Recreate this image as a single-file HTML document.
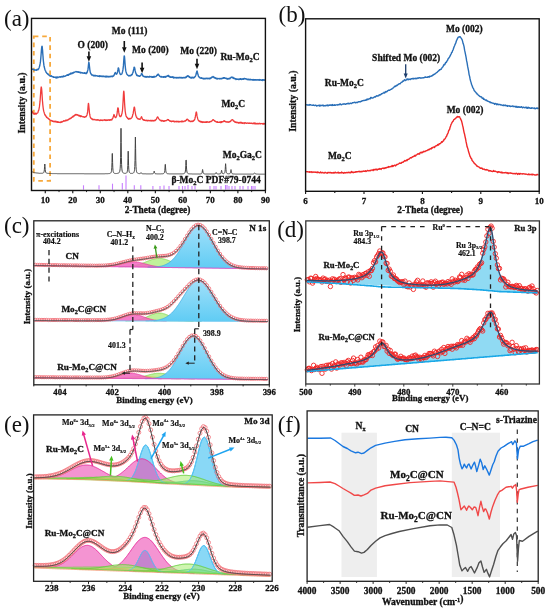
<!DOCTYPE html>
<html><head><meta charset="utf-8"><title>Figure</title>
<style>html,body{margin:0;padding:0;background:#fff;width:550px;height:613px;overflow:hidden}svg{display:block}text{font-family:"Liberation Serif",serif;font-weight:bold;stroke:#111;stroke-width:0.3px}</style>
</head><body>
<svg width="550" height="613" viewBox="0 0 550 613">
<defs><linearGradient id="gb" x1="0" y1="0" x2="0" y2="1"><stop offset="0" stop-color="#a2e0fa"/><stop offset="1" stop-color="#60ccf4"/></linearGradient>
<linearGradient id="gb2" x1="0" y1="0" x2="0" y2="1"><stop offset="0" stop-color="#a8e4fa"/><stop offset="1" stop-color="#62caf2"/></linearGradient></defs>
<rect width="550" height="613" fill="#fff"/>
<rect x="33.8" y="36.4" width="16.3" height="144.5" fill="none" stroke="#f7a93c" stroke-width="1.8" stroke-dasharray="4.6,3.8"/>
<path d="M32.0,171.7 32.2,171.8 32.4,171.9 32.6,172.0 32.8,172.1 33.0,172.1 33.2,172.2 33.4,172.3 33.6,172.4 33.8,172.5 34.0,172.6 34.2,172.6 34.4,172.6 34.6,172.7 34.8,172.7 35.0,172.7 35.2,172.7 35.4,172.8 35.6,172.8 35.8,172.8 36.0,172.8 36.2,172.9 36.4,172.9 36.6,172.9 36.8,173.0 37.0,173.0 37.2,173.0 37.4,173.0 37.6,173.1 37.8,173.1 38.0,173.1 38.2,173.1 38.4,173.2 38.6,173.2 38.8,173.2 39.0,173.2 39.2,173.3 39.4,173.3 39.6,173.3 39.8,173.3 40.0,173.3 40.2,173.3 40.4,173.3 40.6,173.3 40.8,173.3 41.0,173.3 41.2,173.3 41.4,173.3 41.6,173.3 41.8,173.3 42.0,173.3 42.2,173.3 42.4,173.2 42.6,173.2 42.8,173.2 43.0,173.1 43.2,173.0 43.4,172.9 43.6,172.7 43.8,172.4 44.0,171.9 44.2,171.0 44.4,169.3 44.6,166.3 44.8,164.0 45.0,166.3 45.2,169.4 45.4,171.1 45.6,172.0 45.8,172.4 46.0,172.7 46.2,172.9 46.4,173.1 46.6,173.2 46.8,173.2 47.0,173.3 47.2,173.3 47.4,173.3 47.6,173.4 47.8,173.4 48.0,173.4 48.2,173.4 48.4,173.4 48.6,173.4 48.8,173.5 49.0,173.5 49.2,173.5 49.4,173.5 49.6,173.5 49.8,173.5 50.0,173.5 50.2,173.5 50.4,173.5 50.6,173.5 50.8,173.5 51.0,173.5 51.2,173.5 51.4,173.5 51.6,173.5 51.8,173.6 52.0,173.6 52.2,173.6 52.4,173.6 52.6,173.6 52.8,173.6 53.0,173.6 53.2,173.6 53.4,173.6 53.6,173.6 53.8,173.6 54.0,173.6 54.2,173.6 54.4,173.6 54.6,173.6 54.8,173.6 55.0,173.6 55.2,173.6 55.4,173.6 55.6,173.6 55.8,173.6 56.0,173.6 56.2,173.6 56.4,173.6 56.6,173.6 56.8,173.6 57.0,173.6 57.2,173.6 57.4,173.7 57.6,173.7 57.8,173.7 58.0,173.7 58.2,173.7 58.4,173.7 58.6,173.7 58.8,173.7 59.0,173.7 59.2,173.7 59.4,173.7 59.6,173.7 59.8,173.7 60.0,173.7 60.2,173.7 60.4,173.7 60.6,173.7 60.8,173.7 61.0,173.7 61.2,173.7 61.4,173.7 61.6,173.7 61.8,173.7 62.0,173.7 62.2,173.7 62.4,173.7 62.6,173.7 62.8,173.7 63.0,173.7 63.2,173.7 63.4,173.7 63.6,173.7 63.8,173.7 64.0,173.7 64.2,173.7 64.4,173.7 64.6,173.7 64.8,173.7 65.0,173.7 65.2,173.7 65.4,173.7 65.6,173.7 65.8,173.7 66.0,173.7 66.2,173.7 66.4,173.7 66.6,173.7 66.8,173.7 67.0,173.7 67.2,173.7 67.4,173.7 67.6,173.7 67.8,173.7 68.0,173.7 68.2,173.7 68.4,173.7 68.6,173.7 68.8,173.7 69.0,173.7 69.2,173.7 69.4,173.7 69.6,173.7 69.8,173.7 70.0,173.7 70.2,173.7 70.4,173.7 70.6,173.7 70.8,173.7 71.0,173.7 71.2,173.7 71.4,173.7 71.6,173.7 71.8,173.7 72.0,173.7 72.2,173.7 72.4,173.7 72.6,173.7 72.8,173.7 73.0,173.7 73.2,173.7 73.4,173.7 73.6,173.7 73.8,173.7 74.0,173.7 74.2,173.7 74.4,173.7 74.6,173.7 74.8,173.7 75.0,173.7 75.2,173.7 75.4,173.7 75.6,173.7 75.8,173.7 76.0,173.7 76.2,173.7 76.4,173.7 76.6,173.7 76.8,173.7 77.0,173.7 77.2,173.7 77.4,173.7 77.6,173.7 77.8,173.7 78.0,173.7 78.2,173.7 78.4,173.7 78.6,173.7 78.8,173.7 79.0,173.7 79.2,173.7 79.4,173.7 79.6,173.7 79.8,173.7 80.0,173.7 80.2,173.7 80.4,173.7 80.6,173.7 80.8,173.7 81.0,173.7 81.2,173.7 81.4,173.7 81.6,173.7 81.8,173.7 82.0,173.7 82.2,173.7 82.4,173.7 82.6,173.7 82.8,173.7 83.0,173.7 83.2,173.7 83.4,173.7 83.6,173.7 83.8,173.7 84.0,173.7 84.2,173.7 84.4,173.8 84.6,173.8 84.8,173.8 85.0,173.8 85.2,173.8 85.4,173.8 85.6,173.8 85.8,173.8 86.0,173.8 86.2,173.8 86.4,173.8 86.6,173.8 86.8,173.8 87.0,173.8 87.2,173.8 87.4,173.8 87.6,173.8 87.8,173.8 88.0,173.8 88.2,173.8 88.4,173.8 88.6,173.8 88.8,173.8 89.0,173.8 89.2,173.8 89.4,173.8 89.6,173.8 89.8,173.8 90.0,173.8 90.2,173.8 90.4,173.8 90.6,173.8 90.8,173.8 91.0,173.8 91.2,173.8 91.4,173.8 91.6,173.8 91.8,173.8 92.0,173.8 92.2,173.8 92.4,173.8 92.6,173.8 92.8,173.8 93.0,173.8 93.2,173.8 93.4,173.8 93.6,173.8 93.8,173.8 94.0,173.8 94.2,173.8 94.4,173.8 94.6,173.8 94.8,173.8 95.0,173.8 95.2,173.8 95.4,173.8 95.6,173.8 95.8,173.8 96.0,173.8 96.2,173.8 96.4,173.8 96.6,173.8 96.8,173.8 97.0,173.8 97.2,173.8 97.4,173.8 97.6,173.8 97.8,173.8 98.0,173.8 98.2,173.8 98.4,173.8 98.6,173.8 98.8,173.8 99.0,173.8 99.2,173.8 99.4,173.8 99.6,173.8 99.8,173.8 100.0,173.8 100.2,173.8 100.4,173.8 100.6,173.8 100.8,173.8 101.0,173.8 101.2,173.8 101.4,173.8 101.6,173.8 101.8,173.8 102.0,173.8 102.2,173.8 102.4,173.8 102.6,173.8 102.8,173.8 103.0,173.8 103.2,173.8 103.4,173.8 103.6,173.8 103.8,173.8 104.0,173.8 104.2,173.8 104.4,173.8 104.6,173.8 104.8,173.7 105.0,173.7 105.2,173.7 105.4,173.7 105.6,173.7 105.8,173.7 106.0,173.7 106.2,173.7 106.4,173.7 106.6,173.7 106.8,173.7 107.0,173.7 107.2,173.7 107.4,173.7 107.6,173.7 107.8,173.7 108.0,173.7 108.2,173.7 108.4,173.6 108.6,173.6 108.8,173.6 109.0,173.6 109.2,173.6 109.4,173.5 109.6,173.5 109.8,173.5 110.0,173.4 110.2,173.3 110.4,173.2 110.6,173.1 110.8,172.9 111.0,172.6 111.2,172.2 111.4,171.5 111.6,170.3 111.8,167.8 112.0,162.5 112.2,153.5 112.4,153.5 112.6,162.5 112.8,167.8 113.0,170.3 113.2,171.5 113.4,172.2 113.6,172.6 113.8,172.9 114.0,173.0 114.2,173.2 114.4,173.3 114.6,173.3 114.8,173.4 115.0,173.4 115.2,173.5 115.4,173.5 115.6,173.5 115.8,173.5 116.0,173.5 116.2,173.5 116.4,173.5 116.6,173.5 116.8,173.5 117.0,173.5 117.2,173.4 117.4,173.4 117.6,173.4 117.8,173.3 118.0,173.3 118.2,173.2 118.4,173.2 118.6,173.1 118.8,172.9 119.0,172.8 119.2,172.5 119.4,172.2 119.6,171.8 119.8,171.1 120.0,170.0 120.2,168.2 120.4,164.7 120.6,157.4 120.8,142.3 121.0,128.3 121.2,142.3 121.4,157.4 121.6,164.7 121.8,168.1 122.0,170.0 122.2,171.1 122.4,171.8 122.6,172.2 122.8,172.5 123.0,172.7 123.2,172.9 123.4,173.0 123.6,173.1 123.8,173.2 124.0,173.2 124.2,173.3 124.4,173.3 124.6,173.3 124.8,173.4 125.0,173.4 125.2,173.4 125.4,173.3 125.6,173.3 125.8,173.3 126.0,173.2 126.2,173.2 126.4,173.1 126.6,172.9 126.8,172.7 127.0,172.4 127.2,171.8 127.4,170.9 127.6,169.2 127.8,165.6 128.0,158.1 128.2,151.2 128.4,158.1 128.6,165.6 128.8,169.2 129.0,170.9 129.2,171.9 129.4,172.4 129.6,172.7 129.8,172.9 130.0,173.1 130.2,173.2 130.4,173.3 130.6,173.3 130.8,173.4 131.0,173.4 131.2,173.4 131.4,173.4 131.6,173.4 131.8,173.4 132.0,173.4 132.2,173.4 132.4,173.4 132.6,173.3 132.8,173.3 133.0,173.2 133.2,173.1 133.4,173.0 133.6,172.8 133.8,172.5 134.0,172.2 134.2,171.6 134.4,170.8 134.6,169.3 134.8,166.4 135.0,160.6 135.2,148.3 135.4,137.0 135.6,148.3 135.8,160.6 136.0,166.5 136.2,169.3 136.4,170.8 136.6,171.7 136.8,172.2 137.0,172.6 137.2,172.8 137.4,173.0 137.6,173.2 137.8,173.3 138.0,173.3 138.2,173.4 138.4,173.5 138.6,173.5 138.8,173.5 139.0,173.6 139.2,173.6 139.4,173.6 139.6,173.6 139.8,173.6 140.0,173.5 140.2,173.5 140.4,173.4 140.6,173.1 140.8,172.8 141.0,172.6 141.2,172.8 141.4,173.2 141.6,173.4 141.8,173.5 142.0,173.6 142.2,173.7 142.4,173.7 142.6,173.7 142.8,173.8 143.0,173.8 143.2,173.8 143.4,173.8 143.6,173.8 143.8,173.8 144.0,173.8 144.2,173.8 144.4,173.8 144.6,173.8 144.8,173.8 145.0,173.8 145.2,173.8 145.4,173.8 145.6,173.8 145.8,173.8 146.0,173.8 146.2,173.8 146.4,173.9 146.6,173.9 146.8,173.9 147.0,173.9 147.2,173.9 147.4,173.9 147.6,173.9 147.8,173.9 148.0,173.9 148.2,173.9 148.4,173.9 148.6,173.9 148.8,173.9 149.0,173.9 149.2,173.9 149.4,173.9 149.6,173.9 149.8,173.9 150.0,173.9 150.2,173.9 150.4,173.9 150.6,173.9 150.8,173.9 151.0,173.9 151.2,173.9 151.4,173.8 151.6,173.8 151.8,173.8 152.0,173.8 152.2,173.8 152.4,173.8 152.6,173.8 152.8,173.7 153.0,173.7 153.2,173.6 153.4,173.4 153.6,173.2 153.8,172.7 154.0,171.8 154.2,171.1 154.4,171.8 154.6,172.7 154.8,173.2 155.0,173.5 155.2,173.6 155.4,173.7 155.6,173.7 155.8,173.8 156.0,173.8 156.2,173.8 156.4,173.8 156.6,173.8 156.8,173.9 157.0,173.9 157.2,173.9 157.4,173.9 157.6,173.9 157.8,173.9 158.0,173.9 158.2,173.9 158.4,173.9 158.6,173.9 158.8,173.9 159.0,173.9 159.2,173.9 159.4,173.9 159.6,173.9 159.8,173.9 160.0,173.9 160.2,173.9 160.4,173.9 160.6,173.9 160.8,173.9 161.0,173.9 161.2,173.9 161.4,173.8 161.6,173.8 161.8,173.8 162.0,173.8 162.2,173.8 162.4,173.8 162.6,173.8 162.8,173.7 163.0,173.7 163.2,173.7 163.4,173.6 163.6,173.5 163.8,173.4 164.0,173.2 164.2,173.0 164.4,172.6 164.6,171.9 164.8,170.6 165.0,168.0 165.2,164.4 165.4,164.4 165.6,168.0 165.8,170.6 166.0,171.9 166.2,172.6 166.4,173.0 166.6,173.2 166.8,173.4 167.0,173.5 167.2,173.6 167.4,173.7 167.6,173.7 167.8,173.7 168.0,173.8 168.2,173.8 168.4,173.8 168.6,173.8 168.8,173.8 169.0,173.9 169.2,173.9 169.4,173.9 169.6,173.9 169.8,173.9 170.0,173.9 170.2,173.9 170.4,173.9 170.6,173.9 170.8,173.9 171.0,173.9 171.2,173.9 171.4,173.9 171.6,173.9 171.8,173.9 172.0,173.9 172.2,173.9 172.4,173.9 172.6,173.9 172.8,173.9 173.0,173.9 173.2,173.9 173.4,173.9 173.6,173.9 173.8,173.9 174.0,173.9 174.2,173.9 174.4,173.9 174.6,173.9 174.8,173.9 175.0,173.9 175.2,173.9 175.4,173.9 175.6,173.9 175.8,173.9 176.0,173.9 176.2,173.9 176.4,173.9 176.6,173.9 176.8,173.9 177.0,173.9 177.2,173.9 177.4,173.9 177.6,173.9 177.8,173.9 178.0,173.9 178.2,173.9 178.4,173.9 178.6,173.9 178.8,173.9 179.0,173.9 179.2,173.9 179.4,173.9 179.6,173.9 179.8,173.9 180.0,173.9 180.2,173.9 180.4,173.9 180.6,173.9 180.8,173.9 181.0,173.9 181.2,173.9 181.4,173.9 181.6,173.9 181.8,173.9 182.0,173.9 182.2,173.9 182.4,173.9 182.6,173.8 182.8,173.8 183.0,173.8 183.2,173.8 183.4,173.7 183.6,173.7 183.8,173.7 184.0,173.6 184.2,173.5 184.4,173.4 184.6,173.2 184.8,173.0 185.0,172.6 185.2,172.0 185.4,171.0 185.6,169.1 185.8,165.3 186.0,160.1 186.2,160.1 186.4,165.4 186.6,169.1 186.8,171.0 187.0,172.0 187.2,172.6 187.4,173.0 187.6,173.2 187.8,173.4 188.0,173.5 188.2,173.6 188.4,173.7 188.6,173.7 188.8,173.8 189.0,173.8 189.2,173.8 189.4,173.8 189.6,173.9 189.8,173.9 190.0,173.9 190.2,173.9 190.4,173.9 190.6,173.9 190.8,173.9 191.0,173.9 191.2,173.9 191.4,173.9 191.6,173.9 191.8,174.0 192.0,174.0 192.2,174.0 192.4,174.0 192.6,174.0 192.8,174.0 193.0,174.0 193.2,174.0 193.4,174.0 193.6,174.0 193.8,174.0 194.0,174.0 194.2,174.0 194.4,174.0 194.6,174.0 194.8,174.0 195.0,174.0 195.2,174.0 195.4,174.0 195.6,174.0 195.8,174.0 196.0,174.0 196.2,174.0 196.4,174.0 196.6,174.0 196.8,174.0 197.0,174.0 197.2,174.0 197.4,174.0 197.6,174.0 197.8,174.0 198.0,174.0 198.2,174.0 198.4,174.0 198.6,174.0 198.8,174.0 199.0,174.0 199.2,174.0 199.4,174.0 199.6,174.0 199.8,174.0 200.0,173.9 200.2,173.9 200.4,173.9 200.6,173.9 200.8,173.9 201.0,173.8 201.2,173.8 201.4,173.7 201.6,173.5 201.8,173.3 202.0,172.9 202.2,172.1 202.4,170.6 202.6,169.5 202.8,170.6 203.0,172.1 203.2,172.9 203.4,173.3 203.6,173.5 203.8,173.7 204.0,173.8 204.2,173.8 204.4,173.9 204.6,173.9 204.8,173.9 205.0,173.9 205.2,174.0 205.4,174.0 205.6,174.0 205.8,174.0 206.0,174.0 206.2,174.0 206.4,174.0 206.6,174.0 206.8,174.0 207.0,174.0 207.2,174.0 207.4,174.0 207.6,174.0 207.8,174.0 208.0,174.0 208.2,174.0 208.4,174.0 208.6,174.0 208.8,174.0 209.0,174.0 209.2,174.0 209.4,174.0 209.6,174.0 209.8,174.0 210.0,174.0 210.2,174.0 210.4,174.0 210.6,174.0 210.8,174.0 211.0,174.0 211.2,174.0 211.4,174.0 211.6,174.0 211.8,174.0 212.0,174.0 212.2,174.0 212.4,174.0 212.6,174.0 212.8,174.0 213.0,174.0 213.2,174.0 213.4,174.0 213.6,174.0 213.8,174.0 214.0,174.0 214.2,174.0 214.4,174.0 214.6,173.9 214.8,173.9 215.0,173.9 215.2,173.8 215.4,173.7 215.6,173.5 215.8,173.1 216.0,172.6 216.2,172.6 216.4,173.1 216.6,173.5 216.8,173.7 217.0,173.8 217.2,173.9 217.4,173.9 217.6,173.9 217.8,173.9 218.0,174.0 218.2,174.0 218.4,174.0 218.6,174.0 218.8,174.0 219.0,174.0 219.2,173.9 219.4,173.9 219.6,173.9 219.8,173.9 220.0,173.9 220.2,173.8 220.4,173.7 220.6,173.6 220.8,173.4 221.0,173.1 221.2,172.4 221.4,171.2 221.6,170.3 221.8,171.2 222.0,172.4 222.2,173.0 222.4,173.4 222.6,173.5 222.8,173.6 223.0,173.7 223.2,173.7 223.4,173.7 223.6,173.7 223.8,173.6 224.0,173.5 224.2,173.4 224.4,173.2 224.6,172.9 224.8,172.4 225.0,171.4 225.2,169.6 225.4,166.3 225.6,163.7 225.8,166.3 226.0,169.6 226.2,171.4 226.4,172.4 226.6,172.9 226.8,173.2 227.0,173.4 227.2,173.6 227.4,173.7 227.6,173.7 227.8,173.8 228.0,173.8 228.2,173.8 228.4,173.8 228.6,173.8 228.8,173.8 229.0,173.8 229.2,173.8 229.4,173.7 229.6,173.7 229.8,173.6 230.0,173.4 230.2,173.1 230.4,172.7 230.6,171.8 230.8,170.5 231.0,169.6 231.2,170.5 231.4,171.8 231.6,172.7 231.8,173.2 232.0,173.5 232.2,173.6 232.4,173.7 232.6,173.8 232.8,173.9 233.0,173.9 233.2,173.9 233.4,174.0 233.6,174.0 233.8,174.0 234.0,174.0 234.2,174.0 234.4,174.0 234.6,174.0 234.8,174.1 235.0,174.1 235.2,174.1 235.4,174.1 235.6,174.1 235.8,174.1 236.0,174.1 236.2,174.1 236.4,174.1 236.6,174.1 236.8,174.1 237.0,174.1 237.2,174.1 237.4,174.1 237.6,174.1 237.8,174.1 238.0,174.1 238.2,174.1 238.4,174.1 238.6,174.1 238.8,174.1 239.0,174.1 239.2,174.1 239.4,174.1 239.6,174.1 239.8,174.1 240.0,174.1 240.2,174.1 240.4,174.1 240.6,174.1 240.8,174.1 241.0,174.1 241.2,174.1 241.4,174.1 241.6,174.1 241.8,174.1 242.0,174.1 242.2,174.1 242.4,174.1 242.6,174.1 242.8,174.1 243.0,174.1 243.2,174.1 243.4,174.1 243.6,174.1 243.8,174.1 244.0,174.1 244.2,174.1 244.4,174.1 244.6,174.1 244.8,174.1 245.0,174.1 245.2,174.1 245.4,174.1 245.6,174.1 245.8,174.1 246.0,174.1 246.2,174.1 246.4,174.1 246.6,174.1 246.8,174.1 247.0,174.1 247.2,174.1 247.4,174.1 247.6,174.1 247.8,174.1 248.0,174.1 248.2,174.1 248.4,174.1 248.6,174.1 248.8,174.1 249.0,174.1 249.2,174.1 249.4,174.1 249.6,174.1 249.8,174.1 250.0,174.1 250.2,174.1 250.4,174.1 250.6,174.1 250.8,174.1 251.0,174.1 251.2,174.1 251.4,174.1 251.6,174.1 251.8,174.1 252.0,174.1 252.2,174.1 252.4,174.1 252.6,174.1 252.8,174.1 253.0,174.0 253.2,174.0 253.4,174.0 253.6,173.9 253.8,173.8 254.0,173.7 254.2,173.5 254.4,173.2 254.6,173.0 254.8,173.0 255.0,173.2 255.2,173.5 255.4,173.7 255.6,173.8 255.8,173.9 256.0,174.0 256.2,174.0 256.4,174.0 256.6,174.1 256.8,174.1 257.0,174.1 257.2,174.1 257.4,174.1 257.6,174.1 257.8,174.1 258.0,174.1 258.2,174.1 258.4,174.1 258.6,174.2 258.8,174.2 259.0,174.2 259.2,174.2 259.4,174.2 259.6,174.2 259.8,174.2 260.0,174.2 260.2,174.2 260.4,174.2 260.6,174.2 260.8,174.2 261.0,174.2 261.2,174.2 261.4,174.2 261.6,174.2 261.8,174.2 262.0,174.2 262.2,174.2 262.4,174.2 262.6,174.2 262.8,174.2 263.0,174.2 263.2,174.2 263.4,174.2 263.6,174.2 263.8,174.2 264.0,174.2 264.2,174.2 264.4,174.2 264.6,174.2 264.8,174.2" fill="none" stroke="#444" stroke-width="1.0" stroke-linejoin="round" opacity="1"/>
<path d="M32.0,111.2 32.2,111.2 32.4,112.0 32.6,112.4 32.8,112.7 33.0,112.9 33.2,113.6 33.4,113.1 33.6,113.4 33.8,113.7 34.0,113.8 34.2,113.4 34.4,113.7 34.6,113.6 34.8,114.0 35.0,114.3 35.2,113.4 35.4,114.0 35.6,113.2 35.8,113.8 36.0,113.6 36.2,114.1 36.4,113.7 36.6,113.4 36.8,113.3 37.0,113.1 37.2,113.1 37.4,112.8 37.6,112.8 37.8,112.7 38.0,112.2 38.2,111.4 38.4,110.8 38.6,110.4 38.8,110.1 39.0,109.0 39.2,107.9 39.4,106.9 39.6,105.1 39.8,103.4 40.0,101.7 40.2,99.1 40.4,96.3 40.6,93.6 40.8,90.6 41.0,88.3 41.2,87.0 41.4,87.3 41.6,88.6 41.8,90.7 42.0,93.8 42.2,97.1 42.4,100.2 42.6,102.1 42.8,104.6 43.0,106.3 43.2,108.1 43.4,109.3 43.6,110.6 43.8,111.4 44.0,112.0 44.2,112.6 44.4,113.4 44.6,113.9 44.8,114.8 45.0,115.0 45.2,114.8 45.4,115.5 45.6,115.5 45.8,115.7 46.0,116.5 46.2,116.7 46.4,116.6 46.6,117.4 46.8,117.1 47.0,117.3 47.2,117.8 47.4,117.9 47.6,118.0 47.8,118.2 48.0,118.4 48.2,118.5 48.4,118.7 48.6,118.5 48.8,118.7 49.0,119.3 49.2,119.1 49.4,119.5 49.6,119.8 49.8,119.6 50.0,119.9 50.2,120.4 50.4,120.2 50.6,120.6 50.8,120.6 51.0,120.6 51.2,120.5 51.4,120.5 51.6,120.6 51.8,121.0 52.0,121.1 52.2,121.0 52.4,121.3 52.6,121.0 52.8,121.4 53.0,121.2 53.2,121.3 53.4,121.3 53.6,121.3 53.8,121.9 54.0,121.1 54.2,121.5 54.4,121.7 54.6,121.7 54.8,121.5 55.0,121.9 55.2,121.4 55.4,121.4 55.6,121.8 55.8,121.4 56.0,121.3 56.2,122.0 56.4,122.0 56.6,122.0 56.8,121.8 57.0,121.9 57.2,121.7 57.4,122.3 57.6,122.1 57.8,122.2 58.0,121.7 58.2,122.2 58.4,122.4 58.6,122.4 58.8,122.3 59.0,122.2 59.2,122.1 59.4,122.4 59.6,122.3 59.8,122.3 60.0,122.3 60.2,122.6 60.4,122.0 60.6,122.1 60.8,122.0 61.0,122.2 61.2,122.3 61.4,122.2 61.6,122.0 61.8,121.5 62.0,122.1 62.2,121.8 62.4,121.6 62.6,121.5 62.8,121.4 63.0,121.5 63.2,121.4 63.4,121.2 63.6,120.7 63.8,121.2 64.0,121.2 64.2,121.2 64.4,121.0 64.6,121.0 64.8,121.1 65.0,120.7 65.2,121.0 65.4,120.3 65.6,120.4 65.8,120.4 66.0,120.0 66.2,120.2 66.4,120.6 66.6,120.6 66.8,120.3 67.0,120.5 67.2,120.2 67.4,120.0 67.6,120.1 67.8,119.9 68.0,120.0 68.2,119.5 68.4,119.8 68.6,119.4 68.8,119.5 69.0,118.9 69.2,119.0 69.4,119.0 69.6,119.0 69.8,118.5 70.0,118.9 70.2,118.5 70.4,118.2 70.6,118.4 70.8,118.1 71.0,118.1 71.2,118.2 71.4,117.8 71.6,117.4 71.8,117.3 72.0,117.4 72.2,117.2 72.4,116.8 72.6,116.7 72.8,116.8 73.0,117.0 73.2,115.9 73.4,116.4 73.6,116.1 73.8,116.2 74.0,116.1 74.2,115.8 74.4,115.4 74.6,115.2 74.8,115.0 75.0,115.5 75.2,115.1 75.4,114.9 75.6,114.8 75.8,114.4 76.0,114.6 76.2,114.9 76.4,114.9 76.6,114.5 76.8,115.1 77.0,114.8 77.2,114.6 77.4,114.8 77.6,114.9 77.8,115.2 78.0,115.0 78.2,115.0 78.4,115.3 78.6,115.8 78.8,115.4 79.0,115.7 79.2,115.7 79.4,116.2 79.6,115.4 79.8,116.1 80.0,115.6 80.2,115.8 80.4,116.0 80.6,116.7 80.8,116.0 81.0,115.8 81.2,116.5 81.4,116.2 81.6,116.3 81.8,116.4 82.0,116.5 82.2,116.5 82.4,116.7 82.6,116.7 82.8,116.9 83.0,116.7 83.2,116.7 83.4,116.6 83.6,117.0 83.8,116.9 84.0,117.1 84.2,117.1 84.4,117.3 84.6,117.0 84.8,117.1 85.0,116.7 85.2,116.7 85.4,116.8 85.6,116.6 85.8,116.9 86.0,116.3 86.2,116.5 86.4,115.7 86.6,115.7 86.8,115.4 87.0,114.9 87.2,113.8 87.4,113.1 87.6,111.9 87.8,110.0 88.0,107.4 88.2,105.0 88.4,103.3 88.6,103.7 88.8,105.6 89.0,107.7 89.2,109.9 89.4,112.3 89.6,114.0 89.8,114.4 90.0,115.9 90.2,117.0 90.4,117.3 90.6,117.6 90.8,118.0 91.0,118.4 91.2,118.2 91.4,118.5 91.6,118.9 91.8,118.9 92.0,119.2 92.2,118.8 92.4,119.5 92.6,119.5 92.8,119.4 93.0,119.5 93.2,119.8 93.4,119.3 93.6,119.4 93.8,119.4 94.0,119.6 94.2,119.5 94.4,119.7 94.6,119.6 94.8,119.5 95.0,119.5 95.2,120.0 95.4,119.8 95.6,119.8 95.8,119.9 96.0,119.9 96.2,120.0 96.4,120.0 96.6,119.8 96.8,119.8 97.0,119.7 97.2,119.7 97.4,120.2 97.6,119.8 97.8,119.6 98.0,119.8 98.2,119.9 98.4,120.1 98.6,119.9 98.8,120.1 99.0,120.1 99.2,120.3 99.4,120.5 99.6,120.6 99.8,120.4 100.0,119.9 100.2,120.0 100.4,120.2 100.6,120.5 100.8,120.2 101.0,120.4 101.2,120.1 101.4,120.2 101.6,120.3 101.8,120.0 102.0,120.3 102.2,120.3 102.4,120.1 102.6,120.3 102.8,120.5 103.0,120.2 103.2,120.1 103.4,120.1 103.6,120.0 103.8,120.2 104.0,120.1 104.2,120.1 104.4,120.0 104.6,119.8 104.8,120.0 105.0,120.2 105.2,119.9 105.4,120.0 105.6,120.5 105.8,120.4 106.0,120.0 106.2,120.3 106.4,120.0 106.6,120.5 106.8,120.0 107.0,120.1 107.2,120.4 107.4,120.0 107.6,120.4 107.8,119.9 108.0,120.1 108.2,120.0 108.4,120.1 108.6,120.1 108.8,120.0 109.0,119.8 109.2,120.2 109.4,120.2 109.6,120.3 109.8,120.2 110.0,119.7 110.2,120.2 110.4,120.1 110.6,119.7 110.8,120.0 111.0,120.0 111.2,119.6 111.4,119.3 111.6,119.4 111.8,120.0 112.0,119.3 112.2,118.9 112.4,118.9 112.6,118.5 112.8,118.2 113.0,117.9 113.2,116.8 113.4,116.6 113.6,116.0 113.8,114.9 114.0,114.5 114.2,115.0 114.4,115.2 114.6,115.9 114.8,116.4 115.0,117.1 115.2,117.5 115.4,117.5 115.6,117.7 115.8,117.6 116.0,117.4 116.2,116.8 116.4,116.5 116.6,116.2 116.8,115.0 117.0,114.1 117.2,112.7 117.4,111.2 117.6,109.3 117.8,107.8 118.0,108.0 118.2,108.2 118.4,109.2 118.6,111.0 118.8,112.7 119.0,113.7 119.2,114.9 119.4,115.3 119.6,115.9 119.8,116.3 120.0,116.5 120.2,116.2 120.4,116.7 120.6,116.7 120.8,116.6 121.0,116.1 121.2,116.1 121.4,115.6 121.6,114.7 121.8,113.9 122.0,113.5 122.2,112.0 122.4,110.9 122.6,109.1 122.8,106.0 123.0,102.8 123.2,99.2 123.4,95.4 123.6,92.0 123.8,91.2 124.0,92.4 124.2,95.5 124.4,99.2 124.6,103.2 124.8,106.4 125.0,108.6 125.2,111.3 125.4,112.4 125.6,113.8 125.8,114.6 126.0,115.5 126.2,116.3 126.4,116.4 126.6,116.7 126.8,117.3 127.0,117.4 127.2,117.7 127.4,118.0 127.6,118.2 127.8,118.6 128.0,118.3 128.2,118.6 128.4,118.5 128.6,119.0 128.8,119.3 129.0,118.9 129.2,119.1 129.4,118.7 129.6,118.5 129.8,118.5 130.0,118.5 130.2,118.5 130.4,118.6 130.6,118.8 130.8,118.6 131.0,118.5 131.2,118.1 131.4,117.9 131.6,117.8 131.8,117.6 132.0,117.3 132.2,116.9 132.4,116.3 132.6,115.3 132.8,114.8 133.0,113.9 133.2,113.4 133.4,111.7 133.6,110.5 133.8,109.3 134.0,108.0 134.2,107.1 134.4,107.2 134.6,107.7 134.8,109.1 135.0,110.7 135.2,112.0 135.4,113.3 135.6,114.3 135.8,115.5 136.0,115.7 136.2,116.5 136.4,117.1 136.6,117.6 136.8,117.2 137.0,117.9 137.2,118.2 137.4,118.2 137.6,118.8 137.8,118.8 138.0,118.8 138.2,118.6 138.4,118.8 138.6,118.9 138.8,119.2 139.0,118.9 139.2,118.8 139.4,118.9 139.6,119.0 139.8,119.4 140.0,119.5 140.2,118.8 140.4,118.9 140.6,118.7 140.8,118.3 141.0,117.7 141.2,117.1 141.4,117.0 141.6,116.7 141.8,117.5 142.0,118.0 142.2,117.9 142.4,118.7 142.6,119.1 142.8,119.5 143.0,119.7 143.2,119.8 143.4,119.6 143.6,119.8 143.8,120.2 144.0,119.9 144.2,120.1 144.4,120.4 144.6,120.2 144.8,119.9 145.0,120.2 145.2,120.4 145.4,120.3 145.6,120.6 145.8,120.6 146.0,120.3 146.2,120.3 146.4,120.4 146.6,120.2 146.8,120.6 147.0,120.5 147.2,120.7 147.4,120.4 147.6,120.4 147.8,120.9 148.0,120.4 148.2,120.5 148.4,120.5 148.6,120.6 148.8,120.4 149.0,120.6 149.2,120.5 149.4,120.6 149.6,120.7 149.8,120.8 150.0,120.8 150.2,120.5 150.4,120.8 150.6,120.7 150.8,120.7 151.0,120.3 151.2,120.8 151.4,120.7 151.6,121.0 151.8,120.8 152.0,120.4 152.2,120.4 152.4,120.9 152.6,120.5 152.8,120.8 153.0,120.5 153.2,121.0 153.4,120.6 153.6,120.8 153.8,120.8 154.0,120.4 154.2,120.4 154.4,120.7 154.6,120.3 154.8,120.1 155.0,120.4 155.2,120.6 155.4,119.9 155.6,120.1 155.8,119.6 156.0,119.7 156.2,119.1 156.4,119.2 156.6,118.7 156.8,118.2 157.0,117.9 157.2,117.4 157.4,117.0 157.6,116.9 157.8,117.1 158.0,117.1 158.2,117.6 158.4,118.0 158.6,118.4 158.8,118.5 159.0,119.0 159.2,119.3 159.4,119.8 159.6,119.6 159.8,119.8 160.0,120.0 160.2,120.2 160.4,120.1 160.6,120.3 160.8,120.7 161.0,120.4 161.2,120.8 161.4,121.1 161.6,121.0 161.8,120.4 162.0,120.9 162.2,120.9 162.4,120.9 162.6,120.5 162.8,121.0 163.0,120.7 163.2,121.2 163.4,121.1 163.6,121.4 163.8,120.8 164.0,120.6 164.2,121.1 164.4,121.1 164.6,120.8 164.8,121.2 165.0,121.0 165.2,120.6 165.4,120.7 165.6,120.7 165.8,120.7 166.0,120.7 166.2,120.5 166.4,120.5 166.6,120.5 166.8,120.3 167.0,120.1 167.2,120.0 167.4,119.9 167.6,119.5 167.8,119.9 168.0,119.6 168.2,119.9 168.4,119.7 168.6,120.3 168.8,120.3 169.0,120.1 169.2,120.6 169.4,120.5 169.6,121.1 169.8,120.9 170.0,120.7 170.2,121.0 170.4,121.0 170.6,121.3 170.8,121.2 171.0,121.3 171.2,121.0 171.4,121.4 171.6,121.7 171.8,121.4 172.0,121.3 172.2,121.4 172.4,121.1 172.6,121.4 172.8,121.2 173.0,121.4 173.2,121.3 173.4,121.2 173.6,121.5 173.8,121.1 174.0,121.4 174.2,121.2 174.4,121.8 174.6,121.9 174.8,121.7 175.0,121.9 175.2,121.6 175.4,121.6 175.6,121.4 175.8,121.3 176.0,121.6 176.2,121.4 176.4,121.5 176.6,121.7 176.8,121.5 177.0,121.2 177.2,121.5 177.4,121.4 177.6,121.5 177.8,121.4 178.0,121.8 178.2,122.0 178.4,121.4 178.6,121.7 178.8,121.7 179.0,121.4 179.2,121.6 179.4,121.9 179.6,121.8 179.8,121.9 180.0,121.4 180.2,121.4 180.4,121.7 180.6,121.7 180.8,121.6 181.0,121.5 181.2,121.5 181.4,121.5 181.6,121.7 181.8,121.0 182.0,121.9 182.2,121.4 182.4,121.2 182.6,121.6 182.8,121.2 183.0,121.6 183.2,121.4 183.4,121.6 183.6,121.6 183.8,121.6 184.0,121.2 184.2,121.2 184.4,121.2 184.6,120.9 184.8,121.2 185.0,121.1 185.2,120.7 185.4,121.1 185.6,121.0 185.8,120.3 186.0,120.5 186.2,120.4 186.4,120.1 186.6,119.5 186.8,119.3 187.0,119.4 187.2,119.2 187.4,119.3 187.6,119.4 187.8,119.7 188.0,119.6 188.2,119.9 188.4,120.8 188.6,120.3 188.8,120.7 189.0,120.7 189.2,120.9 189.4,120.7 189.6,121.1 189.8,121.1 190.0,121.3 190.2,121.6 190.4,121.3 190.6,121.4 190.8,121.1 191.0,121.3 191.2,121.6 191.4,121.3 191.6,121.2 191.8,121.3 192.0,121.2 192.2,121.2 192.4,121.1 192.6,121.6 192.8,120.9 193.0,121.0 193.2,120.8 193.4,121.1 193.6,120.7 193.8,120.8 194.0,120.4 194.2,120.1 194.4,119.5 194.6,119.7 194.8,119.0 195.0,118.4 195.2,117.5 195.4,116.4 195.6,115.1 195.8,114.2 196.0,112.9 196.2,112.1 196.4,112.0 196.6,112.9 196.8,114.1 197.0,115.7 197.2,116.7 197.4,117.4 197.6,118.2 197.8,119.0 198.0,119.4 198.2,120.0 198.4,120.3 198.6,120.7 198.8,120.8 199.0,120.9 199.2,121.2 199.4,121.0 199.6,121.3 199.8,121.6 200.0,121.5 200.2,121.3 200.4,121.4 200.6,121.3 200.8,122.1 201.0,121.4 201.2,121.8 201.4,122.2 201.6,122.1 201.8,122.1 202.0,121.8 202.2,122.1 202.4,122.5 202.6,121.9 202.8,122.1 203.0,121.9 203.2,122.0 203.4,122.1 203.6,122.3 203.8,121.9 204.0,121.8 204.2,122.1 204.4,122.1 204.6,122.4 204.8,122.2 205.0,122.0 205.2,122.2 205.4,122.3 205.6,122.2 205.8,122.0 206.0,122.2 206.2,122.0 206.4,121.7 206.6,122.4 206.8,121.8 207.0,122.0 207.2,122.0 207.4,122.0 207.6,122.0 207.8,121.8 208.0,122.2 208.2,122.1 208.4,122.1 208.6,122.2 208.8,122.2 209.0,122.3 209.2,122.3 209.4,122.0 209.6,121.6 209.8,121.9 210.0,121.8 210.2,121.8 210.4,121.6 210.6,121.5 210.8,121.7 211.0,121.7 211.2,121.1 211.4,121.3 211.6,121.1 211.8,120.9 212.0,120.9 212.2,120.6 212.4,120.3 212.6,120.3 212.8,119.7 213.0,119.9 213.2,119.9 213.4,119.7 213.6,120.1 213.8,120.2 214.0,120.2 214.2,120.4 214.4,120.8 214.6,121.0 214.8,120.8 215.0,121.2 215.2,121.5 215.4,121.4 215.6,121.4 215.8,121.5 216.0,121.6 216.2,121.6 216.4,122.2 216.6,121.8 216.8,122.0 217.0,122.0 217.2,122.2 217.4,122.0 217.6,121.8 217.8,122.4 218.0,122.1 218.2,122.2 218.4,122.2 218.6,122.4 218.8,122.4 219.0,122.4 219.2,122.4 219.4,122.2 219.6,122.3 219.8,122.1 220.0,121.8 220.2,122.2 220.4,122.0 220.6,122.7 220.8,122.5 221.0,122.4 221.2,122.0 221.4,122.5 221.6,121.7 221.8,121.8 222.0,121.8 222.2,121.7 222.4,121.8 222.6,121.7 222.8,122.0 223.0,121.7 223.2,121.6 223.4,121.3 223.6,121.1 223.8,120.9 224.0,120.7 224.2,120.9 224.4,121.0 224.6,121.4 224.8,121.0 225.0,121.2 225.2,121.6 225.4,121.5 225.6,121.8 225.8,121.8 226.0,121.8 226.2,121.7 226.4,122.0 226.6,121.9 226.8,122.0 227.0,122.0 227.2,122.1 227.4,122.1 227.6,121.8 227.8,122.1 228.0,122.2 228.2,122.3 228.4,122.2 228.6,122.1 228.8,121.7 229.0,121.8 229.2,122.0 229.4,121.6 229.6,121.9 229.8,121.9 230.0,121.3 230.2,121.4 230.4,121.2 230.6,121.5 230.8,121.0 231.0,120.6 231.2,120.5 231.4,120.1 231.6,120.0 231.8,119.9 232.0,119.8 232.2,119.8 232.4,119.6 232.6,119.6 232.8,120.0 233.0,120.1 233.2,120.4 233.4,121.2 233.6,121.2 233.8,121.1 234.0,121.0 234.2,121.2 234.4,121.7 234.6,122.0 234.8,121.8 235.0,122.0 235.2,122.1 235.4,122.4 235.6,121.8 235.8,122.3 236.0,122.4 236.2,122.6 236.4,122.5 236.6,122.2 236.8,122.4 237.0,122.2 237.2,122.6 237.4,122.6 237.6,122.7 237.8,122.4 238.0,122.4 238.2,123.0 238.4,122.7 238.6,123.1 238.8,122.8 239.0,122.5 239.2,122.9 239.4,123.0 239.6,122.7 239.8,122.4 240.0,122.9 240.2,122.8 240.4,122.9 240.6,122.3 240.8,123.0 241.0,122.3 241.2,122.7 241.4,123.1 241.6,122.5 241.8,122.5 242.0,122.8 242.2,123.3 242.4,123.3 242.6,122.8 242.8,123.2 243.0,123.1 243.2,123.0 243.4,123.1 243.6,122.9 243.8,123.2 244.0,123.2 244.2,123.6 244.4,123.2 244.6,122.6 244.8,122.8 245.0,123.1 245.2,123.1 245.4,122.7 245.6,123.1 245.8,123.0 246.0,123.1 246.2,123.1 246.4,123.3 246.6,123.4 246.8,123.3 247.0,122.9 247.2,123.0 247.4,123.0 247.6,123.2 247.8,123.1 248.0,123.1 248.2,123.0 248.4,123.4 248.6,123.4 248.8,123.4 249.0,123.2 249.2,123.3 249.4,123.1 249.6,123.0 249.8,123.2 250.0,123.4 250.2,123.2 250.4,123.1 250.6,123.3 250.8,123.4 251.0,123.3 251.2,123.2 251.4,123.3 251.6,123.2 251.8,123.3 252.0,123.3 252.2,123.5 252.4,123.7 252.6,123.7 252.8,123.5 253.0,123.3 253.2,123.3 253.4,123.3 253.6,123.6 253.8,122.8 254.0,123.5 254.2,123.0 254.4,123.4 254.6,123.7 254.8,123.3 255.0,123.0 255.2,123.7 255.4,123.8 255.6,123.6 255.8,123.7 256.0,123.3 256.2,123.7 256.4,123.8 256.6,123.6 256.8,123.6 257.0,123.8 257.2,123.7 257.4,123.4 257.6,123.8 257.8,123.7 258.0,123.6 258.2,123.8 258.4,123.7 258.6,123.7 258.8,123.5 259.0,123.7 259.2,123.4 259.4,123.6 259.6,123.3 259.8,123.3 260.0,123.7 260.2,123.6 260.4,123.6 260.6,123.8 260.8,123.7 261.0,123.5 261.2,123.7 261.4,123.6 261.6,123.6 261.8,123.6 262.0,123.6 262.2,123.6 262.4,123.6 262.6,123.7 262.8,124.1 263.0,123.5 263.2,123.8 263.4,123.4 263.6,124.0 263.8,123.7 264.0,123.8 264.2,124.0 264.4,124.0 264.6,123.5 264.8,123.9" fill="none" stroke="#f03c3c" stroke-width="1.3" stroke-linejoin="round" opacity="1"/>
<path d="M32.0,68.9 32.2,69.1 32.4,69.1 32.6,68.9 32.8,69.4 33.0,69.4 33.2,69.3 33.4,69.6 33.6,69.6 33.8,69.7 34.0,69.7 34.2,69.9 34.4,69.7 34.6,69.9 34.8,69.9 35.0,70.2 35.2,70.1 35.4,70.0 35.6,69.9 35.8,70.0 36.0,70.1 36.2,70.0 36.4,70.3 36.6,70.2 36.8,69.4 37.0,69.5 37.2,69.8 37.4,69.6 37.6,69.6 37.8,69.5 38.0,69.7 38.2,68.9 38.4,68.8 38.6,69.0 38.8,68.4 39.0,68.1 39.2,67.4 39.4,66.6 39.6,66.3 39.8,65.5 40.0,64.2 40.2,63.2 40.4,61.9 40.6,60.0 40.8,58.1 41.0,55.8 41.2,53.3 41.4,50.5 41.6,48.4 41.8,46.8 42.0,46.2 42.2,46.6 42.4,48.7 42.6,50.9 42.8,53.9 43.0,56.2 43.2,59.1 43.4,61.0 43.6,62.6 43.8,64.3 44.0,65.7 44.2,66.8 44.4,67.5 44.6,68.2 44.8,69.2 45.0,69.6 45.2,70.3 45.4,70.9 45.6,70.8 45.8,71.6 46.0,72.2 46.2,72.2 46.4,72.4 46.6,72.9 46.8,73.1 47.0,73.5 47.2,73.4 47.4,73.4 47.6,73.9 47.8,74.0 48.0,74.4 48.2,74.5 48.4,74.3 48.6,74.5 48.8,75.1 49.0,75.2 49.2,75.1 49.4,75.4 49.6,75.6 49.8,75.7 50.0,76.0 50.2,75.9 50.4,75.9 50.6,76.0 50.8,76.3 51.0,75.7 51.2,76.2 51.4,76.3 51.6,76.1 51.8,76.5 52.0,76.3 52.2,76.7 52.4,76.6 52.6,76.8 52.8,76.9 53.0,76.8 53.2,76.6 53.4,76.6 53.6,77.3 53.8,77.0 54.0,76.9 54.2,77.1 54.4,77.1 54.6,77.4 54.8,77.3 55.0,77.3 55.2,77.2 55.4,77.5 55.6,77.2 55.8,77.6 56.0,77.9 56.2,77.2 56.4,77.0 56.6,77.6 56.8,78.0 57.0,77.2 57.2,77.1 57.4,77.5 57.6,77.2 57.8,77.2 58.0,77.2 58.2,77.4 58.4,77.1 58.6,77.2 58.8,77.1 59.0,77.0 59.2,77.0 59.4,76.9 59.6,77.0 59.8,76.8 60.0,76.8 60.2,77.2 60.4,76.9 60.6,76.9 60.8,77.0 61.0,76.8 61.2,76.8 61.4,76.9 61.6,76.8 61.8,76.5 62.0,76.9 62.2,76.5 62.4,76.4 62.6,76.4 62.8,76.5 63.0,76.9 63.2,76.3 63.4,76.5 63.6,76.0 63.8,76.4 64.0,76.6 64.2,76.3 64.4,76.1 64.6,76.2 64.8,76.2 65.0,76.1 65.2,76.3 65.4,75.9 65.6,75.6 65.8,75.7 66.0,75.6 66.2,75.6 66.4,75.4 66.6,75.4 66.8,75.0 67.0,75.4 67.2,75.0 67.4,74.8 67.6,75.1 67.8,75.2 68.0,74.9 68.2,74.8 68.4,74.5 68.6,75.2 68.8,74.7 69.0,74.2 69.2,74.2 69.4,74.3 69.6,73.9 69.8,74.2 70.0,74.0 70.2,74.2 70.4,74.1 70.6,73.3 70.8,73.7 71.0,73.3 71.2,73.8 71.4,73.5 71.6,73.5 71.8,73.1 72.0,73.6 72.2,73.6 72.4,72.9 72.6,73.1 72.8,72.8 73.0,72.9 73.2,72.5 73.4,73.1 73.6,72.4 73.8,72.5 74.0,72.6 74.2,72.3 74.4,72.3 74.6,72.1 74.8,72.1 75.0,71.9 75.2,71.9 75.4,71.9 75.6,71.8 75.8,71.8 76.0,71.6 76.2,71.9 76.4,71.7 76.6,71.8 76.8,71.7 77.0,71.8 77.2,71.7 77.4,72.1 77.6,71.8 77.8,71.9 78.0,72.2 78.2,72.2 78.4,72.1 78.6,71.8 78.8,72.3 79.0,72.4 79.2,72.1 79.4,72.5 79.6,72.3 79.8,72.2 80.0,72.5 80.2,72.5 80.4,72.6 80.6,72.3 80.8,73.0 81.0,72.6 81.2,72.4 81.4,72.9 81.6,72.7 81.8,72.9 82.0,72.8 82.2,72.9 82.4,73.0 82.6,72.8 82.8,73.1 83.0,72.9 83.2,72.9 83.4,73.1 83.6,73.2 83.8,73.1 84.0,72.9 84.2,73.3 84.4,72.8 84.6,73.0 84.8,73.2 85.0,73.0 85.2,73.2 85.4,73.2 85.6,73.4 85.8,73.0 86.0,73.0 86.2,73.1 86.4,72.5 86.6,73.5 86.8,72.5 87.0,72.3 87.2,72.3 87.4,71.6 87.6,70.7 87.8,70.3 88.0,69.2 88.2,67.5 88.4,65.7 88.6,63.9 88.8,62.3 89.0,62.7 89.2,64.0 89.4,65.9 89.6,67.7 89.8,69.5 90.0,70.7 90.2,72.0 90.4,72.5 90.6,73.2 90.8,73.5 91.0,73.9 91.2,74.0 91.4,74.5 91.6,75.0 91.8,74.7 92.0,74.8 92.2,75.0 92.4,75.0 92.6,75.1 92.8,75.3 93.0,75.3 93.2,75.7 93.4,75.5 93.6,75.6 93.8,75.7 94.0,75.5 94.2,75.9 94.4,75.5 94.6,75.5 94.8,75.6 95.0,75.7 95.2,75.5 95.4,75.8 95.6,75.5 95.8,76.1 96.0,75.9 96.2,75.8 96.4,75.7 96.6,75.9 96.8,75.9 97.0,75.8 97.2,75.8 97.4,76.0 97.6,75.9 97.8,76.2 98.0,76.3 98.2,76.1 98.4,76.2 98.6,75.9 98.8,76.3 99.0,76.2 99.2,76.3 99.4,76.5 99.6,75.8 99.8,76.3 100.0,76.0 100.2,76.4 100.4,76.0 100.6,76.2 100.8,76.3 101.0,76.4 101.2,76.3 101.4,76.2 101.6,76.2 101.8,76.5 102.0,76.3 102.2,76.0 102.4,76.5 102.6,76.5 102.8,76.6 103.0,76.3 103.2,76.6 103.4,76.2 103.6,76.5 103.8,76.3 104.0,76.6 104.2,76.6 104.4,76.3 104.6,76.4 104.8,76.5 105.0,76.7 105.2,76.6 105.4,76.2 105.6,76.6 105.8,76.7 106.0,76.9 106.2,76.2 106.4,76.4 106.6,76.8 106.8,76.3 107.0,76.3 107.2,76.6 107.4,76.8 107.6,76.4 107.8,76.7 108.0,76.6 108.2,76.9 108.4,76.6 108.6,76.8 108.8,76.4 109.0,76.5 109.2,76.6 109.4,76.8 109.6,76.7 109.8,76.4 110.0,76.7 110.2,76.7 110.4,76.5 110.6,76.5 110.8,76.5 111.0,76.2 111.2,76.6 111.4,76.6 111.6,76.3 111.8,76.6 112.0,76.2 112.2,76.3 112.4,76.3 112.6,76.7 112.8,75.9 113.0,76.3 113.2,76.2 113.4,76.0 113.6,76.0 113.8,75.4 114.0,74.9 114.2,75.2 114.4,74.3 114.6,74.0 114.8,73.2 115.0,73.1 115.2,72.8 115.4,72.6 115.6,73.3 115.8,73.5 116.0,73.8 116.2,74.1 116.4,74.1 116.6,74.2 116.8,73.9 117.0,73.4 117.2,73.2 117.4,72.2 117.6,71.5 117.8,70.4 118.0,69.4 118.2,68.0 118.4,68.0 118.6,68.1 118.8,69.0 119.0,70.1 119.2,71.4 119.4,72.2 119.6,72.7 119.8,73.2 120.0,73.7 120.2,73.9 120.4,74.4 120.6,74.6 120.8,74.5 121.0,74.4 121.2,74.1 121.4,74.1 121.6,74.1 121.8,74.1 122.0,73.5 122.2,72.8 122.4,72.2 122.6,71.4 122.8,70.3 123.0,69.2 123.2,67.6 123.4,65.9 123.6,63.0 123.8,60.4 124.0,57.9 124.2,55.9 124.4,56.2 124.6,57.7 124.8,60.1 125.0,63.1 125.2,65.6 125.4,67.6 125.6,69.3 125.8,70.7 126.0,71.7 126.2,72.3 126.4,73.1 126.6,73.3 126.8,74.0 127.0,74.4 127.2,74.6 127.4,74.8 127.6,75.1 127.8,75.0 128.0,75.2 128.2,75.4 128.4,75.6 128.6,75.6 128.8,76.1 129.0,75.6 129.2,75.8 129.4,75.9 129.6,75.6 129.8,75.5 130.0,75.4 130.2,75.7 130.4,75.8 130.6,75.6 130.8,75.5 131.0,75.3 131.2,75.4 131.4,74.7 131.6,75.0 131.8,74.8 132.0,74.3 132.2,74.7 132.4,73.7 132.6,73.3 132.8,72.7 133.0,72.5 133.2,71.4 133.4,70.8 133.6,69.7 133.8,68.7 134.0,67.5 134.2,67.2 134.4,67.7 134.6,67.6 134.8,68.5 135.0,69.7 135.2,70.9 135.4,71.7 135.6,72.6 135.8,72.9 136.0,73.8 136.2,74.2 136.4,74.1 136.6,75.1 136.8,75.5 137.0,75.1 137.2,75.4 137.4,75.8 137.6,75.4 137.8,75.4 138.0,75.6 138.2,75.8 138.4,75.9 138.6,76.1 138.8,76.1 139.0,75.8 139.2,76.2 139.4,76.4 139.6,76.3 139.8,76.2 140.0,75.9 140.2,76.0 140.4,75.5 140.6,75.6 140.8,75.2 141.0,75.0 141.2,74.5 141.4,73.8 141.6,73.8 141.8,74.0 142.0,73.8 142.2,74.4 142.4,74.8 142.6,75.0 142.8,75.8 143.0,76.1 143.2,76.2 143.4,76.2 143.6,76.3 143.8,76.5 144.0,76.3 144.2,76.7 144.4,76.8 144.6,76.8 144.8,76.6 145.0,76.7 145.2,76.7 145.4,77.1 145.6,76.8 145.8,76.4 146.0,76.9 146.2,77.2 146.4,77.0 146.6,77.0 146.8,76.9 147.0,76.5 147.2,76.5 147.4,76.7 147.6,76.9 147.8,77.0 148.0,77.1 148.2,76.9 148.4,77.1 148.6,76.9 148.8,76.8 149.0,77.1 149.2,76.8 149.4,76.4 149.6,76.7 149.8,77.0 150.0,76.3 150.2,76.9 150.4,76.9 150.6,76.7 150.8,76.7 151.0,76.9 151.2,76.9 151.4,77.2 151.6,77.0 151.8,76.6 152.0,76.8 152.2,77.1 152.4,77.3 152.6,77.0 152.8,77.0 153.0,77.3 153.2,76.9 153.4,76.8 153.6,76.6 153.8,76.8 154.0,77.3 154.2,76.5 154.4,76.8 154.6,76.5 154.8,76.7 155.0,76.8 155.2,76.6 155.4,76.7 155.6,76.6 155.8,76.4 156.0,76.6 156.2,76.3 156.4,75.9 156.6,75.6 156.8,75.3 157.0,75.4 157.2,74.9 157.4,75.3 157.6,74.9 157.8,74.3 158.0,74.2 158.2,74.7 158.4,74.1 158.6,74.7 158.8,75.2 159.0,75.1 159.2,75.5 159.4,75.7 159.6,76.1 159.8,76.2 160.0,76.4 160.2,76.6 160.4,76.6 160.6,76.9 160.8,76.6 161.0,76.5 161.2,76.5 161.4,76.6 161.6,76.8 161.8,77.2 162.0,77.0 162.2,76.9 162.4,76.8 162.6,76.9 162.8,77.0 163.0,77.0 163.2,76.8 163.4,77.0 163.6,77.3 163.8,76.7 164.0,77.0 164.2,76.7 164.4,77.1 164.6,76.9 164.8,76.6 165.0,77.0 165.2,77.3 165.4,77.0 165.6,77.1 165.8,76.8 166.0,76.3 166.2,76.8 166.4,76.5 166.6,76.2 166.8,76.5 167.0,76.3 167.2,76.0 167.4,76.1 167.6,75.6 167.8,75.9 168.0,75.5 168.2,75.8 168.4,75.6 168.6,76.3 168.8,76.2 169.0,76.6 169.2,76.3 169.4,76.5 169.6,76.9 169.8,76.3 170.0,76.7 170.2,77.2 170.4,77.2 170.6,77.3 170.8,77.1 171.0,77.3 171.2,77.1 171.4,77.0 171.6,77.0 171.8,77.3 172.0,77.3 172.2,77.3 172.4,76.7 172.6,77.1 172.8,77.4 173.0,77.6 173.2,77.4 173.4,77.3 173.6,77.1 173.8,78.0 174.0,77.3 174.2,77.9 174.4,77.9 174.6,77.6 174.8,77.5 175.0,77.6 175.2,77.4 175.4,77.7 175.6,77.6 175.8,77.7 176.0,77.8 176.2,78.0 176.4,77.6 176.6,77.9 176.8,77.5 177.0,77.5 177.2,77.6 177.4,77.5 177.6,77.9 177.8,77.9 178.0,78.0 178.2,77.7 178.4,77.8 178.6,77.6 178.8,77.5 179.0,77.8 179.2,77.8 179.4,77.5 179.6,77.8 179.8,77.4 180.0,77.7 180.2,77.6 180.4,77.6 180.6,77.5 180.8,77.9 181.0,77.9 181.2,78.0 181.4,77.8 181.6,77.5 181.8,77.7 182.0,77.5 182.2,77.8 182.4,78.0 182.6,77.8 182.8,77.6 183.0,77.7 183.2,77.8 183.4,77.4 183.6,77.7 183.8,77.7 184.0,77.6 184.2,77.6 184.4,77.7 184.6,77.5 184.8,77.4 185.0,77.7 185.2,77.6 185.4,77.8 185.6,77.2 185.8,77.0 186.0,77.5 186.2,77.4 186.4,76.9 186.6,76.6 186.8,76.8 187.0,76.3 187.2,76.4 187.4,75.9 187.6,76.1 187.8,75.6 188.0,76.0 188.2,76.4 188.4,76.1 188.6,76.5 188.8,76.3 189.0,76.5 189.2,76.5 189.4,77.2 189.6,77.1 189.8,77.5 190.0,77.1 190.2,77.4 190.4,77.5 190.6,77.8 190.8,77.9 191.0,77.5 191.2,77.4 191.4,77.3 191.6,78.0 191.8,77.7 192.0,77.6 192.2,77.7 192.4,77.2 192.6,77.4 192.8,77.9 193.0,77.8 193.2,77.7 193.4,77.4 193.6,77.7 193.8,77.9 194.0,77.2 194.2,77.4 194.4,77.2 194.6,77.2 194.8,77.0 195.0,76.8 195.2,76.4 195.4,76.2 195.6,75.7 195.8,75.3 196.0,74.6 196.2,74.0 196.4,72.8 196.6,72.0 196.8,71.5 197.0,71.0 197.2,71.3 197.4,72.2 197.6,73.1 197.8,73.9 198.0,74.8 198.2,75.2 198.4,76.0 198.6,76.6 198.8,76.8 199.0,76.7 199.2,77.2 199.4,77.2 199.6,77.5 199.8,77.7 200.0,77.5 200.2,78.1 200.4,77.9 200.6,78.1 200.8,78.1 201.0,78.3 201.2,78.3 201.4,77.8 201.6,78.2 201.8,77.8 202.0,78.1 202.2,78.4 202.4,78.5 202.6,78.6 202.8,78.3 203.0,78.4 203.2,78.4 203.4,78.6 203.6,78.7 203.8,78.3 204.0,79.2 204.2,78.4 204.4,78.4 204.6,78.6 204.8,78.6 205.0,78.6 205.2,78.3 205.4,78.8 205.6,78.5 205.8,78.8 206.0,78.8 206.2,78.2 206.4,78.3 206.6,78.3 206.8,78.6 207.0,78.5 207.2,78.6 207.4,78.3 207.6,78.6 207.8,78.8 208.0,78.2 208.2,78.4 208.4,78.5 208.6,78.4 208.8,78.4 209.0,78.8 209.2,78.7 209.4,78.5 209.6,78.2 209.8,78.8 210.0,78.3 210.2,78.1 210.4,78.1 210.6,78.0 210.8,78.4 211.0,78.0 211.2,77.8 211.4,77.3 211.6,77.7 211.8,77.2 212.0,77.1 212.2,77.3 212.4,76.9 212.6,77.1 212.8,77.1 213.0,76.5 213.2,76.9 213.4,76.7 213.6,77.1 213.8,77.4 214.0,77.1 214.2,77.9 214.4,77.6 214.6,77.5 214.8,77.9 215.0,78.2 215.2,77.8 215.4,78.2 215.6,78.0 215.8,78.6 216.0,78.4 216.2,78.3 216.4,78.7 216.6,78.3 216.8,78.5 217.0,79.0 217.2,78.6 217.4,78.9 217.6,78.7 217.8,78.5 218.0,78.6 218.2,78.7 218.4,78.6 218.6,78.6 218.8,78.6 219.0,78.4 219.2,78.8 219.4,78.8 219.6,78.9 219.8,78.4 220.0,78.9 220.2,78.7 220.4,78.5 220.6,78.7 220.8,78.9 221.0,78.8 221.2,78.8 221.4,78.8 221.6,78.8 221.8,78.6 222.0,78.1 222.2,78.3 222.4,78.5 222.6,78.2 222.8,78.4 223.0,78.3 223.2,78.1 223.4,78.3 223.6,77.7 223.8,78.0 224.0,77.7 224.2,77.7 224.4,78.0 224.6,77.8 224.8,78.2 225.0,77.9 225.2,78.3 225.4,78.2 225.6,78.4 225.8,78.4 226.0,78.3 226.2,78.7 226.4,78.4 226.6,78.5 226.8,78.9 227.0,78.9 227.2,78.9 227.4,78.8 227.6,79.2 227.8,78.5 228.0,78.6 228.2,78.5 228.4,78.9 228.6,78.7 228.8,78.9 229.0,78.8 229.2,78.5 229.4,78.3 229.6,78.2 229.8,78.8 230.0,78.5 230.2,78.3 230.4,78.0 230.6,77.9 230.8,77.8 231.0,77.6 231.2,77.1 231.4,77.4 231.6,77.3 231.8,77.3 232.0,77.3 232.2,77.5 232.4,77.4 232.6,77.6 232.8,77.1 233.0,77.5 233.2,78.2 233.4,77.8 233.6,78.1 233.8,78.4 234.0,78.2 234.2,78.7 234.4,78.3 234.6,78.3 234.8,78.5 235.0,78.5 235.2,78.8 235.4,78.8 235.6,79.0 235.8,78.8 236.0,79.5 236.2,79.0 236.4,79.1 236.6,79.2 236.8,79.1 237.0,79.0 237.2,79.2 237.4,79.4 237.6,79.3 237.8,79.4 238.0,79.1 238.2,79.1 238.4,79.6 238.6,79.2 238.8,79.3 239.0,79.4 239.2,79.6 239.4,79.0 239.6,79.2 239.8,79.2 240.0,79.2 240.2,78.8 240.4,79.3 240.6,78.7 240.8,79.4 241.0,79.4 241.2,79.4 241.4,79.0 241.6,79.5 241.8,79.1 242.0,79.0 242.2,79.0 242.4,79.1 242.6,79.2 242.8,79.3 243.0,78.7 243.2,79.0 243.4,79.2 243.6,79.0 243.8,79.0 244.0,78.5 244.2,78.9 244.4,78.4 244.6,78.7 244.8,78.8 245.0,78.9 245.2,78.7 245.4,78.8 245.6,78.6 245.8,78.7 246.0,79.1 246.2,79.0 246.4,79.0 246.6,78.9 246.8,79.2 247.0,79.4 247.2,79.1 247.4,79.2 247.6,79.7 247.8,79.5 248.0,79.4 248.2,79.2 248.4,79.4 248.6,79.5 248.8,79.8 249.0,79.4 249.2,79.9 249.4,79.4 249.6,79.5 249.8,79.8 250.0,79.6 250.2,79.5 250.4,79.6 250.6,79.7 250.8,79.3 251.0,79.6 251.2,79.7 251.4,79.6 251.6,79.8 251.8,79.6 252.0,79.6 252.2,79.7 252.4,79.9 252.6,79.7 252.8,80.0 253.0,79.6 253.2,80.0 253.4,79.6 253.6,79.7 253.8,79.8 254.0,80.2 254.2,80.0 254.4,79.7 254.6,80.1 254.8,79.8 255.0,79.7 255.2,79.9 255.4,79.8 255.6,80.0 255.8,79.7 256.0,79.9 256.2,80.0 256.4,79.9 256.6,79.9 256.8,79.7 257.0,80.0 257.2,79.9 257.4,80.0 257.6,79.8 257.8,79.9 258.0,79.7 258.2,79.9 258.4,80.1 258.6,79.9 258.8,80.1 259.0,80.0 259.2,80.2 259.4,79.9 259.6,79.6 259.8,80.0 260.0,79.9 260.2,79.8 260.4,80.1 260.6,80.0 260.8,80.1 261.0,79.9 261.2,80.0 261.4,80.0 261.6,80.3 261.8,79.9 262.0,80.0 262.2,80.1 262.4,79.7 262.6,79.7 262.8,80.5 263.0,79.7 263.2,80.1 263.4,79.9 263.6,79.9 263.8,79.7 264.0,79.9 264.2,80.2 264.4,79.8 264.6,80.2 264.8,80.1" fill="none" stroke="#2a6fb8" stroke-width="1.4" stroke-linejoin="round" opacity="1"/>
<line x1="83.50" y1="185.30" x2="83.50" y2="189.60" stroke="#c77dff" stroke-width="1.1" stroke-linecap="butt"/>
<line x1="99.00" y1="185.30" x2="99.00" y2="189.60" stroke="#c77dff" stroke-width="1.1" stroke-linecap="butt"/>
<line x1="112.50" y1="183.70" x2="112.50" y2="189.60" stroke="#c77dff" stroke-width="1.1" stroke-linecap="butt"/>
<line x1="122.30" y1="183.00" x2="122.30" y2="189.60" stroke="#c77dff" stroke-width="1.1" stroke-linecap="butt"/>
<line x1="126.00" y1="175.50" x2="126.00" y2="189.60" stroke="#c77dff" stroke-width="1.1" stroke-linecap="butt"/>
<line x1="134.30" y1="185.30" x2="134.30" y2="189.60" stroke="#c77dff" stroke-width="1.1" stroke-linecap="butt"/>
<line x1="140.80" y1="185.30" x2="140.80" y2="189.60" stroke="#c77dff" stroke-width="1.1" stroke-linecap="butt"/>
<line x1="152.90" y1="186.00" x2="152.90" y2="189.60" stroke="#c77dff" stroke-width="1.1" stroke-linecap="butt"/>
<line x1="160.00" y1="186.00" x2="160.00" y2="189.60" stroke="#c77dff" stroke-width="1.1" stroke-linecap="butt"/>
<line x1="164.00" y1="185.50" x2="164.00" y2="189.60" stroke="#c77dff" stroke-width="1.1" stroke-linecap="butt"/>
<line x1="169.00" y1="186.00" x2="169.00" y2="189.60" stroke="#c77dff" stroke-width="1.1" stroke-linecap="butt"/>
<line x1="179.00" y1="186.00" x2="179.00" y2="189.60" stroke="#c77dff" stroke-width="1.1" stroke-linecap="butt"/>
<line x1="182.50" y1="186.00" x2="182.50" y2="189.60" stroke="#c77dff" stroke-width="1.1" stroke-linecap="butt"/>
<line x1="185.00" y1="186.00" x2="185.00" y2="189.60" stroke="#c77dff" stroke-width="1.1" stroke-linecap="butt"/>
<line x1="188.00" y1="185.00" x2="188.00" y2="189.60" stroke="#c77dff" stroke-width="1.1" stroke-linecap="butt"/>
<line x1="192.00" y1="186.00" x2="192.00" y2="189.60" stroke="#c77dff" stroke-width="1.1" stroke-linecap="butt"/>
<line x1="195.00" y1="186.00" x2="195.00" y2="189.60" stroke="#c77dff" stroke-width="1.1" stroke-linecap="butt"/>
<line x1="210.00" y1="186.00" x2="210.00" y2="189.60" stroke="#c77dff" stroke-width="1.1" stroke-linecap="butt"/>
<line x1="214.00" y1="186.00" x2="214.00" y2="189.60" stroke="#c77dff" stroke-width="1.1" stroke-linecap="butt"/>
<line x1="216.00" y1="186.00" x2="216.00" y2="189.60" stroke="#c77dff" stroke-width="1.1" stroke-linecap="butt"/>
<line x1="221.00" y1="186.00" x2="221.00" y2="189.60" stroke="#c77dff" stroke-width="1.1" stroke-linecap="butt"/>
<line x1="225.50" y1="185.00" x2="225.50" y2="189.60" stroke="#c77dff" stroke-width="1.1" stroke-linecap="butt"/>
<line x1="227.00" y1="185.00" x2="227.00" y2="189.60" stroke="#c77dff" stroke-width="1.1" stroke-linecap="butt"/>
<line x1="229.00" y1="186.00" x2="229.00" y2="189.60" stroke="#c77dff" stroke-width="1.1" stroke-linecap="butt"/>
<line x1="232.00" y1="186.00" x2="232.00" y2="189.60" stroke="#c77dff" stroke-width="1.1" stroke-linecap="butt"/>
<line x1="235.00" y1="186.00" x2="235.00" y2="189.60" stroke="#c77dff" stroke-width="1.1" stroke-linecap="butt"/>
<line x1="240.00" y1="186.00" x2="240.00" y2="189.60" stroke="#c77dff" stroke-width="1.1" stroke-linecap="butt"/>
<line x1="243.00" y1="186.00" x2="243.00" y2="189.60" stroke="#c77dff" stroke-width="1.1" stroke-linecap="butt"/>
<line x1="248.00" y1="186.00" x2="248.00" y2="189.60" stroke="#c77dff" stroke-width="1.1" stroke-linecap="butt"/>
<line x1="251.50" y1="186.00" x2="251.50" y2="189.60" stroke="#c77dff" stroke-width="1.1" stroke-linecap="butt"/>
<line x1="253.00" y1="186.00" x2="253.00" y2="189.60" stroke="#c77dff" stroke-width="1.1" stroke-linecap="butt"/>
<line x1="255.00" y1="186.00" x2="255.00" y2="189.60" stroke="#c77dff" stroke-width="1.1" stroke-linecap="butt"/>
<rect x="31.5" y="18.4" width="233.90" height="172.10" fill="none" stroke="#111" stroke-width="1.4"/>
<line x1="45.26" y1="190.50" x2="45.26" y2="193.30" stroke="#111" stroke-width="1.1" stroke-linecap="butt"/>
<text x="45.26" y="203.30" font-size="9" text-anchor="middle" fill="#111" style="stroke-width:0.3px">10</text>
<line x1="72.78" y1="190.50" x2="72.78" y2="193.30" stroke="#111" stroke-width="1.1" stroke-linecap="butt"/>
<text x="72.78" y="203.30" font-size="9" text-anchor="middle" fill="#111" style="stroke-width:0.3px">20</text>
<line x1="100.29" y1="190.50" x2="100.29" y2="193.30" stroke="#111" stroke-width="1.1" stroke-linecap="butt"/>
<text x="100.29" y="203.30" font-size="9" text-anchor="middle" fill="#111" style="stroke-width:0.3px">30</text>
<line x1="127.81" y1="190.50" x2="127.81" y2="193.30" stroke="#111" stroke-width="1.1" stroke-linecap="butt"/>
<text x="127.81" y="203.30" font-size="9" text-anchor="middle" fill="#111" style="stroke-width:0.3px">40</text>
<line x1="155.33" y1="190.50" x2="155.33" y2="193.30" stroke="#111" stroke-width="1.1" stroke-linecap="butt"/>
<text x="155.33" y="203.30" font-size="9" text-anchor="middle" fill="#111" style="stroke-width:0.3px">50</text>
<line x1="182.85" y1="190.50" x2="182.85" y2="193.30" stroke="#111" stroke-width="1.1" stroke-linecap="butt"/>
<text x="182.85" y="203.30" font-size="9" text-anchor="middle" fill="#111" style="stroke-width:0.3px">60</text>
<line x1="210.36" y1="190.50" x2="210.36" y2="193.30" stroke="#111" stroke-width="1.1" stroke-linecap="butt"/>
<text x="210.36" y="203.30" font-size="9" text-anchor="middle" fill="#111" style="stroke-width:0.3px">70</text>
<line x1="237.88" y1="190.50" x2="237.88" y2="193.30" stroke="#111" stroke-width="1.1" stroke-linecap="butt"/>
<text x="237.88" y="203.30" font-size="9" text-anchor="middle" fill="#111" style="stroke-width:0.3px">80</text>
<line x1="265.40" y1="190.50" x2="265.40" y2="193.30" stroke="#111" stroke-width="1.1" stroke-linecap="butt"/>
<text x="265.40" y="203.30" font-size="9" text-anchor="middle" fill="#111" style="stroke-width:0.3px">90</text>
<line x1="59.02" y1="190.50" x2="59.02" y2="192.10" stroke="#111" stroke-width="0.9" stroke-linecap="butt"/>
<line x1="86.54" y1="190.50" x2="86.54" y2="192.10" stroke="#111" stroke-width="0.9" stroke-linecap="butt"/>
<line x1="114.05" y1="190.50" x2="114.05" y2="192.10" stroke="#111" stroke-width="0.9" stroke-linecap="butt"/>
<line x1="141.57" y1="190.50" x2="141.57" y2="192.10" stroke="#111" stroke-width="0.9" stroke-linecap="butt"/>
<line x1="169.09" y1="190.50" x2="169.09" y2="192.10" stroke="#111" stroke-width="0.9" stroke-linecap="butt"/>
<line x1="196.61" y1="190.50" x2="196.61" y2="192.10" stroke="#111" stroke-width="0.9" stroke-linecap="butt"/>
<line x1="224.12" y1="190.50" x2="224.12" y2="192.10" stroke="#111" stroke-width="0.9" stroke-linecap="butt"/>
<line x1="251.64" y1="190.50" x2="251.64" y2="192.10" stroke="#111" stroke-width="0.9" stroke-linecap="butt"/>
<text x="157.50" y="213.10" font-size="9.3" text-anchor="middle" fill="#111" style="stroke-width:0.3px">2-Theta (degree)</text>
<text x="25.20" y="103.00" font-size="9.8" text-anchor="middle" fill="#111" style="stroke-width:0.3px" transform="rotate(-90 25.20 103.00)">Intensity (a.u.)</text>
<text x="4.00" y="25.50" font-size="23" text-anchor="start" fill="#111" style="font-weight:normal;stroke:none">(a)</text>
<text x="77.60" y="47.90" font-size="9.5" text-anchor="start" fill="#111" style="stroke-width:0.3px">O (200)</text>
<line x1="88.90" y1="51.50" x2="88.90" y2="56.80" stroke="#111" stroke-width="1.6" stroke-linecap="butt"/>
<path d="M86.60,56.30 L91.20,56.30 L88.90,61.80 Z" fill="#111"/>
<text x="111.80" y="34.20" font-size="9.5" text-anchor="start" fill="#111" style="stroke-width:0.3px">Mo (111)</text>
<line x1="124.30" y1="41.00" x2="124.30" y2="47.80" stroke="#111" stroke-width="1.6" stroke-linecap="butt"/>
<path d="M122.00,47.30 L126.60,47.30 L124.30,52.80 Z" fill="#111"/>
<text x="132.10" y="53.10" font-size="9.5" text-anchor="start" fill="#111" style="stroke-width:0.3px">Mo (200)</text>
<line x1="142.10" y1="62.50" x2="142.10" y2="68.30" stroke="#111" stroke-width="1.6" stroke-linecap="butt"/>
<path d="M139.80,67.80 L144.40,67.80 L142.10,73.30 Z" fill="#111"/>
<text x="180.20" y="53.60" font-size="9.5" text-anchor="start" fill="#111" style="stroke-width:0.3px">Mo (220)</text>
<line x1="197.00" y1="58.80" x2="197.00" y2="64.20" stroke="#111" stroke-width="1.6" stroke-linecap="butt"/>
<path d="M194.70,63.70 L199.30,63.70 L197.00,69.20 Z" fill="#111"/>
<text x="220.40" y="60.20" font-size="9.5" text-anchor="start" fill="#111" style="stroke-width:0.3px">Ru-Mo<tspan dy="2.0" font-size="68%">2</tspan><tspan dy="-2.0">C</tspan></text>
<text x="221.40" y="106.60" font-size="9.5" text-anchor="start" fill="#111" style="stroke-width:0.3px">Mo<tspan dy="2.0" font-size="68%">2</tspan><tspan dy="-2.0">C</tspan></text>
<text x="222.70" y="158.40" font-size="9.5" text-anchor="start" fill="#111" style="stroke-width:0.3px">Mo<tspan dy="2.0" font-size="68%">2</tspan><tspan dy="-2.0">Ga<tspan dy="2.0" font-size="68%">2</tspan><tspan dy="-2.0">C</tspan></tspan></text>
<text x="171.40" y="183.40" font-size="9.5" text-anchor="start" fill="#111" style="stroke-width:0.3px">β-Mo<tspan dy="2.0" font-size="68%">2</tspan><tspan dy="-2.0">C</tspan> PDF#79-0744</text>
<path d="M306.1,104.5 306.6,104.9 307.1,104.8 307.6,105.0 308.1,104.9 308.6,104.9 309.1,105.3 309.6,104.5 310.1,104.9 310.6,104.8 311.1,105.1 311.6,105.1 312.1,105.2 312.6,105.1 313.1,105.2 313.6,104.9 314.1,105.4 314.6,105.5 315.1,105.3 315.6,105.3 316.1,105.3 316.6,106.0 317.1,105.6 317.6,105.7 318.1,105.5 318.6,105.4 319.1,105.3 319.6,106.1 320.1,105.1 320.6,105.7 321.1,105.6 321.6,105.5 322.1,105.1 322.6,105.2 323.1,105.9 323.6,105.3 324.1,105.8 324.6,105.7 325.1,105.7 325.6,105.7 326.1,105.1 326.6,105.3 327.1,105.6 327.6,105.0 328.1,105.9 328.6,105.2 329.1,105.3 329.6,105.0 330.1,105.4 330.6,105.0 331.1,105.2 331.6,104.9 332.1,105.5 332.6,104.6 333.1,105.2 333.6,105.1 334.1,105.2 334.6,104.7 335.1,105.3 335.6,105.2 336.1,104.9 336.6,104.9 337.1,104.8 337.6,105.0 338.1,104.5 338.6,104.9 339.1,104.8 339.6,104.2 340.1,103.8 340.6,104.5 341.1,104.5 341.6,104.8 342.1,104.4 342.6,104.2 343.1,103.9 343.6,104.2 344.1,104.0 344.6,103.8 345.1,104.1 345.6,104.4 346.1,104.0 346.6,103.6 347.1,103.9 347.6,103.5 348.1,103.2 348.6,103.8 349.1,103.4 349.6,103.8 350.1,103.5 350.6,103.1 351.1,103.3 351.6,103.6 352.1,103.0 352.6,102.7 353.1,102.7 353.6,102.6 354.1,102.4 354.6,102.3 355.1,102.7 355.6,102.8 356.1,102.3 356.6,102.5 357.1,102.5 357.6,102.6 358.1,101.9 358.6,101.8 359.1,101.9 359.6,101.7 360.1,101.7 360.6,101.9 361.1,101.2 361.6,101.3 362.1,100.8 362.6,100.9 363.1,100.7 363.6,100.5 364.1,100.5 364.6,100.3 365.1,100.4 365.6,100.4 366.1,99.5 366.6,100.1 367.1,99.0 367.6,99.6 368.1,99.5 368.6,99.0 369.1,98.9 369.6,98.6 370.1,98.9 370.6,97.5 371.1,98.0 371.6,97.5 372.1,98.0 372.6,98.1 373.1,97.9 373.6,97.5 374.1,97.2 374.6,96.7 375.1,97.1 375.6,96.8 376.1,96.1 376.6,95.8 377.1,95.8 377.6,96.1 378.1,95.9 378.6,95.8 379.1,94.9 379.6,94.8 380.1,95.1 380.6,94.5 381.1,94.5 381.6,93.6 382.1,93.7 382.6,93.5 383.1,93.2 383.6,92.9 384.1,92.3 384.6,93.0 385.1,92.3 385.6,91.6 386.1,92.1 386.6,91.5 387.1,91.5 387.6,90.9 388.1,90.5 388.6,90.2 389.1,90.3 389.6,90.2 390.1,89.8 390.6,89.6 391.1,89.4 391.6,88.9 392.1,88.8 392.6,88.5 393.1,87.9 393.6,87.5 394.1,87.0 394.6,86.5 395.1,86.0 395.6,86.5 396.1,85.8 396.6,85.3 397.1,85.6 397.6,85.1 398.1,84.5 398.6,84.4 399.1,83.7 399.6,83.6 400.1,83.7 400.6,83.1 401.1,82.4 401.6,82.3 402.1,82.1 402.6,81.3 403.1,80.9 403.6,81.2 404.1,80.3 404.6,79.7 405.1,80.0 405.6,80.5 406.1,79.9 406.6,79.9 407.1,78.8 407.6,79.2 408.1,79.7 408.6,79.1 409.1,79.5 409.6,79.2 410.1,79.1 410.6,79.5 411.1,78.7 411.6,78.7 412.1,78.8 412.6,78.8 413.1,78.2 413.6,79.0 414.1,78.6 414.6,78.5 415.1,78.7 415.6,78.3 416.1,78.7 416.6,78.3 417.1,78.5 417.6,77.9 418.1,78.0 418.6,78.2 419.1,77.7 419.6,77.7 420.1,77.9 420.6,78.2 421.1,78.0 421.6,78.0 422.1,77.8 422.6,77.9 423.1,78.0 423.6,77.6 424.1,77.6 424.6,77.6 425.1,76.8 425.6,77.3 426.1,77.4 426.6,77.4 427.1,77.0 427.6,77.3 428.1,76.7 428.6,76.8 429.1,77.2 429.6,76.2 430.1,76.5 430.6,76.3 431.1,76.2 431.6,75.8 432.1,76.0 432.6,75.2 433.1,74.8 433.6,75.0 434.1,74.2 434.6,74.3 435.1,73.9 435.6,73.3 436.1,73.0 436.6,72.7 437.1,72.4 437.6,71.7 438.1,71.4 438.6,70.7 439.1,70.6 439.6,69.6 440.1,69.7 440.6,69.1 441.1,69.3 441.6,68.5 442.1,67.5 442.6,67.2 443.1,66.4 443.6,65.4 444.1,64.4 444.6,64.8 445.1,63.9 445.6,62.5 446.1,62.6 446.6,61.9 447.1,60.7 447.6,60.3 448.1,58.8 448.6,58.4 449.1,57.6 449.6,56.9 450.1,55.9 450.6,54.9 451.1,54.0 451.6,52.6 452.1,52.2 452.6,50.6 453.1,49.8 453.6,48.3 454.1,46.8 454.6,45.7 455.1,44.3 455.6,43.4 456.1,42.1 456.6,40.3 457.1,39.4 457.6,38.3 458.1,37.4 458.6,37.0 459.1,37.2 459.6,36.8 460.1,36.7 460.6,37.4 461.1,38.0 461.6,38.8 462.1,39.6 462.6,41.4 463.1,43.6 463.6,44.8 464.1,46.9 464.6,50.2 465.1,52.3 465.6,54.9 466.1,57.3 466.6,60.7 467.1,62.9 467.6,66.2 468.1,68.7 468.6,71.2 469.1,74.6 469.6,76.4 470.1,79.0 470.6,81.1 471.1,82.6 471.6,84.5 472.1,85.6 472.6,87.2 473.1,88.1 473.6,88.9 474.1,90.4 474.6,90.9 475.1,91.7 475.6,92.0 476.1,93.0 476.6,93.0 477.1,94.1 477.6,94.2 478.1,95.0 478.6,95.3 479.1,95.8 479.6,96.3 480.1,96.5 480.6,96.9 481.1,96.8 481.6,97.0 482.1,98.2 482.6,98.4 483.1,98.0 483.6,99.4 484.1,98.9 484.6,99.6 485.1,99.8 485.6,100.0 486.1,100.5 486.6,100.1 487.1,100.8 487.6,101.0 488.1,101.4 488.6,101.5 489.1,101.6 489.6,101.8 490.1,102.5 490.6,102.1 491.1,102.7 491.6,102.8 492.1,102.9 492.6,103.2 493.1,103.4 493.6,103.2 494.1,103.6 494.6,104.2 495.1,103.4 495.6,103.8 496.1,103.8 496.6,104.7 497.1,103.8 497.6,104.3 498.1,104.7 498.6,104.3 499.1,104.6 499.6,104.5 500.1,104.4 500.6,104.9 501.1,105.1 501.6,104.9 502.1,105.2 502.6,105.4 503.1,105.6 503.6,105.0 504.1,105.6 504.6,105.3 505.1,105.0 505.6,105.4 506.1,105.9 506.6,105.8 507.1,105.4 507.6,106.3 508.1,106.0 508.6,105.9 509.1,105.8 509.6,106.2 510.1,106.0 510.6,106.5 511.1,106.3 511.6,106.4 512.1,106.2 512.6,105.9 513.1,106.6 513.6,106.2 514.1,106.5 514.6,106.6 515.1,106.4 515.6,106.9 516.1,106.3 516.6,107.2 517.1,106.6 517.6,107.2 518.1,107.3 518.6,106.7 519.1,106.8 519.6,107.3 520.1,107.2 520.6,107.2 521.1,106.7 521.6,106.8 522.1,107.5 522.6,107.8 523.1,107.2 523.6,107.2 524.1,107.5 524.6,107.7 525.1,107.7 525.6,107.5 526.1,107.1 526.6,108.1 527.1,107.6 527.6,108.2 528.1,107.2 528.6,108.0 529.1,107.8 529.6,107.6 530.1,108.3 530.6,108.4 531.1,107.9 531.6,108.3 532.1,107.8 532.6,108.0 533.1,108.1 533.6,108.1 534.1,108.5 534.6,108.0 535.1,108.6 535.6,108.7 536.1,108.4 536.6,108.1 537.1,107.8 537.6,108.5 538.1,108.3 538.6,108.6" fill="none" stroke="#2a6fb8" stroke-width="1.4" stroke-linejoin="round" opacity="1"/>
<path d="M306.1,171.3 306.6,171.7 307.1,171.7 307.6,171.8 308.1,171.9 308.6,171.9 309.1,172.2 309.6,171.7 310.1,172.2 310.6,172.0 311.1,171.9 311.6,171.8 312.1,172.5 312.6,172.2 313.1,172.0 313.6,172.2 314.1,172.2 314.6,172.1 315.1,171.9 315.6,172.4 316.1,172.3 316.6,172.3 317.1,172.7 317.6,172.0 318.1,172.2 318.6,172.5 319.1,172.7 319.6,172.7 320.1,172.7 320.6,171.9 321.1,172.7 321.6,172.7 322.1,172.8 322.6,172.4 323.1,172.8 323.6,172.9 324.1,173.1 324.6,172.7 325.1,172.3 325.6,172.7 326.1,172.9 326.6,172.9 327.1,173.3 327.6,172.7 328.1,172.4 328.6,172.5 329.1,172.9 329.6,172.5 330.1,172.4 330.6,172.5 331.1,173.1 331.6,172.8 332.1,172.7 332.6,173.0 333.1,173.0 333.6,172.5 334.1,173.0 334.6,172.9 335.1,172.2 335.6,172.4 336.1,172.9 336.6,172.9 337.1,172.7 337.6,172.5 338.1,172.9 338.6,172.3 339.1,173.0 339.6,172.8 340.1,172.8 340.6,172.6 341.1,173.0 341.6,172.1 342.1,172.5 342.6,172.9 343.1,172.6 343.6,173.2 344.1,172.9 344.6,172.5 345.1,173.0 345.6,172.7 346.1,172.8 346.6,172.5 347.1,172.4 347.6,172.8 348.1,172.6 348.6,172.3 349.1,172.2 349.6,172.7 350.1,173.0 350.6,172.2 351.1,172.6 351.6,171.5 352.1,171.9 352.6,172.4 353.1,172.7 353.6,172.2 354.1,172.3 354.6,172.2 355.1,172.3 355.6,171.7 356.1,172.1 356.6,171.8 357.1,171.7 357.6,171.8 358.1,171.7 358.6,171.5 359.1,171.6 359.6,171.3 360.1,172.0 360.6,171.7 361.1,171.3 361.6,171.8 362.1,171.7 362.6,171.4 363.1,171.0 363.6,171.2 364.1,171.3 364.6,171.4 365.1,170.9 365.6,170.8 366.1,171.5 366.6,171.2 367.1,170.8 367.6,170.4 368.1,170.8 368.6,170.9 369.1,170.7 369.6,170.7 370.1,170.4 370.6,170.7 371.1,170.1 371.6,170.1 372.1,170.0 372.6,169.9 373.1,170.6 373.6,169.5 374.1,170.0 374.6,169.5 375.1,169.4 375.6,169.7 376.1,169.1 376.6,169.5 377.1,170.1 377.6,169.3 378.1,169.4 378.6,168.9 379.1,169.3 379.6,168.6 380.1,169.0 380.6,168.8 381.1,169.4 381.6,168.6 382.1,168.4 382.6,168.3 383.1,168.0 383.6,168.5 384.1,168.6 384.6,167.9 385.1,168.2 385.6,167.7 386.1,167.8 386.6,167.7 387.1,167.1 387.6,167.2 388.1,167.5 388.6,166.6 389.1,167.0 389.6,166.8 390.1,166.5 390.6,166.7 391.1,166.6 391.6,166.5 392.1,165.4 392.6,166.6 393.1,165.7 393.6,166.0 394.1,165.5 394.6,165.2 395.1,165.1 395.6,165.9 396.1,165.3 396.6,164.5 397.1,164.5 397.6,164.5 398.1,164.2 398.6,163.8 399.1,163.5 399.6,163.0 400.1,163.4 400.6,163.3 401.1,163.4 401.6,162.4 402.1,162.5 402.6,162.1 403.1,162.2 403.6,161.6 404.1,161.2 404.6,160.6 405.1,161.1 405.6,160.7 406.1,160.7 406.6,159.9 407.1,160.6 407.6,159.4 408.1,159.5 408.6,159.2 409.1,159.1 409.6,158.5 410.1,158.0 410.6,157.7 411.1,158.0 411.6,157.5 412.1,157.3 412.6,156.7 413.1,156.7 413.6,156.5 414.1,156.3 414.6,155.4 415.1,155.4 415.6,155.9 416.1,155.0 416.6,154.8 417.1,154.5 417.6,153.9 418.1,153.8 418.6,154.0 419.1,153.5 419.6,154.1 420.1,152.8 420.6,152.4 421.1,152.7 421.6,152.2 422.1,152.8 422.6,152.0 423.1,152.1 423.6,151.3 424.1,151.7 424.6,151.5 425.1,151.5 425.6,151.0 426.1,150.9 426.6,150.6 427.1,150.6 427.6,150.0 428.1,150.0 428.6,149.5 429.1,149.7 429.6,149.1 430.1,148.8 430.6,148.6 431.1,149.0 431.6,147.8 432.1,147.6 432.6,148.0 433.1,147.2 433.6,147.1 434.1,146.9 434.6,147.4 435.1,146.3 435.6,146.0 436.1,145.8 436.6,145.7 437.1,145.5 437.6,144.6 438.1,144.9 438.6,145.1 439.1,143.6 439.6,144.0 440.1,143.7 440.6,143.2 441.1,142.7 441.6,141.7 442.1,142.3 442.6,141.4 443.1,140.9 443.6,140.9 444.1,139.2 444.6,139.2 445.1,138.6 445.6,137.8 446.1,136.8 446.6,136.2 447.1,134.7 447.6,133.9 448.1,132.7 448.6,130.9 449.1,129.9 449.6,129.4 450.1,127.2 450.6,125.9 451.1,124.3 451.6,123.5 452.1,122.3 452.6,121.6 453.1,121.2 453.6,120.0 454.1,119.4 454.6,119.4 455.1,118.6 455.6,118.2 456.1,118.0 456.6,117.2 457.1,117.0 457.6,116.4 458.1,117.1 458.6,116.8 459.1,116.8 459.6,116.8 460.1,118.0 460.6,118.9 461.1,120.0 461.6,121.1 462.1,123.1 462.6,125.4 463.1,127.4 463.6,130.1 464.1,132.6 464.6,134.3 465.1,136.8 465.6,139.0 466.1,141.9 466.6,144.1 467.1,146.8 467.6,148.0 468.1,149.6 468.6,151.8 469.1,153.3 469.6,154.9 470.1,156.5 470.6,157.2 471.1,158.5 471.6,158.6 472.1,160.5 472.6,161.0 473.1,161.6 473.6,162.2 474.1,163.3 474.6,163.3 475.1,164.3 475.6,164.3 476.1,165.0 476.6,165.5 477.1,166.4 477.6,166.3 478.1,166.6 478.6,166.9 479.1,167.1 479.6,167.3 480.1,168.3 480.6,168.4 481.1,168.0 481.6,168.4 482.1,168.2 482.6,169.1 483.1,169.2 483.6,169.1 484.1,169.0 484.6,169.6 485.1,169.7 485.6,169.6 486.1,170.0 486.6,169.5 487.1,169.9 487.6,169.9 488.1,170.3 488.6,170.9 489.1,170.5 489.6,171.0 490.1,170.7 490.6,170.7 491.1,171.2 491.6,171.2 492.1,171.5 492.6,171.5 493.1,171.1 493.6,170.6 494.1,171.5 494.6,171.2 495.1,171.2 495.6,171.3 496.1,171.6 496.6,171.8 497.1,171.9 497.6,172.6 498.1,171.7 498.6,172.1 499.1,171.8 499.6,172.0 500.1,172.3 500.6,172.5 501.1,172.0 501.6,172.8 502.1,172.2 502.6,172.9 503.1,172.6 503.6,172.9 504.1,172.9 504.6,172.7 505.1,172.9 505.6,172.4 506.1,172.5 506.6,172.8 507.1,173.4 507.6,172.8 508.1,172.8 508.6,173.6 509.1,173.1 509.6,173.1 510.1,172.8 510.6,173.2 511.1,173.4 511.6,173.2 512.1,173.5 512.6,173.4 513.1,173.7 513.6,173.6 514.1,173.4 514.6,173.7 515.1,174.0 515.6,173.6 516.1,173.2 516.6,173.6 517.1,173.5 517.6,174.4 518.1,173.9 518.6,173.4 519.1,173.7 519.6,174.2 520.1,173.5 520.6,173.7 521.1,173.9 521.6,173.9 522.1,173.8 522.6,174.0 523.1,173.6 523.6,173.9 524.1,173.9 524.6,174.0 525.1,174.0 525.6,174.2 526.1,174.1 526.6,174.1 527.1,174.4 527.6,174.6 528.1,174.6 528.6,174.0 529.1,174.5 529.6,174.7 530.1,174.4 530.6,174.6 531.1,174.5 531.6,174.7 532.1,174.1 532.6,174.8 533.1,174.5 533.6,174.5 534.1,174.6 534.6,175.0 535.1,175.0 535.6,174.9 536.1,175.1 536.6,174.7 537.1,174.5 537.6,174.4 538.1,174.9 538.6,174.9" fill="none" stroke="#f02828" stroke-width="1.4" stroke-linejoin="round" opacity="1"/>
<rect x="305.6" y="18.8" width="233.60" height="172.50" fill="none" stroke="#111" stroke-width="1.4"/>
<line x1="305.60" y1="191.30" x2="305.60" y2="194.10" stroke="#111" stroke-width="1.1" stroke-linecap="butt"/>
<text x="305.60" y="204.00" font-size="9" text-anchor="middle" fill="#111" style="stroke-width:0.3px">6</text>
<line x1="334.80" y1="191.30" x2="334.80" y2="192.90" stroke="#111" stroke-width="1.1" stroke-linecap="butt"/>
<line x1="364.00" y1="191.30" x2="364.00" y2="194.10" stroke="#111" stroke-width="1.1" stroke-linecap="butt"/>
<text x="364.00" y="204.00" font-size="9" text-anchor="middle" fill="#111" style="stroke-width:0.3px">7</text>
<line x1="393.20" y1="191.30" x2="393.20" y2="192.90" stroke="#111" stroke-width="1.1" stroke-linecap="butt"/>
<line x1="422.40" y1="191.30" x2="422.40" y2="194.10" stroke="#111" stroke-width="1.1" stroke-linecap="butt"/>
<text x="422.40" y="204.00" font-size="9" text-anchor="middle" fill="#111" style="stroke-width:0.3px">8</text>
<line x1="451.60" y1="191.30" x2="451.60" y2="192.90" stroke="#111" stroke-width="1.1" stroke-linecap="butt"/>
<line x1="480.80" y1="191.30" x2="480.80" y2="194.10" stroke="#111" stroke-width="1.1" stroke-linecap="butt"/>
<text x="480.80" y="204.00" font-size="9" text-anchor="middle" fill="#111" style="stroke-width:0.3px">9</text>
<line x1="510.00" y1="191.30" x2="510.00" y2="192.90" stroke="#111" stroke-width="1.1" stroke-linecap="butt"/>
<line x1="539.20" y1="191.30" x2="539.20" y2="194.10" stroke="#111" stroke-width="1.1" stroke-linecap="butt"/>
<text x="539.20" y="204.00" font-size="9" text-anchor="middle" fill="#111" style="stroke-width:0.3px">10</text>
<text x="430.20" y="212.60" font-size="9.3" text-anchor="middle" fill="#111" style="stroke-width:0.3px">2-Theta (degree)</text>
<text x="296.20" y="101.20" font-size="9.8" text-anchor="middle" fill="#111" style="stroke-width:0.3px" transform="rotate(-90 296.20 101.20)">Intensity (a.u.)</text>
<text x="278.60" y="21.70" font-size="23" text-anchor="start" fill="#111" style="font-weight:normal;stroke:none">(b)</text>
<text x="372.10" y="61.40" font-size="9.5" text-anchor="start" fill="#111" style="stroke-width:0.3px">Shifted Mo (002)</text>
<line x1="405.70" y1="64.20" x2="405.70" y2="74.10" stroke="#1c3c6c" stroke-width="1.3" stroke-linecap="butt"/>
<path d="M403.70,73.60 L407.70,73.60 L405.70,78.60 Z" fill="#1c3c6c"/>
<text x="464.30" y="31.80" font-size="9.5" text-anchor="middle" fill="#111" style="stroke-width:0.3px">Mo (002)</text>
<text x="465.00" y="113.40" font-size="9.5" text-anchor="middle" fill="#111" style="stroke-width:0.3px">Mo (002)</text>
<text x="324.80" y="86.20" font-size="9.5" text-anchor="start" fill="#111" style="stroke-width:0.3px">Ru-Mo<tspan dy="2.0" font-size="68%">2</tspan><tspan dy="-2.0">C</tspan></text>
<text x="327.90" y="159.10" font-size="9.5" text-anchor="start" fill="#111" style="stroke-width:0.3px">Mo<tspan dy="2.0" font-size="68%">2</tspan><tspan dy="-2.0">C</tspan></text>
<path d="M118.6,266.7 119.6,266.7 120.6,266.7 121.6,266.7 122.6,266.7 123.6,266.6 124.6,266.6 125.6,266.6 126.6,266.5 127.6,266.4 128.6,266.4 129.6,266.3 130.6,266.2 131.6,266.0 132.6,265.9 133.6,265.7 134.6,265.5 135.6,265.3 136.6,265.1 137.6,264.8 138.6,264.6 139.6,264.3 140.6,263.9 141.6,263.6 142.6,263.2 143.6,262.8 144.6,262.4 145.6,262.0 146.6,261.6 147.6,261.2 148.6,260.8 149.6,260.4 150.6,260.1 151.6,259.7 152.6,259.4 153.6,259.1 154.6,258.9 155.6,258.7 156.6,258.5 157.6,258.4 158.6,258.4 159.6,258.4 160.6,258.4 161.6,258.5 162.6,258.7 163.6,258.9 164.6,259.1 165.6,259.4 166.6,259.8 167.6,260.1 168.6,260.5 169.6,260.9 170.6,261.3 171.6,261.8 172.6,262.2 173.6,262.6 174.6,263.0 175.6,263.5 176.6,263.9 177.6,264.3 178.6,264.6 179.6,265.0 180.6,265.3 181.6,265.6 182.6,265.9 183.6,266.1 184.6,266.4 185.6,266.6 186.6,266.8 187.6,266.9 188.6,267.1 189.6,267.2 190.6,267.3 191.6,267.4 192.6,267.5 193.6,267.6 194.6,267.7 195.6,267.7 196.6,267.8 197.6,267.8 198.6,267.9 199.6,267.9 L199.6,268.0 L118.6,266.8 Z" fill="#b5ee8a" fill-opacity="0.85" stroke="none"/>
<path d="M118.6,266.7 119.6,266.7 120.6,266.7 121.6,266.7 122.6,266.7 123.6,266.6 124.6,266.6 125.6,266.6 126.6,266.5 127.6,266.4 128.6,266.4 129.6,266.3 130.6,266.2 131.6,266.0 132.6,265.9 133.6,265.7 134.6,265.5 135.6,265.3 136.6,265.1 137.6,264.8 138.6,264.6 139.6,264.3 140.6,263.9 141.6,263.6 142.6,263.2 143.6,262.8 144.6,262.4 145.6,262.0 146.6,261.6 147.6,261.2 148.6,260.8 149.6,260.4 150.6,260.1 151.6,259.7 152.6,259.4 153.6,259.1 154.6,258.9 155.6,258.7 156.6,258.5 157.6,258.4 158.6,258.4 159.6,258.4 160.6,258.4 161.6,258.5 162.6,258.7 163.6,258.9 164.6,259.1 165.6,259.4 166.6,259.8 167.6,260.1 168.6,260.5 169.6,260.9 170.6,261.3 171.6,261.8 172.6,262.2 173.6,262.6 174.6,263.0 175.6,263.5 176.6,263.9 177.6,264.3 178.6,264.6 179.6,265.0 180.6,265.3 181.6,265.6 182.6,265.9 183.6,266.1 184.6,266.4 185.6,266.6 186.6,266.8 187.6,266.9 188.6,267.1 189.6,267.2 190.6,267.3 191.6,267.4 192.6,267.5 193.6,267.6 194.6,267.7 195.6,267.7 196.6,267.8 197.6,267.8 198.6,267.9 199.6,267.9" fill="none" stroke="#7ad04a" stroke-width="0.7"/>
<path d="M96.6,266.4 97.6,266.4 98.6,266.4 99.6,266.3 100.6,266.3 101.6,266.3 102.6,266.3 103.6,266.2 104.6,266.2 105.6,266.1 106.6,266.0 107.6,266.0 108.6,265.9 109.6,265.8 110.6,265.6 111.6,265.5 112.6,265.3 113.6,265.2 114.6,265.0 115.6,264.8 116.6,264.6 117.6,264.4 118.6,264.1 119.6,263.9 120.6,263.7 121.6,263.4 122.6,263.2 123.6,263.0 124.6,262.8 125.6,262.5 126.6,262.4 127.6,262.2 128.6,262.1 129.6,261.9 130.6,261.9 131.6,261.8 132.6,261.8 133.6,261.8 134.6,261.8 135.6,261.9 136.6,262.0 137.6,262.2 138.6,262.3 139.6,262.5 140.6,262.7 141.6,262.9 142.6,263.2 143.6,263.4 144.6,263.7 145.6,264.0 146.6,264.2 147.6,264.5 148.6,264.8 149.6,265.0 150.6,265.3 151.6,265.5 152.6,265.7 153.6,265.9 154.6,266.1 155.6,266.3 156.6,266.4 157.6,266.6 158.6,266.7 159.6,266.8 160.6,266.9 161.6,267.0 162.6,267.1 163.6,267.2 164.6,267.2 165.6,267.3 166.6,267.3 167.6,267.4 168.6,267.4 169.6,267.4 L169.6,267.5 L96.6,266.4 Z" fill="#f266c0" fill-opacity="0.85" stroke="none"/>
<path d="M96.6,266.4 97.6,266.4 98.6,266.4 99.6,266.3 100.6,266.3 101.6,266.3 102.6,266.3 103.6,266.2 104.6,266.2 105.6,266.1 106.6,266.0 107.6,266.0 108.6,265.9 109.6,265.8 110.6,265.6 111.6,265.5 112.6,265.3 113.6,265.2 114.6,265.0 115.6,264.8 116.6,264.6 117.6,264.4 118.6,264.1 119.6,263.9 120.6,263.7 121.6,263.4 122.6,263.2 123.6,263.0 124.6,262.8 125.6,262.5 126.6,262.4 127.6,262.2 128.6,262.1 129.6,261.9 130.6,261.9 131.6,261.8 132.6,261.8 133.6,261.8 134.6,261.8 135.6,261.9 136.6,262.0 137.6,262.2 138.6,262.3 139.6,262.5 140.6,262.7 141.6,262.9 142.6,263.2 143.6,263.4 144.6,263.7 145.6,264.0 146.6,264.2 147.6,264.5 148.6,264.8 149.6,265.0 150.6,265.3 151.6,265.5 152.6,265.7 153.6,265.9 154.6,266.1 155.6,266.3 156.6,266.4 157.6,266.6 158.6,266.7 159.6,266.8 160.6,266.9 161.6,267.0 162.6,267.1 163.6,267.2 164.6,267.2 165.6,267.3 166.6,267.3 167.6,267.4 168.6,267.4 169.6,267.4" fill="none" stroke="#e8309a" stroke-width="0.7"/>
<path d="M147.6,267.1 148.6,267.1 149.6,267.1 150.6,267.1 151.6,267.1 152.6,267.0 153.6,267.0 154.6,266.9 155.6,266.9 156.6,266.8 157.6,266.7 158.6,266.6 159.6,266.4 160.6,266.2 161.6,266.0 162.6,265.7 163.6,265.4 164.6,265.0 165.6,264.6 166.6,264.1 167.6,263.6 168.6,263.0 169.6,262.3 170.6,261.5 171.6,260.6 172.6,259.7 173.6,258.6 174.6,257.5 175.6,256.2 176.6,254.9 177.6,253.5 178.6,252.0 179.6,250.4 180.6,248.7 181.6,247.0 182.6,245.3 183.6,243.5 184.6,241.7 185.6,239.9 186.6,238.1 187.6,236.4 188.6,234.7 189.6,233.1 190.6,231.6 191.6,230.3 192.6,229.0 193.6,228.0 194.6,227.1 195.6,226.4 196.6,225.9 197.6,225.6 198.6,225.4 199.6,225.6 200.6,225.9 201.6,226.4 202.6,227.1 203.6,228.0 204.6,229.1 205.6,230.4 206.6,231.7 207.6,233.2 208.6,234.8 209.6,236.5 210.6,238.3 211.6,240.1 212.6,241.9 213.6,243.8 214.6,245.6 215.6,247.4 216.6,249.1 217.6,250.8 218.6,252.4 219.6,253.9 220.6,255.4 221.6,256.8 222.6,258.1 223.6,259.2 224.6,260.3 225.6,261.3 226.6,262.2 227.6,263.1 228.6,263.8 229.6,264.5 230.6,265.0 231.6,265.6 232.6,266.0 233.6,266.4 234.6,266.8 235.6,267.1 236.6,267.3 237.6,267.5 238.6,267.7 239.6,267.9 240.6,268.0 241.6,268.1 242.6,268.2 243.6,268.3 244.6,268.4 245.6,268.5 246.6,268.5 247.6,268.6 248.6,268.6 249.6,268.6 L249.6,268.7 L147.6,267.2 Z" fill="url(#gb)" fill-opacity="1.0" stroke="none"/>
<path d="M147.6,267.1 148.6,267.1 149.6,267.1 150.6,267.1 151.6,267.1 152.6,267.0 153.6,267.0 154.6,266.9 155.6,266.9 156.6,266.8 157.6,266.7 158.6,266.6 159.6,266.4 160.6,266.2 161.6,266.0 162.6,265.7 163.6,265.4 164.6,265.0 165.6,264.6 166.6,264.1 167.6,263.6 168.6,263.0 169.6,262.3 170.6,261.5 171.6,260.6 172.6,259.7 173.6,258.6 174.6,257.5 175.6,256.2 176.6,254.9 177.6,253.5 178.6,252.0 179.6,250.4 180.6,248.7 181.6,247.0 182.6,245.3 183.6,243.5 184.6,241.7 185.6,239.9 186.6,238.1 187.6,236.4 188.6,234.7 189.6,233.1 190.6,231.6 191.6,230.3 192.6,229.0 193.6,228.0 194.6,227.1 195.6,226.4 196.6,225.9 197.6,225.6 198.6,225.4 199.6,225.6 200.6,225.9 201.6,226.4 202.6,227.1 203.6,228.0 204.6,229.1 205.6,230.4 206.6,231.7 207.6,233.2 208.6,234.8 209.6,236.5 210.6,238.3 211.6,240.1 212.6,241.9 213.6,243.8 214.6,245.6 215.6,247.4 216.6,249.1 217.6,250.8 218.6,252.4 219.6,253.9 220.6,255.4 221.6,256.8 222.6,258.1 223.6,259.2 224.6,260.3 225.6,261.3 226.6,262.2 227.6,263.1 228.6,263.8 229.6,264.5 230.6,265.0 231.6,265.6 232.6,266.0 233.6,266.4 234.6,266.8 235.6,267.1 236.6,267.3 237.6,267.5 238.6,267.7 239.6,267.9 240.6,268.0 241.6,268.1 242.6,268.2 243.6,268.3 244.6,268.4 245.6,268.5 246.6,268.5 247.6,268.6 248.6,268.6 249.6,268.6" fill="none" stroke="#38a8e0" stroke-width="0.7"/>
<path d="M34.6,265.5 35.6,265.5 36.6,265.5 37.6,265.6 38.6,265.6 39.6,265.6 40.6,265.6 41.6,265.6 42.6,265.6 43.6,265.6 44.6,265.7 45.6,265.7 46.6,265.7 47.6,265.7 48.6,265.7 49.6,265.7 50.6,265.7 51.6,265.8 52.6,265.8 53.6,265.8 54.6,265.8 55.6,265.8 56.6,265.8 57.6,265.9 58.6,265.9 59.6,265.9 60.6,265.9 61.6,265.9 62.6,265.9 63.6,265.9 64.6,266.0 65.6,266.0 66.6,266.0 67.6,266.0 68.6,266.0 69.6,266.0 70.6,266.0 71.6,266.1 72.6,266.1 73.6,266.1 74.6,266.1 75.6,266.1 76.6,266.1 77.6,266.2 78.6,266.2 79.6,266.2 80.6,266.2 81.6,266.2 82.6,266.2 83.6,266.2 84.6,266.3 85.6,266.3 86.6,266.3 87.6,266.3 88.6,266.3 89.6,266.3 90.6,266.3 91.6,266.4 92.6,266.4 93.6,266.4 94.6,266.4 95.6,266.4 96.6,266.4 97.6,266.4 98.6,266.5 99.6,266.5 100.6,266.5 101.6,266.5 102.6,266.5 103.6,266.5 104.6,266.6 105.6,266.6 106.6,266.6 107.6,266.6 108.6,266.6 109.6,266.6 110.6,266.6 111.6,266.7 112.6,266.7 113.6,266.7 114.6,266.7 115.6,266.7 116.6,266.7 117.6,266.7 118.6,266.8 119.6,266.8 120.6,266.8 121.6,266.8 122.6,266.8 123.6,266.8 124.6,266.8 125.6,266.9 126.6,266.9 127.6,266.9 128.6,266.9 129.6,266.9 130.6,266.9 131.6,267.0 132.6,267.0 133.6,267.0 134.6,267.0 135.6,267.0 136.6,267.0 137.6,267.0 138.6,267.1 139.6,267.1 140.6,267.1 141.6,267.1 142.6,267.1 143.6,267.1 144.6,267.1 145.6,267.2 146.6,267.2 147.6,267.2 148.6,267.2 149.6,267.2 150.6,267.2 151.6,267.3 152.6,267.3 153.6,267.3 154.6,267.3 155.6,267.3 156.6,267.3 157.6,267.3 158.6,267.4 159.6,267.4 160.6,267.4 161.6,267.4 162.6,267.4 163.6,267.4 164.6,267.4 165.6,267.5 166.6,267.5 167.6,267.5 168.6,267.5 169.6,267.5 170.6,267.5 171.6,267.5 172.6,267.6 173.6,267.6 174.6,267.6 175.6,267.6 176.6,267.6 177.6,267.6 178.6,267.7 179.6,267.7 180.6,267.7 181.6,267.7 182.6,267.7 183.6,267.7 184.6,267.7 185.6,267.8 186.6,267.8 187.6,267.8 188.6,267.8 189.6,267.8 190.6,267.8 191.6,267.8 192.6,267.9 193.6,267.9 194.6,267.9 195.6,267.9 196.6,267.9 197.6,267.9 198.6,267.9 199.6,268.0 200.6,268.0 201.6,268.0 202.6,268.0 203.6,268.0 204.6,268.0 205.6,268.1 206.6,268.1 207.6,268.1 208.6,268.1 209.6,268.1 210.6,268.1 211.6,268.1 212.6,268.2 213.6,268.2 214.6,268.2 215.6,268.2 216.6,268.2 217.6,268.2 218.6,268.2 219.6,268.3 220.6,268.3 221.6,268.3 222.6,268.3 223.6,268.3 224.6,268.3 225.6,268.4 226.6,268.4 227.6,268.4 228.6,268.4 229.6,268.4 230.6,268.4 231.6,268.4 232.6,268.5 233.6,268.5 234.6,268.5 235.6,268.5 236.6,268.5 237.6,268.5 238.6,268.5 239.6,268.6 240.6,268.6 241.6,268.6 242.6,268.6 243.6,268.6 244.6,268.6 245.6,268.6 246.6,268.7 247.6,268.7 248.6,268.7 249.6,268.7 250.6,268.7 251.6,268.7 252.6,268.8 253.6,268.8 254.6,268.8 255.6,268.8 256.6,268.8 257.6,268.8 258.6,268.8 259.6,268.9 260.6,268.9 261.6,268.9 262.6,268.9 263.6,268.9 264.6,268.9 265.6,268.9 266.6,269.0 267.6,269.0" fill="none" stroke="#e040c0" stroke-width="1.0" stroke-linejoin="round" opacity="1"/>
<path d="M33.7,264.8a1.6,1.6 0 1,0 3.20,0a1.6,1.6 0 1,0 -3.20,0M35.9,264.9a1.6,1.6 0 1,0 3.20,0a1.6,1.6 0 1,0 -3.20,0M38.1,264.9a1.6,1.6 0 1,0 3.20,0a1.6,1.6 0 1,0 -3.20,0M40.3,264.9a1.6,1.6 0 1,0 3.20,0a1.6,1.6 0 1,0 -3.20,0M42.5,265.0a1.6,1.6 0 1,0 3.20,0a1.6,1.6 0 1,0 -3.20,0M44.7,265.0a1.6,1.6 0 1,0 3.20,0a1.6,1.6 0 1,0 -3.20,0M46.9,265.0a1.6,1.6 0 1,0 3.20,0a1.6,1.6 0 1,0 -3.20,0M49.1,265.1a1.6,1.6 0 1,0 3.20,0a1.6,1.6 0 1,0 -3.20,0M51.3,265.1a1.6,1.6 0 1,0 3.20,0a1.6,1.6 0 1,0 -3.20,0M53.5,265.1a1.6,1.6 0 1,0 3.20,0a1.6,1.6 0 1,0 -3.20,0M55.7,265.1a1.6,1.6 0 1,0 3.20,0a1.6,1.6 0 1,0 -3.20,0M57.9,265.2a1.6,1.6 0 1,0 3.20,0a1.6,1.6 0 1,0 -3.20,0M60.1,265.2a1.6,1.6 0 1,0 3.20,0a1.6,1.6 0 1,0 -3.20,0M62.3,265.2a1.6,1.6 0 1,0 3.20,0a1.6,1.6 0 1,0 -3.20,0M64.5,265.3a1.6,1.6 0 1,0 3.20,0a1.6,1.6 0 1,0 -3.20,0M66.7,265.3a1.6,1.6 0 1,0 3.20,0a1.6,1.6 0 1,0 -3.20,0M68.9,265.3a1.6,1.6 0 1,0 3.20,0a1.6,1.6 0 1,0 -3.20,0M71.1,265.4a1.6,1.6 0 1,0 3.20,0a1.6,1.6 0 1,0 -3.20,0M73.3,265.4a1.6,1.6 0 1,0 3.20,0a1.6,1.6 0 1,0 -3.20,0M75.5,265.4a1.6,1.6 0 1,0 3.20,0a1.6,1.6 0 1,0 -3.20,0M77.7,265.5a1.6,1.6 0 1,0 3.20,0a1.6,1.6 0 1,0 -3.20,0M79.9,265.5a1.6,1.6 0 1,0 3.20,0a1.6,1.6 0 1,0 -3.20,0M82.1,265.5a1.6,1.6 0 1,0 3.20,0a1.6,1.6 0 1,0 -3.20,0M84.3,265.6a1.6,1.6 0 1,0 3.20,0a1.6,1.6 0 1,0 -3.20,0M86.5,265.6a1.6,1.6 0 1,0 3.20,0a1.6,1.6 0 1,0 -3.20,0M88.7,265.6a1.6,1.6 0 1,0 3.20,0a1.6,1.6 0 1,0 -3.20,0M90.9,265.6a1.6,1.6 0 1,0 3.20,0a1.6,1.6 0 1,0 -3.20,0M93.1,265.7a1.6,1.6 0 1,0 3.20,0a1.6,1.6 0 1,0 -3.20,0M95.3,265.7a1.6,1.6 0 1,0 3.20,0a1.6,1.6 0 1,0 -3.20,0M97.5,265.6a1.6,1.6 0 1,0 3.20,0a1.6,1.6 0 1,0 -3.20,0M99.7,265.6a1.6,1.6 0 1,0 3.20,0a1.6,1.6 0 1,0 -3.20,0M101.9,265.5a1.6,1.6 0 1,0 3.20,0a1.6,1.6 0 1,0 -3.20,0M104.1,265.4a1.6,1.6 0 1,0 3.20,0a1.6,1.6 0 1,0 -3.20,0M106.3,265.2a1.6,1.6 0 1,0 3.20,0a1.6,1.6 0 1,0 -3.20,0M108.5,265.0a1.6,1.6 0 1,0 3.20,0a1.6,1.6 0 1,0 -3.20,0M110.7,264.7a1.6,1.6 0 1,0 3.20,0a1.6,1.6 0 1,0 -3.20,0M112.9,264.3a1.6,1.6 0 1,0 3.20,0a1.6,1.6 0 1,0 -3.20,0M115.1,263.8a1.6,1.6 0 1,0 3.20,0a1.6,1.6 0 1,0 -3.20,0M117.3,263.3a1.6,1.6 0 1,0 3.20,0a1.6,1.6 0 1,0 -3.20,0M119.5,262.7a1.6,1.6 0 1,0 3.20,0a1.6,1.6 0 1,0 -3.20,0M121.7,262.1a1.6,1.6 0 1,0 3.20,0a1.6,1.6 0 1,0 -3.20,0M123.9,261.6a1.6,1.6 0 1,0 3.20,0a1.6,1.6 0 1,0 -3.20,0M126.1,261.0a1.6,1.6 0 1,0 3.20,0a1.6,1.6 0 1,0 -3.20,0M128.3,260.5a1.6,1.6 0 1,0 3.20,0a1.6,1.6 0 1,0 -3.20,0M130.5,260.1a1.6,1.6 0 1,0 3.20,0a1.6,1.6 0 1,0 -3.20,0M132.7,259.7a1.6,1.6 0 1,0 3.20,0a1.6,1.6 0 1,0 -3.20,0M134.9,259.4a1.6,1.6 0 1,0 3.20,0a1.6,1.6 0 1,0 -3.20,0M137.1,259.1a1.6,1.6 0 1,0 3.20,0a1.6,1.6 0 1,0 -3.20,0M139.3,258.8a1.6,1.6 0 1,0 3.20,0a1.6,1.6 0 1,0 -3.20,0M141.5,258.5a1.6,1.6 0 1,0 3.20,0a1.6,1.6 0 1,0 -3.20,0M143.7,258.2a1.6,1.6 0 1,0 3.20,0a1.6,1.6 0 1,0 -3.20,0M145.9,257.8a1.6,1.6 0 1,0 3.20,0a1.6,1.6 0 1,0 -3.20,0M148.1,257.4a1.6,1.6 0 1,0 3.20,0a1.6,1.6 0 1,0 -3.20,0M150.3,257.0a1.6,1.6 0 1,0 3.20,0a1.6,1.6 0 1,0 -3.20,0M152.5,256.7a1.6,1.6 0 1,0 3.20,0a1.6,1.6 0 1,0 -3.20,0M154.7,256.4a1.6,1.6 0 1,0 3.20,0a1.6,1.6 0 1,0 -3.20,0M156.9,256.2a1.6,1.6 0 1,0 3.20,0a1.6,1.6 0 1,0 -3.20,0M159.1,256.1a1.6,1.6 0 1,0 3.20,0a1.6,1.6 0 1,0 -3.20,0M161.3,255.9a1.6,1.6 0 1,0 3.20,0a1.6,1.6 0 1,0 -3.20,0M163.5,255.8a1.6,1.6 0 1,0 3.20,0a1.6,1.6 0 1,0 -3.20,0M165.7,255.5a1.6,1.6 0 1,0 3.20,0a1.6,1.6 0 1,0 -3.20,0M167.9,254.9a1.6,1.6 0 1,0 3.20,0a1.6,1.6 0 1,0 -3.20,0M170.1,254.0a1.6,1.6 0 1,0 3.20,0a1.6,1.6 0 1,0 -3.20,0M172.3,252.7a1.6,1.6 0 1,0 3.20,0a1.6,1.6 0 1,0 -3.20,0M174.5,250.9a1.6,1.6 0 1,0 3.20,0a1.6,1.6 0 1,0 -3.20,0M176.7,248.6a1.6,1.6 0 1,0 3.20,0a1.6,1.6 0 1,0 -3.20,0M178.9,245.8a1.6,1.6 0 1,0 3.20,0a1.6,1.6 0 1,0 -3.20,0M181.1,242.6a1.6,1.6 0 1,0 3.20,0a1.6,1.6 0 1,0 -3.20,0M183.3,239.1a1.6,1.6 0 1,0 3.20,0a1.6,1.6 0 1,0 -3.20,0M185.5,235.6a1.6,1.6 0 1,0 3.20,0a1.6,1.6 0 1,0 -3.20,0M187.7,232.3a1.6,1.6 0 1,0 3.20,0a1.6,1.6 0 1,0 -3.20,0M189.9,229.3a1.6,1.6 0 1,0 3.20,0a1.6,1.6 0 1,0 -3.20,0M192.1,226.9a1.6,1.6 0 1,0 3.20,0a1.6,1.6 0 1,0 -3.20,0M194.3,225.3a1.6,1.6 0 1,0 3.20,0a1.6,1.6 0 1,0 -3.20,0M196.5,224.7a1.6,1.6 0 1,0 3.20,0a1.6,1.6 0 1,0 -3.20,0M198.7,225.0a1.6,1.6 0 1,0 3.20,0a1.6,1.6 0 1,0 -3.20,0M200.9,226.3a1.6,1.6 0 1,0 3.20,0a1.6,1.6 0 1,0 -3.20,0M203.1,228.5a1.6,1.6 0 1,0 3.20,0a1.6,1.6 0 1,0 -3.20,0M205.3,231.5a1.6,1.6 0 1,0 3.20,0a1.6,1.6 0 1,0 -3.20,0M207.5,235.0a1.6,1.6 0 1,0 3.20,0a1.6,1.6 0 1,0 -3.20,0M209.7,238.9a1.6,1.6 0 1,0 3.20,0a1.6,1.6 0 1,0 -3.20,0M211.9,242.9a1.6,1.6 0 1,0 3.20,0a1.6,1.6 0 1,0 -3.20,0M214.1,246.8a1.6,1.6 0 1,0 3.20,0a1.6,1.6 0 1,0 -3.20,0M216.3,250.6a1.6,1.6 0 1,0 3.20,0a1.6,1.6 0 1,0 -3.20,0M218.5,254.0a1.6,1.6 0 1,0 3.20,0a1.6,1.6 0 1,0 -3.20,0M220.7,257.0a1.6,1.6 0 1,0 3.20,0a1.6,1.6 0 1,0 -3.20,0M222.9,259.5a1.6,1.6 0 1,0 3.20,0a1.6,1.6 0 1,0 -3.20,0M225.1,261.6a1.6,1.6 0 1,0 3.20,0a1.6,1.6 0 1,0 -3.20,0M227.3,263.3a1.6,1.6 0 1,0 3.20,0a1.6,1.6 0 1,0 -3.20,0M229.5,264.6a1.6,1.6 0 1,0 3.20,0a1.6,1.6 0 1,0 -3.20,0M231.7,265.6a1.6,1.6 0 1,0 3.20,0a1.6,1.6 0 1,0 -3.20,0M233.9,266.3a1.6,1.6 0 1,0 3.20,0a1.6,1.6 0 1,0 -3.20,0M236.1,266.9a1.6,1.6 0 1,0 3.20,0a1.6,1.6 0 1,0 -3.20,0M238.3,267.2a1.6,1.6 0 1,0 3.20,0a1.6,1.6 0 1,0 -3.20,0M240.5,267.5a1.6,1.6 0 1,0 3.20,0a1.6,1.6 0 1,0 -3.20,0M242.7,267.7a1.6,1.6 0 1,0 3.20,0a1.6,1.6 0 1,0 -3.20,0M244.9,267.8a1.6,1.6 0 1,0 3.20,0a1.6,1.6 0 1,0 -3.20,0M247.1,267.9a1.6,1.6 0 1,0 3.20,0a1.6,1.6 0 1,0 -3.20,0M249.3,268.0a1.6,1.6 0 1,0 3.20,0a1.6,1.6 0 1,0 -3.20,0M251.5,268.0a1.6,1.6 0 1,0 3.20,0a1.6,1.6 0 1,0 -3.20,0M253.7,268.1a1.6,1.6 0 1,0 3.20,0a1.6,1.6 0 1,0 -3.20,0M255.9,268.1a1.6,1.6 0 1,0 3.20,0a1.6,1.6 0 1,0 -3.20,0M258.1,268.2a1.6,1.6 0 1,0 3.20,0a1.6,1.6 0 1,0 -3.20,0M260.3,268.2a1.6,1.6 0 1,0 3.20,0a1.6,1.6 0 1,0 -3.20,0M262.5,268.2a1.6,1.6 0 1,0 3.20,0a1.6,1.6 0 1,0 -3.20,0M264.7,268.3a1.6,1.6 0 1,0 3.20,0a1.6,1.6 0 1,0 -3.20,0" fill="none" stroke="#f06a74" stroke-width="0.85"/>
<path d="M34.6,265.5 35.6,265.5 36.6,265.5 37.6,265.6 38.6,265.6 39.6,265.6 40.6,265.6 41.6,265.6 42.6,265.6 43.6,265.6 44.6,265.7 45.6,265.7 46.6,265.7 47.6,265.7 48.6,265.7 49.6,265.7 50.6,265.7 51.6,265.8 52.6,265.8 53.6,265.8 54.6,265.8 55.6,265.8 56.6,265.8 57.6,265.9 58.6,265.9 59.6,265.9 60.6,265.9 61.6,265.9 62.6,265.9 63.6,265.9 64.6,266.0 65.6,266.0 66.6,266.0 67.6,266.0 68.6,266.0 69.6,266.0 70.6,266.0 71.6,266.1 72.6,266.1 73.6,266.1 74.6,266.1 75.6,266.1 76.6,266.1 77.6,266.2 78.6,266.2 79.6,266.2 80.6,266.2 81.6,266.2 82.6,266.2 83.6,266.2 84.6,266.3 85.6,266.3 86.6,266.3 87.6,266.3 88.6,266.3 89.6,266.3 90.6,266.3 91.6,266.3 92.6,266.3 93.6,266.4 94.6,266.4 95.6,266.4 96.6,266.4 97.6,266.4 98.6,266.4 99.6,266.3 100.6,266.3 101.6,266.3 102.6,266.3 103.6,266.2 104.6,266.2 105.6,266.1 106.6,266.0 107.6,266.0 108.6,265.9 109.6,265.8 110.6,265.6 111.6,265.5 112.6,265.3 113.6,265.2 114.6,265.0 115.6,264.8 116.6,264.5 117.6,264.3 118.6,264.1 119.6,263.8 120.6,263.6 121.6,263.3 122.6,263.0 123.6,262.8 124.6,262.5 125.6,262.2 126.6,262.0 127.6,261.7 128.6,261.5 129.6,261.3 130.6,261.1 131.6,260.9 132.6,260.7 133.6,260.5 134.6,260.4 135.6,260.2 136.6,260.1 137.6,259.9 138.6,259.8 139.6,259.7 140.6,259.5 141.6,259.4 142.6,259.3 143.6,259.1 144.6,259.0 145.6,258.8 146.6,258.6 147.6,258.5 148.6,258.3 149.6,258.1 150.6,258.0 151.6,257.8 152.6,257.6 153.6,257.5 154.6,257.3 155.6,257.2 156.6,257.1 157.6,257.0 158.6,256.9 159.6,256.8 160.6,256.8 161.6,256.7 162.6,256.7 163.6,256.6 164.6,256.5 165.6,256.4 166.6,256.3 167.6,256.1 168.6,255.9 169.6,255.6 170.6,255.2 171.6,254.8 172.6,254.3 173.6,253.6 174.6,252.9 175.6,252.1 176.6,251.1 177.6,250.1 178.6,248.9 179.6,247.7 180.6,246.4 181.6,244.9 182.6,243.4 183.6,241.9 184.6,240.3 185.6,238.7 186.6,237.1 187.6,235.5 188.6,234.0 189.6,232.5 190.6,231.1 191.6,229.9 192.6,228.7 193.6,227.7 194.6,226.9 195.6,226.2 196.6,225.7 197.6,225.4 198.6,225.4 199.6,225.5 200.6,225.8 201.6,226.4 202.6,227.1 203.6,228.0 204.6,229.1 205.6,230.3 206.6,231.7 207.6,233.2 208.6,234.8 209.6,236.5 210.6,238.3 211.6,240.1 212.6,241.9 213.6,243.8 214.6,245.6 215.6,247.4 216.6,249.1 217.6,250.8 218.6,252.4 219.6,253.9 220.6,255.4 221.6,256.8 222.6,258.1 223.6,259.2 224.6,260.3 225.6,261.3 226.6,262.2 227.6,263.1 228.6,263.8 229.6,264.5 230.6,265.0 231.6,265.6 232.6,266.0 233.6,266.4 234.6,266.8 235.6,267.1 236.6,267.3 237.6,267.5 238.6,267.7 239.6,267.9 240.6,268.0 241.6,268.1 242.6,268.2 243.6,268.3 244.6,268.4 245.6,268.5 246.6,268.5 247.6,268.6 248.6,268.6 249.6,268.6 250.6,268.7 251.6,268.7 252.6,268.7 253.6,268.7 254.6,268.8 255.6,268.8 256.6,268.8 257.6,268.8 258.6,268.8 259.6,268.9 260.6,268.9 261.6,268.9 262.6,268.9 263.6,268.9 264.6,268.9 265.6,268.9 266.6,269.0 267.6,269.0" fill="none" stroke="#444" stroke-width="0.9" stroke-linejoin="round" opacity="1"/>
<path d="M125.6,320.9 126.6,320.9 127.6,320.8 128.6,320.8 129.6,320.8 130.6,320.7 131.6,320.6 132.6,320.6 133.6,320.5 134.6,320.4 135.6,320.2 136.6,320.1 137.6,319.9 138.6,319.7 139.6,319.4 140.6,319.2 141.6,318.9 142.6,318.5 143.6,318.2 144.6,317.8 145.6,317.4 146.6,317.0 147.6,316.5 148.6,316.1 149.6,315.7 150.6,315.2 151.6,314.8 152.6,314.4 153.6,314.1 154.6,313.8 155.6,313.5 156.6,313.3 157.6,313.2 158.6,313.1 159.6,313.1 160.6,313.1 161.6,313.2 162.6,313.4 163.6,313.7 164.6,313.9 165.6,314.3 166.6,314.7 167.6,315.1 168.6,315.5 169.6,315.9 170.6,316.4 171.6,316.8 172.6,317.2 173.6,317.7 174.6,318.1 175.6,318.4 176.6,318.8 177.6,319.1 178.6,319.4 179.6,319.7 180.6,319.9 181.6,320.1 182.6,320.3 183.6,320.5 184.6,320.6 185.6,320.7 186.6,320.8 187.6,320.9 188.6,321.0 189.6,321.0 190.6,321.1 191.6,321.1 192.6,321.1 193.6,321.1 L193.6,321.2 L125.6,321.0 Z" fill="#b5ee8a" fill-opacity="0.85" stroke="none"/>
<path d="M125.6,320.9 126.6,320.9 127.6,320.8 128.6,320.8 129.6,320.8 130.6,320.7 131.6,320.6 132.6,320.6 133.6,320.5 134.6,320.4 135.6,320.2 136.6,320.1 137.6,319.9 138.6,319.7 139.6,319.4 140.6,319.2 141.6,318.9 142.6,318.5 143.6,318.2 144.6,317.8 145.6,317.4 146.6,317.0 147.6,316.5 148.6,316.1 149.6,315.7 150.6,315.2 151.6,314.8 152.6,314.4 153.6,314.1 154.6,313.8 155.6,313.5 156.6,313.3 157.6,313.2 158.6,313.1 159.6,313.1 160.6,313.1 161.6,313.2 162.6,313.4 163.6,313.7 164.6,313.9 165.6,314.3 166.6,314.7 167.6,315.1 168.6,315.5 169.6,315.9 170.6,316.4 171.6,316.8 172.6,317.2 173.6,317.7 174.6,318.1 175.6,318.4 176.6,318.8 177.6,319.1 178.6,319.4 179.6,319.7 180.6,319.9 181.6,320.1 182.6,320.3 183.6,320.5 184.6,320.6 185.6,320.7 186.6,320.8 187.6,320.9 188.6,321.0 189.6,321.0 190.6,321.1 191.6,321.1 192.6,321.1 193.6,321.1" fill="none" stroke="#7ad04a" stroke-width="0.7"/>
<path d="M153.6,321.0 154.6,321.0 155.6,320.9 156.6,320.9 157.6,320.8 158.6,320.7 159.6,320.6 160.6,320.5 161.6,320.3 162.6,320.1 163.6,319.8 164.6,319.5 165.6,319.2 166.6,318.8 167.6,318.4 168.6,318.0 169.6,317.5 170.6,317.1 171.6,316.6 172.6,316.2 173.6,315.9 174.6,315.6 175.6,315.3 176.6,315.2 177.6,315.2 178.6,315.2 179.6,315.3 180.6,315.5 181.6,315.8 182.6,316.2 183.6,316.6 184.6,317.0 185.6,317.5 186.6,317.9 187.6,318.4 188.6,318.8 189.6,319.2 190.6,319.6 191.6,319.9 192.6,320.1 193.6,320.4 194.6,320.6 195.6,320.7 196.6,320.9 197.6,321.0 198.6,321.0 199.6,321.1 200.6,321.1 201.6,321.2 L201.6,321.2 L153.6,321.1 Z" fill="#3cc6a8" fill-opacity="0.85" stroke="none"/>
<path d="M153.6,321.0 154.6,321.0 155.6,320.9 156.6,320.9 157.6,320.8 158.6,320.7 159.6,320.6 160.6,320.5 161.6,320.3 162.6,320.1 163.6,319.8 164.6,319.5 165.6,319.2 166.6,318.8 167.6,318.4 168.6,318.0 169.6,317.5 170.6,317.1 171.6,316.6 172.6,316.2 173.6,315.9 174.6,315.6 175.6,315.3 176.6,315.2 177.6,315.2 178.6,315.2 179.6,315.3 180.6,315.5 181.6,315.8 182.6,316.2 183.6,316.6 184.6,317.0 185.6,317.5 186.6,317.9 187.6,318.4 188.6,318.8 189.6,319.2 190.6,319.6 191.6,319.9 192.6,320.1 193.6,320.4 194.6,320.6 195.6,320.7 196.6,320.9 197.6,321.0 198.6,321.0 199.6,321.1 200.6,321.1 201.6,321.2" fill="none" stroke="#20a890" stroke-width="0.7"/>
<path d="M100.6,320.8 101.6,320.8 102.6,320.7 103.6,320.7 104.6,320.7 105.6,320.6 106.6,320.5 107.6,320.5 108.6,320.4 109.6,320.2 110.6,320.1 111.6,320.0 112.6,319.8 113.6,319.6 114.6,319.4 115.6,319.1 116.6,318.8 117.6,318.6 118.6,318.2 119.6,317.9 120.6,317.6 121.6,317.2 122.6,316.9 123.6,316.5 124.6,316.2 125.6,315.8 126.6,315.5 127.6,315.3 128.6,315.0 129.6,314.8 130.6,314.7 131.6,314.5 132.6,314.5 133.6,314.5 134.6,314.5 135.6,314.6 136.6,314.8 137.6,315.0 138.6,315.2 139.6,315.5 140.6,315.8 141.6,316.1 142.6,316.5 143.6,316.9 144.6,317.2 145.6,317.6 146.6,317.9 147.6,318.3 148.6,318.6 149.6,318.9 150.6,319.2 151.6,319.4 152.6,319.7 153.6,319.9 154.6,320.1 155.6,320.2 156.6,320.4 157.6,320.5 158.6,320.6 159.6,320.7 160.6,320.8 161.6,320.9 162.6,320.9 163.6,321.0 164.6,321.0 165.6,321.0 166.6,321.0 L166.6,321.1 L100.6,320.9 Z" fill="#f266c0" fill-opacity="0.85" stroke="none"/>
<path d="M100.6,320.8 101.6,320.8 102.6,320.7 103.6,320.7 104.6,320.7 105.6,320.6 106.6,320.5 107.6,320.5 108.6,320.4 109.6,320.2 110.6,320.1 111.6,320.0 112.6,319.8 113.6,319.6 114.6,319.4 115.6,319.1 116.6,318.8 117.6,318.6 118.6,318.2 119.6,317.9 120.6,317.6 121.6,317.2 122.6,316.9 123.6,316.5 124.6,316.2 125.6,315.8 126.6,315.5 127.6,315.3 128.6,315.0 129.6,314.8 130.6,314.7 131.6,314.5 132.6,314.5 133.6,314.5 134.6,314.5 135.6,314.6 136.6,314.8 137.6,315.0 138.6,315.2 139.6,315.5 140.6,315.8 141.6,316.1 142.6,316.5 143.6,316.9 144.6,317.2 145.6,317.6 146.6,317.9 147.6,318.3 148.6,318.6 149.6,318.9 150.6,319.2 151.6,319.4 152.6,319.7 153.6,319.9 154.6,320.1 155.6,320.2 156.6,320.4 157.6,320.5 158.6,320.6 159.6,320.7 160.6,320.8 161.6,320.9 162.6,320.9 163.6,321.0 164.6,321.0 165.6,321.0 166.6,321.0" fill="none" stroke="#e8309a" stroke-width="0.7"/>
<path d="M145.6,320.9 146.6,320.9 147.6,320.9 148.6,320.9 149.6,320.8 150.6,320.8 151.6,320.8 152.6,320.7 153.6,320.6 154.6,320.5 155.6,320.4 156.6,320.3 157.6,320.1 158.6,319.9 159.6,319.7 160.6,319.4 161.6,319.1 162.6,318.8 163.6,318.4 164.6,318.0 165.6,317.5 166.6,316.9 167.6,316.3 168.6,315.6 169.6,314.8 170.6,314.0 171.6,313.1 172.6,312.1 173.6,311.0 174.6,309.8 175.6,308.6 176.6,307.2 177.6,305.8 178.6,304.4 179.6,302.9 180.6,301.3 181.6,299.7 182.6,298.0 183.6,296.4 184.6,294.7 185.6,293.1 186.6,291.5 187.6,289.9 188.6,288.4 189.6,287.0 190.6,285.7 191.6,284.5 192.6,283.4 193.6,282.5 194.6,281.7 195.6,281.1 196.6,280.6 197.6,280.3 198.6,280.2 199.6,280.3 200.6,280.6 201.6,281.0 202.6,281.6 203.6,282.4 204.6,283.4 205.6,284.4 206.6,285.6 207.6,286.9 208.6,288.4 209.6,289.9 210.6,291.4 211.6,293.0 212.6,294.7 213.6,296.3 214.6,298.0 215.6,299.6 216.6,301.3 217.6,302.8 218.6,304.4 219.6,305.9 220.6,307.3 221.6,308.6 222.6,309.9 223.6,311.0 224.6,312.1 225.6,313.2 226.6,314.1 227.6,315.0 228.6,315.8 229.6,316.5 230.6,317.1 231.6,317.7 232.6,318.2 233.6,318.6 234.6,319.0 235.6,319.4 236.6,319.7 237.6,320.0 238.6,320.2 239.6,320.4 240.6,320.6 241.6,320.7 242.6,320.8 243.6,320.9 244.6,321.0 245.6,321.1 246.6,321.2 247.6,321.2 248.6,321.3 249.6,321.3 250.6,321.3 251.6,321.4 252.6,321.4 L252.6,321.4 L145.6,321.0 Z" fill="url(#gb)" fill-opacity="1.0" stroke="none"/>
<path d="M145.6,320.9 146.6,320.9 147.6,320.9 148.6,320.9 149.6,320.8 150.6,320.8 151.6,320.8 152.6,320.7 153.6,320.6 154.6,320.5 155.6,320.4 156.6,320.3 157.6,320.1 158.6,319.9 159.6,319.7 160.6,319.4 161.6,319.1 162.6,318.8 163.6,318.4 164.6,318.0 165.6,317.5 166.6,316.9 167.6,316.3 168.6,315.6 169.6,314.8 170.6,314.0 171.6,313.1 172.6,312.1 173.6,311.0 174.6,309.8 175.6,308.6 176.6,307.2 177.6,305.8 178.6,304.4 179.6,302.9 180.6,301.3 181.6,299.7 182.6,298.0 183.6,296.4 184.6,294.7 185.6,293.1 186.6,291.5 187.6,289.9 188.6,288.4 189.6,287.0 190.6,285.7 191.6,284.5 192.6,283.4 193.6,282.5 194.6,281.7 195.6,281.1 196.6,280.6 197.6,280.3 198.6,280.2 199.6,280.3 200.6,280.6 201.6,281.0 202.6,281.6 203.6,282.4 204.6,283.4 205.6,284.4 206.6,285.6 207.6,286.9 208.6,288.4 209.6,289.9 210.6,291.4 211.6,293.0 212.6,294.7 213.6,296.3 214.6,298.0 215.6,299.6 216.6,301.3 217.6,302.8 218.6,304.4 219.6,305.9 220.6,307.3 221.6,308.6 222.6,309.9 223.6,311.0 224.6,312.1 225.6,313.2 226.6,314.1 227.6,315.0 228.6,315.8 229.6,316.5 230.6,317.1 231.6,317.7 232.6,318.2 233.6,318.6 234.6,319.0 235.6,319.4 236.6,319.7 237.6,320.0 238.6,320.2 239.6,320.4 240.6,320.6 241.6,320.7 242.6,320.8 243.6,320.9 244.6,321.0 245.6,321.1 246.6,321.2 247.6,321.2 248.6,321.3 249.6,321.3 250.6,321.3 251.6,321.4 252.6,321.4" fill="none" stroke="#38a8e0" stroke-width="0.7"/>
<path d="M34.6,320.6 35.6,320.6 36.6,320.6 37.6,320.6 38.6,320.6 39.6,320.6 40.6,320.6 41.6,320.6 42.6,320.6 43.6,320.6 44.6,320.6 45.6,320.6 46.6,320.6 47.6,320.7 48.6,320.7 49.6,320.7 50.6,320.7 51.6,320.7 52.6,320.7 53.6,320.7 54.6,320.7 55.6,320.7 56.6,320.7 57.6,320.7 58.6,320.7 59.6,320.7 60.6,320.7 61.6,320.7 62.6,320.7 63.6,320.7 64.6,320.7 65.6,320.7 66.6,320.7 67.6,320.7 68.6,320.7 69.6,320.7 70.6,320.7 71.6,320.7 72.6,320.7 73.6,320.8 74.6,320.8 75.6,320.8 76.6,320.8 77.6,320.8 78.6,320.8 79.6,320.8 80.6,320.8 81.6,320.8 82.6,320.8 83.6,320.8 84.6,320.8 85.6,320.8 86.6,320.8 87.6,320.8 88.6,320.8 89.6,320.8 90.6,320.8 91.6,320.8 92.6,320.8 93.6,320.8 94.6,320.8 95.6,320.8 96.6,320.8 97.6,320.8 98.6,320.8 99.6,320.9 100.6,320.9 101.6,320.9 102.6,320.9 103.6,320.9 104.6,320.9 105.6,320.9 106.6,320.9 107.6,320.9 108.6,320.9 109.6,320.9 110.6,320.9 111.6,320.9 112.6,320.9 113.6,320.9 114.6,320.9 115.6,320.9 116.6,320.9 117.6,320.9 118.6,320.9 119.6,320.9 120.6,320.9 121.6,320.9 122.6,320.9 123.6,320.9 124.6,320.9 125.6,321.0 126.6,321.0 127.6,321.0 128.6,321.0 129.6,321.0 130.6,321.0 131.6,321.0 132.6,321.0 133.6,321.0 134.6,321.0 135.6,321.0 136.6,321.0 137.6,321.0 138.6,321.0 139.6,321.0 140.6,321.0 141.6,321.0 142.6,321.0 143.6,321.0 144.6,321.0 145.6,321.0 146.6,321.0 147.6,321.0 148.6,321.0 149.6,321.0 150.6,321.0 151.6,321.1 152.6,321.1 153.6,321.1 154.6,321.1 155.6,321.1 156.6,321.1 157.6,321.1 158.6,321.1 159.6,321.1 160.6,321.1 161.6,321.1 162.6,321.1 163.6,321.1 164.6,321.1 165.6,321.1 166.6,321.1 167.6,321.1 168.6,321.1 169.6,321.1 170.6,321.1 171.6,321.1 172.6,321.1 173.6,321.1 174.6,321.1 175.6,321.1 176.6,321.1 177.6,321.1 178.6,321.2 179.6,321.2 180.6,321.2 181.6,321.2 182.6,321.2 183.6,321.2 184.6,321.2 185.6,321.2 186.6,321.2 187.6,321.2 188.6,321.2 189.6,321.2 190.6,321.2 191.6,321.2 192.6,321.2 193.6,321.2 194.6,321.2 195.6,321.2 196.6,321.2 197.6,321.2 198.6,321.2 199.6,321.2 200.6,321.2 201.6,321.2 202.6,321.2 203.6,321.2 204.6,321.3 205.6,321.3 206.6,321.3 207.6,321.3 208.6,321.3 209.6,321.3 210.6,321.3 211.6,321.3 212.6,321.3 213.6,321.3 214.6,321.3 215.6,321.3 216.6,321.3 217.6,321.3 218.6,321.3 219.6,321.3 220.6,321.3 221.6,321.3 222.6,321.3 223.6,321.3 224.6,321.3 225.6,321.3 226.6,321.3 227.6,321.3 228.6,321.3 229.6,321.3 230.6,321.4 231.6,321.4 232.6,321.4 233.6,321.4 234.6,321.4 235.6,321.4 236.6,321.4 237.6,321.4 238.6,321.4 239.6,321.4 240.6,321.4 241.6,321.4 242.6,321.4 243.6,321.4 244.6,321.4 245.6,321.4 246.6,321.4 247.6,321.4 248.6,321.4 249.6,321.4 250.6,321.4 251.6,321.4 252.6,321.4 253.6,321.4 254.6,321.4 255.6,321.4 256.6,321.5 257.6,321.5 258.6,321.5 259.6,321.5 260.6,321.5 261.6,321.5 262.6,321.5 263.6,321.5 264.6,321.5 265.6,321.5 266.6,321.5 267.6,321.5" fill="none" stroke="#70c8f0" stroke-width="1.0" stroke-linejoin="round" opacity="1"/>
<path d="M33.7,319.9a1.6,1.6 0 1,0 3.20,0a1.6,1.6 0 1,0 -3.20,0M35.9,319.9a1.6,1.6 0 1,0 3.20,0a1.6,1.6 0 1,0 -3.20,0M38.1,319.9a1.6,1.6 0 1,0 3.20,0a1.6,1.6 0 1,0 -3.20,0M40.3,319.9a1.6,1.6 0 1,0 3.20,0a1.6,1.6 0 1,0 -3.20,0M42.5,319.9a1.6,1.6 0 1,0 3.20,0a1.6,1.6 0 1,0 -3.20,0M44.7,319.9a1.6,1.6 0 1,0 3.20,0a1.6,1.6 0 1,0 -3.20,0M46.9,320.0a1.6,1.6 0 1,0 3.20,0a1.6,1.6 0 1,0 -3.20,0M49.1,320.0a1.6,1.6 0 1,0 3.20,0a1.6,1.6 0 1,0 -3.20,0M51.3,320.0a1.6,1.6 0 1,0 3.20,0a1.6,1.6 0 1,0 -3.20,0M53.5,320.0a1.6,1.6 0 1,0 3.20,0a1.6,1.6 0 1,0 -3.20,0M55.7,320.0a1.6,1.6 0 1,0 3.20,0a1.6,1.6 0 1,0 -3.20,0M57.9,320.0a1.6,1.6 0 1,0 3.20,0a1.6,1.6 0 1,0 -3.20,0M60.1,320.0a1.6,1.6 0 1,0 3.20,0a1.6,1.6 0 1,0 -3.20,0M62.3,320.0a1.6,1.6 0 1,0 3.20,0a1.6,1.6 0 1,0 -3.20,0M64.5,320.0a1.6,1.6 0 1,0 3.20,0a1.6,1.6 0 1,0 -3.20,0M66.7,320.0a1.6,1.6 0 1,0 3.20,0a1.6,1.6 0 1,0 -3.20,0M68.9,320.0a1.6,1.6 0 1,0 3.20,0a1.6,1.6 0 1,0 -3.20,0M71.1,320.0a1.6,1.6 0 1,0 3.20,0a1.6,1.6 0 1,0 -3.20,0M73.3,320.1a1.6,1.6 0 1,0 3.20,0a1.6,1.6 0 1,0 -3.20,0M75.5,320.1a1.6,1.6 0 1,0 3.20,0a1.6,1.6 0 1,0 -3.20,0M77.7,320.1a1.6,1.6 0 1,0 3.20,0a1.6,1.6 0 1,0 -3.20,0M79.9,320.1a1.6,1.6 0 1,0 3.20,0a1.6,1.6 0 1,0 -3.20,0M82.1,320.1a1.6,1.6 0 1,0 3.20,0a1.6,1.6 0 1,0 -3.20,0M84.3,320.1a1.6,1.6 0 1,0 3.20,0a1.6,1.6 0 1,0 -3.20,0M86.5,320.1a1.6,1.6 0 1,0 3.20,0a1.6,1.6 0 1,0 -3.20,0M88.7,320.1a1.6,1.6 0 1,0 3.20,0a1.6,1.6 0 1,0 -3.20,0M90.9,320.1a1.6,1.6 0 1,0 3.20,0a1.6,1.6 0 1,0 -3.20,0M93.1,320.1a1.6,1.6 0 1,0 3.20,0a1.6,1.6 0 1,0 -3.20,0M95.3,320.1a1.6,1.6 0 1,0 3.20,0a1.6,1.6 0 1,0 -3.20,0M97.5,320.1a1.6,1.6 0 1,0 3.20,0a1.6,1.6 0 1,0 -3.20,0M99.7,320.1a1.6,1.6 0 1,0 3.20,0a1.6,1.6 0 1,0 -3.20,0M101.9,320.0a1.6,1.6 0 1,0 3.20,0a1.6,1.6 0 1,0 -3.20,0M104.1,319.9a1.6,1.6 0 1,0 3.20,0a1.6,1.6 0 1,0 -3.20,0M106.3,319.7a1.6,1.6 0 1,0 3.20,0a1.6,1.6 0 1,0 -3.20,0M108.5,319.5a1.6,1.6 0 1,0 3.20,0a1.6,1.6 0 1,0 -3.20,0M110.7,319.1a1.6,1.6 0 1,0 3.20,0a1.6,1.6 0 1,0 -3.20,0M112.9,318.7a1.6,1.6 0 1,0 3.20,0a1.6,1.6 0 1,0 -3.20,0M115.1,318.1a1.6,1.6 0 1,0 3.20,0a1.6,1.6 0 1,0 -3.20,0M117.3,317.4a1.6,1.6 0 1,0 3.20,0a1.6,1.6 0 1,0 -3.20,0M119.5,316.7a1.6,1.6 0 1,0 3.20,0a1.6,1.6 0 1,0 -3.20,0M121.7,315.9a1.6,1.6 0 1,0 3.20,0a1.6,1.6 0 1,0 -3.20,0M123.9,315.1a1.6,1.6 0 1,0 3.20,0a1.6,1.6 0 1,0 -3.20,0M126.1,314.4a1.6,1.6 0 1,0 3.20,0a1.6,1.6 0 1,0 -3.20,0M128.3,313.8a1.6,1.6 0 1,0 3.20,0a1.6,1.6 0 1,0 -3.20,0M130.5,313.4a1.6,1.6 0 1,0 3.20,0a1.6,1.6 0 1,0 -3.20,0M132.7,313.2a1.6,1.6 0 1,0 3.20,0a1.6,1.6 0 1,0 -3.20,0M134.9,313.2a1.6,1.6 0 1,0 3.20,0a1.6,1.6 0 1,0 -3.20,0M137.1,313.2a1.6,1.6 0 1,0 3.20,0a1.6,1.6 0 1,0 -3.20,0M139.3,313.2a1.6,1.6 0 1,0 3.20,0a1.6,1.6 0 1,0 -3.20,0M141.5,313.3a1.6,1.6 0 1,0 3.20,0a1.6,1.6 0 1,0 -3.20,0M143.7,313.2a1.6,1.6 0 1,0 3.20,0a1.6,1.6 0 1,0 -3.20,0M145.9,312.9a1.6,1.6 0 1,0 3.20,0a1.6,1.6 0 1,0 -3.20,0M148.1,312.6a1.6,1.6 0 1,0 3.20,0a1.6,1.6 0 1,0 -3.20,0M150.3,312.1a1.6,1.6 0 1,0 3.20,0a1.6,1.6 0 1,0 -3.20,0M152.5,311.6a1.6,1.6 0 1,0 3.20,0a1.6,1.6 0 1,0 -3.20,0M154.7,311.0a1.6,1.6 0 1,0 3.20,0a1.6,1.6 0 1,0 -3.20,0M156.9,310.5a1.6,1.6 0 1,0 3.20,0a1.6,1.6 0 1,0 -3.20,0M159.1,309.9a1.6,1.6 0 1,0 3.20,0a1.6,1.6 0 1,0 -3.20,0M161.3,309.1a1.6,1.6 0 1,0 3.20,0a1.6,1.6 0 1,0 -3.20,0M163.5,308.2a1.6,1.6 0 1,0 3.20,0a1.6,1.6 0 1,0 -3.20,0M165.7,307.0a1.6,1.6 0 1,0 3.20,0a1.6,1.6 0 1,0 -3.20,0M167.9,305.4a1.6,1.6 0 1,0 3.20,0a1.6,1.6 0 1,0 -3.20,0M170.1,303.4a1.6,1.6 0 1,0 3.20,0a1.6,1.6 0 1,0 -3.20,0M172.3,301.2a1.6,1.6 0 1,0 3.20,0a1.6,1.6 0 1,0 -3.20,0M174.5,298.8a1.6,1.6 0 1,0 3.20,0a1.6,1.6 0 1,0 -3.20,0M176.7,296.3a1.6,1.6 0 1,0 3.20,0a1.6,1.6 0 1,0 -3.20,0M178.9,293.8a1.6,1.6 0 1,0 3.20,0a1.6,1.6 0 1,0 -3.20,0M181.1,291.4a1.6,1.6 0 1,0 3.20,0a1.6,1.6 0 1,0 -3.20,0M183.3,289.0a1.6,1.6 0 1,0 3.20,0a1.6,1.6 0 1,0 -3.20,0M185.5,286.7a1.6,1.6 0 1,0 3.20,0a1.6,1.6 0 1,0 -3.20,0M187.7,284.4a1.6,1.6 0 1,0 3.20,0a1.6,1.6 0 1,0 -3.20,0M189.9,282.4a1.6,1.6 0 1,0 3.20,0a1.6,1.6 0 1,0 -3.20,0M192.1,280.8a1.6,1.6 0 1,0 3.20,0a1.6,1.6 0 1,0 -3.20,0M194.3,279.7a1.6,1.6 0 1,0 3.20,0a1.6,1.6 0 1,0 -3.20,0M196.5,279.3a1.6,1.6 0 1,0 3.20,0a1.6,1.6 0 1,0 -3.20,0M198.7,279.7a1.6,1.6 0 1,0 3.20,0a1.6,1.6 0 1,0 -3.20,0M200.9,280.8a1.6,1.6 0 1,0 3.20,0a1.6,1.6 0 1,0 -3.20,0M203.1,282.7a1.6,1.6 0 1,0 3.20,0a1.6,1.6 0 1,0 -3.20,0M205.3,285.3a1.6,1.6 0 1,0 3.20,0a1.6,1.6 0 1,0 -3.20,0M207.5,288.4a1.6,1.6 0 1,0 3.20,0a1.6,1.6 0 1,0 -3.20,0M209.7,291.9a1.6,1.6 0 1,0 3.20,0a1.6,1.6 0 1,0 -3.20,0M211.9,295.5a1.6,1.6 0 1,0 3.20,0a1.6,1.6 0 1,0 -3.20,0M214.1,299.1a1.6,1.6 0 1,0 3.20,0a1.6,1.6 0 1,0 -3.20,0M216.3,302.6a1.6,1.6 0 1,0 3.20,0a1.6,1.6 0 1,0 -3.20,0M218.5,305.9a1.6,1.6 0 1,0 3.20,0a1.6,1.6 0 1,0 -3.20,0M220.7,308.8a1.6,1.6 0 1,0 3.20,0a1.6,1.6 0 1,0 -3.20,0M222.9,311.3a1.6,1.6 0 1,0 3.20,0a1.6,1.6 0 1,0 -3.20,0M225.1,313.5a1.6,1.6 0 1,0 3.20,0a1.6,1.6 0 1,0 -3.20,0M227.3,315.3a1.6,1.6 0 1,0 3.20,0a1.6,1.6 0 1,0 -3.20,0M229.5,316.7a1.6,1.6 0 1,0 3.20,0a1.6,1.6 0 1,0 -3.20,0M231.7,317.8a1.6,1.6 0 1,0 3.20,0a1.6,1.6 0 1,0 -3.20,0M233.9,318.7a1.6,1.6 0 1,0 3.20,0a1.6,1.6 0 1,0 -3.20,0M236.1,319.3a1.6,1.6 0 1,0 3.20,0a1.6,1.6 0 1,0 -3.20,0M238.3,319.8a1.6,1.6 0 1,0 3.20,0a1.6,1.6 0 1,0 -3.20,0M240.5,320.1a1.6,1.6 0 1,0 3.20,0a1.6,1.6 0 1,0 -3.20,0M242.7,320.3a1.6,1.6 0 1,0 3.20,0a1.6,1.6 0 1,0 -3.20,0M244.9,320.5a1.6,1.6 0 1,0 3.20,0a1.6,1.6 0 1,0 -3.20,0M247.1,320.6a1.6,1.6 0 1,0 3.20,0a1.6,1.6 0 1,0 -3.20,0M249.3,320.6a1.6,1.6 0 1,0 3.20,0a1.6,1.6 0 1,0 -3.20,0M251.5,320.7a1.6,1.6 0 1,0 3.20,0a1.6,1.6 0 1,0 -3.20,0M253.7,320.7a1.6,1.6 0 1,0 3.20,0a1.6,1.6 0 1,0 -3.20,0M255.9,320.7a1.6,1.6 0 1,0 3.20,0a1.6,1.6 0 1,0 -3.20,0M258.1,320.8a1.6,1.6 0 1,0 3.20,0a1.6,1.6 0 1,0 -3.20,0M260.3,320.8a1.6,1.6 0 1,0 3.20,0a1.6,1.6 0 1,0 -3.20,0M262.5,320.8a1.6,1.6 0 1,0 3.20,0a1.6,1.6 0 1,0 -3.20,0M264.7,320.8a1.6,1.6 0 1,0 3.20,0a1.6,1.6 0 1,0 -3.20,0" fill="none" stroke="#f06a74" stroke-width="0.85"/>
<path d="M34.6,320.6 35.6,320.6 36.6,320.6 37.6,320.6 38.6,320.6 39.6,320.6 40.6,320.6 41.6,320.6 42.6,320.6 43.6,320.6 44.6,320.6 45.6,320.6 46.6,320.6 47.6,320.7 48.6,320.7 49.6,320.7 50.6,320.7 51.6,320.7 52.6,320.7 53.6,320.7 54.6,320.7 55.6,320.7 56.6,320.7 57.6,320.7 58.6,320.7 59.6,320.7 60.6,320.7 61.6,320.7 62.6,320.7 63.6,320.7 64.6,320.7 65.6,320.7 66.6,320.7 67.6,320.7 68.6,320.7 69.6,320.7 70.6,320.7 71.6,320.7 72.6,320.7 73.6,320.8 74.6,320.8 75.6,320.8 76.6,320.8 77.6,320.8 78.6,320.8 79.6,320.8 80.6,320.8 81.6,320.8 82.6,320.8 83.6,320.8 84.6,320.8 85.6,320.8 86.6,320.8 87.6,320.8 88.6,320.8 89.6,320.8 90.6,320.8 91.6,320.8 92.6,320.8 93.6,320.8 94.6,320.8 95.6,320.8 96.6,320.8 97.6,320.8 98.6,320.8 99.6,320.8 100.6,320.8 101.6,320.8 102.6,320.7 103.6,320.7 104.6,320.7 105.6,320.6 106.6,320.5 107.6,320.5 108.6,320.4 109.6,320.2 110.6,320.1 111.6,320.0 112.6,319.8 113.6,319.6 114.6,319.4 115.6,319.1 116.6,318.8 117.6,318.5 118.6,318.2 119.6,317.9 120.6,317.6 121.6,317.2 122.6,316.8 123.6,316.5 124.6,316.1 125.6,315.8 126.6,315.4 127.6,315.1 128.6,314.9 129.6,314.6 130.6,314.4 131.6,314.2 132.6,314.1 133.6,314.0 134.6,313.9 135.6,313.9 136.6,313.8 137.6,313.9 138.6,313.9 139.6,313.9 140.6,313.9 141.6,314.0 142.6,314.0 143.6,313.9 144.6,313.9 145.6,313.8 146.6,313.8 147.6,313.6 148.6,313.5 149.6,313.3 150.6,313.1 151.6,312.9 152.6,312.7 153.6,312.4 154.6,312.2 155.6,311.9 156.6,311.7 157.6,311.4 158.6,311.1 159.6,310.9 160.6,310.6 161.6,310.3 162.6,309.9 163.6,309.6 164.6,309.2 165.6,308.7 166.6,308.1 167.6,307.5 168.6,306.8 169.6,306.0 170.6,305.2 171.6,304.2 172.6,303.3 173.6,302.2 174.6,301.2 175.6,300.0 176.6,298.9 177.6,297.8 178.6,296.7 179.6,295.5 180.6,294.4 181.6,293.3 182.6,292.2 183.6,291.1 184.6,290.0 185.6,288.9 186.6,287.9 187.6,286.8 188.6,285.8 189.6,284.8 190.6,283.9 191.6,283.0 192.6,282.3 193.6,281.6 194.6,281.0 195.6,280.5 196.6,280.2 197.6,280.0 198.6,280.0 199.6,280.2 200.6,280.5 201.6,281.0 202.6,281.6 203.6,282.4 204.6,283.3 205.6,284.4 206.6,285.6 207.6,286.9 208.6,288.4 209.6,289.9 210.6,291.4 211.6,293.0 212.6,294.7 213.6,296.3 214.6,298.0 215.6,299.6 216.6,301.3 217.6,302.8 218.6,304.4 219.6,305.9 220.6,307.3 221.6,308.6 222.6,309.9 223.6,311.0 224.6,312.1 225.6,313.2 226.6,314.1 227.6,315.0 228.6,315.8 229.6,316.5 230.6,317.1 231.6,317.7 232.6,318.2 233.6,318.6 234.6,319.0 235.6,319.4 236.6,319.7 237.6,320.0 238.6,320.2 239.6,320.4 240.6,320.6 241.6,320.7 242.6,320.8 243.6,320.9 244.6,321.0 245.6,321.1 246.6,321.2 247.6,321.2 248.6,321.3 249.6,321.3 250.6,321.3 251.6,321.4 252.6,321.4 253.6,321.4 254.6,321.4 255.6,321.4 256.6,321.4 257.6,321.4 258.6,321.4 259.6,321.5 260.6,321.5 261.6,321.5 262.6,321.5 263.6,321.5 264.6,321.5 265.6,321.5 266.6,321.5 267.6,321.5" fill="none" stroke="#444" stroke-width="0.9" stroke-linejoin="round" opacity="1"/>
<path d="M123.6,378.4 124.6,378.4 125.6,378.4 126.6,378.4 127.6,378.4 128.6,378.3 129.6,378.3 130.6,378.2 131.6,378.2 132.6,378.1 133.6,378.0 134.6,377.9 135.6,377.8 136.6,377.7 137.6,377.5 138.6,377.4 139.6,377.2 140.6,377.0 141.6,376.8 142.6,376.6 143.6,376.3 144.6,376.1 145.6,375.8 146.6,375.5 147.6,375.3 148.6,375.0 149.6,374.7 150.6,374.5 151.6,374.2 152.6,374.0 153.6,373.8 154.6,373.6 155.6,373.5 156.6,373.4 157.6,373.3 158.6,373.3 159.6,373.3 160.6,373.3 161.6,373.4 162.6,373.5 163.6,373.6 164.6,373.8 165.6,374.0 166.6,374.2 167.6,374.5 168.6,374.7 169.6,375.0 170.6,375.3 171.6,375.6 172.6,375.9 173.6,376.1 174.6,376.4 175.6,376.7 176.6,376.9 177.6,377.2 178.6,377.4 179.6,377.6 180.6,377.8 181.6,377.9 182.6,378.1 183.6,378.2 184.6,378.3 185.6,378.5 186.6,378.5 187.6,378.6 188.6,378.7 189.6,378.8 190.6,378.8 191.6,378.9 192.6,378.9 193.6,378.9 194.6,379.0 L194.6,379.0 L123.6,378.5 Z" fill="#b5ee8a" fill-opacity="0.85" stroke="none"/>
<path d="M123.6,378.4 124.6,378.4 125.6,378.4 126.6,378.4 127.6,378.4 128.6,378.3 129.6,378.3 130.6,378.2 131.6,378.2 132.6,378.1 133.6,378.0 134.6,377.9 135.6,377.8 136.6,377.7 137.6,377.5 138.6,377.4 139.6,377.2 140.6,377.0 141.6,376.8 142.6,376.6 143.6,376.3 144.6,376.1 145.6,375.8 146.6,375.5 147.6,375.3 148.6,375.0 149.6,374.7 150.6,374.5 151.6,374.2 152.6,374.0 153.6,373.8 154.6,373.6 155.6,373.5 156.6,373.4 157.6,373.3 158.6,373.3 159.6,373.3 160.6,373.3 161.6,373.4 162.6,373.5 163.6,373.6 164.6,373.8 165.6,374.0 166.6,374.2 167.6,374.5 168.6,374.7 169.6,375.0 170.6,375.3 171.6,375.6 172.6,375.9 173.6,376.1 174.6,376.4 175.6,376.7 176.6,376.9 177.6,377.2 178.6,377.4 179.6,377.6 180.6,377.8 181.6,377.9 182.6,378.1 183.6,378.2 184.6,378.3 185.6,378.5 186.6,378.5 187.6,378.6 188.6,378.7 189.6,378.8 190.6,378.8 191.6,378.9 192.6,378.9 193.6,378.9 194.6,379.0" fill="none" stroke="#7ad04a" stroke-width="0.7"/>
<path d="M107.6,378.3 108.6,378.3 109.6,378.3 110.6,378.3 111.6,378.2 112.6,378.2 113.6,378.2 114.6,378.2 115.6,378.1 116.6,378.1 117.6,378.1 118.6,378.0 119.6,378.0 120.6,377.9 121.6,377.8 122.6,377.8 123.6,377.7 124.6,377.6 125.6,377.5 126.6,377.5 127.6,377.4 128.6,377.3 129.6,377.2 130.6,377.1 131.6,377.0 132.6,376.9 133.6,376.9 134.6,376.8 135.6,376.7 136.6,376.7 137.6,376.6 138.6,376.5 139.6,376.5 140.6,376.5 141.6,376.4 142.6,376.4 143.6,376.4 144.6,376.5 145.6,376.5 146.6,376.5 147.6,376.6 148.6,376.6 149.6,376.7 150.6,376.7 151.6,376.8 152.6,376.9 153.6,377.0 154.6,377.1 155.6,377.2 156.6,377.3 157.6,377.4 158.6,377.5 159.6,377.6 160.6,377.7 161.6,377.8 162.6,377.9 163.6,378.0 164.6,378.1 165.6,378.2 166.6,378.2 167.6,378.3 168.6,378.4 169.6,378.4 170.6,378.5 171.6,378.6 172.6,378.6 173.6,378.6 174.6,378.7 175.6,378.7 176.6,378.8 177.6,378.8 178.6,378.8 179.6,378.8 180.6,378.9 L180.6,378.9 L107.6,378.4 Z" fill="#e6e680" fill-opacity="0.85" stroke="none"/>
<path d="M107.6,378.3 108.6,378.3 109.6,378.3 110.6,378.3 111.6,378.2 112.6,378.2 113.6,378.2 114.6,378.2 115.6,378.1 116.6,378.1 117.6,378.1 118.6,378.0 119.6,378.0 120.6,377.9 121.6,377.8 122.6,377.8 123.6,377.7 124.6,377.6 125.6,377.5 126.6,377.5 127.6,377.4 128.6,377.3 129.6,377.2 130.6,377.1 131.6,377.0 132.6,376.9 133.6,376.9 134.6,376.8 135.6,376.7 136.6,376.7 137.6,376.6 138.6,376.5 139.6,376.5 140.6,376.5 141.6,376.4 142.6,376.4 143.6,376.4 144.6,376.5 145.6,376.5 146.6,376.5 147.6,376.6 148.6,376.6 149.6,376.7 150.6,376.7 151.6,376.8 152.6,376.9 153.6,377.0 154.6,377.1 155.6,377.2 156.6,377.3 157.6,377.4 158.6,377.5 159.6,377.6 160.6,377.7 161.6,377.8 162.6,377.9 163.6,378.0 164.6,378.1 165.6,378.2 166.6,378.2 167.6,378.3 168.6,378.4 169.6,378.4 170.6,378.5 171.6,378.6 172.6,378.6 173.6,378.6 174.6,378.7 175.6,378.7 176.6,378.8 177.6,378.8 178.6,378.8 179.6,378.8 180.6,378.9" fill="none" stroke="#c8c850" stroke-width="0.7"/>
<path d="M99.6,378.2 100.6,378.2 101.6,378.2 102.6,378.2 103.6,378.1 104.6,378.1 105.6,378.0 106.6,378.0 107.6,377.9 108.6,377.8 109.6,377.6 110.6,377.5 111.6,377.3 112.6,377.1 113.6,376.9 114.6,376.7 115.6,376.4 116.6,376.2 117.6,375.9 118.6,375.6 119.6,375.3 120.6,375.0 121.6,374.7 122.6,374.4 123.6,374.1 124.6,373.8 125.6,373.6 126.6,373.4 127.6,373.2 128.6,373.1 129.6,373.1 130.6,373.0 131.6,373.1 132.6,373.2 133.6,373.3 134.6,373.5 135.6,373.7 136.6,373.9 137.6,374.2 138.6,374.5 139.6,374.8 140.6,375.1 141.6,375.4 142.6,375.8 143.6,376.1 144.6,376.4 145.6,376.7 146.6,376.9 147.6,377.2 148.6,377.4 149.6,377.6 150.6,377.8 151.6,378.0 152.6,378.1 153.6,378.2 154.6,378.3 155.6,378.4 156.6,378.5 157.6,378.5 158.6,378.6 159.6,378.6 160.6,378.7 161.6,378.7 L161.6,378.8 L99.6,378.3 Z" fill="#f266c0" fill-opacity="0.85" stroke="none"/>
<path d="M99.6,378.2 100.6,378.2 101.6,378.2 102.6,378.2 103.6,378.1 104.6,378.1 105.6,378.0 106.6,378.0 107.6,377.9 108.6,377.8 109.6,377.6 110.6,377.5 111.6,377.3 112.6,377.1 113.6,376.9 114.6,376.7 115.6,376.4 116.6,376.2 117.6,375.9 118.6,375.6 119.6,375.3 120.6,375.0 121.6,374.7 122.6,374.4 123.6,374.1 124.6,373.8 125.6,373.6 126.6,373.4 127.6,373.2 128.6,373.1 129.6,373.1 130.6,373.0 131.6,373.1 132.6,373.2 133.6,373.3 134.6,373.5 135.6,373.7 136.6,373.9 137.6,374.2 138.6,374.5 139.6,374.8 140.6,375.1 141.6,375.4 142.6,375.8 143.6,376.1 144.6,376.4 145.6,376.7 146.6,376.9 147.6,377.2 148.6,377.4 149.6,377.6 150.6,377.8 151.6,378.0 152.6,378.1 153.6,378.2 154.6,378.3 155.6,378.4 156.6,378.5 157.6,378.5 158.6,378.6 159.6,378.6 160.6,378.7 161.6,378.7" fill="none" stroke="#e8309a" stroke-width="0.7"/>
<path d="M144.6,378.6 145.6,378.6 146.6,378.6 147.6,378.5 148.6,378.5 149.6,378.5 150.6,378.4 151.6,378.3 152.6,378.3 153.6,378.2 154.6,378.0 155.6,377.9 156.6,377.7 157.6,377.5 158.6,377.2 159.6,376.9 160.6,376.5 161.6,376.1 162.6,375.6 163.6,375.0 164.6,374.4 165.6,373.7 166.6,372.8 167.6,371.9 168.6,370.9 169.6,369.8 170.6,368.5 171.6,367.2 172.6,365.8 173.6,364.2 174.6,362.6 175.6,360.9 176.6,359.1 177.6,357.3 178.6,355.4 179.6,353.4 180.6,351.5 181.6,349.6 182.6,347.7 183.6,345.9 184.6,344.2 185.6,342.6 186.6,341.1 187.6,339.8 188.6,338.6 189.6,337.7 190.6,336.9 191.6,336.4 192.6,336.1 193.6,336.0 194.6,336.2 195.6,336.6 196.6,337.2 197.6,338.1 198.6,339.1 199.6,340.3 200.6,341.8 201.6,343.3 202.6,345.0 203.6,346.7 204.6,348.6 205.6,350.5 206.6,352.4 207.6,354.4 208.6,356.3 209.6,358.2 210.6,360.0 211.6,361.8 212.6,363.5 213.6,365.1 214.6,366.6 215.6,368.0 216.6,369.4 217.6,370.6 218.6,371.7 219.6,372.7 220.6,373.6 221.6,374.4 222.6,375.1 223.6,375.7 224.6,376.3 225.6,376.8 226.6,377.2 227.6,377.5 228.6,377.8 229.6,378.1 230.6,378.3 231.6,378.5 232.6,378.7 233.6,378.8 234.6,378.9 235.6,379.0 236.6,379.1 237.6,379.2 238.6,379.2 239.6,379.2 240.6,379.3 241.6,379.3 L241.6,379.4 L144.6,378.6 Z" fill="url(#gb)" fill-opacity="1.0" stroke="none"/>
<path d="M144.6,378.6 145.6,378.6 146.6,378.6 147.6,378.5 148.6,378.5 149.6,378.5 150.6,378.4 151.6,378.3 152.6,378.3 153.6,378.2 154.6,378.0 155.6,377.9 156.6,377.7 157.6,377.5 158.6,377.2 159.6,376.9 160.6,376.5 161.6,376.1 162.6,375.6 163.6,375.0 164.6,374.4 165.6,373.7 166.6,372.8 167.6,371.9 168.6,370.9 169.6,369.8 170.6,368.5 171.6,367.2 172.6,365.8 173.6,364.2 174.6,362.6 175.6,360.9 176.6,359.1 177.6,357.3 178.6,355.4 179.6,353.4 180.6,351.5 181.6,349.6 182.6,347.7 183.6,345.9 184.6,344.2 185.6,342.6 186.6,341.1 187.6,339.8 188.6,338.6 189.6,337.7 190.6,336.9 191.6,336.4 192.6,336.1 193.6,336.0 194.6,336.2 195.6,336.6 196.6,337.2 197.6,338.1 198.6,339.1 199.6,340.3 200.6,341.8 201.6,343.3 202.6,345.0 203.6,346.7 204.6,348.6 205.6,350.5 206.6,352.4 207.6,354.4 208.6,356.3 209.6,358.2 210.6,360.0 211.6,361.8 212.6,363.5 213.6,365.1 214.6,366.6 215.6,368.0 216.6,369.4 217.6,370.6 218.6,371.7 219.6,372.7 220.6,373.6 221.6,374.4 222.6,375.1 223.6,375.7 224.6,376.3 225.6,376.8 226.6,377.2 227.6,377.5 228.6,377.8 229.6,378.1 230.6,378.3 231.6,378.5 232.6,378.7 233.6,378.8 234.6,378.9 235.6,379.0 236.6,379.1 237.6,379.2 238.6,379.2 239.6,379.2 240.6,379.3 241.6,379.3" fill="none" stroke="#38a8e0" stroke-width="0.7"/>
<path d="M34.6,377.8 35.6,377.8 36.6,377.8 37.6,377.8 38.6,377.8 39.6,377.8 40.6,377.9 41.6,377.9 42.6,377.9 43.6,377.9 44.6,377.9 45.6,377.9 46.6,377.9 47.6,377.9 48.6,377.9 49.6,377.9 50.6,377.9 51.6,377.9 52.6,377.9 53.6,378.0 54.6,378.0 55.6,378.0 56.6,378.0 57.6,378.0 58.6,378.0 59.6,378.0 60.6,378.0 61.6,378.0 62.6,378.0 63.6,378.0 64.6,378.0 65.6,378.0 66.6,378.1 67.6,378.1 68.6,378.1 69.6,378.1 70.6,378.1 71.6,378.1 72.6,378.1 73.6,378.1 74.6,378.1 75.6,378.1 76.6,378.1 77.6,378.1 78.6,378.1 79.6,378.2 80.6,378.2 81.6,378.2 82.6,378.2 83.6,378.2 84.6,378.2 85.6,378.2 86.6,378.2 87.6,378.2 88.6,378.2 89.6,378.2 90.6,378.2 91.6,378.2 92.6,378.2 93.6,378.3 94.6,378.3 95.6,378.3 96.6,378.3 97.6,378.3 98.6,378.3 99.6,378.3 100.6,378.3 101.6,378.3 102.6,378.3 103.6,378.3 104.6,378.3 105.6,378.3 106.6,378.4 107.6,378.4 108.6,378.4 109.6,378.4 110.6,378.4 111.6,378.4 112.6,378.4 113.6,378.4 114.6,378.4 115.6,378.4 116.6,378.4 117.6,378.4 118.6,378.4 119.6,378.5 120.6,378.5 121.6,378.5 122.6,378.5 123.6,378.5 124.6,378.5 125.6,378.5 126.6,378.5 127.6,378.5 128.6,378.5 129.6,378.5 130.6,378.5 131.6,378.5 132.6,378.6 133.6,378.6 134.6,378.6 135.6,378.6 136.6,378.6 137.6,378.6 138.6,378.6 139.6,378.6 140.6,378.6 141.6,378.6 142.6,378.6 143.6,378.6 144.6,378.6 145.6,378.7 146.6,378.7 147.6,378.7 148.6,378.7 149.6,378.7 150.6,378.7 151.6,378.7 152.6,378.7 153.6,378.7 154.6,378.7 155.6,378.7 156.6,378.7 157.6,378.7 158.6,378.8 159.6,378.8 160.6,378.8 161.6,378.8 162.6,378.8 163.6,378.8 164.6,378.8 165.6,378.8 166.6,378.8 167.6,378.8 168.6,378.8 169.6,378.8 170.6,378.8 171.6,378.9 172.6,378.9 173.6,378.9 174.6,378.9 175.6,378.9 176.6,378.9 177.6,378.9 178.6,378.9 179.6,378.9 180.6,378.9 181.6,378.9 182.6,378.9 183.6,378.9 184.6,379.0 185.6,379.0 186.6,379.0 187.6,379.0 188.6,379.0 189.6,379.0 190.6,379.0 191.6,379.0 192.6,379.0 193.6,379.0 194.6,379.0 195.6,379.0 196.6,379.0 197.6,379.1 198.6,379.1 199.6,379.1 200.6,379.1 201.6,379.1 202.6,379.1 203.6,379.1 204.6,379.1 205.6,379.1 206.6,379.1 207.6,379.1 208.6,379.1 209.6,379.1 210.6,379.2 211.6,379.2 212.6,379.2 213.6,379.2 214.6,379.2 215.6,379.2 216.6,379.2 217.6,379.2 218.6,379.2 219.6,379.2 220.6,379.2 221.6,379.2 222.6,379.2 223.6,379.3 224.6,379.3 225.6,379.3 226.6,379.3 227.6,379.3 228.6,379.3 229.6,379.3 230.6,379.3 231.6,379.3 232.6,379.3 233.6,379.3 234.6,379.3 235.6,379.3 236.6,379.4 237.6,379.4 238.6,379.4 239.6,379.4 240.6,379.4 241.6,379.4 242.6,379.4 243.6,379.4 244.6,379.4 245.6,379.4 246.6,379.4 247.6,379.4 248.6,379.4 249.6,379.4 250.6,379.5 251.6,379.5 252.6,379.5 253.6,379.5 254.6,379.5 255.6,379.5 256.6,379.5 257.6,379.5 258.6,379.5 259.6,379.5 260.6,379.5 261.6,379.5 262.6,379.5 263.6,379.6 264.6,379.6 265.6,379.6 266.6,379.6 267.6,379.6" fill="none" stroke="#e040c0" stroke-width="1.0" stroke-linejoin="round" opacity="1"/>
<path d="M33.7,377.1a1.6,1.6 0 1,0 3.20,0a1.6,1.6 0 1,0 -3.20,0M35.9,377.1a1.6,1.6 0 1,0 3.20,0a1.6,1.6 0 1,0 -3.20,0M38.1,377.1a1.6,1.6 0 1,0 3.20,0a1.6,1.6 0 1,0 -3.20,0M40.3,377.2a1.6,1.6 0 1,0 3.20,0a1.6,1.6 0 1,0 -3.20,0M42.5,377.2a1.6,1.6 0 1,0 3.20,0a1.6,1.6 0 1,0 -3.20,0M44.7,377.2a1.6,1.6 0 1,0 3.20,0a1.6,1.6 0 1,0 -3.20,0M46.9,377.2a1.6,1.6 0 1,0 3.20,0a1.6,1.6 0 1,0 -3.20,0M49.1,377.2a1.6,1.6 0 1,0 3.20,0a1.6,1.6 0 1,0 -3.20,0M51.3,377.2a1.6,1.6 0 1,0 3.20,0a1.6,1.6 0 1,0 -3.20,0M53.5,377.3a1.6,1.6 0 1,0 3.20,0a1.6,1.6 0 1,0 -3.20,0M55.7,377.3a1.6,1.6 0 1,0 3.20,0a1.6,1.6 0 1,0 -3.20,0M57.9,377.3a1.6,1.6 0 1,0 3.20,0a1.6,1.6 0 1,0 -3.20,0M60.1,377.3a1.6,1.6 0 1,0 3.20,0a1.6,1.6 0 1,0 -3.20,0M62.3,377.3a1.6,1.6 0 1,0 3.20,0a1.6,1.6 0 1,0 -3.20,0M64.5,377.3a1.6,1.6 0 1,0 3.20,0a1.6,1.6 0 1,0 -3.20,0M66.7,377.4a1.6,1.6 0 1,0 3.20,0a1.6,1.6 0 1,0 -3.20,0M68.9,377.4a1.6,1.6 0 1,0 3.20,0a1.6,1.6 0 1,0 -3.20,0M71.1,377.4a1.6,1.6 0 1,0 3.20,0a1.6,1.6 0 1,0 -3.20,0M73.3,377.4a1.6,1.6 0 1,0 3.20,0a1.6,1.6 0 1,0 -3.20,0M75.5,377.4a1.6,1.6 0 1,0 3.20,0a1.6,1.6 0 1,0 -3.20,0M77.7,377.4a1.6,1.6 0 1,0 3.20,0a1.6,1.6 0 1,0 -3.20,0M79.9,377.5a1.6,1.6 0 1,0 3.20,0a1.6,1.6 0 1,0 -3.20,0M82.1,377.5a1.6,1.6 0 1,0 3.20,0a1.6,1.6 0 1,0 -3.20,0M84.3,377.5a1.6,1.6 0 1,0 3.20,0a1.6,1.6 0 1,0 -3.20,0M86.5,377.5a1.6,1.6 0 1,0 3.20,0a1.6,1.6 0 1,0 -3.20,0M88.7,377.5a1.6,1.6 0 1,0 3.20,0a1.6,1.6 0 1,0 -3.20,0M90.9,377.5a1.6,1.6 0 1,0 3.20,0a1.6,1.6 0 1,0 -3.20,0M93.1,377.5a1.6,1.6 0 1,0 3.20,0a1.6,1.6 0 1,0 -3.20,0M95.3,377.5a1.6,1.6 0 1,0 3.20,0a1.6,1.6 0 1,0 -3.20,0M97.5,377.5a1.6,1.6 0 1,0 3.20,0a1.6,1.6 0 1,0 -3.20,0M99.7,377.5a1.6,1.6 0 1,0 3.20,0a1.6,1.6 0 1,0 -3.20,0M101.9,377.4a1.6,1.6 0 1,0 3.20,0a1.6,1.6 0 1,0 -3.20,0M104.1,377.3a1.6,1.6 0 1,0 3.20,0a1.6,1.6 0 1,0 -3.20,0M106.3,377.1a1.6,1.6 0 1,0 3.20,0a1.6,1.6 0 1,0 -3.20,0M108.5,376.7a1.6,1.6 0 1,0 3.20,0a1.6,1.6 0 1,0 -3.20,0M110.7,376.3a1.6,1.6 0 1,0 3.20,0a1.6,1.6 0 1,0 -3.20,0M112.9,375.8a1.6,1.6 0 1,0 3.20,0a1.6,1.6 0 1,0 -3.20,0M115.1,375.1a1.6,1.6 0 1,0 3.20,0a1.6,1.6 0 1,0 -3.20,0M117.3,374.3a1.6,1.6 0 1,0 3.20,0a1.6,1.6 0 1,0 -3.20,0M119.5,373.5a1.6,1.6 0 1,0 3.20,0a1.6,1.6 0 1,0 -3.20,0M121.7,372.7a1.6,1.6 0 1,0 3.20,0a1.6,1.6 0 1,0 -3.20,0M123.9,371.9a1.6,1.6 0 1,0 3.20,0a1.6,1.6 0 1,0 -3.20,0M126.1,371.2a1.6,1.6 0 1,0 3.20,0a1.6,1.6 0 1,0 -3.20,0M128.3,370.7a1.6,1.6 0 1,0 3.20,0a1.6,1.6 0 1,0 -3.20,0M130.5,370.4a1.6,1.6 0 1,0 3.20,0a1.6,1.6 0 1,0 -3.20,0M132.7,370.3a1.6,1.6 0 1,0 3.20,0a1.6,1.6 0 1,0 -3.20,0M134.9,370.4a1.6,1.6 0 1,0 3.20,0a1.6,1.6 0 1,0 -3.20,0M137.1,370.5a1.6,1.6 0 1,0 3.20,0a1.6,1.6 0 1,0 -3.20,0M139.3,370.7a1.6,1.6 0 1,0 3.20,0a1.6,1.6 0 1,0 -3.20,0M141.5,370.8a1.6,1.6 0 1,0 3.20,0a1.6,1.6 0 1,0 -3.20,0M143.7,370.9a1.6,1.6 0 1,0 3.20,0a1.6,1.6 0 1,0 -3.20,0M145.9,370.8a1.6,1.6 0 1,0 3.20,0a1.6,1.6 0 1,0 -3.20,0M148.1,370.7a1.6,1.6 0 1,0 3.20,0a1.6,1.6 0 1,0 -3.20,0M150.3,370.5a1.6,1.6 0 1,0 3.20,0a1.6,1.6 0 1,0 -3.20,0M152.5,370.3a1.6,1.6 0 1,0 3.20,0a1.6,1.6 0 1,0 -3.20,0M154.7,370.0a1.6,1.6 0 1,0 3.20,0a1.6,1.6 0 1,0 -3.20,0M156.9,369.6a1.6,1.6 0 1,0 3.20,0a1.6,1.6 0 1,0 -3.20,0M159.1,369.2a1.6,1.6 0 1,0 3.20,0a1.6,1.6 0 1,0 -3.20,0M161.3,368.6a1.6,1.6 0 1,0 3.20,0a1.6,1.6 0 1,0 -3.20,0M163.5,367.7a1.6,1.6 0 1,0 3.20,0a1.6,1.6 0 1,0 -3.20,0M165.7,366.5a1.6,1.6 0 1,0 3.20,0a1.6,1.6 0 1,0 -3.20,0M167.9,364.9a1.6,1.6 0 1,0 3.20,0a1.6,1.6 0 1,0 -3.20,0M170.1,362.8a1.6,1.6 0 1,0 3.20,0a1.6,1.6 0 1,0 -3.20,0M172.3,360.2a1.6,1.6 0 1,0 3.20,0a1.6,1.6 0 1,0 -3.20,0M174.5,357.0a1.6,1.6 0 1,0 3.20,0a1.6,1.6 0 1,0 -3.20,0M176.7,353.5a1.6,1.6 0 1,0 3.20,0a1.6,1.6 0 1,0 -3.20,0M178.9,349.8a1.6,1.6 0 1,0 3.20,0a1.6,1.6 0 1,0 -3.20,0M181.1,346.0a1.6,1.6 0 1,0 3.20,0a1.6,1.6 0 1,0 -3.20,0M183.3,342.4a1.6,1.6 0 1,0 3.20,0a1.6,1.6 0 1,0 -3.20,0M185.5,339.3a1.6,1.6 0 1,0 3.20,0a1.6,1.6 0 1,0 -3.20,0M187.7,337.0a1.6,1.6 0 1,0 3.20,0a1.6,1.6 0 1,0 -3.20,0M189.9,335.6a1.6,1.6 0 1,0 3.20,0a1.6,1.6 0 1,0 -3.20,0M192.1,335.2a1.6,1.6 0 1,0 3.20,0a1.6,1.6 0 1,0 -3.20,0M194.3,336.0a1.6,1.6 0 1,0 3.20,0a1.6,1.6 0 1,0 -3.20,0M196.5,337.9a1.6,1.6 0 1,0 3.20,0a1.6,1.6 0 1,0 -3.20,0M198.7,340.6a1.6,1.6 0 1,0 3.20,0a1.6,1.6 0 1,0 -3.20,0M200.9,344.1a1.6,1.6 0 1,0 3.20,0a1.6,1.6 0 1,0 -3.20,0M203.1,348.1a1.6,1.6 0 1,0 3.20,0a1.6,1.6 0 1,0 -3.20,0M205.3,352.3a1.6,1.6 0 1,0 3.20,0a1.6,1.6 0 1,0 -3.20,0M207.5,356.5a1.6,1.6 0 1,0 3.20,0a1.6,1.6 0 1,0 -3.20,0M209.7,360.6a1.6,1.6 0 1,0 3.20,0a1.6,1.6 0 1,0 -3.20,0M211.9,364.2a1.6,1.6 0 1,0 3.20,0a1.6,1.6 0 1,0 -3.20,0M214.1,367.5a1.6,1.6 0 1,0 3.20,0a1.6,1.6 0 1,0 -3.20,0M216.3,370.2a1.6,1.6 0 1,0 3.20,0a1.6,1.6 0 1,0 -3.20,0M218.5,372.4a1.6,1.6 0 1,0 3.20,0a1.6,1.6 0 1,0 -3.20,0M220.7,374.2a1.6,1.6 0 1,0 3.20,0a1.6,1.6 0 1,0 -3.20,0M222.9,375.5a1.6,1.6 0 1,0 3.20,0a1.6,1.6 0 1,0 -3.20,0M225.1,376.5a1.6,1.6 0 1,0 3.20,0a1.6,1.6 0 1,0 -3.20,0M227.3,377.2a1.6,1.6 0 1,0 3.20,0a1.6,1.6 0 1,0 -3.20,0M229.5,377.7a1.6,1.6 0 1,0 3.20,0a1.6,1.6 0 1,0 -3.20,0M231.7,378.1a1.6,1.6 0 1,0 3.20,0a1.6,1.6 0 1,0 -3.20,0M233.9,378.3a1.6,1.6 0 1,0 3.20,0a1.6,1.6 0 1,0 -3.20,0M236.1,378.5a1.6,1.6 0 1,0 3.20,0a1.6,1.6 0 1,0 -3.20,0M238.3,378.6a1.6,1.6 0 1,0 3.20,0a1.6,1.6 0 1,0 -3.20,0M240.5,378.6a1.6,1.6 0 1,0 3.20,0a1.6,1.6 0 1,0 -3.20,0M242.7,378.7a1.6,1.6 0 1,0 3.20,0a1.6,1.6 0 1,0 -3.20,0M244.9,378.7a1.6,1.6 0 1,0 3.20,0a1.6,1.6 0 1,0 -3.20,0M247.1,378.7a1.6,1.6 0 1,0 3.20,0a1.6,1.6 0 1,0 -3.20,0M249.3,378.8a1.6,1.6 0 1,0 3.20,0a1.6,1.6 0 1,0 -3.20,0M251.5,378.8a1.6,1.6 0 1,0 3.20,0a1.6,1.6 0 1,0 -3.20,0M253.7,378.8a1.6,1.6 0 1,0 3.20,0a1.6,1.6 0 1,0 -3.20,0M255.9,378.8a1.6,1.6 0 1,0 3.20,0a1.6,1.6 0 1,0 -3.20,0M258.1,378.8a1.6,1.6 0 1,0 3.20,0a1.6,1.6 0 1,0 -3.20,0M260.3,378.8a1.6,1.6 0 1,0 3.20,0a1.6,1.6 0 1,0 -3.20,0M262.5,378.9a1.6,1.6 0 1,0 3.20,0a1.6,1.6 0 1,0 -3.20,0M264.7,378.9a1.6,1.6 0 1,0 3.20,0a1.6,1.6 0 1,0 -3.20,0" fill="none" stroke="#f06a74" stroke-width="0.85"/>
<path d="M34.6,377.8 35.6,377.8 36.6,377.8 37.6,377.8 38.6,377.8 39.6,377.8 40.6,377.9 41.6,377.9 42.6,377.9 43.6,377.9 44.6,377.9 45.6,377.9 46.6,377.9 47.6,377.9 48.6,377.9 49.6,377.9 50.6,377.9 51.6,377.9 52.6,377.9 53.6,378.0 54.6,378.0 55.6,378.0 56.6,378.0 57.6,378.0 58.6,378.0 59.6,378.0 60.6,378.0 61.6,378.0 62.6,378.0 63.6,378.0 64.6,378.0 65.6,378.0 66.6,378.1 67.6,378.1 68.6,378.1 69.6,378.1 70.6,378.1 71.6,378.1 72.6,378.1 73.6,378.1 74.6,378.1 75.6,378.1 76.6,378.1 77.6,378.1 78.6,378.1 79.6,378.1 80.6,378.2 81.6,378.2 82.6,378.2 83.6,378.2 84.6,378.2 85.6,378.2 86.6,378.2 87.6,378.2 88.6,378.2 89.6,378.2 90.6,378.2 91.6,378.2 92.6,378.2 93.6,378.2 94.6,378.2 95.6,378.2 96.6,378.2 97.6,378.2 98.6,378.2 99.6,378.2 100.6,378.2 101.6,378.2 102.6,378.1 103.6,378.1 104.6,378.0 105.6,378.0 106.6,377.9 107.6,377.8 108.6,377.7 109.6,377.5 110.6,377.4 111.6,377.2 112.6,377.0 113.6,376.7 114.6,376.4 115.6,376.1 116.6,375.8 117.6,375.5 118.6,375.1 119.6,374.8 120.6,374.4 121.6,374.0 122.6,373.6 123.6,373.2 124.6,372.9 125.6,372.5 126.6,372.2 127.6,371.9 128.6,371.7 129.6,371.5 130.6,371.3 131.6,371.2 132.6,371.1 133.6,371.0 134.6,371.0 135.6,371.0 136.6,371.1 137.6,371.1 138.6,371.2 139.6,371.3 140.6,371.3 141.6,371.4 142.6,371.5 143.6,371.5 144.6,371.6 145.6,371.6 146.6,371.6 147.6,371.5 148.6,371.5 149.6,371.4 150.6,371.4 151.6,371.3 152.6,371.2 153.6,371.1 154.6,370.9 155.6,370.8 156.6,370.6 157.6,370.5 158.6,370.3 159.6,370.1 160.6,369.9 161.6,369.7 162.6,369.4 163.6,369.0 164.6,368.6 165.6,368.2 166.6,367.6 167.6,367.0 168.6,366.3 169.6,365.5 170.6,364.6 171.6,363.6 172.6,362.5 173.6,361.3 174.6,359.9 175.6,358.5 176.6,357.0 177.6,355.4 178.6,353.7 179.6,352.0 180.6,350.3 181.6,348.6 182.6,346.8 183.6,345.2 184.6,343.6 185.6,342.1 186.6,340.7 187.6,339.4 188.6,338.3 189.6,337.4 190.6,336.7 191.6,336.2 192.6,336.0 193.6,335.9 194.6,336.1 195.6,336.5 196.6,337.2 197.6,338.0 198.6,339.1 199.6,340.3 200.6,341.7 201.6,343.3 202.6,345.0 203.6,346.7 204.6,348.6 205.6,350.5 206.6,352.4 207.6,354.4 208.6,356.3 209.6,358.2 210.6,360.0 211.6,361.8 212.6,363.5 213.6,365.1 214.6,366.6 215.6,368.0 216.6,369.4 217.6,370.6 218.6,371.7 219.6,372.7 220.6,373.6 221.6,374.4 222.6,375.1 223.6,375.7 224.6,376.3 225.6,376.8 226.6,377.2 227.6,377.5 228.6,377.8 229.6,378.1 230.6,378.3 231.6,378.5 232.6,378.7 233.6,378.8 234.6,378.9 235.6,379.0 236.6,379.1 237.6,379.2 238.6,379.2 239.6,379.2 240.6,379.3 241.6,379.3 242.6,379.3 243.6,379.4 244.6,379.4 245.6,379.4 246.6,379.4 247.6,379.4 248.6,379.4 249.6,379.4 250.6,379.5 251.6,379.5 252.6,379.5 253.6,379.5 254.6,379.5 255.6,379.5 256.6,379.5 257.6,379.5 258.6,379.5 259.6,379.5 260.6,379.5 261.6,379.5 262.6,379.5 263.6,379.6 264.6,379.6 265.6,379.6 266.6,379.6 267.6,379.6" fill="none" stroke="#444" stroke-width="0.9" stroke-linejoin="round" opacity="1"/>
<rect x="33.8" y="220.8" width="235.50" height="164.00" fill="none" stroke="#222" stroke-width="1.3"/>
<line x1="269.30" y1="384.80" x2="269.30" y2="387.40" stroke="#222" stroke-width="1.0" stroke-linecap="butt"/>
<text x="269.30" y="395.00" font-size="8.8" text-anchor="middle" fill="#111" style="stroke-width:0.3px">396</text>
<line x1="243.13" y1="384.80" x2="243.13" y2="386.40" stroke="#222" stroke-width="1.0" stroke-linecap="butt"/>
<line x1="216.97" y1="384.80" x2="216.97" y2="387.40" stroke="#222" stroke-width="1.0" stroke-linecap="butt"/>
<text x="216.97" y="395.00" font-size="8.8" text-anchor="middle" fill="#111" style="stroke-width:0.3px">398</text>
<line x1="190.80" y1="384.80" x2="190.80" y2="386.40" stroke="#222" stroke-width="1.0" stroke-linecap="butt"/>
<line x1="164.63" y1="384.80" x2="164.63" y2="387.40" stroke="#222" stroke-width="1.0" stroke-linecap="butt"/>
<text x="164.63" y="395.00" font-size="8.8" text-anchor="middle" fill="#111" style="stroke-width:0.3px">400</text>
<line x1="138.47" y1="384.80" x2="138.47" y2="386.40" stroke="#222" stroke-width="1.0" stroke-linecap="butt"/>
<line x1="112.30" y1="384.80" x2="112.30" y2="387.40" stroke="#222" stroke-width="1.0" stroke-linecap="butt"/>
<text x="112.30" y="395.00" font-size="8.8" text-anchor="middle" fill="#111" style="stroke-width:0.3px">402</text>
<line x1="86.13" y1="384.80" x2="86.13" y2="386.40" stroke="#222" stroke-width="1.0" stroke-linecap="butt"/>
<line x1="59.97" y1="384.80" x2="59.97" y2="387.40" stroke="#222" stroke-width="1.0" stroke-linecap="butt"/>
<text x="59.97" y="395.00" font-size="8.8" text-anchor="middle" fill="#111" style="stroke-width:0.3px">404</text>
<line x1="33.80" y1="384.80" x2="33.80" y2="386.40" stroke="#222" stroke-width="1.0" stroke-linecap="butt"/>
<text x="154.50" y="402.50" font-size="8.9" text-anchor="middle" fill="#111" style="stroke-width:0.3px">Binding energy (eV)</text>
<text x="30.40" y="296.50" font-size="8.9" text-anchor="middle" fill="#111" style="stroke-width:0.3px" transform="rotate(-90 30.40 296.50)">Intensity (a.u.)</text>
<text x="4.00" y="233.10" font-size="23" text-anchor="start" fill="#111" style="font-weight:normal;stroke:none">(c)</text>
<line x1="49.00" y1="250.00" x2="49.00" y2="283.00" stroke="#222" stroke-width="1.3" stroke-dasharray="5.2,3.6" stroke-linecap="butt"/>
<line x1="132.80" y1="246.50" x2="132.80" y2="329.50" stroke="#222" stroke-width="1.3" stroke-dasharray="5.2,3.6" stroke-linecap="butt"/>
<line x1="132.80" y1="329.50" x2="130.00" y2="329.50" stroke="#222" stroke-width="1.2" stroke-linecap="butt"/>
<line x1="130.00" y1="329.50" x2="130.00" y2="373.20" stroke="#222" stroke-width="1.3" stroke-dasharray="5.2,3.6" stroke-linecap="butt"/>
<line x1="130.00" y1="373.20" x2="124.50" y2="373.20" stroke="#222" stroke-width="1.0" stroke-linecap="butt"/>
<path d="M125.00,371.60 L125.00,374.80 L121.50,373.20 Z" fill="#222"/>
<line x1="198.80" y1="225.00" x2="198.80" y2="328.80" stroke="#222" stroke-width="1.3" stroke-dasharray="5.2,3.6" stroke-linecap="butt"/>
<line x1="198.80" y1="328.80" x2="194.70" y2="328.80" stroke="#222" stroke-width="1.1" stroke-linecap="butt"/>
<line x1="194.70" y1="328.80" x2="194.70" y2="363.20" stroke="#222" stroke-width="1.3" stroke-dasharray="5.2,3.6" stroke-linecap="butt"/>
<line x1="194.70" y1="363.20" x2="188.30" y2="363.20" stroke="#222" stroke-width="1.0" stroke-linecap="butt"/>
<path d="M188.80,361.60 L188.80,364.80 L185.30,363.20 Z" fill="#222"/>
<line x1="156.80" y1="257.60" x2="155.43" y2="248.06" stroke="#3a9a1a" stroke-width="1.3" stroke-linecap="butt"/>
<path d="M157.38,248.29 L153.62,248.83 L154.90,244.40 Z" fill="#3a9a1a"/>
<text x="36.10" y="236.70" font-size="7.9" text-anchor="start" fill="#111" style="stroke-width:0.18px">π-excitations</text>
<text x="42.90" y="244.40" font-size="7.9" text-anchor="start" fill="#111" style="stroke-width:0.18px">404.2</text>
<text x="106.80" y="236.90" font-size="7.9" text-anchor="start" fill="#111" style="stroke-width:0.18px">C–N–H<tspan dy="1.8" font-size="68%">x</tspan><tspan dy="-1.8"></tspan></text>
<text x="110.40" y="245.20" font-size="7.9" text-anchor="start" fill="#111" style="stroke-width:0.18px">401.2</text>
<text x="146.00" y="231.20" font-size="7.9" text-anchor="start" fill="#111" style="stroke-width:0.18px">N–C<tspan dy="1.8" font-size="68%">3</tspan><tspan dy="-1.8"></tspan></text>
<text x="146.00" y="239.60" font-size="7.9" text-anchor="start" fill="#111" style="stroke-width:0.18px">400.2</text>
<text x="212.00" y="234.80" font-size="7.9" text-anchor="start" fill="#111" style="stroke-width:0.18px">C=N–C</text>
<text x="218.00" y="242.80" font-size="7.9" text-anchor="start" fill="#111" style="stroke-width:0.18px">398.7</text>
<text x="249.20" y="231.20" font-size="9.2" text-anchor="start" fill="#111" style="stroke-width:0.3px">N 1s</text>
<text x="65.50" y="258.70" font-size="9.2" text-anchor="start" fill="#111" style="stroke-width:0.3px">CN</text>
<text x="61.40" y="312.00" font-size="9.2" text-anchor="start" fill="#111" style="stroke-width:0.3px">Mo<tspan dy="2.0" font-size="68%">2</tspan><tspan dy="-2.0">C@CN</tspan></text>
<text x="108.00" y="348.00" font-size="7.9" text-anchor="start" fill="#111" style="stroke-width:0.18px">401.3</text>
<text x="202.90" y="336.00" font-size="7.9" text-anchor="start" fill="#111" style="stroke-width:0.18px">398.9</text>
<text x="57.20" y="369.60" font-size="9.2" text-anchor="start" fill="#111" style="stroke-width:0.3px">Ru-Mo<tspan dy="2.0" font-size="68%">2</tspan><tspan dy="-2.0">C@CN</tspan></text>
<path d="M306.6,280.3 307.6,280.3 308.6,280.4 309.6,280.4 310.6,280.4 311.6,280.5 312.6,280.5 313.6,280.5 314.6,280.6 315.6,280.6 316.6,280.6 317.6,280.7 318.6,280.7 319.6,280.7 320.6,280.7 321.6,280.7 322.6,280.8 323.6,280.8 324.6,280.8 325.6,280.8 326.6,280.8 327.6,280.8 328.6,280.8 329.6,280.8 330.6,280.7 331.6,280.7 332.6,280.7 333.6,280.7 334.6,280.6 335.6,280.6 336.6,280.6 337.6,280.5 338.6,280.4 339.6,280.4 340.6,280.3 341.6,280.3 342.6,280.2 343.6,280.1 344.6,280.1 345.6,280.0 346.6,279.9 347.6,279.8 348.6,279.7 349.6,279.5 350.6,279.4 351.6,279.3 352.6,279.1 353.6,278.9 354.6,278.8 355.6,278.6 356.6,278.3 357.6,278.1 358.6,277.8 359.6,277.5 360.6,277.2 361.6,276.8 362.6,276.4 363.6,276.0 364.6,275.5 365.6,274.9 366.6,274.2 367.6,273.4 368.6,272.5 369.6,271.5 370.6,270.3 371.6,269.0 372.6,267.4 373.6,265.7 374.6,263.7 375.6,261.6 376.6,259.3 377.6,257.1 378.6,255.0 379.6,253.3 380.6,252.2 381.6,251.9 382.6,252.7 383.6,254.8 384.6,257.7 385.6,260.9 386.6,264.1 387.6,267.0 388.6,269.5 389.6,271.7 390.6,273.5 391.6,275.0 392.6,276.3 393.6,277.4 394.6,278.3 395.6,279.1 396.6,279.8 397.6,280.4 398.6,280.9 399.6,281.4 400.6,281.8 401.6,282.1 402.6,282.4 403.6,282.7 404.6,283.0 405.6,283.2 406.6,283.4 407.6,283.6 408.6,283.8 409.6,283.9 410.6,284.0 411.6,284.2 412.6,284.3 413.6,284.4 414.6,284.5 415.6,284.6 416.6,284.6 417.6,284.7 418.6,284.8 419.6,284.8 420.6,284.9 421.6,284.9 422.6,285.0 423.6,285.0 424.6,285.0 425.6,285.1 426.6,285.1 427.6,285.1 428.6,285.1 429.6,285.1 430.6,285.1 431.6,285.1 432.6,285.1 433.6,285.1 434.6,285.0 435.6,285.0 436.6,284.9 437.6,284.9 438.6,284.8 439.6,284.7 440.6,284.6 441.6,284.5 442.6,284.4 443.6,284.3 444.6,284.1 445.6,284.0 446.6,283.8 447.6,283.6 448.6,283.4 449.6,283.2 450.6,283.0 451.6,282.8 452.6,282.5 453.6,282.3 454.6,282.0 455.6,281.7 456.6,281.4 457.6,281.1 458.6,280.8 459.6,280.4 460.6,280.1 461.6,279.8 462.6,279.4 463.6,279.1 464.6,278.7 465.6,278.3 466.6,277.8 467.6,277.3 468.6,276.8 469.6,276.3 470.6,275.7 471.6,275.0 472.6,274.2 473.6,273.3 474.6,272.3 475.6,271.1 476.6,269.8 477.6,268.2 478.6,266.3 479.6,264.2 480.6,261.7 481.6,258.8 482.6,255.5 483.6,251.7 484.6,247.4 485.6,242.9 486.6,238.2 487.6,233.9 488.6,230.3 489.6,228.1 490.6,227.6 491.6,230.1 492.6,235.7 493.6,242.8 494.6,250.1 495.6,256.6 496.6,262.2 497.6,266.9 498.6,270.6 499.6,273.7 500.6,276.2 501.6,278.2 502.6,279.9 503.6,281.2 504.6,282.4 505.6,283.4 506.6,284.2 507.6,284.9 508.6,285.6 509.6,286.1 510.6,286.6 511.6,287.0 512.6,287.4 513.6,287.7 514.6,288.0 515.6,288.3 516.6,288.5 517.6,288.7 518.6,288.9 519.6,289.1 520.6,289.3 521.6,289.4 522.6,289.6 523.6,289.7 524.6,289.9 525.6,290.0 526.6,290.1 527.6,290.2 528.6,290.3 529.6,290.4 530.6,290.5 531.6,290.6 532.6,290.7 533.6,290.7 534.6,290.8 535.6,290.9 536.6,291.0 537.6,291.0 L537.6,292.9 L306.6,281.8 Z" fill="#8ad8f2" fill-opacity="0.95" stroke="none"/>
<path d="M306.6,281.1 307.6,281.1 308.6,281.2 309.6,281.2 310.6,281.2 311.6,281.3 312.6,281.3 313.6,281.3 314.6,281.4 315.6,281.4 316.6,281.4 317.6,281.5 318.6,281.5 319.6,281.5 320.6,281.5 321.6,281.5 322.6,281.6 323.6,281.6 324.6,281.6 325.6,281.6 326.6,281.6 327.6,281.6 328.6,281.6 329.6,281.6 330.6,281.5 331.6,281.5 332.6,281.5 333.6,281.5 334.6,281.4 335.6,281.4 336.6,281.4 337.6,281.3 338.6,281.2 339.6,281.2 340.6,281.1 341.6,281.1 342.6,281.0 343.6,280.9 344.6,280.9 345.6,280.8 346.6,280.7 347.6,280.6 348.6,280.5 349.6,280.3 350.6,280.2 351.6,280.1 352.6,279.9 353.6,279.7 354.6,279.6 355.6,279.4 356.6,279.1 357.6,278.9 358.6,278.6 359.6,278.3 360.6,278.0 361.6,277.6 362.6,277.2 363.6,276.8 364.6,276.3 365.6,275.7 366.6,275.0 367.6,274.2 368.6,273.3 369.6,272.3 370.6,271.1 371.6,269.8 372.6,268.2 373.6,266.5 374.6,264.5 375.6,262.4 376.6,260.1 377.6,257.9 378.6,255.8 379.6,254.1 380.6,253.0 381.6,252.7 382.6,253.5 383.6,255.6 384.6,258.5 385.6,261.7 386.6,264.9 387.6,267.8 388.6,270.3 389.6,272.5 390.6,274.3 391.6,275.8 392.6,277.1 393.6,278.2 394.6,279.1 395.6,279.9 396.6,280.6 397.6,281.2 398.6,281.7 399.6,282.2 400.6,282.6 401.6,282.9 402.6,283.2 403.6,283.5 404.6,283.8 405.6,284.0 406.6,284.2 407.6,284.4 408.6,284.6 409.6,284.7 410.6,284.8 411.6,285.0 412.6,285.1 413.6,285.2 414.6,285.3 415.6,285.4 416.6,285.4 417.6,285.5 418.6,285.6 419.6,285.6 420.6,285.7 421.6,285.7 422.6,285.8 423.6,285.8 424.6,285.8 425.6,285.9 426.6,285.9 427.6,285.9 428.6,285.9 429.6,285.9 430.6,285.9 431.6,285.9 432.6,285.9 433.6,285.9 434.6,285.8 435.6,285.8 436.6,285.7 437.6,285.7 438.6,285.6 439.6,285.5 440.6,285.4 441.6,285.3 442.6,285.2 443.6,285.1 444.6,284.9 445.6,284.8 446.6,284.6 447.6,284.4 448.6,284.2 449.6,284.0 450.6,283.8 451.6,283.6 452.6,283.3 453.6,283.1 454.6,282.8 455.6,282.5 456.6,282.2 457.6,281.9 458.6,281.6 459.6,281.2 460.6,280.9 461.6,280.6 462.6,280.2 463.6,279.9 464.6,279.5 465.6,279.1 466.6,278.6 467.6,278.1 468.6,277.6 469.6,277.1 470.6,276.5 471.6,275.8 472.6,275.0 473.6,274.1 474.6,273.1 475.6,271.9 476.6,270.6 477.6,269.0 478.6,267.1 479.6,265.0 480.6,262.5 481.6,259.6 482.6,256.3 483.6,252.5 484.6,248.2 485.6,243.7 486.6,239.0 487.6,234.7 488.6,231.1 489.6,228.9 490.6,228.4 491.6,230.9 492.6,236.5 493.6,243.6 494.6,250.9 495.6,257.4 496.6,263.0 497.6,267.7 498.6,271.4 499.6,274.5 500.6,277.0 501.6,279.0 502.6,280.7 503.6,282.0 504.6,283.2 505.6,284.2 506.6,285.0 507.6,285.7 508.6,286.4 509.6,286.9 510.6,287.4 511.6,287.8 512.6,288.2 513.6,288.5 514.6,288.8 515.6,289.1 516.6,289.3 517.6,289.5 518.6,289.7 519.6,289.9 520.6,290.1 521.6,290.2 522.6,290.4 523.6,290.5 524.6,290.7 525.6,290.8 526.6,290.9 527.6,291.0 528.6,291.1 529.6,291.2 530.6,291.3 531.6,291.4 532.6,291.5 533.6,291.5 534.6,291.6 535.6,291.7 536.6,291.8 537.6,291.8" fill="none" stroke="#b070c0" stroke-width="0.6" stroke-linejoin="round" opacity="1" stroke-dasharray="1,1.2"/>
<path d="M306.6,370.3 307.6,370.2 308.6,370.0 309.6,369.9 310.6,369.8 311.6,369.7 312.6,369.5 313.6,369.4 314.6,369.3 315.6,369.1 316.6,369.0 317.6,368.8 318.6,368.7 319.6,368.5 320.6,368.4 321.6,368.2 322.6,368.1 323.6,367.9 324.6,367.8 325.6,367.6 326.6,367.5 327.6,367.3 328.6,367.1 329.6,367.0 330.6,366.8 331.6,366.6 332.6,366.5 333.6,366.3 334.6,366.1 335.6,366.0 336.6,365.8 337.6,365.6 338.6,365.4 339.6,365.3 340.6,365.1 341.6,364.9 342.6,364.8 343.6,364.6 344.6,364.4 345.6,364.2 346.6,364.0 347.6,363.9 348.6,363.7 349.6,363.5 350.6,363.3 351.6,363.1 352.6,362.9 353.6,362.7 354.6,362.5 355.6,362.3 356.6,362.1 357.6,361.8 358.6,361.6 359.6,361.3 360.6,361.0 361.6,360.7 362.6,360.4 363.6,360.0 364.6,359.6 365.6,359.2 366.6,358.7 367.6,358.2 368.6,357.5 369.6,356.9 370.6,356.1 371.6,355.2 372.6,354.2 373.6,353.1 374.6,351.8 375.6,350.5 376.6,349.0 377.6,347.6 378.6,346.1 379.6,344.9 380.6,343.9 381.6,343.3 382.6,343.2 383.6,343.8 384.6,345.0 385.6,346.7 386.6,348.5 387.6,350.2 388.6,351.8 389.6,353.3 390.6,354.5 391.6,355.5 392.6,356.4 393.6,357.1 394.6,357.7 395.6,358.2 396.6,358.6 397.6,358.9 398.6,359.1 399.6,359.4 400.6,359.5 401.6,359.7 402.6,359.8 403.6,359.8 404.6,359.9 405.6,359.9 406.6,359.9 407.6,359.9 408.6,359.8 409.6,359.8 410.6,359.7 411.6,359.6 412.6,359.5 413.6,359.4 414.6,359.2 415.6,359.1 416.6,358.9 417.6,358.8 418.6,358.6 419.6,358.4 420.6,358.2 421.6,358.0 422.6,357.8 423.6,357.5 424.6,357.3 425.6,357.0 426.6,356.8 427.6,356.5 428.6,356.2 429.6,355.9 430.6,355.6 431.6,355.3 432.6,355.0 433.6,354.6 434.6,354.3 435.6,354.0 436.6,353.6 437.6,353.3 438.6,352.9 439.6,352.5 440.6,352.2 441.6,351.8 442.6,351.4 443.6,351.0 444.6,350.7 445.6,350.3 446.6,349.9 447.6,349.5 448.6,349.2 449.6,348.8 450.6,348.4 451.6,348.0 452.6,347.7 453.6,347.3 454.6,346.9 455.6,346.6 456.6,346.2 457.6,345.8 458.6,345.5 459.6,345.1 460.6,344.7 461.6,344.4 462.6,344.0 463.6,343.6 464.6,343.2 465.6,342.8 466.6,342.4 467.6,341.9 468.6,341.4 469.6,340.9 470.6,340.4 471.6,339.8 472.6,339.1 473.6,338.4 474.6,337.5 475.6,336.6 476.6,335.6 477.6,334.5 478.6,333.2 479.6,331.7 480.6,330.1 481.6,328.3 482.6,326.3 483.6,324.1 484.6,321.9 485.6,319.6 486.6,317.3 487.6,315.3 488.6,313.6 489.6,312.5 490.6,312.1 491.6,312.5 492.6,314.2 493.6,316.9 494.6,320.1 495.6,323.5 496.6,326.9 497.6,330.0 498.6,332.8 499.6,335.2 500.6,337.3 501.6,339.1 502.6,340.7 503.6,342.0 504.6,343.2 505.6,344.2 506.6,345.1 507.6,345.9 508.6,346.5 509.6,347.1 510.6,347.6 511.6,348.1 512.6,348.5 513.6,348.8 514.6,349.2 515.6,349.4 516.6,349.7 517.6,349.9 518.6,350.1 519.6,350.3 520.6,350.4 521.6,350.5 522.6,350.7 523.6,350.7 524.6,350.8 525.6,350.9 526.6,351.0 527.6,351.0 528.6,351.0 529.6,351.1 530.6,351.1 531.6,351.1 532.6,351.1 533.6,351.1 534.6,351.1 535.6,351.1 536.6,351.1 537.6,351.1 L537.6,352.7 L306.6,371.6 Z" fill="#8ad8f2" fill-opacity="0.95" stroke="none"/>
<path d="M306.6,371.1 307.6,371.0 308.6,370.8 309.6,370.7 310.6,370.6 311.6,370.5 312.6,370.3 313.6,370.2 314.6,370.1 315.6,369.9 316.6,369.8 317.6,369.6 318.6,369.5 319.6,369.3 320.6,369.2 321.6,369.0 322.6,368.9 323.6,368.7 324.6,368.6 325.6,368.4 326.6,368.3 327.6,368.1 328.6,367.9 329.6,367.8 330.6,367.6 331.6,367.4 332.6,367.3 333.6,367.1 334.6,366.9 335.6,366.8 336.6,366.6 337.6,366.4 338.6,366.2 339.6,366.1 340.6,365.9 341.6,365.7 342.6,365.6 343.6,365.4 344.6,365.2 345.6,365.0 346.6,364.8 347.6,364.7 348.6,364.5 349.6,364.3 350.6,364.1 351.6,363.9 352.6,363.7 353.6,363.5 354.6,363.3 355.6,363.1 356.6,362.9 357.6,362.6 358.6,362.4 359.6,362.1 360.6,361.8 361.6,361.5 362.6,361.2 363.6,360.8 364.6,360.4 365.6,360.0 366.6,359.5 367.6,359.0 368.6,358.3 369.6,357.7 370.6,356.9 371.6,356.0 372.6,355.0 373.6,353.9 374.6,352.6 375.6,351.3 376.6,349.8 377.6,348.4 378.6,346.9 379.6,345.7 380.6,344.7 381.6,344.1 382.6,344.0 383.6,344.6 384.6,345.8 385.6,347.5 386.6,349.3 387.6,351.0 388.6,352.6 389.6,354.1 390.6,355.3 391.6,356.3 392.6,357.2 393.6,357.9 394.6,358.5 395.6,359.0 396.6,359.4 397.6,359.7 398.6,359.9 399.6,360.2 400.6,360.3 401.6,360.5 402.6,360.6 403.6,360.6 404.6,360.7 405.6,360.7 406.6,360.7 407.6,360.7 408.6,360.6 409.6,360.6 410.6,360.5 411.6,360.4 412.6,360.3 413.6,360.2 414.6,360.0 415.6,359.9 416.6,359.7 417.6,359.6 418.6,359.4 419.6,359.2 420.6,359.0 421.6,358.8 422.6,358.6 423.6,358.3 424.6,358.1 425.6,357.8 426.6,357.6 427.6,357.3 428.6,357.0 429.6,356.7 430.6,356.4 431.6,356.1 432.6,355.8 433.6,355.4 434.6,355.1 435.6,354.8 436.6,354.4 437.6,354.1 438.6,353.7 439.6,353.3 440.6,353.0 441.6,352.6 442.6,352.2 443.6,351.8 444.6,351.5 445.6,351.1 446.6,350.7 447.6,350.3 448.6,350.0 449.6,349.6 450.6,349.2 451.6,348.8 452.6,348.5 453.6,348.1 454.6,347.7 455.6,347.4 456.6,347.0 457.6,346.6 458.6,346.3 459.6,345.9 460.6,345.5 461.6,345.2 462.6,344.8 463.6,344.4 464.6,344.0 465.6,343.6 466.6,343.2 467.6,342.7 468.6,342.2 469.6,341.7 470.6,341.2 471.6,340.6 472.6,339.9 473.6,339.2 474.6,338.3 475.6,337.4 476.6,336.4 477.6,335.3 478.6,334.0 479.6,332.5 480.6,330.9 481.6,329.1 482.6,327.1 483.6,324.9 484.6,322.7 485.6,320.4 486.6,318.1 487.6,316.1 488.6,314.4 489.6,313.3 490.6,312.9 491.6,313.3 492.6,315.0 493.6,317.7 494.6,320.9 495.6,324.3 496.6,327.7 497.6,330.8 498.6,333.6 499.6,336.0 500.6,338.1 501.6,339.9 502.6,341.5 503.6,342.8 504.6,344.0 505.6,345.0 506.6,345.9 507.6,346.7 508.6,347.3 509.6,347.9 510.6,348.4 511.6,348.9 512.6,349.3 513.6,349.6 514.6,350.0 515.6,350.2 516.6,350.5 517.6,350.7 518.6,350.9 519.6,351.1 520.6,351.2 521.6,351.3 522.6,351.5 523.6,351.5 524.6,351.6 525.6,351.7 526.6,351.8 527.6,351.8 528.6,351.8 529.6,351.9 530.6,351.9 531.6,351.9 532.6,351.9 533.6,351.9 534.6,351.9 535.6,351.9 536.6,351.9 537.6,351.9" fill="none" stroke="#b070c0" stroke-width="0.6" stroke-linejoin="round" opacity="1" stroke-dasharray="1,1.2"/>
<path d="M305.1,279.7a2.2,2.2 0 1,0 4.40,0a2.2,2.2 0 1,0 -4.40,0M306.2,279.8a2.2,2.2 0 1,0 4.40,0a2.2,2.2 0 1,0 -4.40,0M307.2,281.8a2.2,2.2 0 1,0 4.40,0a2.2,2.2 0 1,0 -4.40,0M308.3,278.2a2.2,2.2 0 1,0 4.40,0a2.2,2.2 0 1,0 -4.40,0M309.3,278.5a2.2,2.2 0 1,0 4.40,0a2.2,2.2 0 1,0 -4.40,0M310.4,283.1a2.2,2.2 0 1,0 4.40,0a2.2,2.2 0 1,0 -4.40,0M311.4,281.2a2.2,2.2 0 1,0 4.40,0a2.2,2.2 0 1,0 -4.40,0M312.5,279.4a2.2,2.2 0 1,0 4.40,0a2.2,2.2 0 1,0 -4.40,0M313.5,276.5a2.2,2.2 0 1,0 4.40,0a2.2,2.2 0 1,0 -4.40,0M314.6,278.5a2.2,2.2 0 1,0 4.40,0a2.2,2.2 0 1,0 -4.40,0M315.6,279.4a2.2,2.2 0 1,0 4.40,0a2.2,2.2 0 1,0 -4.40,0M316.7,279.9a2.2,2.2 0 1,0 4.40,0a2.2,2.2 0 1,0 -4.40,0M317.7,280.4a2.2,2.2 0 1,0 4.40,0a2.2,2.2 0 1,0 -4.40,0M318.8,279.7a2.2,2.2 0 1,0 4.40,0a2.2,2.2 0 1,0 -4.40,0M319.8,282.0a2.2,2.2 0 1,0 4.40,0a2.2,2.2 0 1,0 -4.40,0M320.9,278.1a2.2,2.2 0 1,0 4.40,0a2.2,2.2 0 1,0 -4.40,0M321.9,279.6a2.2,2.2 0 1,0 4.40,0a2.2,2.2 0 1,0 -4.40,0M323.0,279.0a2.2,2.2 0 1,0 4.40,0a2.2,2.2 0 1,0 -4.40,0M324.0,281.4a2.2,2.2 0 1,0 4.40,0a2.2,2.2 0 1,0 -4.40,0M325.1,280.4a2.2,2.2 0 1,0 4.40,0a2.2,2.2 0 1,0 -4.40,0M326.1,281.5a2.2,2.2 0 1,0 4.40,0a2.2,2.2 0 1,0 -4.40,0M327.2,280.2a2.2,2.2 0 1,0 4.40,0a2.2,2.2 0 1,0 -4.40,0M328.2,286.5a2.2,2.2 0 1,0 4.40,0a2.2,2.2 0 1,0 -4.40,0M329.3,281.3a2.2,2.2 0 1,0 4.40,0a2.2,2.2 0 1,0 -4.40,0M330.3,278.8a2.2,2.2 0 1,0 4.40,0a2.2,2.2 0 1,0 -4.40,0M331.4,280.0a2.2,2.2 0 1,0 4.40,0a2.2,2.2 0 1,0 -4.40,0M332.4,279.3a2.2,2.2 0 1,0 4.40,0a2.2,2.2 0 1,0 -4.40,0M333.5,281.2a2.2,2.2 0 1,0 4.40,0a2.2,2.2 0 1,0 -4.40,0M334.5,281.5a2.2,2.2 0 1,0 4.40,0a2.2,2.2 0 1,0 -4.40,0M335.6,280.5a2.2,2.2 0 1,0 4.40,0a2.2,2.2 0 1,0 -4.40,0M336.6,279.5a2.2,2.2 0 1,0 4.40,0a2.2,2.2 0 1,0 -4.40,0M337.7,278.6a2.2,2.2 0 1,0 4.40,0a2.2,2.2 0 1,0 -4.40,0M338.7,282.4a2.2,2.2 0 1,0 4.40,0a2.2,2.2 0 1,0 -4.40,0M339.8,281.5a2.2,2.2 0 1,0 4.40,0a2.2,2.2 0 1,0 -4.40,0M340.8,274.6a2.2,2.2 0 1,0 4.40,0a2.2,2.2 0 1,0 -4.40,0M341.9,279.6a2.2,2.2 0 1,0 4.40,0a2.2,2.2 0 1,0 -4.40,0M342.9,278.0a2.2,2.2 0 1,0 4.40,0a2.2,2.2 0 1,0 -4.40,0M344.0,278.6a2.2,2.2 0 1,0 4.40,0a2.2,2.2 0 1,0 -4.40,0M345.0,282.1a2.2,2.2 0 1,0 4.40,0a2.2,2.2 0 1,0 -4.40,0M346.1,277.1a2.2,2.2 0 1,0 4.40,0a2.2,2.2 0 1,0 -4.40,0M347.1,277.2a2.2,2.2 0 1,0 4.40,0a2.2,2.2 0 1,0 -4.40,0M348.2,283.0a2.2,2.2 0 1,0 4.40,0a2.2,2.2 0 1,0 -4.40,0M349.2,277.9a2.2,2.2 0 1,0 4.40,0a2.2,2.2 0 1,0 -4.40,0M350.3,278.1a2.2,2.2 0 1,0 4.40,0a2.2,2.2 0 1,0 -4.40,0M351.3,280.3a2.2,2.2 0 1,0 4.40,0a2.2,2.2 0 1,0 -4.40,0M352.4,277.3a2.2,2.2 0 1,0 4.40,0a2.2,2.2 0 1,0 -4.40,0M353.4,278.0a2.2,2.2 0 1,0 4.40,0a2.2,2.2 0 1,0 -4.40,0M354.5,278.1a2.2,2.2 0 1,0 4.40,0a2.2,2.2 0 1,0 -4.40,0M355.5,279.9a2.2,2.2 0 1,0 4.40,0a2.2,2.2 0 1,0 -4.40,0M356.6,274.4a2.2,2.2 0 1,0 4.40,0a2.2,2.2 0 1,0 -4.40,0M357.6,275.4a2.2,2.2 0 1,0 4.40,0a2.2,2.2 0 1,0 -4.40,0M358.7,276.3a2.2,2.2 0 1,0 4.40,0a2.2,2.2 0 1,0 -4.40,0M359.7,277.7a2.2,2.2 0 1,0 4.40,0a2.2,2.2 0 1,0 -4.40,0M360.8,274.6a2.2,2.2 0 1,0 4.40,0a2.2,2.2 0 1,0 -4.40,0M361.8,275.9a2.2,2.2 0 1,0 4.40,0a2.2,2.2 0 1,0 -4.40,0M362.9,273.7a2.2,2.2 0 1,0 4.40,0a2.2,2.2 0 1,0 -4.40,0M363.9,273.2a2.2,2.2 0 1,0 4.40,0a2.2,2.2 0 1,0 -4.40,0M365.0,275.3a2.2,2.2 0 1,0 4.40,0a2.2,2.2 0 1,0 -4.40,0M366.0,271.9a2.2,2.2 0 1,0 4.40,0a2.2,2.2 0 1,0 -4.40,0M367.1,276.3a2.2,2.2 0 1,0 4.40,0a2.2,2.2 0 1,0 -4.40,0M368.1,270.7a2.2,2.2 0 1,0 4.40,0a2.2,2.2 0 1,0 -4.40,0M369.2,270.6a2.2,2.2 0 1,0 4.40,0a2.2,2.2 0 1,0 -4.40,0M370.2,268.4a2.2,2.2 0 1,0 4.40,0a2.2,2.2 0 1,0 -4.40,0M371.3,262.7a2.2,2.2 0 1,0 4.40,0a2.2,2.2 0 1,0 -4.40,0M372.3,260.7a2.2,2.2 0 1,0 4.40,0a2.2,2.2 0 1,0 -4.40,0M373.4,261.9a2.2,2.2 0 1,0 4.40,0a2.2,2.2 0 1,0 -4.40,0M374.4,256.9a2.2,2.2 0 1,0 4.40,0a2.2,2.2 0 1,0 -4.40,0M375.5,255.4a2.2,2.2 0 1,0 4.40,0a2.2,2.2 0 1,0 -4.40,0M376.5,253.6a2.2,2.2 0 1,0 4.40,0a2.2,2.2 0 1,0 -4.40,0M377.6,251.0a2.2,2.2 0 1,0 4.40,0a2.2,2.2 0 1,0 -4.40,0M378.6,253.6a2.2,2.2 0 1,0 4.40,0a2.2,2.2 0 1,0 -4.40,0M379.7,252.8a2.2,2.2 0 1,0 4.40,0a2.2,2.2 0 1,0 -4.40,0M380.7,253.0a2.2,2.2 0 1,0 4.40,0a2.2,2.2 0 1,0 -4.40,0M381.8,256.2a2.2,2.2 0 1,0 4.40,0a2.2,2.2 0 1,0 -4.40,0M382.8,256.9a2.2,2.2 0 1,0 4.40,0a2.2,2.2 0 1,0 -4.40,0M383.9,263.2a2.2,2.2 0 1,0 4.40,0a2.2,2.2 0 1,0 -4.40,0M384.9,263.5a2.2,2.2 0 1,0 4.40,0a2.2,2.2 0 1,0 -4.40,0M386.0,270.4a2.2,2.2 0 1,0 4.40,0a2.2,2.2 0 1,0 -4.40,0M387.0,269.1a2.2,2.2 0 1,0 4.40,0a2.2,2.2 0 1,0 -4.40,0M388.1,271.3a2.2,2.2 0 1,0 4.40,0a2.2,2.2 0 1,0 -4.40,0M389.1,276.0a2.2,2.2 0 1,0 4.40,0a2.2,2.2 0 1,0 -4.40,0M390.2,276.5a2.2,2.2 0 1,0 4.40,0a2.2,2.2 0 1,0 -4.40,0M391.2,275.0a2.2,2.2 0 1,0 4.40,0a2.2,2.2 0 1,0 -4.40,0M392.3,278.6a2.2,2.2 0 1,0 4.40,0a2.2,2.2 0 1,0 -4.40,0M393.3,278.5a2.2,2.2 0 1,0 4.40,0a2.2,2.2 0 1,0 -4.40,0M394.4,279.2a2.2,2.2 0 1,0 4.40,0a2.2,2.2 0 1,0 -4.40,0M395.4,280.9a2.2,2.2 0 1,0 4.40,0a2.2,2.2 0 1,0 -4.40,0M396.5,281.4a2.2,2.2 0 1,0 4.40,0a2.2,2.2 0 1,0 -4.40,0M397.5,282.5a2.2,2.2 0 1,0 4.40,0a2.2,2.2 0 1,0 -4.40,0M398.6,282.0a2.2,2.2 0 1,0 4.40,0a2.2,2.2 0 1,0 -4.40,0M399.6,282.1a2.2,2.2 0 1,0 4.40,0a2.2,2.2 0 1,0 -4.40,0M400.7,281.7a2.2,2.2 0 1,0 4.40,0a2.2,2.2 0 1,0 -4.40,0M401.7,284.7a2.2,2.2 0 1,0 4.40,0a2.2,2.2 0 1,0 -4.40,0M402.8,281.1a2.2,2.2 0 1,0 4.40,0a2.2,2.2 0 1,0 -4.40,0M403.8,285.9a2.2,2.2 0 1,0 4.40,0a2.2,2.2 0 1,0 -4.40,0M404.9,286.6a2.2,2.2 0 1,0 4.40,0a2.2,2.2 0 1,0 -4.40,0M405.9,286.8a2.2,2.2 0 1,0 4.40,0a2.2,2.2 0 1,0 -4.40,0M407.0,283.0a2.2,2.2 0 1,0 4.40,0a2.2,2.2 0 1,0 -4.40,0M408.0,287.0a2.2,2.2 0 1,0 4.40,0a2.2,2.2 0 1,0 -4.40,0M409.1,285.5a2.2,2.2 0 1,0 4.40,0a2.2,2.2 0 1,0 -4.40,0M410.1,285.5a2.2,2.2 0 1,0 4.40,0a2.2,2.2 0 1,0 -4.40,0M411.2,289.4a2.2,2.2 0 1,0 4.40,0a2.2,2.2 0 1,0 -4.40,0M412.2,284.2a2.2,2.2 0 1,0 4.40,0a2.2,2.2 0 1,0 -4.40,0M413.3,284.9a2.2,2.2 0 1,0 4.40,0a2.2,2.2 0 1,0 -4.40,0M414.3,281.9a2.2,2.2 0 1,0 4.40,0a2.2,2.2 0 1,0 -4.40,0M415.4,280.3a2.2,2.2 0 1,0 4.40,0a2.2,2.2 0 1,0 -4.40,0M416.4,284.7a2.2,2.2 0 1,0 4.40,0a2.2,2.2 0 1,0 -4.40,0M417.5,285.0a2.2,2.2 0 1,0 4.40,0a2.2,2.2 0 1,0 -4.40,0M418.5,285.5a2.2,2.2 0 1,0 4.40,0a2.2,2.2 0 1,0 -4.40,0M419.6,284.9a2.2,2.2 0 1,0 4.40,0a2.2,2.2 0 1,0 -4.40,0M420.6,281.0a2.2,2.2 0 1,0 4.40,0a2.2,2.2 0 1,0 -4.40,0M421.7,285.1a2.2,2.2 0 1,0 4.40,0a2.2,2.2 0 1,0 -4.40,0M422.7,286.4a2.2,2.2 0 1,0 4.40,0a2.2,2.2 0 1,0 -4.40,0M423.8,287.2a2.2,2.2 0 1,0 4.40,0a2.2,2.2 0 1,0 -4.40,0M424.8,282.9a2.2,2.2 0 1,0 4.40,0a2.2,2.2 0 1,0 -4.40,0M425.9,283.0a2.2,2.2 0 1,0 4.40,0a2.2,2.2 0 1,0 -4.40,0M426.9,283.3a2.2,2.2 0 1,0 4.40,0a2.2,2.2 0 1,0 -4.40,0M428.0,283.4a2.2,2.2 0 1,0 4.40,0a2.2,2.2 0 1,0 -4.40,0M429.0,281.8a2.2,2.2 0 1,0 4.40,0a2.2,2.2 0 1,0 -4.40,0M430.1,283.3a2.2,2.2 0 1,0 4.40,0a2.2,2.2 0 1,0 -4.40,0M431.1,287.2a2.2,2.2 0 1,0 4.40,0a2.2,2.2 0 1,0 -4.40,0M432.2,282.6a2.2,2.2 0 1,0 4.40,0a2.2,2.2 0 1,0 -4.40,0M433.2,281.2a2.2,2.2 0 1,0 4.40,0a2.2,2.2 0 1,0 -4.40,0M434.3,283.9a2.2,2.2 0 1,0 4.40,0a2.2,2.2 0 1,0 -4.40,0M435.3,283.4a2.2,2.2 0 1,0 4.40,0a2.2,2.2 0 1,0 -4.40,0M436.4,285.4a2.2,2.2 0 1,0 4.40,0a2.2,2.2 0 1,0 -4.40,0M437.4,282.9a2.2,2.2 0 1,0 4.40,0a2.2,2.2 0 1,0 -4.40,0M438.5,283.7a2.2,2.2 0 1,0 4.40,0a2.2,2.2 0 1,0 -4.40,0M439.5,282.5a2.2,2.2 0 1,0 4.40,0a2.2,2.2 0 1,0 -4.40,0M440.6,282.1a2.2,2.2 0 1,0 4.40,0a2.2,2.2 0 1,0 -4.40,0M441.6,284.3a2.2,2.2 0 1,0 4.40,0a2.2,2.2 0 1,0 -4.40,0M442.7,283.7a2.2,2.2 0 1,0 4.40,0a2.2,2.2 0 1,0 -4.40,0M443.7,283.2a2.2,2.2 0 1,0 4.40,0a2.2,2.2 0 1,0 -4.40,0M444.8,284.0a2.2,2.2 0 1,0 4.40,0a2.2,2.2 0 1,0 -4.40,0M445.8,281.6a2.2,2.2 0 1,0 4.40,0a2.2,2.2 0 1,0 -4.40,0M446.9,282.8a2.2,2.2 0 1,0 4.40,0a2.2,2.2 0 1,0 -4.40,0M447.9,282.9a2.2,2.2 0 1,0 4.40,0a2.2,2.2 0 1,0 -4.40,0M449.0,284.3a2.2,2.2 0 1,0 4.40,0a2.2,2.2 0 1,0 -4.40,0M450.0,278.8a2.2,2.2 0 1,0 4.40,0a2.2,2.2 0 1,0 -4.40,0M451.1,281.2a2.2,2.2 0 1,0 4.40,0a2.2,2.2 0 1,0 -4.40,0M452.1,282.2a2.2,2.2 0 1,0 4.40,0a2.2,2.2 0 1,0 -4.40,0M453.2,280.2a2.2,2.2 0 1,0 4.40,0a2.2,2.2 0 1,0 -4.40,0M454.2,281.0a2.2,2.2 0 1,0 4.40,0a2.2,2.2 0 1,0 -4.40,0M455.3,281.7a2.2,2.2 0 1,0 4.40,0a2.2,2.2 0 1,0 -4.40,0M456.3,281.0a2.2,2.2 0 1,0 4.40,0a2.2,2.2 0 1,0 -4.40,0M457.4,276.9a2.2,2.2 0 1,0 4.40,0a2.2,2.2 0 1,0 -4.40,0M458.4,277.4a2.2,2.2 0 1,0 4.40,0a2.2,2.2 0 1,0 -4.40,0M459.5,274.3a2.2,2.2 0 1,0 4.40,0a2.2,2.2 0 1,0 -4.40,0M460.5,279.9a2.2,2.2 0 1,0 4.40,0a2.2,2.2 0 1,0 -4.40,0M461.6,278.7a2.2,2.2 0 1,0 4.40,0a2.2,2.2 0 1,0 -4.40,0M462.6,280.3a2.2,2.2 0 1,0 4.40,0a2.2,2.2 0 1,0 -4.40,0M463.7,277.6a2.2,2.2 0 1,0 4.40,0a2.2,2.2 0 1,0 -4.40,0M464.7,275.1a2.2,2.2 0 1,0 4.40,0a2.2,2.2 0 1,0 -4.40,0M465.8,278.4a2.2,2.2 0 1,0 4.40,0a2.2,2.2 0 1,0 -4.40,0M466.8,273.8a2.2,2.2 0 1,0 4.40,0a2.2,2.2 0 1,0 -4.40,0M467.9,275.4a2.2,2.2 0 1,0 4.40,0a2.2,2.2 0 1,0 -4.40,0M468.9,274.3a2.2,2.2 0 1,0 4.40,0a2.2,2.2 0 1,0 -4.40,0M470.0,275.2a2.2,2.2 0 1,0 4.40,0a2.2,2.2 0 1,0 -4.40,0M471.0,274.6a2.2,2.2 0 1,0 4.40,0a2.2,2.2 0 1,0 -4.40,0M472.1,271.3a2.2,2.2 0 1,0 4.40,0a2.2,2.2 0 1,0 -4.40,0M473.1,269.6a2.2,2.2 0 1,0 4.40,0a2.2,2.2 0 1,0 -4.40,0M474.2,269.4a2.2,2.2 0 1,0 4.40,0a2.2,2.2 0 1,0 -4.40,0M475.2,266.9a2.2,2.2 0 1,0 4.40,0a2.2,2.2 0 1,0 -4.40,0M476.3,267.6a2.2,2.2 0 1,0 4.40,0a2.2,2.2 0 1,0 -4.40,0M477.3,264.4a2.2,2.2 0 1,0 4.40,0a2.2,2.2 0 1,0 -4.40,0M478.4,263.6a2.2,2.2 0 1,0 4.40,0a2.2,2.2 0 1,0 -4.40,0M479.4,262.7a2.2,2.2 0 1,0 4.40,0a2.2,2.2 0 1,0 -4.40,0M480.5,253.2a2.2,2.2 0 1,0 4.40,0a2.2,2.2 0 1,0 -4.40,0M481.5,249.6a2.2,2.2 0 1,0 4.40,0a2.2,2.2 0 1,0 -4.40,0M482.6,246.9a2.2,2.2 0 1,0 4.40,0a2.2,2.2 0 1,0 -4.40,0M483.6,242.0a2.2,2.2 0 1,0 4.40,0a2.2,2.2 0 1,0 -4.40,0M484.7,235.9a2.2,2.2 0 1,0 4.40,0a2.2,2.2 0 1,0 -4.40,0M485.7,229.3a2.2,2.2 0 1,0 4.40,0a2.2,2.2 0 1,0 -4.40,0M486.8,233.3a2.2,2.2 0 1,0 4.40,0a2.2,2.2 0 1,0 -4.40,0M487.8,227.4a2.2,2.2 0 1,0 4.40,0a2.2,2.2 0 1,0 -4.40,0M488.9,226.1a2.2,2.2 0 1,0 4.40,0a2.2,2.2 0 1,0 -4.40,0M489.9,228.2a2.2,2.2 0 1,0 4.40,0a2.2,2.2 0 1,0 -4.40,0M491.0,241.4a2.2,2.2 0 1,0 4.40,0a2.2,2.2 0 1,0 -4.40,0M492.0,247.1a2.2,2.2 0 1,0 4.40,0a2.2,2.2 0 1,0 -4.40,0M493.1,253.7a2.2,2.2 0 1,0 4.40,0a2.2,2.2 0 1,0 -4.40,0M494.1,258.2a2.2,2.2 0 1,0 4.40,0a2.2,2.2 0 1,0 -4.40,0M495.2,264.9a2.2,2.2 0 1,0 4.40,0a2.2,2.2 0 1,0 -4.40,0M496.2,268.6a2.2,2.2 0 1,0 4.40,0a2.2,2.2 0 1,0 -4.40,0M497.3,268.4a2.2,2.2 0 1,0 4.40,0a2.2,2.2 0 1,0 -4.40,0M498.3,279.9a2.2,2.2 0 1,0 4.40,0a2.2,2.2 0 1,0 -4.40,0M499.4,278.2a2.2,2.2 0 1,0 4.40,0a2.2,2.2 0 1,0 -4.40,0M500.4,278.7a2.2,2.2 0 1,0 4.40,0a2.2,2.2 0 1,0 -4.40,0M501.5,279.0a2.2,2.2 0 1,0 4.40,0a2.2,2.2 0 1,0 -4.40,0M502.5,280.9a2.2,2.2 0 1,0 4.40,0a2.2,2.2 0 1,0 -4.40,0M503.6,287.0a2.2,2.2 0 1,0 4.40,0a2.2,2.2 0 1,0 -4.40,0M504.6,284.4a2.2,2.2 0 1,0 4.40,0a2.2,2.2 0 1,0 -4.40,0M505.7,282.2a2.2,2.2 0 1,0 4.40,0a2.2,2.2 0 1,0 -4.40,0M506.7,286.6a2.2,2.2 0 1,0 4.40,0a2.2,2.2 0 1,0 -4.40,0M507.8,286.5a2.2,2.2 0 1,0 4.40,0a2.2,2.2 0 1,0 -4.40,0M508.8,287.0a2.2,2.2 0 1,0 4.40,0a2.2,2.2 0 1,0 -4.40,0M509.9,286.3a2.2,2.2 0 1,0 4.40,0a2.2,2.2 0 1,0 -4.40,0M510.9,286.6a2.2,2.2 0 1,0 4.40,0a2.2,2.2 0 1,0 -4.40,0M512.0,287.6a2.2,2.2 0 1,0 4.40,0a2.2,2.2 0 1,0 -4.40,0M513.0,287.2a2.2,2.2 0 1,0 4.40,0a2.2,2.2 0 1,0 -4.40,0M514.1,285.4a2.2,2.2 0 1,0 4.40,0a2.2,2.2 0 1,0 -4.40,0M515.1,286.3a2.2,2.2 0 1,0 4.40,0a2.2,2.2 0 1,0 -4.40,0M516.2,288.3a2.2,2.2 0 1,0 4.40,0a2.2,2.2 0 1,0 -4.40,0M517.2,285.7a2.2,2.2 0 1,0 4.40,0a2.2,2.2 0 1,0 -4.40,0M518.3,288.4a2.2,2.2 0 1,0 4.40,0a2.2,2.2 0 1,0 -4.40,0M519.3,288.3a2.2,2.2 0 1,0 4.40,0a2.2,2.2 0 1,0 -4.40,0M520.4,290.2a2.2,2.2 0 1,0 4.40,0a2.2,2.2 0 1,0 -4.40,0M521.4,289.4a2.2,2.2 0 1,0 4.40,0a2.2,2.2 0 1,0 -4.40,0M522.5,288.7a2.2,2.2 0 1,0 4.40,0a2.2,2.2 0 1,0 -4.40,0M523.5,288.9a2.2,2.2 0 1,0 4.40,0a2.2,2.2 0 1,0 -4.40,0M524.6,290.2a2.2,2.2 0 1,0 4.40,0a2.2,2.2 0 1,0 -4.40,0M525.6,291.2a2.2,2.2 0 1,0 4.40,0a2.2,2.2 0 1,0 -4.40,0M526.7,287.9a2.2,2.2 0 1,0 4.40,0a2.2,2.2 0 1,0 -4.40,0M527.7,287.2a2.2,2.2 0 1,0 4.40,0a2.2,2.2 0 1,0 -4.40,0M528.8,288.6a2.2,2.2 0 1,0 4.40,0a2.2,2.2 0 1,0 -4.40,0M529.8,286.0a2.2,2.2 0 1,0 4.40,0a2.2,2.2 0 1,0 -4.40,0M530.9,288.7a2.2,2.2 0 1,0 4.40,0a2.2,2.2 0 1,0 -4.40,0M531.9,291.6a2.2,2.2 0 1,0 4.40,0a2.2,2.2 0 1,0 -4.40,0M533.0,291.9a2.2,2.2 0 1,0 4.40,0a2.2,2.2 0 1,0 -4.40,0M534.0,293.0a2.2,2.2 0 1,0 4.40,0a2.2,2.2 0 1,0 -4.40,0M535.1,290.5a2.2,2.2 0 1,0 4.40,0a2.2,2.2 0 1,0 -4.40,0" fill="none" stroke="#f02424" stroke-width="0.9"/>
<path d="M305.1,369.8a2.2,2.2 0 1,0 4.40,0a2.2,2.2 0 1,0 -4.40,0M306.2,368.4a2.2,2.2 0 1,0 4.40,0a2.2,2.2 0 1,0 -4.40,0M307.2,368.4a2.2,2.2 0 1,0 4.40,0a2.2,2.2 0 1,0 -4.40,0M308.3,369.7a2.2,2.2 0 1,0 4.40,0a2.2,2.2 0 1,0 -4.40,0M309.3,370.6a2.2,2.2 0 1,0 4.40,0a2.2,2.2 0 1,0 -4.40,0M310.4,369.6a2.2,2.2 0 1,0 4.40,0a2.2,2.2 0 1,0 -4.40,0M311.4,365.3a2.2,2.2 0 1,0 4.40,0a2.2,2.2 0 1,0 -4.40,0M312.5,369.5a2.2,2.2 0 1,0 4.40,0a2.2,2.2 0 1,0 -4.40,0M313.5,368.5a2.2,2.2 0 1,0 4.40,0a2.2,2.2 0 1,0 -4.40,0M314.6,367.3a2.2,2.2 0 1,0 4.40,0a2.2,2.2 0 1,0 -4.40,0M315.6,368.4a2.2,2.2 0 1,0 4.40,0a2.2,2.2 0 1,0 -4.40,0M316.7,369.6a2.2,2.2 0 1,0 4.40,0a2.2,2.2 0 1,0 -4.40,0M317.7,368.1a2.2,2.2 0 1,0 4.40,0a2.2,2.2 0 1,0 -4.40,0M318.8,366.5a2.2,2.2 0 1,0 4.40,0a2.2,2.2 0 1,0 -4.40,0M319.8,373.3a2.2,2.2 0 1,0 4.40,0a2.2,2.2 0 1,0 -4.40,0M320.9,366.3a2.2,2.2 0 1,0 4.40,0a2.2,2.2 0 1,0 -4.40,0M321.9,368.0a2.2,2.2 0 1,0 4.40,0a2.2,2.2 0 1,0 -4.40,0M323.0,369.2a2.2,2.2 0 1,0 4.40,0a2.2,2.2 0 1,0 -4.40,0M324.0,365.4a2.2,2.2 0 1,0 4.40,0a2.2,2.2 0 1,0 -4.40,0M325.1,367.7a2.2,2.2 0 1,0 4.40,0a2.2,2.2 0 1,0 -4.40,0M326.1,365.1a2.2,2.2 0 1,0 4.40,0a2.2,2.2 0 1,0 -4.40,0M327.2,365.9a2.2,2.2 0 1,0 4.40,0a2.2,2.2 0 1,0 -4.40,0M328.2,364.9a2.2,2.2 0 1,0 4.40,0a2.2,2.2 0 1,0 -4.40,0M329.3,369.1a2.2,2.2 0 1,0 4.40,0a2.2,2.2 0 1,0 -4.40,0M330.3,363.5a2.2,2.2 0 1,0 4.40,0a2.2,2.2 0 1,0 -4.40,0M331.4,366.6a2.2,2.2 0 1,0 4.40,0a2.2,2.2 0 1,0 -4.40,0M332.4,365.6a2.2,2.2 0 1,0 4.40,0a2.2,2.2 0 1,0 -4.40,0M333.5,361.9a2.2,2.2 0 1,0 4.40,0a2.2,2.2 0 1,0 -4.40,0M334.5,368.1a2.2,2.2 0 1,0 4.40,0a2.2,2.2 0 1,0 -4.40,0M335.6,364.0a2.2,2.2 0 1,0 4.40,0a2.2,2.2 0 1,0 -4.40,0M336.6,364.3a2.2,2.2 0 1,0 4.40,0a2.2,2.2 0 1,0 -4.40,0M337.7,365.0a2.2,2.2 0 1,0 4.40,0a2.2,2.2 0 1,0 -4.40,0M338.7,362.9a2.2,2.2 0 1,0 4.40,0a2.2,2.2 0 1,0 -4.40,0M339.8,362.9a2.2,2.2 0 1,0 4.40,0a2.2,2.2 0 1,0 -4.40,0M340.8,364.0a2.2,2.2 0 1,0 4.40,0a2.2,2.2 0 1,0 -4.40,0M341.9,362.4a2.2,2.2 0 1,0 4.40,0a2.2,2.2 0 1,0 -4.40,0M342.9,363.8a2.2,2.2 0 1,0 4.40,0a2.2,2.2 0 1,0 -4.40,0M344.0,365.7a2.2,2.2 0 1,0 4.40,0a2.2,2.2 0 1,0 -4.40,0M345.0,361.6a2.2,2.2 0 1,0 4.40,0a2.2,2.2 0 1,0 -4.40,0M346.1,360.4a2.2,2.2 0 1,0 4.40,0a2.2,2.2 0 1,0 -4.40,0M347.1,362.7a2.2,2.2 0 1,0 4.40,0a2.2,2.2 0 1,0 -4.40,0M348.2,363.4a2.2,2.2 0 1,0 4.40,0a2.2,2.2 0 1,0 -4.40,0M349.2,363.7a2.2,2.2 0 1,0 4.40,0a2.2,2.2 0 1,0 -4.40,0M350.3,360.4a2.2,2.2 0 1,0 4.40,0a2.2,2.2 0 1,0 -4.40,0M351.3,358.1a2.2,2.2 0 1,0 4.40,0a2.2,2.2 0 1,0 -4.40,0M352.4,363.4a2.2,2.2 0 1,0 4.40,0a2.2,2.2 0 1,0 -4.40,0M353.4,362.9a2.2,2.2 0 1,0 4.40,0a2.2,2.2 0 1,0 -4.40,0M354.5,364.0a2.2,2.2 0 1,0 4.40,0a2.2,2.2 0 1,0 -4.40,0M355.5,359.5a2.2,2.2 0 1,0 4.40,0a2.2,2.2 0 1,0 -4.40,0M356.6,361.9a2.2,2.2 0 1,0 4.40,0a2.2,2.2 0 1,0 -4.40,0M357.6,362.4a2.2,2.2 0 1,0 4.40,0a2.2,2.2 0 1,0 -4.40,0M358.7,357.2a2.2,2.2 0 1,0 4.40,0a2.2,2.2 0 1,0 -4.40,0M359.7,361.8a2.2,2.2 0 1,0 4.40,0a2.2,2.2 0 1,0 -4.40,0M360.8,362.1a2.2,2.2 0 1,0 4.40,0a2.2,2.2 0 1,0 -4.40,0M361.8,360.2a2.2,2.2 0 1,0 4.40,0a2.2,2.2 0 1,0 -4.40,0M362.9,359.7a2.2,2.2 0 1,0 4.40,0a2.2,2.2 0 1,0 -4.40,0M363.9,359.6a2.2,2.2 0 1,0 4.40,0a2.2,2.2 0 1,0 -4.40,0M365.0,357.3a2.2,2.2 0 1,0 4.40,0a2.2,2.2 0 1,0 -4.40,0M366.0,354.7a2.2,2.2 0 1,0 4.40,0a2.2,2.2 0 1,0 -4.40,0M367.1,354.9a2.2,2.2 0 1,0 4.40,0a2.2,2.2 0 1,0 -4.40,0M368.1,355.4a2.2,2.2 0 1,0 4.40,0a2.2,2.2 0 1,0 -4.40,0M369.2,353.3a2.2,2.2 0 1,0 4.40,0a2.2,2.2 0 1,0 -4.40,0M370.2,355.5a2.2,2.2 0 1,0 4.40,0a2.2,2.2 0 1,0 -4.40,0M371.3,351.9a2.2,2.2 0 1,0 4.40,0a2.2,2.2 0 1,0 -4.40,0M372.3,351.1a2.2,2.2 0 1,0 4.40,0a2.2,2.2 0 1,0 -4.40,0M373.4,346.9a2.2,2.2 0 1,0 4.40,0a2.2,2.2 0 1,0 -4.40,0M374.4,349.1a2.2,2.2 0 1,0 4.40,0a2.2,2.2 0 1,0 -4.40,0M375.5,345.6a2.2,2.2 0 1,0 4.40,0a2.2,2.2 0 1,0 -4.40,0M376.5,348.0a2.2,2.2 0 1,0 4.40,0a2.2,2.2 0 1,0 -4.40,0M377.6,341.1a2.2,2.2 0 1,0 4.40,0a2.2,2.2 0 1,0 -4.40,0M378.6,343.7a2.2,2.2 0 1,0 4.40,0a2.2,2.2 0 1,0 -4.40,0M379.7,341.9a2.2,2.2 0 1,0 4.40,0a2.2,2.2 0 1,0 -4.40,0M380.7,342.1a2.2,2.2 0 1,0 4.40,0a2.2,2.2 0 1,0 -4.40,0M381.8,346.5a2.2,2.2 0 1,0 4.40,0a2.2,2.2 0 1,0 -4.40,0M382.8,346.7a2.2,2.2 0 1,0 4.40,0a2.2,2.2 0 1,0 -4.40,0M383.9,345.4a2.2,2.2 0 1,0 4.40,0a2.2,2.2 0 1,0 -4.40,0M384.9,351.1a2.2,2.2 0 1,0 4.40,0a2.2,2.2 0 1,0 -4.40,0M386.0,349.4a2.2,2.2 0 1,0 4.40,0a2.2,2.2 0 1,0 -4.40,0M387.0,353.4a2.2,2.2 0 1,0 4.40,0a2.2,2.2 0 1,0 -4.40,0M388.1,350.5a2.2,2.2 0 1,0 4.40,0a2.2,2.2 0 1,0 -4.40,0M389.1,354.0a2.2,2.2 0 1,0 4.40,0a2.2,2.2 0 1,0 -4.40,0M390.2,355.0a2.2,2.2 0 1,0 4.40,0a2.2,2.2 0 1,0 -4.40,0M391.2,355.7a2.2,2.2 0 1,0 4.40,0a2.2,2.2 0 1,0 -4.40,0M392.3,354.2a2.2,2.2 0 1,0 4.40,0a2.2,2.2 0 1,0 -4.40,0M393.3,354.2a2.2,2.2 0 1,0 4.40,0a2.2,2.2 0 1,0 -4.40,0M394.4,357.9a2.2,2.2 0 1,0 4.40,0a2.2,2.2 0 1,0 -4.40,0M395.4,359.3a2.2,2.2 0 1,0 4.40,0a2.2,2.2 0 1,0 -4.40,0M396.5,358.6a2.2,2.2 0 1,0 4.40,0a2.2,2.2 0 1,0 -4.40,0M397.5,358.2a2.2,2.2 0 1,0 4.40,0a2.2,2.2 0 1,0 -4.40,0M398.6,356.3a2.2,2.2 0 1,0 4.40,0a2.2,2.2 0 1,0 -4.40,0M399.6,358.6a2.2,2.2 0 1,0 4.40,0a2.2,2.2 0 1,0 -4.40,0M400.7,358.2a2.2,2.2 0 1,0 4.40,0a2.2,2.2 0 1,0 -4.40,0M401.7,358.0a2.2,2.2 0 1,0 4.40,0a2.2,2.2 0 1,0 -4.40,0M402.8,359.5a2.2,2.2 0 1,0 4.40,0a2.2,2.2 0 1,0 -4.40,0M403.8,359.5a2.2,2.2 0 1,0 4.40,0a2.2,2.2 0 1,0 -4.40,0M404.9,359.9a2.2,2.2 0 1,0 4.40,0a2.2,2.2 0 1,0 -4.40,0M405.9,358.8a2.2,2.2 0 1,0 4.40,0a2.2,2.2 0 1,0 -4.40,0M407.0,357.7a2.2,2.2 0 1,0 4.40,0a2.2,2.2 0 1,0 -4.40,0M408.0,358.7a2.2,2.2 0 1,0 4.40,0a2.2,2.2 0 1,0 -4.40,0M409.1,358.5a2.2,2.2 0 1,0 4.40,0a2.2,2.2 0 1,0 -4.40,0M410.1,356.1a2.2,2.2 0 1,0 4.40,0a2.2,2.2 0 1,0 -4.40,0M411.2,358.2a2.2,2.2 0 1,0 4.40,0a2.2,2.2 0 1,0 -4.40,0M412.2,355.8a2.2,2.2 0 1,0 4.40,0a2.2,2.2 0 1,0 -4.40,0M413.3,355.1a2.2,2.2 0 1,0 4.40,0a2.2,2.2 0 1,0 -4.40,0M414.3,356.9a2.2,2.2 0 1,0 4.40,0a2.2,2.2 0 1,0 -4.40,0M415.4,357.0a2.2,2.2 0 1,0 4.40,0a2.2,2.2 0 1,0 -4.40,0M416.4,359.1a2.2,2.2 0 1,0 4.40,0a2.2,2.2 0 1,0 -4.40,0M417.5,357.2a2.2,2.2 0 1,0 4.40,0a2.2,2.2 0 1,0 -4.40,0M418.5,358.4a2.2,2.2 0 1,0 4.40,0a2.2,2.2 0 1,0 -4.40,0M419.6,359.8a2.2,2.2 0 1,0 4.40,0a2.2,2.2 0 1,0 -4.40,0M420.6,357.3a2.2,2.2 0 1,0 4.40,0a2.2,2.2 0 1,0 -4.40,0M421.7,357.5a2.2,2.2 0 1,0 4.40,0a2.2,2.2 0 1,0 -4.40,0M422.7,355.4a2.2,2.2 0 1,0 4.40,0a2.2,2.2 0 1,0 -4.40,0M423.8,357.7a2.2,2.2 0 1,0 4.40,0a2.2,2.2 0 1,0 -4.40,0M424.8,356.1a2.2,2.2 0 1,0 4.40,0a2.2,2.2 0 1,0 -4.40,0M425.9,355.8a2.2,2.2 0 1,0 4.40,0a2.2,2.2 0 1,0 -4.40,0M426.9,353.5a2.2,2.2 0 1,0 4.40,0a2.2,2.2 0 1,0 -4.40,0M428.0,353.5a2.2,2.2 0 1,0 4.40,0a2.2,2.2 0 1,0 -4.40,0M429.0,353.6a2.2,2.2 0 1,0 4.40,0a2.2,2.2 0 1,0 -4.40,0M430.1,354.6a2.2,2.2 0 1,0 4.40,0a2.2,2.2 0 1,0 -4.40,0M431.1,355.9a2.2,2.2 0 1,0 4.40,0a2.2,2.2 0 1,0 -4.40,0M432.2,351.2a2.2,2.2 0 1,0 4.40,0a2.2,2.2 0 1,0 -4.40,0M433.2,352.8a2.2,2.2 0 1,0 4.40,0a2.2,2.2 0 1,0 -4.40,0M434.3,352.5a2.2,2.2 0 1,0 4.40,0a2.2,2.2 0 1,0 -4.40,0M435.3,356.5a2.2,2.2 0 1,0 4.40,0a2.2,2.2 0 1,0 -4.40,0M436.4,351.9a2.2,2.2 0 1,0 4.40,0a2.2,2.2 0 1,0 -4.40,0M437.4,351.0a2.2,2.2 0 1,0 4.40,0a2.2,2.2 0 1,0 -4.40,0M438.5,352.8a2.2,2.2 0 1,0 4.40,0a2.2,2.2 0 1,0 -4.40,0M439.5,349.2a2.2,2.2 0 1,0 4.40,0a2.2,2.2 0 1,0 -4.40,0M440.6,351.6a2.2,2.2 0 1,0 4.40,0a2.2,2.2 0 1,0 -4.40,0M441.6,347.5a2.2,2.2 0 1,0 4.40,0a2.2,2.2 0 1,0 -4.40,0M442.7,353.4a2.2,2.2 0 1,0 4.40,0a2.2,2.2 0 1,0 -4.40,0M443.7,349.5a2.2,2.2 0 1,0 4.40,0a2.2,2.2 0 1,0 -4.40,0M444.8,348.4a2.2,2.2 0 1,0 4.40,0a2.2,2.2 0 1,0 -4.40,0M445.8,346.5a2.2,2.2 0 1,0 4.40,0a2.2,2.2 0 1,0 -4.40,0M446.9,348.1a2.2,2.2 0 1,0 4.40,0a2.2,2.2 0 1,0 -4.40,0M447.9,348.1a2.2,2.2 0 1,0 4.40,0a2.2,2.2 0 1,0 -4.40,0M449.0,346.3a2.2,2.2 0 1,0 4.40,0a2.2,2.2 0 1,0 -4.40,0M450.0,349.2a2.2,2.2 0 1,0 4.40,0a2.2,2.2 0 1,0 -4.40,0M451.1,346.2a2.2,2.2 0 1,0 4.40,0a2.2,2.2 0 1,0 -4.40,0M452.1,346.6a2.2,2.2 0 1,0 4.40,0a2.2,2.2 0 1,0 -4.40,0M453.2,346.5a2.2,2.2 0 1,0 4.40,0a2.2,2.2 0 1,0 -4.40,0M454.2,347.9a2.2,2.2 0 1,0 4.40,0a2.2,2.2 0 1,0 -4.40,0M455.3,344.6a2.2,2.2 0 1,0 4.40,0a2.2,2.2 0 1,0 -4.40,0M456.3,345.0a2.2,2.2 0 1,0 4.40,0a2.2,2.2 0 1,0 -4.40,0M457.4,345.0a2.2,2.2 0 1,0 4.40,0a2.2,2.2 0 1,0 -4.40,0M458.4,345.1a2.2,2.2 0 1,0 4.40,0a2.2,2.2 0 1,0 -4.40,0M459.5,340.6a2.2,2.2 0 1,0 4.40,0a2.2,2.2 0 1,0 -4.40,0M460.5,345.3a2.2,2.2 0 1,0 4.40,0a2.2,2.2 0 1,0 -4.40,0M461.6,342.7a2.2,2.2 0 1,0 4.40,0a2.2,2.2 0 1,0 -4.40,0M462.6,341.3a2.2,2.2 0 1,0 4.40,0a2.2,2.2 0 1,0 -4.40,0M463.7,342.0a2.2,2.2 0 1,0 4.40,0a2.2,2.2 0 1,0 -4.40,0M464.7,338.3a2.2,2.2 0 1,0 4.40,0a2.2,2.2 0 1,0 -4.40,0M465.8,339.8a2.2,2.2 0 1,0 4.40,0a2.2,2.2 0 1,0 -4.40,0M466.8,340.9a2.2,2.2 0 1,0 4.40,0a2.2,2.2 0 1,0 -4.40,0M467.9,342.3a2.2,2.2 0 1,0 4.40,0a2.2,2.2 0 1,0 -4.40,0M468.9,339.3a2.2,2.2 0 1,0 4.40,0a2.2,2.2 0 1,0 -4.40,0M470.0,339.4a2.2,2.2 0 1,0 4.40,0a2.2,2.2 0 1,0 -4.40,0M471.0,337.5a2.2,2.2 0 1,0 4.40,0a2.2,2.2 0 1,0 -4.40,0M472.1,338.7a2.2,2.2 0 1,0 4.40,0a2.2,2.2 0 1,0 -4.40,0M473.1,335.6a2.2,2.2 0 1,0 4.40,0a2.2,2.2 0 1,0 -4.40,0M474.2,336.0a2.2,2.2 0 1,0 4.40,0a2.2,2.2 0 1,0 -4.40,0M475.2,333.5a2.2,2.2 0 1,0 4.40,0a2.2,2.2 0 1,0 -4.40,0M476.3,331.1a2.2,2.2 0 1,0 4.40,0a2.2,2.2 0 1,0 -4.40,0M477.3,329.5a2.2,2.2 0 1,0 4.40,0a2.2,2.2 0 1,0 -4.40,0M478.4,328.4a2.2,2.2 0 1,0 4.40,0a2.2,2.2 0 1,0 -4.40,0M479.4,329.6a2.2,2.2 0 1,0 4.40,0a2.2,2.2 0 1,0 -4.40,0M480.5,331.0a2.2,2.2 0 1,0 4.40,0a2.2,2.2 0 1,0 -4.40,0M481.5,322.9a2.2,2.2 0 1,0 4.40,0a2.2,2.2 0 1,0 -4.40,0M482.6,319.6a2.2,2.2 0 1,0 4.40,0a2.2,2.2 0 1,0 -4.40,0M483.6,319.4a2.2,2.2 0 1,0 4.40,0a2.2,2.2 0 1,0 -4.40,0M484.7,317.0a2.2,2.2 0 1,0 4.40,0a2.2,2.2 0 1,0 -4.40,0M485.7,313.3a2.2,2.2 0 1,0 4.40,0a2.2,2.2 0 1,0 -4.40,0M486.8,315.9a2.2,2.2 0 1,0 4.40,0a2.2,2.2 0 1,0 -4.40,0M487.8,313.2a2.2,2.2 0 1,0 4.40,0a2.2,2.2 0 1,0 -4.40,0M488.9,313.3a2.2,2.2 0 1,0 4.40,0a2.2,2.2 0 1,0 -4.40,0M489.9,312.9a2.2,2.2 0 1,0 4.40,0a2.2,2.2 0 1,0 -4.40,0M491.0,315.3a2.2,2.2 0 1,0 4.40,0a2.2,2.2 0 1,0 -4.40,0M492.0,319.9a2.2,2.2 0 1,0 4.40,0a2.2,2.2 0 1,0 -4.40,0M493.1,319.4a2.2,2.2 0 1,0 4.40,0a2.2,2.2 0 1,0 -4.40,0M494.1,323.9a2.2,2.2 0 1,0 4.40,0a2.2,2.2 0 1,0 -4.40,0M495.2,328.8a2.2,2.2 0 1,0 4.40,0a2.2,2.2 0 1,0 -4.40,0M496.2,329.1a2.2,2.2 0 1,0 4.40,0a2.2,2.2 0 1,0 -4.40,0M497.3,337.0a2.2,2.2 0 1,0 4.40,0a2.2,2.2 0 1,0 -4.40,0M498.3,335.4a2.2,2.2 0 1,0 4.40,0a2.2,2.2 0 1,0 -4.40,0M499.4,337.7a2.2,2.2 0 1,0 4.40,0a2.2,2.2 0 1,0 -4.40,0M500.4,340.6a2.2,2.2 0 1,0 4.40,0a2.2,2.2 0 1,0 -4.40,0M501.5,344.1a2.2,2.2 0 1,0 4.40,0a2.2,2.2 0 1,0 -4.40,0M502.5,342.6a2.2,2.2 0 1,0 4.40,0a2.2,2.2 0 1,0 -4.40,0M503.6,342.4a2.2,2.2 0 1,0 4.40,0a2.2,2.2 0 1,0 -4.40,0M504.6,343.1a2.2,2.2 0 1,0 4.40,0a2.2,2.2 0 1,0 -4.40,0M505.7,345.8a2.2,2.2 0 1,0 4.40,0a2.2,2.2 0 1,0 -4.40,0M506.7,345.1a2.2,2.2 0 1,0 4.40,0a2.2,2.2 0 1,0 -4.40,0M507.8,350.7a2.2,2.2 0 1,0 4.40,0a2.2,2.2 0 1,0 -4.40,0M508.8,349.4a2.2,2.2 0 1,0 4.40,0a2.2,2.2 0 1,0 -4.40,0M509.9,342.3a2.2,2.2 0 1,0 4.40,0a2.2,2.2 0 1,0 -4.40,0M510.9,346.5a2.2,2.2 0 1,0 4.40,0a2.2,2.2 0 1,0 -4.40,0M512.0,349.0a2.2,2.2 0 1,0 4.40,0a2.2,2.2 0 1,0 -4.40,0M513.0,352.7a2.2,2.2 0 1,0 4.40,0a2.2,2.2 0 1,0 -4.40,0M514.1,345.6a2.2,2.2 0 1,0 4.40,0a2.2,2.2 0 1,0 -4.40,0M515.1,348.5a2.2,2.2 0 1,0 4.40,0a2.2,2.2 0 1,0 -4.40,0M516.2,351.5a2.2,2.2 0 1,0 4.40,0a2.2,2.2 0 1,0 -4.40,0M517.2,348.5a2.2,2.2 0 1,0 4.40,0a2.2,2.2 0 1,0 -4.40,0M518.3,349.9a2.2,2.2 0 1,0 4.40,0a2.2,2.2 0 1,0 -4.40,0M519.3,349.1a2.2,2.2 0 1,0 4.40,0a2.2,2.2 0 1,0 -4.40,0M520.4,351.2a2.2,2.2 0 1,0 4.40,0a2.2,2.2 0 1,0 -4.40,0M521.4,348.3a2.2,2.2 0 1,0 4.40,0a2.2,2.2 0 1,0 -4.40,0M522.5,350.3a2.2,2.2 0 1,0 4.40,0a2.2,2.2 0 1,0 -4.40,0M523.5,347.8a2.2,2.2 0 1,0 4.40,0a2.2,2.2 0 1,0 -4.40,0M524.6,352.0a2.2,2.2 0 1,0 4.40,0a2.2,2.2 0 1,0 -4.40,0M525.6,351.4a2.2,2.2 0 1,0 4.40,0a2.2,2.2 0 1,0 -4.40,0M526.7,350.4a2.2,2.2 0 1,0 4.40,0a2.2,2.2 0 1,0 -4.40,0M527.7,350.5a2.2,2.2 0 1,0 4.40,0a2.2,2.2 0 1,0 -4.40,0M528.8,350.5a2.2,2.2 0 1,0 4.40,0a2.2,2.2 0 1,0 -4.40,0M529.8,349.9a2.2,2.2 0 1,0 4.40,0a2.2,2.2 0 1,0 -4.40,0M530.9,350.8a2.2,2.2 0 1,0 4.40,0a2.2,2.2 0 1,0 -4.40,0M531.9,351.1a2.2,2.2 0 1,0 4.40,0a2.2,2.2 0 1,0 -4.40,0M533.0,350.4a2.2,2.2 0 1,0 4.40,0a2.2,2.2 0 1,0 -4.40,0M534.0,349.5a2.2,2.2 0 1,0 4.40,0a2.2,2.2 0 1,0 -4.40,0M535.1,349.8a2.2,2.2 0 1,0 4.40,0a2.2,2.2 0 1,0 -4.40,0" fill="none" stroke="#f02424" stroke-width="0.9"/>
<path d="M306.6,281.8 307.6,281.9 308.6,281.9 309.6,282.0 310.6,282.0 311.6,282.1 312.6,282.1 313.6,282.2 314.6,282.3 315.6,282.3 316.6,282.4 317.6,282.4 318.6,282.5 319.6,282.5 320.6,282.6 321.6,282.6 322.6,282.7 323.6,282.7 324.6,282.8 325.6,282.8 326.6,282.9 327.6,282.9 328.6,283.0 329.6,283.0 330.6,283.1 331.6,283.2 332.6,283.2 333.6,283.3 334.6,283.3 335.6,283.4 336.6,283.4 337.6,283.5 338.6,283.5 339.6,283.6 340.6,283.6 341.6,283.7 342.6,283.8 343.6,283.9 344.6,283.9 345.6,284.0 346.6,284.1 347.6,284.2 348.6,284.2 349.6,284.3 350.6,284.4 351.6,284.5 352.6,284.5 353.6,284.6 354.6,284.7 355.6,284.7 356.6,284.8 357.6,284.9 358.6,285.0 359.6,285.0 360.6,285.1 361.6,285.2 362.6,285.3 363.6,285.3 364.6,285.4 365.6,285.5 366.6,285.6 367.6,285.6 368.6,285.7 369.6,285.8 370.6,285.9 371.6,285.9 372.6,286.0 373.6,286.1 374.6,286.2 375.6,286.3 376.6,286.4 377.6,286.5 378.6,286.6 379.6,286.7 380.6,286.8 381.6,286.8 382.6,286.9 383.6,286.9 384.6,286.9 385.6,287.0 386.6,287.0 387.6,287.0 388.6,287.1 389.6,287.1 390.6,287.1 391.6,287.2 392.6,287.2 393.6,287.2 394.6,287.2 395.6,287.3 396.6,287.3 397.6,287.3 398.6,287.3 399.6,287.3 400.6,287.3 401.6,287.3 402.6,287.4 403.6,287.4 404.6,287.4 405.6,287.4 406.6,287.4 407.6,287.4 408.6,287.4 409.6,287.5 410.6,287.5 411.6,287.5 412.6,287.5 413.6,287.5 414.6,287.5 415.6,287.5 416.6,287.6 417.6,287.6 418.6,287.6 419.6,287.6 420.6,287.6 421.6,287.6 422.6,287.7 423.6,287.7 424.6,287.7 425.6,287.7 426.6,287.8 427.6,287.8 428.6,287.8 429.6,287.8 430.6,287.9 431.6,287.9 432.6,287.9 433.6,287.9 434.6,288.0 435.6,288.0 436.6,288.0 437.6,288.0 438.6,288.1 439.6,288.1 440.6,288.1 441.6,288.1 442.6,288.2 443.6,288.2 444.6,288.2 445.6,288.2 446.6,288.3 447.6,288.3 448.6,288.3 449.6,288.3 450.6,288.4 451.6,288.4 452.6,288.4 453.6,288.4 454.6,288.5 455.6,288.5 456.6,288.5 457.6,288.5 458.6,288.6 459.6,288.6 460.6,288.6 461.6,288.7 462.6,288.8 463.6,288.8 464.6,288.9 465.6,288.9 466.6,289.0 467.6,289.1 468.6,289.1 469.6,289.2 470.6,289.2 471.6,289.3 472.6,289.4 473.6,289.4 474.6,289.5 475.6,289.5 476.6,289.6 477.6,289.7 478.6,289.7 479.6,289.8 480.6,289.9 481.6,289.9 482.6,290.0 483.6,290.1 484.6,290.2 485.6,290.3 486.6,290.4 487.6,290.5 488.6,290.6 489.6,290.7 490.6,290.8 491.6,290.8 492.6,290.9 493.6,291.0 494.6,291.1 495.6,291.2 496.6,291.3 497.6,291.4 498.6,291.5 499.6,291.6 500.6,291.6 501.6,291.7 502.6,291.7 503.6,291.7 504.6,291.8 505.6,291.8 506.6,291.8 507.6,291.9 508.6,291.9 509.6,291.9 510.6,292.0 511.6,292.0 512.6,292.0 513.6,292.1 514.6,292.1 515.6,292.1 516.6,292.2 517.6,292.2 518.6,292.3 519.6,292.3 520.6,292.3 521.6,292.4 522.6,292.4 523.6,292.4 524.6,292.5 525.6,292.5 526.6,292.5 527.6,292.6 528.6,292.6 529.6,292.6 530.6,292.7 531.6,292.7 532.6,292.7 533.6,292.8 534.6,292.8 535.6,292.8 536.6,292.9 537.6,292.9" fill="none" stroke="#1aa8e6" stroke-width="1.6" stroke-linejoin="round" opacity="1"/>
<path d="M306.6,280.3 307.6,280.3 308.6,280.4 309.6,280.4 310.6,280.4 311.6,280.5 312.6,280.5 313.6,280.5 314.6,280.6 315.6,280.6 316.6,280.6 317.6,280.7 318.6,280.7 319.6,280.7 320.6,280.7 321.6,280.7 322.6,280.8 323.6,280.8 324.6,280.8 325.6,280.8 326.6,280.8 327.6,280.8 328.6,280.8 329.6,280.8 330.6,280.7 331.6,280.7 332.6,280.7 333.6,280.7 334.6,280.6 335.6,280.6 336.6,280.6 337.6,280.5 338.6,280.4 339.6,280.4 340.6,280.3 341.6,280.3 342.6,280.2 343.6,280.1 344.6,280.1 345.6,280.0 346.6,279.9 347.6,279.8 348.6,279.7 349.6,279.5 350.6,279.4 351.6,279.3 352.6,279.1 353.6,278.9 354.6,278.8 355.6,278.6 356.6,278.3 357.6,278.1 358.6,277.8 359.6,277.5 360.6,277.2 361.6,276.8 362.6,276.4 363.6,276.0 364.6,275.5 365.6,274.9 366.6,274.2 367.6,273.4 368.6,272.5 369.6,271.5 370.6,270.3 371.6,269.0 372.6,267.4 373.6,265.7 374.6,263.7 375.6,261.6 376.6,259.3 377.6,257.1 378.6,255.0 379.6,253.3 380.6,252.2 381.6,251.9 382.6,252.7 383.6,254.8 384.6,257.7 385.6,260.9 386.6,264.1 387.6,267.0 388.6,269.5 389.6,271.7 390.6,273.5 391.6,275.0 392.6,276.3 393.6,277.4 394.6,278.3 395.6,279.1 396.6,279.8 397.6,280.4 398.6,280.9 399.6,281.4 400.6,281.8 401.6,282.1 402.6,282.4 403.6,282.7 404.6,283.0 405.6,283.2 406.6,283.4 407.6,283.6 408.6,283.8 409.6,283.9 410.6,284.0 411.6,284.2 412.6,284.3 413.6,284.4 414.6,284.5 415.6,284.6 416.6,284.6 417.6,284.7 418.6,284.8 419.6,284.8 420.6,284.9 421.6,284.9 422.6,285.0 423.6,285.0 424.6,285.0 425.6,285.1 426.6,285.1 427.6,285.1 428.6,285.1 429.6,285.1 430.6,285.1 431.6,285.1 432.6,285.1 433.6,285.1 434.6,285.0 435.6,285.0 436.6,284.9 437.6,284.9 438.6,284.8 439.6,284.7 440.6,284.6 441.6,284.5 442.6,284.4 443.6,284.3 444.6,284.1 445.6,284.0 446.6,283.8 447.6,283.6 448.6,283.4 449.6,283.2 450.6,283.0 451.6,282.8 452.6,282.5 453.6,282.3 454.6,282.0 455.6,281.7 456.6,281.4 457.6,281.1 458.6,280.8 459.6,280.4 460.6,280.1 461.6,279.8 462.6,279.4 463.6,279.1 464.6,278.7 465.6,278.3 466.6,277.8 467.6,277.3 468.6,276.8 469.6,276.3 470.6,275.7 471.6,275.0 472.6,274.2 473.6,273.3 474.6,272.3 475.6,271.1 476.6,269.8 477.6,268.2 478.6,266.3 479.6,264.2 480.6,261.7 481.6,258.8 482.6,255.5 483.6,251.7 484.6,247.4 485.6,242.9 486.6,238.2 487.6,233.9 488.6,230.3 489.6,228.1 490.6,227.6 491.6,230.1 492.6,235.7 493.6,242.8 494.6,250.1 495.6,256.6 496.6,262.2 497.6,266.9 498.6,270.6 499.6,273.7 500.6,276.2 501.6,278.2 502.6,279.9 503.6,281.2 504.6,282.4 505.6,283.4 506.6,284.2 507.6,284.9 508.6,285.6 509.6,286.1 510.6,286.6 511.6,287.0 512.6,287.4 513.6,287.7 514.6,288.0 515.6,288.3 516.6,288.5 517.6,288.7 518.6,288.9 519.6,289.1 520.6,289.3 521.6,289.4 522.6,289.6 523.6,289.7 524.6,289.9 525.6,290.0 526.6,290.1 527.6,290.2 528.6,290.3 529.6,290.4 530.6,290.5 531.6,290.6 532.6,290.7 533.6,290.7 534.6,290.8 535.6,290.9 536.6,291.0 537.6,291.0" fill="none" stroke="#2e4a6e" stroke-width="1.3" stroke-linejoin="round" opacity="1"/>
<path d="M306.6,371.6 307.6,371.5 308.6,371.4 309.6,371.3 310.6,371.2 311.6,371.1 312.6,371.1 313.6,371.0 314.6,370.9 315.6,370.8 316.6,370.7 317.6,370.7 318.6,370.6 319.6,370.5 320.6,370.4 321.6,370.3 322.6,370.2 323.6,370.2 324.6,370.1 325.6,370.0 326.6,369.9 327.6,369.8 328.6,369.8 329.6,369.7 330.6,369.6 331.6,369.5 332.6,369.4 333.6,369.3 334.6,369.3 335.6,369.2 336.6,369.1 337.6,369.0 338.6,368.9 339.6,368.9 340.6,368.8 341.6,368.7 342.6,368.6 343.6,368.5 344.6,368.4 345.6,368.4 346.6,368.3 347.6,368.2 348.6,368.1 349.6,368.0 350.6,368.0 351.6,367.9 352.6,367.8 353.6,367.7 354.6,367.6 355.6,367.6 356.6,367.5 357.6,367.4 358.6,367.3 359.6,367.2 360.6,367.1 361.6,367.1 362.6,367.0 363.6,366.9 364.6,366.8 365.6,366.7 366.6,366.7 367.6,366.6 368.6,366.5 369.6,366.4 370.6,366.3 371.6,366.2 372.6,366.2 373.6,366.1 374.6,366.0 375.6,365.9 376.6,365.8 377.6,365.8 378.6,365.7 379.6,365.6 380.6,365.5 381.6,365.4 382.6,365.3 383.6,365.3 384.6,365.2 385.6,365.1 386.6,365.0 387.6,364.9 388.6,364.9 389.6,364.8 390.6,364.7 391.6,364.6 392.6,364.5 393.6,364.4 394.6,364.4 395.6,364.3 396.6,364.2 397.6,364.1 398.6,364.0 399.6,364.0 400.6,363.9 401.6,363.8 402.6,363.7 403.6,363.6 404.6,363.6 405.6,363.5 406.6,363.4 407.6,363.3 408.6,363.2 409.6,363.1 410.6,363.1 411.6,363.0 412.6,362.9 413.6,362.8 414.6,362.7 415.6,362.7 416.6,362.6 417.6,362.5 418.6,362.4 419.6,362.3 420.6,362.2 421.6,362.2 422.6,362.1 423.6,362.0 424.6,361.9 425.6,361.8 426.6,361.8 427.6,361.7 428.6,361.6 429.6,361.5 430.6,361.4 431.6,361.3 432.6,361.3 433.6,361.2 434.6,361.1 435.6,361.0 436.6,360.9 437.6,360.9 438.6,360.8 439.6,360.7 440.6,360.6 441.6,360.5 442.6,360.5 443.6,360.4 444.6,360.3 445.6,360.2 446.6,360.1 447.6,360.0 448.6,360.0 449.6,359.9 450.6,359.8 451.6,359.7 452.6,359.6 453.6,359.6 454.6,359.5 455.6,359.4 456.6,359.3 457.6,359.2 458.6,359.1 459.6,359.1 460.6,359.0 461.6,358.9 462.6,358.8 463.6,358.7 464.6,358.7 465.6,358.6 466.6,358.5 467.6,358.4 468.6,358.3 469.6,358.2 470.6,358.2 471.6,358.1 472.6,358.0 473.6,357.9 474.6,357.8 475.6,357.8 476.6,357.7 477.6,357.6 478.6,357.5 479.6,357.4 480.6,357.3 481.6,357.3 482.6,357.2 483.6,357.1 484.6,357.0 485.6,356.9 486.6,356.9 487.6,356.8 488.6,356.7 489.6,356.6 490.6,356.5 491.6,356.5 492.6,356.4 493.6,356.3 494.6,356.2 495.6,356.1 496.6,356.0 497.6,356.0 498.6,355.9 499.6,355.8 500.6,355.7 501.6,355.6 502.6,355.6 503.6,355.5 504.6,355.4 505.6,355.3 506.6,355.2 507.6,355.1 508.6,355.1 509.6,355.0 510.6,354.9 511.6,354.8 512.6,354.7 513.6,354.7 514.6,354.6 515.6,354.5 516.6,354.4 517.6,354.3 518.6,354.2 519.6,354.2 520.6,354.1 521.6,354.0 522.6,353.9 523.6,353.8 524.6,353.8 525.6,353.7 526.6,353.6 527.6,353.5 528.6,353.4 529.6,353.3 530.6,353.3 531.6,353.2 532.6,353.1 533.6,353.0 534.6,352.9 535.6,352.9 536.6,352.8 537.6,352.7" fill="none" stroke="#1aa8e6" stroke-width="1.6" stroke-linejoin="round" opacity="1"/>
<path d="M306.6,370.3 307.6,370.2 308.6,370.0 309.6,369.9 310.6,369.8 311.6,369.7 312.6,369.5 313.6,369.4 314.6,369.3 315.6,369.1 316.6,369.0 317.6,368.8 318.6,368.7 319.6,368.5 320.6,368.4 321.6,368.2 322.6,368.1 323.6,367.9 324.6,367.8 325.6,367.6 326.6,367.5 327.6,367.3 328.6,367.1 329.6,367.0 330.6,366.8 331.6,366.6 332.6,366.5 333.6,366.3 334.6,366.1 335.6,366.0 336.6,365.8 337.6,365.6 338.6,365.4 339.6,365.3 340.6,365.1 341.6,364.9 342.6,364.8 343.6,364.6 344.6,364.4 345.6,364.2 346.6,364.0 347.6,363.9 348.6,363.7 349.6,363.5 350.6,363.3 351.6,363.1 352.6,362.9 353.6,362.7 354.6,362.5 355.6,362.3 356.6,362.1 357.6,361.8 358.6,361.6 359.6,361.3 360.6,361.0 361.6,360.7 362.6,360.4 363.6,360.0 364.6,359.6 365.6,359.2 366.6,358.7 367.6,358.2 368.6,357.5 369.6,356.9 370.6,356.1 371.6,355.2 372.6,354.2 373.6,353.1 374.6,351.8 375.6,350.5 376.6,349.0 377.6,347.6 378.6,346.1 379.6,344.9 380.6,343.9 381.6,343.3 382.6,343.2 383.6,343.8 384.6,345.0 385.6,346.7 386.6,348.5 387.6,350.2 388.6,351.8 389.6,353.3 390.6,354.5 391.6,355.5 392.6,356.4 393.6,357.1 394.6,357.7 395.6,358.2 396.6,358.6 397.6,358.9 398.6,359.1 399.6,359.4 400.6,359.5 401.6,359.7 402.6,359.8 403.6,359.8 404.6,359.9 405.6,359.9 406.6,359.9 407.6,359.9 408.6,359.8 409.6,359.8 410.6,359.7 411.6,359.6 412.6,359.5 413.6,359.4 414.6,359.2 415.6,359.1 416.6,358.9 417.6,358.8 418.6,358.6 419.6,358.4 420.6,358.2 421.6,358.0 422.6,357.8 423.6,357.5 424.6,357.3 425.6,357.0 426.6,356.8 427.6,356.5 428.6,356.2 429.6,355.9 430.6,355.6 431.6,355.3 432.6,355.0 433.6,354.6 434.6,354.3 435.6,354.0 436.6,353.6 437.6,353.3 438.6,352.9 439.6,352.5 440.6,352.2 441.6,351.8 442.6,351.4 443.6,351.0 444.6,350.7 445.6,350.3 446.6,349.9 447.6,349.5 448.6,349.2 449.6,348.8 450.6,348.4 451.6,348.0 452.6,347.7 453.6,347.3 454.6,346.9 455.6,346.6 456.6,346.2 457.6,345.8 458.6,345.5 459.6,345.1 460.6,344.7 461.6,344.4 462.6,344.0 463.6,343.6 464.6,343.2 465.6,342.8 466.6,342.4 467.6,341.9 468.6,341.4 469.6,340.9 470.6,340.4 471.6,339.8 472.6,339.1 473.6,338.4 474.6,337.5 475.6,336.6 476.6,335.6 477.6,334.5 478.6,333.2 479.6,331.7 480.6,330.1 481.6,328.3 482.6,326.3 483.6,324.1 484.6,321.9 485.6,319.6 486.6,317.3 487.6,315.3 488.6,313.6 489.6,312.5 490.6,312.1 491.6,312.5 492.6,314.2 493.6,316.9 494.6,320.1 495.6,323.5 496.6,326.9 497.6,330.0 498.6,332.8 499.6,335.2 500.6,337.3 501.6,339.1 502.6,340.7 503.6,342.0 504.6,343.2 505.6,344.2 506.6,345.1 507.6,345.9 508.6,346.5 509.6,347.1 510.6,347.6 511.6,348.1 512.6,348.5 513.6,348.8 514.6,349.2 515.6,349.4 516.6,349.7 517.6,349.9 518.6,350.1 519.6,350.3 520.6,350.4 521.6,350.5 522.6,350.7 523.6,350.7 524.6,350.8 525.6,350.9 526.6,351.0 527.6,351.0 528.6,351.0 529.6,351.1 530.6,351.1 531.6,351.1 532.6,351.1 533.6,351.1 534.6,351.1 535.6,351.1 536.6,351.1 537.6,351.1" fill="none" stroke="#2e4a6e" stroke-width="1.3" stroke-linejoin="round" opacity="1"/>
<rect x="305.8" y="220.9" width="233.60" height="163.10" fill="none" stroke="#333" stroke-width="1.3"/>
<line x1="526.30" y1="384.00" x2="526.30" y2="385.60" stroke="#333" stroke-width="1.0" stroke-linecap="butt"/>
<line x1="501.80" y1="384.00" x2="501.80" y2="386.60" stroke="#333" stroke-width="1.0" stroke-linecap="butt"/>
<text x="501.80" y="395.00" font-size="8.8" text-anchor="middle" fill="#111" style="stroke-width:0.3px">460</text>
<line x1="477.30" y1="384.00" x2="477.30" y2="385.60" stroke="#333" stroke-width="1.0" stroke-linecap="butt"/>
<line x1="452.80" y1="384.00" x2="452.80" y2="386.60" stroke="#333" stroke-width="1.0" stroke-linecap="butt"/>
<text x="452.80" y="395.00" font-size="8.8" text-anchor="middle" fill="#111" style="stroke-width:0.3px">470</text>
<line x1="428.30" y1="384.00" x2="428.30" y2="385.60" stroke="#333" stroke-width="1.0" stroke-linecap="butt"/>
<line x1="403.80" y1="384.00" x2="403.80" y2="386.60" stroke="#333" stroke-width="1.0" stroke-linecap="butt"/>
<text x="403.80" y="395.00" font-size="8.8" text-anchor="middle" fill="#111" style="stroke-width:0.3px">480</text>
<line x1="379.30" y1="384.00" x2="379.30" y2="385.60" stroke="#333" stroke-width="1.0" stroke-linecap="butt"/>
<line x1="354.80" y1="384.00" x2="354.80" y2="386.60" stroke="#333" stroke-width="1.0" stroke-linecap="butt"/>
<text x="354.80" y="395.00" font-size="8.8" text-anchor="middle" fill="#111" style="stroke-width:0.3px">490</text>
<line x1="330.30" y1="384.00" x2="330.30" y2="385.60" stroke="#333" stroke-width="1.0" stroke-linecap="butt"/>
<line x1="305.80" y1="384.00" x2="305.80" y2="386.60" stroke="#333" stroke-width="1.0" stroke-linecap="butt"/>
<text x="305.80" y="395.00" font-size="8.8" text-anchor="middle" fill="#111" style="stroke-width:0.3px">500</text>
<text x="430.20" y="400.90" font-size="8.9" text-anchor="middle" fill="#111" style="stroke-width:0.3px">Binding energy (eV)</text>
<text x="300.40" y="304.50" font-size="8.9" text-anchor="middle" fill="#111" style="stroke-width:0.3px" transform="rotate(-90 300.40 304.50)">Intensity (a.u.)</text>
<text x="277.20" y="237.20" font-size="23" text-anchor="start" fill="#111" style="font-weight:normal;stroke:none">(d)</text>
<line x1="381.60" y1="226.60" x2="381.60" y2="345.50" stroke="#222" stroke-width="1.3" stroke-dasharray="4.6,5" stroke-linecap="butt"/>
<line x1="381.60" y1="226.60" x2="429.00" y2="226.60" stroke="#222" stroke-width="1.3" stroke-dasharray="4.6,5" stroke-linecap="butt"/>
<line x1="446.50" y1="226.60" x2="490.50" y2="226.60" stroke="#222" stroke-width="1.3" stroke-dasharray="4.6,5" stroke-linecap="butt"/>
<line x1="490.50" y1="226.60" x2="490.50" y2="331.00" stroke="#222" stroke-width="1.3" stroke-dasharray="4.6,5" stroke-linecap="butt"/>
<text x="353.20" y="235.70" font-size="7.8" text-anchor="start" fill="#111" style="stroke-width:0.18px">Ru 3p<tspan dy="1.8" font-size="62%">1/2</tspan><tspan dy="-1.8"></tspan></text>
<text x="353.50" y="244.00" font-size="7.8" text-anchor="start" fill="#111" style="stroke-width:0.18px">484.3</text>
<text x="432.50" y="229.60" font-size="7.8" text-anchor="start" fill="#111" style="stroke-width:0.18px">Ru<tspan dy="-2.6" font-size="60%">0</tspan><tspan dy="2.6"></tspan></text>
<text x="455.90" y="247.50" font-size="7.8" text-anchor="start" fill="#111" style="stroke-width:0.18px">Ru 3p<tspan dy="1.8" font-size="62%">3/2</tspan><tspan dy="-1.8"></tspan></text>
<text x="458.20" y="255.50" font-size="7.8" text-anchor="start" fill="#111" style="stroke-width:0.18px">462.1</text>
<text x="514.30" y="230.50" font-size="8.6" text-anchor="start" fill="#111" style="stroke-width:0.3px">Ru 3p</text>
<text x="323.60" y="267.60" font-size="8.7" text-anchor="start" fill="#111" style="stroke-width:0.3px">Ru-Mo<tspan dy="2.0" font-size="68%">2</tspan><tspan dy="-2.0">C</tspan></text>
<text x="318.40" y="340.40" font-size="8.7" text-anchor="start" fill="#111" style="stroke-width:0.3px">Ru-Mo<tspan dy="2.0" font-size="68%">2</tspan><tspan dy="-2.0">C@CN</tspan></text>
<path d="M122.4,480.6 123.4,480.6 124.4,480.6 125.4,480.5 126.4,480.4 127.4,480.2 128.4,479.9 129.4,479.4 130.4,478.8 131.4,477.9 132.4,476.7 133.4,475.2 134.4,473.3 135.4,471.1 136.4,468.4 137.4,465.4 138.4,462.2 139.4,458.8 140.4,455.5 141.4,452.3 142.4,449.6 143.4,447.3 144.4,445.8 145.4,445.1 146.4,445.3 147.4,446.3 148.4,448.1 149.4,450.6 150.4,453.6 151.4,456.9 152.4,460.4 153.4,463.9 154.4,467.2 155.4,470.3 156.4,473.0 157.4,475.3 158.4,477.2 159.4,478.8 160.4,480.1 161.4,481.0 162.4,481.7 163.4,482.2 164.4,482.6 165.4,482.9 166.4,483.1 167.4,483.2 168.4,483.3 169.4,483.4 L169.4,483.5 L122.4,480.6 Z" fill="#40c0f0" fill-opacity="0.62" stroke="none"/>
<path d="M122.4,480.6 123.4,480.6 124.4,480.6 125.4,480.5 126.4,480.4 127.4,480.2 128.4,479.9 129.4,479.4 130.4,478.8 131.4,477.9 132.4,476.7 133.4,475.2 134.4,473.3 135.4,471.1 136.4,468.4 137.4,465.4 138.4,462.2 139.4,458.8 140.4,455.5 141.4,452.3 142.4,449.6 143.4,447.3 144.4,445.8 145.4,445.1 146.4,445.3 147.4,446.3 148.4,448.1 149.4,450.6 150.4,453.6 151.4,456.9 152.4,460.4 153.4,463.9 154.4,467.2 155.4,470.3 156.4,473.0 157.4,475.3 158.4,477.2 159.4,478.8 160.4,480.1 161.4,481.0 162.4,481.7 163.4,482.2 164.4,482.6 165.4,482.9 166.4,483.1 167.4,483.2 168.4,483.3 169.4,483.4" fill="none" stroke="#30b0ec" stroke-width="0.9"/>
<path d="M179.4,483.9 180.4,483.9 181.4,483.9 182.4,483.9 183.4,483.7 184.4,483.6 185.4,483.3 186.4,482.8 187.4,482.2 188.4,481.3 189.4,480.1 190.4,478.6 191.4,476.6 192.4,474.2 193.4,471.4 194.4,468.1 195.4,464.4 196.4,460.4 197.4,456.2 198.4,452.0 199.4,447.9 200.4,444.3 201.4,441.2 202.4,439.0 203.4,437.6 204.4,437.2 205.4,437.9 206.4,439.6 207.4,442.1 208.4,445.4 209.4,449.2 210.4,453.4 211.4,457.7 212.4,462.0 213.4,466.1 214.4,469.8 215.4,473.1 216.4,476.0 217.4,478.4 218.4,480.3 219.4,481.9 220.4,483.1 221.4,484.0 222.4,484.7 223.4,485.2 224.4,485.6 225.4,485.9 226.4,486.1 227.4,486.2 228.4,486.3 229.4,486.4 L229.4,486.5 L179.4,484.0 Z" fill="#40c0f0" fill-opacity="0.62" stroke="none"/>
<path d="M179.4,483.9 180.4,483.9 181.4,483.9 182.4,483.9 183.4,483.7 184.4,483.6 185.4,483.3 186.4,482.8 187.4,482.2 188.4,481.3 189.4,480.1 190.4,478.6 191.4,476.6 192.4,474.2 193.4,471.4 194.4,468.1 195.4,464.4 196.4,460.4 197.4,456.2 198.4,452.0 199.4,447.9 200.4,444.3 201.4,441.2 202.4,439.0 203.4,437.6 204.4,437.2 205.4,437.9 206.4,439.6 207.4,442.1 208.4,445.4 209.4,449.2 210.4,453.4 211.4,457.7 212.4,462.0 213.4,466.1 214.4,469.8 215.4,473.1 216.4,476.0 217.4,478.4 218.4,480.3 219.4,481.9 220.4,483.1 221.4,484.0 222.4,484.7 223.4,485.2 224.4,485.6 225.4,485.9 226.4,486.1 227.4,486.2 228.4,486.3 229.4,486.4" fill="none" stroke="#30b0ec" stroke-width="0.9"/>
<path d="M34.4,478.3 35.4,478.3 36.4,478.3 37.4,478.3 38.4,478.3 39.4,478.3 40.4,478.3 41.4,478.2 42.4,478.2 43.4,478.1 44.4,478.1 45.4,478.0 46.4,477.9 47.4,477.9 48.4,477.8 49.4,477.6 50.4,477.5 51.4,477.4 52.4,477.2 53.4,477.0 54.4,476.8 55.4,476.6 56.4,476.3 57.4,476.0 58.4,475.7 59.4,475.4 60.4,475.1 61.4,474.7 62.4,474.3 63.4,473.9 64.4,473.4 65.4,473.0 66.4,472.5 67.4,472.0 68.4,471.5 69.4,471.0 70.4,470.5 71.4,469.9 72.4,469.4 73.4,468.9 74.4,468.4 75.4,467.9 76.4,467.5 77.4,467.0 78.4,466.6 79.4,466.3 80.4,465.9 81.4,465.7 82.4,465.4 83.4,465.2 84.4,465.1 85.4,465.0 86.4,465.0 87.4,465.0 88.4,465.1 89.4,465.2 90.4,465.4 91.4,465.7 92.4,466.0 93.4,466.3 94.4,466.8 95.4,467.2 96.4,467.7 97.4,468.2 98.4,468.7 99.4,469.3 100.4,469.8 101.4,470.4 102.4,471.0 103.4,471.5 104.4,472.1 105.4,472.7 106.4,473.3 107.4,473.8 108.4,474.3 109.4,474.9 110.4,475.3 111.4,475.8 112.4,476.3 113.4,476.7 114.4,477.1 115.4,477.5 116.4,477.8 117.4,478.1 118.4,478.5 119.4,478.7 120.4,479.0 121.4,479.2 122.4,479.5 123.4,479.7 124.4,479.8 125.4,480.0 126.4,480.2 127.4,480.3 128.4,480.5 129.4,480.6 130.4,480.7 131.4,480.8 132.4,480.9 133.4,481.0 134.4,481.1 135.4,481.2 136.4,481.3 137.4,481.4 138.4,481.5 L138.4,481.6 L34.4,478.4 Z" fill="#ec4cb4" fill-opacity="0.6" stroke="none"/>
<path d="M34.4,478.3 35.4,478.3 36.4,478.3 37.4,478.3 38.4,478.3 39.4,478.3 40.4,478.3 41.4,478.2 42.4,478.2 43.4,478.1 44.4,478.1 45.4,478.0 46.4,477.9 47.4,477.9 48.4,477.8 49.4,477.6 50.4,477.5 51.4,477.4 52.4,477.2 53.4,477.0 54.4,476.8 55.4,476.6 56.4,476.3 57.4,476.0 58.4,475.7 59.4,475.4 60.4,475.1 61.4,474.7 62.4,474.3 63.4,473.9 64.4,473.4 65.4,473.0 66.4,472.5 67.4,472.0 68.4,471.5 69.4,471.0 70.4,470.5 71.4,469.9 72.4,469.4 73.4,468.9 74.4,468.4 75.4,467.9 76.4,467.5 77.4,467.0 78.4,466.6 79.4,466.3 80.4,465.9 81.4,465.7 82.4,465.4 83.4,465.2 84.4,465.1 85.4,465.0 86.4,465.0 87.4,465.0 88.4,465.1 89.4,465.2 90.4,465.4 91.4,465.7 92.4,466.0 93.4,466.3 94.4,466.8 95.4,467.2 96.4,467.7 97.4,468.2 98.4,468.7 99.4,469.3 100.4,469.8 101.4,470.4 102.4,471.0 103.4,471.5 104.4,472.1 105.4,472.7 106.4,473.3 107.4,473.8 108.4,474.3 109.4,474.9 110.4,475.3 111.4,475.8 112.4,476.3 113.4,476.7 114.4,477.1 115.4,477.5 116.4,477.8 117.4,478.1 118.4,478.5 119.4,478.7 120.4,479.0 121.4,479.2 122.4,479.5 123.4,479.7 124.4,479.8 125.4,480.0 126.4,480.2 127.4,480.3 128.4,480.5 129.4,480.6 130.4,480.7 131.4,480.8 132.4,480.9 133.4,481.0 134.4,481.1 135.4,481.2 136.4,481.3 137.4,481.4 138.4,481.5" fill="none" stroke="#e62898" stroke-width="0.9"/>
<path d="M94.4,479.2 95.4,479.2 96.4,479.2 97.4,479.2 98.4,479.3 99.4,479.3 100.4,479.3 101.4,479.2 102.4,479.2 103.4,479.2 104.4,479.1 105.4,479.1 106.4,479.0 107.4,478.8 108.4,478.7 109.4,478.5 110.4,478.3 111.4,478.1 112.4,477.8 113.4,477.4 114.4,477.1 115.4,476.6 116.4,476.2 117.4,475.6 118.4,475.1 119.4,474.4 120.4,473.8 121.4,473.0 122.4,472.2 123.4,471.4 124.4,470.6 125.4,469.7 126.4,468.8 127.4,467.8 128.4,466.9 129.4,465.9 130.4,465.0 131.4,464.1 132.4,463.2 133.4,462.4 134.4,461.7 135.4,461.0 136.4,460.4 137.4,459.9 138.4,459.4 139.4,459.1 140.4,458.9 141.4,458.8 142.4,458.8 143.4,459.0 144.4,459.2 145.4,459.6 146.4,460.1 147.4,460.6 148.4,461.3 149.4,462.1 150.4,462.9 151.4,463.8 152.4,464.8 153.4,465.8 154.4,466.8 155.4,467.8 156.4,468.9 157.4,470.0 158.4,471.0 159.4,472.1 160.4,473.0 161.4,474.0 162.4,474.9 163.4,475.8 164.4,476.6 165.4,477.4 166.4,478.1 167.4,478.8 168.4,479.4 169.4,479.9 170.4,480.5 171.4,480.9 172.4,481.3 173.4,481.7 174.4,482.1 175.4,482.4 176.4,482.6 177.4,482.9 178.4,483.1 179.4,483.3 180.4,483.5 181.4,483.6 182.4,483.7 183.4,483.9 184.4,484.0 185.4,484.1 186.4,484.2 187.4,484.2 188.4,484.3 189.4,484.4 190.4,484.5 L190.4,484.5 L94.4,479.2 Z" fill="#ec4cb4" fill-opacity="0.6" stroke="none"/>
<path d="M94.4,479.2 95.4,479.2 96.4,479.2 97.4,479.2 98.4,479.3 99.4,479.3 100.4,479.3 101.4,479.2 102.4,479.2 103.4,479.2 104.4,479.1 105.4,479.1 106.4,479.0 107.4,478.8 108.4,478.7 109.4,478.5 110.4,478.3 111.4,478.1 112.4,477.8 113.4,477.4 114.4,477.1 115.4,476.6 116.4,476.2 117.4,475.6 118.4,475.1 119.4,474.4 120.4,473.8 121.4,473.0 122.4,472.2 123.4,471.4 124.4,470.6 125.4,469.7 126.4,468.8 127.4,467.8 128.4,466.9 129.4,465.9 130.4,465.0 131.4,464.1 132.4,463.2 133.4,462.4 134.4,461.7 135.4,461.0 136.4,460.4 137.4,459.9 138.4,459.4 139.4,459.1 140.4,458.9 141.4,458.8 142.4,458.8 143.4,459.0 144.4,459.2 145.4,459.6 146.4,460.1 147.4,460.6 148.4,461.3 149.4,462.1 150.4,462.9 151.4,463.8 152.4,464.8 153.4,465.8 154.4,466.8 155.4,467.8 156.4,468.9 157.4,470.0 158.4,471.0 159.4,472.1 160.4,473.0 161.4,474.0 162.4,474.9 163.4,475.8 164.4,476.6 165.4,477.4 166.4,478.1 167.4,478.8 168.4,479.4 169.4,479.9 170.4,480.5 171.4,480.9 172.4,481.3 173.4,481.7 174.4,482.1 175.4,482.4 176.4,482.6 177.4,482.9 178.4,483.1 179.4,483.3 180.4,483.5 181.4,483.6 182.4,483.7 183.4,483.9 184.4,484.0 185.4,484.1 186.4,484.2 187.4,484.2 188.4,484.3 189.4,484.4 190.4,484.5" fill="none" stroke="#e62898" stroke-width="0.9"/>
<path d="M34.4,478.1 35.4,478.1 36.4,478.1 37.4,478.1 38.4,478.1 39.4,478.1 40.4,478.1 41.4,478.1 42.4,478.1 43.4,478.1 44.4,478.1 45.4,478.1 46.4,478.1 47.4,478.1 48.4,478.1 49.4,478.1 50.4,478.1 51.4,478.0 52.4,478.0 53.4,478.0 54.4,478.0 55.4,478.0 56.4,478.0 57.4,478.0 58.4,478.0 59.4,477.9 60.4,477.9 61.4,477.9 62.4,477.9 63.4,477.9 64.4,477.9 65.4,477.8 66.4,477.8 67.4,477.8 68.4,477.8 69.4,477.8 70.4,477.8 71.4,477.7 72.4,477.7 73.4,477.7 74.4,477.7 75.4,477.6 76.4,477.6 77.4,477.6 78.4,477.6 79.4,477.6 80.4,477.5 81.4,477.5 82.4,477.5 83.4,477.5 84.4,477.4 85.4,477.4 86.4,477.4 87.4,477.4 88.4,477.4 89.4,477.3 90.4,477.3 91.4,477.3 92.4,477.4 93.4,477.4 94.4,477.4 95.4,477.4 96.4,477.4 97.4,477.4 98.4,477.5 99.4,477.5 100.4,477.5 101.4,477.5 102.4,477.5 103.4,477.6 104.4,477.6 105.4,477.6 106.4,477.6 107.4,477.7 108.4,477.7 109.4,477.7 110.4,477.7 111.4,477.8 112.4,477.8 113.4,477.8 114.4,477.9 115.4,477.9 116.4,477.9 117.4,478.0 118.4,478.0 119.4,478.0 120.4,478.1 121.4,478.1 122.4,478.2 123.4,478.2 124.4,478.2 125.4,478.3 126.4,478.3 127.4,478.4 128.4,478.4 129.4,478.5 130.4,478.5 131.4,478.6 132.4,478.7 133.4,478.7 134.4,478.8 135.4,478.9 136.4,479.0 137.4,479.0 138.4,479.1 139.4,479.2 140.4,479.3 141.4,479.3 142.4,479.4 143.4,479.5 144.4,479.6 145.4,479.7 146.4,479.8 147.4,479.8 148.4,479.9 149.4,480.0 150.4,480.1 151.4,480.2 152.4,480.3 153.4,480.4 154.4,480.5 155.4,480.6 156.4,480.7 157.4,480.7 158.4,480.8 159.4,480.9 160.4,481.0 161.4,481.1 162.4,481.2 163.4,481.3 164.4,481.4 165.4,481.4 166.4,481.5 167.4,481.6 168.4,481.7 169.4,481.8 170.4,481.8 171.4,481.9 172.4,482.0 173.4,482.1 174.4,482.2 175.4,482.3 176.4,482.4 177.4,482.4 178.4,482.5 179.4,482.6 180.4,482.7 181.4,482.8 182.4,482.9 183.4,482.9 184.4,483.0 185.4,483.1 186.4,483.2 187.4,483.3 188.4,483.3 189.4,483.4 190.4,483.5 191.4,483.6 192.4,483.7 193.4,483.7 194.4,483.8 195.4,483.9 196.4,484.0 197.4,484.1 198.4,484.1 199.4,484.2 200.4,484.3 201.4,484.4 202.4,484.4 203.4,484.5 204.4,484.6 205.4,484.7 206.4,484.7 207.4,484.8 208.4,484.9 209.4,484.9 210.4,485.0 211.4,485.1 212.4,485.2 213.4,485.2 214.4,485.3 215.4,485.4 216.4,485.4 217.4,485.5 218.4,485.6 219.4,485.6 220.4,485.7 221.4,485.8 222.4,485.8 223.4,485.9 224.4,485.9 225.4,486.0 226.4,486.1 227.4,486.1 228.4,486.2 229.4,486.3 230.4,486.3 231.4,486.3 232.4,486.4 233.4,486.4 234.4,486.4 235.4,486.5 236.4,486.5 237.4,486.5 238.4,486.6 239.4,486.6 240.4,486.6 241.4,486.7 242.4,486.7 243.4,486.7 244.4,486.7 245.4,486.8 246.4,486.8 247.4,486.8 248.4,486.9 L248.4,486.9 L34.4,478.4 Z" fill="#b4f080" fill-opacity="0.5" stroke="none"/>
<path d="M34.4,478.1 35.4,478.1 36.4,478.1 37.4,478.1 38.4,478.1 39.4,478.1 40.4,478.1 41.4,478.1 42.4,478.1 43.4,478.1 44.4,478.1 45.4,478.1 46.4,478.1 47.4,478.1 48.4,478.1 49.4,478.1 50.4,478.1 51.4,478.0 52.4,478.0 53.4,478.0 54.4,478.0 55.4,478.0 56.4,478.0 57.4,478.0 58.4,478.0 59.4,477.9 60.4,477.9 61.4,477.9 62.4,477.9 63.4,477.9 64.4,477.9 65.4,477.8 66.4,477.8 67.4,477.8 68.4,477.8 69.4,477.8 70.4,477.8 71.4,477.7 72.4,477.7 73.4,477.7 74.4,477.7 75.4,477.6 76.4,477.6 77.4,477.6 78.4,477.6 79.4,477.6 80.4,477.5 81.4,477.5 82.4,477.5 83.4,477.5 84.4,477.4 85.4,477.4 86.4,477.4 87.4,477.4 88.4,477.4 89.4,477.3 90.4,477.3 91.4,477.3 92.4,477.4 93.4,477.4 94.4,477.4 95.4,477.4 96.4,477.4 97.4,477.4 98.4,477.5 99.4,477.5 100.4,477.5 101.4,477.5 102.4,477.5 103.4,477.6 104.4,477.6 105.4,477.6 106.4,477.6 107.4,477.7 108.4,477.7 109.4,477.7 110.4,477.7 111.4,477.8 112.4,477.8 113.4,477.8 114.4,477.9 115.4,477.9 116.4,477.9 117.4,478.0 118.4,478.0 119.4,478.0 120.4,478.1 121.4,478.1 122.4,478.2 123.4,478.2 124.4,478.2 125.4,478.3 126.4,478.3 127.4,478.4 128.4,478.4 129.4,478.5 130.4,478.5 131.4,478.6 132.4,478.7 133.4,478.7 134.4,478.8 135.4,478.9 136.4,479.0 137.4,479.0 138.4,479.1 139.4,479.2 140.4,479.3 141.4,479.3 142.4,479.4 143.4,479.5 144.4,479.6 145.4,479.7 146.4,479.8 147.4,479.8 148.4,479.9 149.4,480.0 150.4,480.1 151.4,480.2 152.4,480.3 153.4,480.4 154.4,480.5 155.4,480.6 156.4,480.7 157.4,480.7 158.4,480.8 159.4,480.9 160.4,481.0 161.4,481.1 162.4,481.2 163.4,481.3 164.4,481.4 165.4,481.4 166.4,481.5 167.4,481.6 168.4,481.7 169.4,481.8 170.4,481.8 171.4,481.9 172.4,482.0 173.4,482.1 174.4,482.2 175.4,482.3 176.4,482.4 177.4,482.4 178.4,482.5 179.4,482.6 180.4,482.7 181.4,482.8 182.4,482.9 183.4,482.9 184.4,483.0 185.4,483.1 186.4,483.2 187.4,483.3 188.4,483.3 189.4,483.4 190.4,483.5 191.4,483.6 192.4,483.7 193.4,483.7 194.4,483.8 195.4,483.9 196.4,484.0 197.4,484.1 198.4,484.1 199.4,484.2 200.4,484.3 201.4,484.4 202.4,484.4 203.4,484.5 204.4,484.6 205.4,484.7 206.4,484.7 207.4,484.8 208.4,484.9 209.4,484.9 210.4,485.0 211.4,485.1 212.4,485.2 213.4,485.2 214.4,485.3 215.4,485.4 216.4,485.4 217.4,485.5 218.4,485.6 219.4,485.6 220.4,485.7 221.4,485.8 222.4,485.8 223.4,485.9 224.4,485.9 225.4,486.0 226.4,486.1 227.4,486.1 228.4,486.2 229.4,486.3 230.4,486.3 231.4,486.3 232.4,486.4 233.4,486.4 234.4,486.4 235.4,486.5 236.4,486.5 237.4,486.5 238.4,486.6 239.4,486.6 240.4,486.6 241.4,486.7 242.4,486.7 243.4,486.7 244.4,486.7 245.4,486.8 246.4,486.8 247.4,486.8 248.4,486.9" fill="none" stroke="#70d040" stroke-width="0.9"/>
<path d="M73.4,478.7 74.4,478.7 75.4,478.7 76.4,478.7 77.4,478.7 78.4,478.7 79.4,478.7 80.4,478.7 81.4,478.7 82.4,478.6 83.4,478.6 84.4,478.6 85.4,478.6 86.4,478.5 87.4,478.5 88.4,478.5 89.4,478.4 90.4,478.4 91.4,478.4 92.4,478.4 93.4,478.4 94.4,478.3 95.4,478.3 96.4,478.3 97.4,478.3 98.4,478.3 99.4,478.3 100.4,478.3 101.4,478.3 102.4,478.3 103.4,478.3 104.4,478.3 105.4,478.3 106.4,478.4 107.4,478.4 108.4,478.4 109.4,478.5 110.4,478.5 111.4,478.6 112.4,478.6 113.4,478.7 114.4,478.8 115.4,478.9 116.4,479.0 117.4,479.0 118.4,479.1 119.4,479.2 120.4,479.3 121.4,479.4 122.4,479.6 123.4,479.7 124.4,479.8 125.4,479.9 126.4,480.0 127.4,480.1 128.4,480.2 129.4,480.3 130.4,480.4 131.4,480.6 132.4,480.7 133.4,480.8 134.4,480.9 135.4,481.0 136.4,481.1 137.4,481.2 138.4,481.3 139.4,481.4 140.4,481.5 141.4,481.6 142.4,481.7 143.4,481.8 144.4,481.9 145.4,481.9 146.4,482.0 L146.4,482.1 L73.4,478.8 Z" fill="#f6b080" fill-opacity="0.45" stroke="none"/>
<path d="M73.4,478.7 74.4,478.7 75.4,478.7 76.4,478.7 77.4,478.7 78.4,478.7 79.4,478.7 80.4,478.7 81.4,478.7 82.4,478.6 83.4,478.6 84.4,478.6 85.4,478.6 86.4,478.5 87.4,478.5 88.4,478.5 89.4,478.4 90.4,478.4 91.4,478.4 92.4,478.4 93.4,478.4 94.4,478.3 95.4,478.3 96.4,478.3 97.4,478.3 98.4,478.3 99.4,478.3 100.4,478.3 101.4,478.3 102.4,478.3 103.4,478.3 104.4,478.3 105.4,478.3 106.4,478.4 107.4,478.4 108.4,478.4 109.4,478.5 110.4,478.5 111.4,478.6 112.4,478.6 113.4,478.7 114.4,478.8 115.4,478.9 116.4,479.0 117.4,479.0 118.4,479.1 119.4,479.2 120.4,479.3 121.4,479.4 122.4,479.6 123.4,479.7 124.4,479.8 125.4,479.9 126.4,480.0 127.4,480.1 128.4,480.2 129.4,480.3 130.4,480.4 131.4,480.6 132.4,480.7 133.4,480.8 134.4,480.9 135.4,481.0 136.4,481.1 137.4,481.2 138.4,481.3 139.4,481.4 140.4,481.5 141.4,481.6 142.4,481.7 143.4,481.8 144.4,481.9 145.4,481.9 146.4,482.0" fill="none" stroke="#f08850" stroke-width="0.9"/>
<path d="M66.4,478.7 67.4,478.7 68.4,478.7 69.4,478.7 70.4,478.6 71.4,478.6 72.4,478.6 73.4,478.6 74.4,478.6 75.4,478.6 76.4,478.5 77.4,478.5 78.4,478.5 79.4,478.4 80.4,478.4 81.4,478.3 82.4,478.3 83.4,478.2 84.4,478.2 85.4,478.1 86.4,478.0 87.4,477.9 88.4,477.9 89.4,477.8 90.4,477.7 91.4,477.6 92.4,477.5 93.4,477.5 94.4,477.4 95.4,477.3 96.4,477.2 97.4,477.2 98.4,477.1 99.4,477.0 100.4,476.9 101.4,476.8 102.4,476.7 103.4,476.7 104.4,476.6 105.4,476.5 106.4,476.5 107.4,476.4 108.4,476.4 109.4,476.3 110.4,476.3 111.4,476.3 112.4,476.2 113.4,476.2 114.4,476.3 115.4,476.3 116.4,476.3 117.4,476.4 118.4,476.4 119.4,476.5 120.4,476.6 121.4,476.7 122.4,476.8 123.4,476.9 124.4,477.0 125.4,477.2 126.4,477.3 127.4,477.5 128.4,477.6 129.4,477.8 130.4,478.0 131.4,478.2 132.4,478.4 133.4,478.6 134.4,478.8 135.4,479.0 136.4,479.2 137.4,479.4 138.4,479.6 139.4,479.8 140.4,480.0 141.4,480.2 142.4,480.3 143.4,480.5 144.4,480.7 145.4,480.9 146.4,481.0 147.4,481.2 148.4,481.4 149.4,481.5 150.4,481.6 151.4,481.8 152.4,481.9 153.4,482.0 154.4,482.2 155.4,482.3 156.4,482.4 157.4,482.5 158.4,482.6 159.4,482.7 160.4,482.8 161.4,482.9 162.4,483.0 163.4,483.0 164.4,483.1 165.4,483.2 166.4,483.2 167.4,483.3 L167.4,483.4 L66.4,478.7 Z" fill="#a8ec70" fill-opacity="0.55" stroke="none"/>
<path d="M66.4,478.7 67.4,478.7 68.4,478.7 69.4,478.7 70.4,478.6 71.4,478.6 72.4,478.6 73.4,478.6 74.4,478.6 75.4,478.6 76.4,478.5 77.4,478.5 78.4,478.5 79.4,478.4 80.4,478.4 81.4,478.3 82.4,478.3 83.4,478.2 84.4,478.2 85.4,478.1 86.4,478.0 87.4,477.9 88.4,477.9 89.4,477.8 90.4,477.7 91.4,477.6 92.4,477.5 93.4,477.5 94.4,477.4 95.4,477.3 96.4,477.2 97.4,477.2 98.4,477.1 99.4,477.0 100.4,476.9 101.4,476.8 102.4,476.7 103.4,476.7 104.4,476.6 105.4,476.5 106.4,476.5 107.4,476.4 108.4,476.4 109.4,476.3 110.4,476.3 111.4,476.3 112.4,476.2 113.4,476.2 114.4,476.3 115.4,476.3 116.4,476.3 117.4,476.4 118.4,476.4 119.4,476.5 120.4,476.6 121.4,476.7 122.4,476.8 123.4,476.9 124.4,477.0 125.4,477.2 126.4,477.3 127.4,477.5 128.4,477.6 129.4,477.8 130.4,478.0 131.4,478.2 132.4,478.4 133.4,478.6 134.4,478.8 135.4,479.0 136.4,479.2 137.4,479.4 138.4,479.6 139.4,479.8 140.4,480.0 141.4,480.2 142.4,480.3 143.4,480.5 144.4,480.7 145.4,480.9 146.4,481.0 147.4,481.2 148.4,481.4 149.4,481.5 150.4,481.6 151.4,481.8 152.4,481.9 153.4,482.0 154.4,482.2 155.4,482.3 156.4,482.4 157.4,482.5 158.4,482.6 159.4,482.7 160.4,482.8 161.4,482.9 162.4,483.0 163.4,483.0 164.4,483.1 165.4,483.2 166.4,483.2 167.4,483.3" fill="none" stroke="#60cc38" stroke-width="0.9"/>
<path d="M155.4,482.6 156.4,482.7 157.4,482.7 158.4,482.8 159.4,482.8 160.4,482.8 161.4,482.8 162.4,482.9 163.4,482.9 164.4,482.9 165.4,482.8 166.4,482.8 167.4,482.8 168.4,482.8 169.4,482.7 170.4,482.7 171.4,482.6 172.4,482.5 173.4,482.5 174.4,482.4 175.4,482.3 176.4,482.2 177.4,482.1 178.4,481.9 179.4,481.8 180.4,481.7 181.4,481.6 182.4,481.5 183.4,481.3 184.4,481.2 185.4,481.1 186.4,481.0 187.4,480.9 188.4,480.8 189.4,480.8 190.4,480.7 191.4,480.7 192.4,480.7 193.4,480.7 194.4,480.7 195.4,480.8 196.4,480.8 197.4,480.9 198.4,481.0 199.4,481.2 200.4,481.3 201.4,481.5 202.4,481.6 203.4,481.8 204.4,482.0 205.4,482.2 206.4,482.4 207.4,482.7 208.4,482.9 209.4,483.1 210.4,483.3 211.4,483.6 212.4,483.8 213.4,484.0 214.4,484.2 215.4,484.4 216.4,484.6 217.4,484.8 218.4,484.9 219.4,485.1 220.4,485.2 221.4,485.4 222.4,485.5 223.4,485.7 224.4,485.8 225.4,485.9 226.4,486.0 227.4,486.1 228.4,486.2 229.4,486.3 230.4,486.3 231.4,486.4 232.4,486.4 233.4,486.5 234.4,486.5 L234.4,486.6 L155.4,482.7 Z" fill="#30c890" fill-opacity="0.45" stroke="none"/>
<path d="M155.4,482.6 156.4,482.7 157.4,482.7 158.4,482.8 159.4,482.8 160.4,482.8 161.4,482.8 162.4,482.9 163.4,482.9 164.4,482.9 165.4,482.8 166.4,482.8 167.4,482.8 168.4,482.8 169.4,482.7 170.4,482.7 171.4,482.6 172.4,482.5 173.4,482.5 174.4,482.4 175.4,482.3 176.4,482.2 177.4,482.1 178.4,481.9 179.4,481.8 180.4,481.7 181.4,481.6 182.4,481.5 183.4,481.3 184.4,481.2 185.4,481.1 186.4,481.0 187.4,480.9 188.4,480.8 189.4,480.8 190.4,480.7 191.4,480.7 192.4,480.7 193.4,480.7 194.4,480.7 195.4,480.8 196.4,480.8 197.4,480.9 198.4,481.0 199.4,481.2 200.4,481.3 201.4,481.5 202.4,481.6 203.4,481.8 204.4,482.0 205.4,482.2 206.4,482.4 207.4,482.7 208.4,482.9 209.4,483.1 210.4,483.3 211.4,483.6 212.4,483.8 213.4,484.0 214.4,484.2 215.4,484.4 216.4,484.6 217.4,484.8 218.4,484.9 219.4,485.1 220.4,485.2 221.4,485.4 222.4,485.5 223.4,485.7 224.4,485.8 225.4,485.9 226.4,486.0 227.4,486.1 228.4,486.2 229.4,486.3 230.4,486.3 231.4,486.4 232.4,486.4 233.4,486.5 234.4,486.5" fill="none" stroke="#20b080" stroke-width="0.9"/>
<path d="M130.4,481.0 131.4,481.0 132.4,481.1 133.4,481.1 134.4,481.2 135.4,481.2 136.4,481.2 137.4,481.3 138.4,481.3 139.4,481.3 140.4,481.4 141.4,481.4 142.4,481.4 143.4,481.4 144.4,481.4 145.4,481.4 146.4,481.4 147.4,481.3 148.4,481.3 149.4,481.2 150.4,481.2 151.4,481.1 152.4,481.0 153.4,480.9 154.4,480.8 155.4,480.7 156.4,480.6 157.4,480.4 158.4,480.3 159.4,480.1 160.4,479.9 161.4,479.7 162.4,479.5 163.4,479.2 164.4,479.0 165.4,478.8 166.4,478.5 167.4,478.3 168.4,478.0 169.4,477.8 170.4,477.5 171.4,477.3 172.4,477.0 173.4,476.8 174.4,476.6 175.4,476.4 176.4,476.2 177.4,476.0 178.4,475.8 179.4,475.7 180.4,475.5 181.4,475.4 182.4,475.4 183.4,475.3 184.4,475.3 185.4,475.3 186.4,475.3 187.4,475.4 188.4,475.5 189.4,475.6 190.4,475.7 191.4,475.9 192.4,476.1 193.4,476.3 194.4,476.5 195.4,476.8 196.4,477.1 197.4,477.4 198.4,477.7 199.4,478.0 200.4,478.3 201.4,478.7 202.4,479.0 203.4,479.3 204.4,479.7 205.4,480.1 206.4,480.4 207.4,480.8 208.4,481.1 209.4,481.4 210.4,481.8 211.4,482.1 212.4,482.4 213.4,482.7 214.4,483.0 215.4,483.3 216.4,483.5 217.4,483.8 218.4,484.0 219.4,484.3 220.4,484.5 221.4,484.7 222.4,484.9 223.4,485.1 224.4,485.2 225.4,485.4 226.4,485.5 227.4,485.7 228.4,485.8 229.4,485.9 230.4,486.0 231.4,486.1 232.4,486.2 233.4,486.3 234.4,486.3 235.4,486.4 236.4,486.5 237.4,486.5 238.4,486.6 239.4,486.6 240.4,486.6 241.4,486.7 242.4,486.7 L242.4,486.8 L130.4,481.0 Z" fill="#a8ec70" fill-opacity="0.55" stroke="none"/>
<path d="M130.4,481.0 131.4,481.0 132.4,481.1 133.4,481.1 134.4,481.2 135.4,481.2 136.4,481.2 137.4,481.3 138.4,481.3 139.4,481.3 140.4,481.4 141.4,481.4 142.4,481.4 143.4,481.4 144.4,481.4 145.4,481.4 146.4,481.4 147.4,481.3 148.4,481.3 149.4,481.2 150.4,481.2 151.4,481.1 152.4,481.0 153.4,480.9 154.4,480.8 155.4,480.7 156.4,480.6 157.4,480.4 158.4,480.3 159.4,480.1 160.4,479.9 161.4,479.7 162.4,479.5 163.4,479.2 164.4,479.0 165.4,478.8 166.4,478.5 167.4,478.3 168.4,478.0 169.4,477.8 170.4,477.5 171.4,477.3 172.4,477.0 173.4,476.8 174.4,476.6 175.4,476.4 176.4,476.2 177.4,476.0 178.4,475.8 179.4,475.7 180.4,475.5 181.4,475.4 182.4,475.4 183.4,475.3 184.4,475.3 185.4,475.3 186.4,475.3 187.4,475.4 188.4,475.5 189.4,475.6 190.4,475.7 191.4,475.9 192.4,476.1 193.4,476.3 194.4,476.5 195.4,476.8 196.4,477.1 197.4,477.4 198.4,477.7 199.4,478.0 200.4,478.3 201.4,478.7 202.4,479.0 203.4,479.3 204.4,479.7 205.4,480.1 206.4,480.4 207.4,480.8 208.4,481.1 209.4,481.4 210.4,481.8 211.4,482.1 212.4,482.4 213.4,482.7 214.4,483.0 215.4,483.3 216.4,483.5 217.4,483.8 218.4,484.0 219.4,484.3 220.4,484.5 221.4,484.7 222.4,484.9 223.4,485.1 224.4,485.2 225.4,485.4 226.4,485.5 227.4,485.7 228.4,485.8 229.4,485.9 230.4,486.0 231.4,486.1 232.4,486.2 233.4,486.3 234.4,486.3 235.4,486.4 236.4,486.5 237.4,486.5 238.4,486.6 239.4,486.6 240.4,486.6 241.4,486.7 242.4,486.7" fill="none" stroke="#60cc38" stroke-width="0.9"/>
<path d="M126.4,480.4 127.4,480.2 128.4,479.9 129.4,479.4 130.4,478.8 131.4,477.9 132.4,476.7 133.4,475.2 134.4,473.3 135.4,471.1 136.4,468.4 137.4,465.4 138.4,462.2 139.4,458.8 140.4,455.5 141.4,452.3 142.4,449.6 143.4,447.3 144.4,445.8 145.4,445.1 146.4,445.3 147.4,446.3 148.4,448.1 149.4,450.6 150.4,453.6 151.4,456.9 152.4,460.4 153.4,463.9 154.4,467.2 155.4,470.3 156.4,473.0 157.4,475.3 158.4,477.2 159.4,478.8 160.4,480.1 161.4,481.0 162.4,481.7 163.4,482.2 164.4,482.6 165.4,482.9" fill="none" stroke="#58c4f4" stroke-width="0.9" stroke-linejoin="round" opacity="1"/>
<path d="M183.4,483.7 184.4,483.6 185.4,483.3 186.4,482.8 187.4,482.2 188.4,481.3 189.4,480.1 190.4,478.6 191.4,476.6 192.4,474.2 193.4,471.4 194.4,468.1 195.4,464.4 196.4,460.4 197.4,456.2 198.4,452.0 199.4,447.9 200.4,444.3 201.4,441.2 202.4,439.0 203.4,437.6 204.4,437.2 205.4,437.9 206.4,439.6 207.4,442.1 208.4,445.4 209.4,449.2 210.4,453.4 211.4,457.7 212.4,462.0 213.4,466.1 214.4,469.8 215.4,473.1 216.4,476.0 217.4,478.4 218.4,480.3 219.4,481.9 220.4,483.1 221.4,484.0 222.4,484.7 223.4,485.2 224.4,485.6 225.4,485.9" fill="none" stroke="#58c4f4" stroke-width="0.9" stroke-linejoin="round" opacity="1"/>
<path d="M34.4,479.0 35.4,479.0 36.4,479.0 37.4,479.0 38.4,479.0 39.4,479.1 40.4,479.1 41.4,479.1 42.4,479.1 43.4,479.1 44.4,479.1 45.4,479.1 46.4,479.1 47.4,479.1 48.4,479.2 49.4,479.2 50.4,479.2 51.4,479.2 52.4,479.2 53.4,479.2 54.4,479.2 55.4,479.2 56.4,479.2 57.4,479.3 58.4,479.3 59.4,479.3 60.4,479.3 61.4,479.3 62.4,479.3 63.4,479.3 64.4,479.3 65.4,479.3 66.4,479.3 67.4,479.4 68.4,479.4 69.4,479.4 70.4,479.4 71.4,479.4 72.4,479.4 73.4,479.4 74.4,479.4 75.4,479.4 76.4,479.5 77.4,479.5 78.4,479.5 79.4,479.5 80.4,479.5 81.4,479.5 82.4,479.5 83.4,479.5 84.4,479.5 85.4,479.6 86.4,479.6 87.4,479.6 88.4,479.6 89.4,479.6 90.4,479.6 91.4,479.7 92.4,479.7 93.4,479.8 94.4,479.8 95.4,479.9 96.4,479.9 97.4,480.0 98.4,480.0 99.4,480.1 100.4,480.1 101.4,480.2 102.4,480.2 103.4,480.3 104.4,480.3 105.4,480.4 106.4,480.4 107.4,480.5 108.4,480.5 109.4,480.6 110.4,480.6 111.4,480.7 112.4,480.7 113.4,480.8 114.4,480.8 115.4,480.9 116.4,480.9 117.4,481.0 118.4,481.0 119.4,481.1 120.4,481.1 121.4,481.2 122.4,481.2 123.4,481.3 124.4,481.3 125.4,481.4 126.4,481.4 127.4,481.5 128.4,481.5 129.4,481.6 130.4,481.6 131.4,481.7 132.4,481.8 133.4,481.8 134.4,481.9 135.4,482.0 136.4,482.0 137.4,482.1 138.4,482.2 139.4,482.2 140.4,482.3 141.4,482.4 142.4,482.4 143.4,482.5 144.4,482.6 145.4,482.6 146.4,482.7 147.4,482.8 148.4,482.8 149.4,482.9 150.4,483.0 151.4,483.0 152.4,483.1 153.4,483.2 154.4,483.2 155.4,483.3 156.4,483.4 157.4,483.4 158.4,483.5 159.4,483.6 160.4,483.6 161.4,483.7 162.4,483.7 163.4,483.8 164.4,483.8 165.4,483.9 166.4,483.9 167.4,484.0 168.4,484.0 169.4,484.1 170.4,484.1 171.4,484.2 172.4,484.2 173.4,484.3 174.4,484.3 175.4,484.4 176.4,484.4 177.4,484.5 178.4,484.5 179.4,484.6 180.4,484.6 181.4,484.7 182.4,484.7 183.4,484.8 184.4,484.8 185.4,484.9 186.4,484.9 187.4,485.0 188.4,485.0 189.4,485.1 190.4,485.1 191.4,485.2 192.4,485.2 193.4,485.3 194.4,485.3 195.4,485.4 196.4,485.4 197.4,485.5 198.4,485.5 199.4,485.6 200.4,485.6 201.4,485.7 202.4,485.7 203.4,485.8 204.4,485.8 205.4,485.9 206.4,485.9 207.4,486.0 208.4,486.0 209.4,486.1 210.4,486.1 211.4,486.2 212.4,486.2 213.4,486.3 214.4,486.3 215.4,486.4 216.4,486.4 217.4,486.5 218.4,486.5 219.4,486.6 220.4,486.6 221.4,486.7 222.4,486.7 223.4,486.8 224.4,486.8 225.4,486.9 226.4,486.9 227.4,487.0 228.4,487.0 229.4,487.1 230.4,487.1 231.4,487.1 232.4,487.2 233.4,487.2 234.4,487.2 235.4,487.2 236.4,487.3 237.4,487.3 238.4,487.3 239.4,487.3 240.4,487.3 241.4,487.4 242.4,487.4 243.4,487.4 244.4,487.4 245.4,487.5 246.4,487.5 247.4,487.5 248.4,487.5 249.4,487.6 250.4,487.6 251.4,487.6 252.4,487.6 253.4,487.7 254.4,487.7 255.4,487.7 256.4,487.7 257.4,487.8 258.4,487.8 259.4,487.8 260.4,487.8 261.4,487.8 262.4,487.9 263.4,487.9 264.4,487.9 265.4,487.9 266.4,488.0 267.4,488.0 268.4,488.0 269.4,488.0 270.4,488.1" fill="none" stroke="#f09060" stroke-width="0.8" stroke-linejoin="round" opacity="1"/>
<path d="M34.4,478.1 35.4,478.1 36.4,478.1 37.4,478.1 38.4,478.1 39.4,478.2 40.4,478.2 41.4,478.2 42.4,478.2 43.4,478.2 44.4,478.2 45.4,478.2 46.4,478.2 47.4,478.2 48.4,478.3 49.4,478.3 50.4,478.3 51.4,478.3 52.4,478.3 53.4,478.3 54.4,478.3 55.4,478.3 56.4,478.3 57.4,478.4 58.4,478.4 59.4,478.4 60.4,478.4 61.4,478.4 62.4,478.4 63.4,478.4 64.4,478.4 65.4,478.4 66.4,478.4 67.4,478.5 68.4,478.5 69.4,478.5 70.4,478.5 71.4,478.5 72.4,478.5 73.4,478.5 74.4,478.5 75.4,478.5 76.4,478.6 77.4,478.6 78.4,478.6 79.4,478.6 80.4,478.6 81.4,478.6 82.4,478.6 83.4,478.6 84.4,478.6 85.4,478.7 86.4,478.7 87.4,478.7 88.4,478.7 89.4,478.7 90.4,478.7 91.4,478.8 92.4,478.8 93.4,478.9 94.4,478.9 95.4,479.0 96.4,479.0 97.4,479.1 98.4,479.1 99.4,479.2 100.4,479.2 101.4,479.3 102.4,479.3 103.4,479.4 104.4,479.4 105.4,479.5 106.4,479.5 107.4,479.6 108.4,479.6 109.4,479.7 110.4,479.7 111.4,479.8 112.4,479.8 113.4,479.9 114.4,479.9 115.4,480.0 116.4,480.0 117.4,480.1 118.4,480.1 119.4,480.2 120.4,480.2 121.4,480.3 122.4,480.3 123.4,480.4 124.4,480.4 125.4,480.5 126.4,480.5 127.4,480.6 128.4,480.6 129.4,480.7 130.4,480.7 131.4,480.8 132.4,480.9 133.4,480.9 134.4,481.0 135.4,481.1 136.4,481.1 137.4,481.2 138.4,481.3 139.4,481.3 140.4,481.4 141.4,481.5 142.4,481.5 143.4,481.6 144.4,481.7 145.4,481.7 146.4,481.8 147.4,481.9 148.4,481.9 149.4,482.0 150.4,482.1 151.4,482.1 152.4,482.2 153.4,482.3 154.4,482.3 155.4,482.4 156.4,482.5 157.4,482.5 158.4,482.6 159.4,482.7 160.4,482.7 161.4,482.8 162.4,482.8 163.4,482.9 164.4,482.9 165.4,483.0 166.4,483.0 167.4,483.1 168.4,483.1 169.4,483.2 170.4,483.2 171.4,483.3 172.4,483.3 173.4,483.4 174.4,483.4 175.4,483.5 176.4,483.5 177.4,483.6 178.4,483.6 179.4,483.7 180.4,483.7 181.4,483.8 182.4,483.8 183.4,483.9 184.4,483.9 185.4,484.0 186.4,484.0 187.4,484.1 188.4,484.1 189.4,484.2 190.4,484.2 191.4,484.3 192.4,484.3 193.4,484.4 194.4,484.4 195.4,484.5 196.4,484.5 197.4,484.6 198.4,484.6 199.4,484.7 200.4,484.7 201.4,484.8 202.4,484.8 203.4,484.9 204.4,484.9 205.4,485.0 206.4,485.0 207.4,485.1 208.4,485.1 209.4,485.2 210.4,485.2 211.4,485.3 212.4,485.3 213.4,485.4 214.4,485.4 215.4,485.5 216.4,485.5 217.4,485.6 218.4,485.6 219.4,485.7 220.4,485.7 221.4,485.8 222.4,485.8 223.4,485.9 224.4,485.9 225.4,486.0 226.4,486.0 227.4,486.1 228.4,486.1 229.4,486.2 230.4,486.2 231.4,486.2 232.4,486.3 233.4,486.3 234.4,486.3 235.4,486.3 236.4,486.4 237.4,486.4 238.4,486.4 239.4,486.4 240.4,486.4 241.4,486.5 242.4,486.5 243.4,486.5 244.4,486.5 245.4,486.6 246.4,486.6 247.4,486.6 248.4,486.6 249.4,486.7 250.4,486.7 251.4,486.7 252.4,486.7 253.4,486.8 254.4,486.8 255.4,486.8 256.4,486.8 257.4,486.9 258.4,486.9 259.4,486.9 260.4,486.9 261.4,486.9 262.4,487.0 263.4,487.0 264.4,487.0 265.4,487.0 266.4,487.1 267.4,487.1 268.4,487.1 269.4,487.1 270.4,487.2" fill="none" stroke="#70d040" stroke-width="0.9" stroke-linejoin="round" opacity="1"/>
<path d="M33.1,476.9a2.0,2.0 0 1,0 4.00,0a2.0,2.0 0 1,0 -4.00,0M34.8,476.8a2.0,2.0 0 1,0 4.00,0a2.0,2.0 0 1,0 -4.00,0M36.5,476.8a2.0,2.0 0 1,0 4.00,0a2.0,2.0 0 1,0 -4.00,0M38.2,476.7a2.0,2.0 0 1,0 4.00,0a2.0,2.0 0 1,0 -4.00,0M39.9,476.7a2.0,2.0 0 1,0 4.00,0a2.0,2.0 0 1,0 -4.00,0M41.6,476.6a2.0,2.0 0 1,0 4.00,0a2.0,2.0 0 1,0 -4.00,0M43.3,476.4a2.0,2.0 0 1,0 4.00,0a2.0,2.0 0 1,0 -4.00,0M45.0,476.3a2.0,2.0 0 1,0 4.00,0a2.0,2.0 0 1,0 -4.00,0M46.7,476.0a2.0,2.0 0 1,0 4.00,0a2.0,2.0 0 1,0 -4.00,0M48.4,475.8a2.0,2.0 0 1,0 4.00,0a2.0,2.0 0 1,0 -4.00,0M50.1,475.5a2.0,2.0 0 1,0 4.00,0a2.0,2.0 0 1,0 -4.00,0M51.8,475.1a2.0,2.0 0 1,0 4.00,0a2.0,2.0 0 1,0 -4.00,0M53.5,474.7a2.0,2.0 0 1,0 4.00,0a2.0,2.0 0 1,0 -4.00,0M55.2,474.2a2.0,2.0 0 1,0 4.00,0a2.0,2.0 0 1,0 -4.00,0M56.9,473.6a2.0,2.0 0 1,0 4.00,0a2.0,2.0 0 1,0 -4.00,0M58.6,473.0a2.0,2.0 0 1,0 4.00,0a2.0,2.0 0 1,0 -4.00,0M60.3,472.3a2.0,2.0 0 1,0 4.00,0a2.0,2.0 0 1,0 -4.00,0M62.0,471.5a2.0,2.0 0 1,0 4.00,0a2.0,2.0 0 1,0 -4.00,0M63.7,470.6a2.0,2.0 0 1,0 4.00,0a2.0,2.0 0 1,0 -4.00,0M65.4,469.7a2.0,2.0 0 1,0 4.00,0a2.0,2.0 0 1,0 -4.00,0M67.1,468.8a2.0,2.0 0 1,0 4.00,0a2.0,2.0 0 1,0 -4.00,0M68.8,467.8a2.0,2.0 0 1,0 4.00,0a2.0,2.0 0 1,0 -4.00,0M70.5,466.8a2.0,2.0 0 1,0 4.00,0a2.0,2.0 0 1,0 -4.00,0M72.2,465.8a2.0,2.0 0 1,0 4.00,0a2.0,2.0 0 1,0 -4.00,0M73.9,464.9a2.0,2.0 0 1,0 4.00,0a2.0,2.0 0 1,0 -4.00,0M75.6,464.0a2.0,2.0 0 1,0 4.00,0a2.0,2.0 0 1,0 -4.00,0M77.3,463.2a2.0,2.0 0 1,0 4.00,0a2.0,2.0 0 1,0 -4.00,0M79.0,462.4a2.0,2.0 0 1,0 4.00,0a2.0,2.0 0 1,0 -4.00,0M80.7,461.8a2.0,2.0 0 1,0 4.00,0a2.0,2.0 0 1,0 -4.00,0M82.4,461.3a2.0,2.0 0 1,0 4.00,0a2.0,2.0 0 1,0 -4.00,0M84.1,460.9a2.0,2.0 0 1,0 4.00,0a2.0,2.0 0 1,0 -4.00,0M85.8,460.6a2.0,2.0 0 1,0 4.00,0a2.0,2.0 0 1,0 -4.00,0M87.5,460.5a2.0,2.0 0 1,0 4.00,0a2.0,2.0 0 1,0 -4.00,0M89.2,460.5a2.0,2.0 0 1,0 4.00,0a2.0,2.0 0 1,0 -4.00,0M90.9,460.7a2.0,2.0 0 1,0 4.00,0a2.0,2.0 0 1,0 -4.00,0M92.6,461.0a2.0,2.0 0 1,0 4.00,0a2.0,2.0 0 1,0 -4.00,0M94.3,461.4a2.0,2.0 0 1,0 4.00,0a2.0,2.0 0 1,0 -4.00,0M96.0,461.8a2.0,2.0 0 1,0 4.00,0a2.0,2.0 0 1,0 -4.00,0M97.7,462.3a2.0,2.0 0 1,0 4.00,0a2.0,2.0 0 1,0 -4.00,0M99.4,462.8a2.0,2.0 0 1,0 4.00,0a2.0,2.0 0 1,0 -4.00,0M101.1,463.3a2.0,2.0 0 1,0 4.00,0a2.0,2.0 0 1,0 -4.00,0M102.8,463.8a2.0,2.0 0 1,0 4.00,0a2.0,2.0 0 1,0 -4.00,0M104.5,464.2a2.0,2.0 0 1,0 4.00,0a2.0,2.0 0 1,0 -4.00,0M106.2,464.6a2.0,2.0 0 1,0 4.00,0a2.0,2.0 0 1,0 -4.00,0M107.9,464.9a2.0,2.0 0 1,0 4.00,0a2.0,2.0 0 1,0 -4.00,0M109.6,465.0a2.0,2.0 0 1,0 4.00,0a2.0,2.0 0 1,0 -4.00,0M111.3,465.0a2.0,2.0 0 1,0 4.00,0a2.0,2.0 0 1,0 -4.00,0M113.0,464.9a2.0,2.0 0 1,0 4.00,0a2.0,2.0 0 1,0 -4.00,0M114.7,464.6a2.0,2.0 0 1,0 4.00,0a2.0,2.0 0 1,0 -4.00,0M116.4,464.2a2.0,2.0 0 1,0 4.00,0a2.0,2.0 0 1,0 -4.00,0M118.1,463.6a2.0,2.0 0 1,0 4.00,0a2.0,2.0 0 1,0 -4.00,0M119.8,462.8a2.0,2.0 0 1,0 4.00,0a2.0,2.0 0 1,0 -4.00,0M121.5,461.8a2.0,2.0 0 1,0 4.00,0a2.0,2.0 0 1,0 -4.00,0M123.2,460.6a2.0,2.0 0 1,0 4.00,0a2.0,2.0 0 1,0 -4.00,0M124.9,459.2a2.0,2.0 0 1,0 4.00,0a2.0,2.0 0 1,0 -4.00,0M126.6,457.4a2.0,2.0 0 1,0 4.00,0a2.0,2.0 0 1,0 -4.00,0M128.3,455.2a2.0,2.0 0 1,0 4.00,0a2.0,2.0 0 1,0 -4.00,0M130.0,452.3a2.0,2.0 0 1,0 4.00,0a2.0,2.0 0 1,0 -4.00,0M131.7,448.6a2.0,2.0 0 1,0 4.00,0a2.0,2.0 0 1,0 -4.00,0M133.4,444.0a2.0,2.0 0 1,0 4.00,0a2.0,2.0 0 1,0 -4.00,0M135.1,438.5a2.0,2.0 0 1,0 4.00,0a2.0,2.0 0 1,0 -4.00,0M136.8,432.4a2.0,2.0 0 1,0 4.00,0a2.0,2.0 0 1,0 -4.00,0M138.5,426.5a2.0,2.0 0 1,0 4.00,0a2.0,2.0 0 1,0 -4.00,0M140.2,421.4a2.0,2.0 0 1,0 4.00,0a2.0,2.0 0 1,0 -4.00,0M141.9,418.2a2.0,2.0 0 1,0 4.00,0a2.0,2.0 0 1,0 -4.00,0M143.6,417.3a2.0,2.0 0 1,0 4.00,0a2.0,2.0 0 1,0 -4.00,0M145.3,419.2a2.0,2.0 0 1,0 4.00,0a2.0,2.0 0 1,0 -4.00,0M147.0,423.7a2.0,2.0 0 1,0 4.00,0a2.0,2.0 0 1,0 -4.00,0M148.7,429.9a2.0,2.0 0 1,0 4.00,0a2.0,2.0 0 1,0 -4.00,0M150.4,437.1a2.0,2.0 0 1,0 4.00,0a2.0,2.0 0 1,0 -4.00,0M152.1,444.4a2.0,2.0 0 1,0 4.00,0a2.0,2.0 0 1,0 -4.00,0M153.8,451.0a2.0,2.0 0 1,0 4.00,0a2.0,2.0 0 1,0 -4.00,0M155.5,456.6a2.0,2.0 0 1,0 4.00,0a2.0,2.0 0 1,0 -4.00,0M157.2,460.9a2.0,2.0 0 1,0 4.00,0a2.0,2.0 0 1,0 -4.00,0M158.9,464.2a2.0,2.0 0 1,0 4.00,0a2.0,2.0 0 1,0 -4.00,0M160.6,466.5a2.0,2.0 0 1,0 4.00,0a2.0,2.0 0 1,0 -4.00,0M162.3,468.1a2.0,2.0 0 1,0 4.00,0a2.0,2.0 0 1,0 -4.00,0M164.0,469.2a2.0,2.0 0 1,0 4.00,0a2.0,2.0 0 1,0 -4.00,0M165.7,470.0a2.0,2.0 0 1,0 4.00,0a2.0,2.0 0 1,0 -4.00,0M167.4,470.5a2.0,2.0 0 1,0 4.00,0a2.0,2.0 0 1,0 -4.00,0M169.1,470.7a2.0,2.0 0 1,0 4.00,0a2.0,2.0 0 1,0 -4.00,0M170.8,470.8a2.0,2.0 0 1,0 4.00,0a2.0,2.0 0 1,0 -4.00,0M172.5,470.8a2.0,2.0 0 1,0 4.00,0a2.0,2.0 0 1,0 -4.00,0M174.2,470.6a2.0,2.0 0 1,0 4.00,0a2.0,2.0 0 1,0 -4.00,0M175.9,470.4a2.0,2.0 0 1,0 4.00,0a2.0,2.0 0 1,0 -4.00,0M177.6,470.2a2.0,2.0 0 1,0 4.00,0a2.0,2.0 0 1,0 -4.00,0M179.3,469.8a2.0,2.0 0 1,0 4.00,0a2.0,2.0 0 1,0 -4.00,0M181.0,469.4a2.0,2.0 0 1,0 4.00,0a2.0,2.0 0 1,0 -4.00,0M182.7,468.8a2.0,2.0 0 1,0 4.00,0a2.0,2.0 0 1,0 -4.00,0M184.4,468.0a2.0,2.0 0 1,0 4.00,0a2.0,2.0 0 1,0 -4.00,0M186.1,466.7a2.0,2.0 0 1,0 4.00,0a2.0,2.0 0 1,0 -4.00,0M187.8,464.6a2.0,2.0 0 1,0 4.00,0a2.0,2.0 0 1,0 -4.00,0M189.5,461.6a2.0,2.0 0 1,0 4.00,0a2.0,2.0 0 1,0 -4.00,0M191.2,457.4a2.0,2.0 0 1,0 4.00,0a2.0,2.0 0 1,0 -4.00,0M192.9,452.0a2.0,2.0 0 1,0 4.00,0a2.0,2.0 0 1,0 -4.00,0M194.6,445.8a2.0,2.0 0 1,0 4.00,0a2.0,2.0 0 1,0 -4.00,0M196.3,439.2a2.0,2.0 0 1,0 4.00,0a2.0,2.0 0 1,0 -4.00,0M198.0,433.2a2.0,2.0 0 1,0 4.00,0a2.0,2.0 0 1,0 -4.00,0M199.7,428.8a2.0,2.0 0 1,0 4.00,0a2.0,2.0 0 1,0 -4.00,0M201.4,426.6a2.0,2.0 0 1,0 4.00,0a2.0,2.0 0 1,0 -4.00,0M203.1,427.5a2.0,2.0 0 1,0 4.00,0a2.0,2.0 0 1,0 -4.00,0M204.8,431.2a2.0,2.0 0 1,0 4.00,0a2.0,2.0 0 1,0 -4.00,0M206.5,437.2a2.0,2.0 0 1,0 4.00,0a2.0,2.0 0 1,0 -4.00,0M208.2,444.8a2.0,2.0 0 1,0 4.00,0a2.0,2.0 0 1,0 -4.00,0M209.9,452.9a2.0,2.0 0 1,0 4.00,0a2.0,2.0 0 1,0 -4.00,0M211.6,460.6a2.0,2.0 0 1,0 4.00,0a2.0,2.0 0 1,0 -4.00,0M213.3,467.2a2.0,2.0 0 1,0 4.00,0a2.0,2.0 0 1,0 -4.00,0M215.0,472.5a2.0,2.0 0 1,0 4.00,0a2.0,2.0 0 1,0 -4.00,0M216.7,476.5a2.0,2.0 0 1,0 4.00,0a2.0,2.0 0 1,0 -4.00,0M218.4,479.3a2.0,2.0 0 1,0 4.00,0a2.0,2.0 0 1,0 -4.00,0M220.1,481.1a2.0,2.0 0 1,0 4.00,0a2.0,2.0 0 1,0 -4.00,0M221.8,482.4a2.0,2.0 0 1,0 4.00,0a2.0,2.0 0 1,0 -4.00,0M223.5,483.2a2.0,2.0 0 1,0 4.00,0a2.0,2.0 0 1,0 -4.00,0M225.2,483.8a2.0,2.0 0 1,0 4.00,0a2.0,2.0 0 1,0 -4.00,0M226.9,484.2a2.0,2.0 0 1,0 4.00,0a2.0,2.0 0 1,0 -4.00,0M228.6,484.5a2.0,2.0 0 1,0 4.00,0a2.0,2.0 0 1,0 -4.00,0M230.3,484.7a2.0,2.0 0 1,0 4.00,0a2.0,2.0 0 1,0 -4.00,0M232.0,484.9a2.0,2.0 0 1,0 4.00,0a2.0,2.0 0 1,0 -4.00,0M233.7,485.0a2.0,2.0 0 1,0 4.00,0a2.0,2.0 0 1,0 -4.00,0M235.4,485.1a2.0,2.0 0 1,0 4.00,0a2.0,2.0 0 1,0 -4.00,0M237.1,485.2a2.0,2.0 0 1,0 4.00,0a2.0,2.0 0 1,0 -4.00,0M238.8,485.3a2.0,2.0 0 1,0 4.00,0a2.0,2.0 0 1,0 -4.00,0M240.5,485.4a2.0,2.0 0 1,0 4.00,0a2.0,2.0 0 1,0 -4.00,0M242.2,485.5a2.0,2.0 0 1,0 4.00,0a2.0,2.0 0 1,0 -4.00,0M243.9,485.6a2.0,2.0 0 1,0 4.00,0a2.0,2.0 0 1,0 -4.00,0M245.6,485.6a2.0,2.0 0 1,0 4.00,0a2.0,2.0 0 1,0 -4.00,0M247.3,485.7a2.0,2.0 0 1,0 4.00,0a2.0,2.0 0 1,0 -4.00,0M249.0,485.7a2.0,2.0 0 1,0 4.00,0a2.0,2.0 0 1,0 -4.00,0M250.7,485.8a2.0,2.0 0 1,0 4.00,0a2.0,2.0 0 1,0 -4.00,0M252.4,485.8a2.0,2.0 0 1,0 4.00,0a2.0,2.0 0 1,0 -4.00,0M254.1,485.9a2.0,2.0 0 1,0 4.00,0a2.0,2.0 0 1,0 -4.00,0M255.8,485.9a2.0,2.0 0 1,0 4.00,0a2.0,2.0 0 1,0 -4.00,0M257.5,486.0a2.0,2.0 0 1,0 4.00,0a2.0,2.0 0 1,0 -4.00,0M259.2,486.0a2.0,2.0 0 1,0 4.00,0a2.0,2.0 0 1,0 -4.00,0M260.9,486.1a2.0,2.0 0 1,0 4.00,0a2.0,2.0 0 1,0 -4.00,0M262.6,486.1a2.0,2.0 0 1,0 4.00,0a2.0,2.0 0 1,0 -4.00,0M264.3,486.2a2.0,2.0 0 1,0 4.00,0a2.0,2.0 0 1,0 -4.00,0M266.0,486.2a2.0,2.0 0 1,0 4.00,0a2.0,2.0 0 1,0 -4.00,0M267.7,486.2a2.0,2.0 0 1,0 4.00,0a2.0,2.0 0 1,0 -4.00,0" fill="none" stroke="#f27880" stroke-width="0.85"/>
<path d="M34.4,477.8 35.4,477.8 36.4,477.8 37.4,477.7 38.4,477.7 39.4,477.7 40.4,477.6 41.4,477.6 42.4,477.5 43.4,477.5 44.4,477.4 45.4,477.3 46.4,477.2 47.4,477.1 48.4,477.0 49.4,476.9 50.4,476.7 51.4,476.5 52.4,476.3 53.4,476.1 54.4,475.9 55.4,475.6 56.4,475.4 57.4,475.0 58.4,474.7 59.4,474.4 60.4,474.0 61.4,473.6 62.4,473.1 63.4,472.7 64.4,472.2 65.4,471.7 66.4,471.2 67.4,470.6 68.4,470.1 69.4,469.5 70.4,468.9 71.4,468.4 72.4,467.8 73.4,467.2 74.4,466.6 75.4,466.1 76.4,465.5 77.4,465.0 78.4,464.5 79.4,464.0 80.4,463.6 81.4,463.2 82.4,462.8 83.4,462.5 84.4,462.2 85.4,461.9 86.4,461.7 87.4,461.6 88.4,461.5 89.4,461.4 90.4,461.4 91.4,461.5 92.4,461.6 93.4,461.7 94.4,461.9 95.4,462.1 96.4,462.3 97.4,462.6 98.4,462.8 99.4,463.1 100.4,463.4 101.4,463.7 102.4,464.0 103.4,464.3 104.4,464.6 105.4,464.9 106.4,465.1 107.4,465.3 108.4,465.5 109.4,465.7 110.4,465.8 111.4,465.9 112.4,465.9 113.4,465.9 114.4,465.9 115.4,465.8 116.4,465.6 117.4,465.4 118.4,465.1 119.4,464.8 120.4,464.4 121.4,463.9 122.4,463.4 123.4,462.8 124.4,462.1 125.4,461.4 126.4,460.5 127.4,459.6 128.4,458.5 129.4,457.3 130.4,455.9 131.4,454.3 132.4,452.4 133.4,450.2 134.4,447.7 135.4,444.9 136.4,441.7 137.4,438.3 138.4,434.8 139.4,431.2 140.4,427.7 141.4,424.5 142.4,421.8 143.4,419.7 144.4,418.4 145.4,418.1 146.4,418.7 147.4,420.2 148.4,422.7 149.4,425.8 150.4,429.6 151.4,433.7 152.4,438.0 153.4,442.4 154.4,446.6 155.4,450.5 156.4,454.0 157.4,457.2 158.4,460.0 159.4,462.3 160.4,464.3 161.4,465.9 162.4,467.2 163.4,468.3 164.4,469.1 165.4,469.8 166.4,470.4 167.4,470.8 168.4,471.1 169.4,471.4 170.4,471.5 171.4,471.7 172.4,471.7 173.4,471.7 174.4,471.7 175.4,471.6 176.4,471.5 177.4,471.4 178.4,471.3 179.4,471.1 180.4,470.9 181.4,470.7 182.4,470.5 183.4,470.2 184.4,469.9 185.4,469.4 186.4,468.9 187.4,468.2 188.4,467.3 189.4,466.1 190.4,464.6 191.4,462.7 192.4,460.5 193.4,457.8 194.4,454.7 195.4,451.2 196.4,447.5 197.4,443.6 198.4,439.7 199.4,436.1 200.4,432.8 201.4,430.2 202.4,428.4 203.4,427.5 204.4,427.6 205.4,428.7 206.4,430.9 207.4,433.9 208.4,437.7 209.4,442.0 210.4,446.7 211.4,451.5 212.4,456.2 213.4,460.7 214.4,464.8 215.4,468.5 216.4,471.7 217.4,474.5 218.4,476.8 219.4,478.7 220.4,480.2 221.4,481.4 222.4,482.3 223.4,483.0 224.4,483.6 225.4,484.1 226.4,484.4 227.4,484.7 228.4,485.0 229.4,485.2 230.4,485.4 231.4,485.5 232.4,485.6 233.4,485.7 234.4,485.8 235.4,485.9 236.4,486.0 237.4,486.0 238.4,486.1 239.4,486.2 240.4,486.2 241.4,486.3 242.4,486.3 243.4,486.4 244.4,486.4 245.4,486.4 246.4,486.5 247.4,486.5 248.4,486.5 249.4,486.6 250.4,486.6 251.4,486.6 252.4,486.7 253.4,486.7 254.4,486.7 255.4,486.8 256.4,486.8 257.4,486.8 258.4,486.8 259.4,486.9 260.4,486.9 261.4,486.9 262.4,487.0 263.4,487.0 264.4,487.0 265.4,487.0 266.4,487.1 267.4,487.1 268.4,487.1 269.4,487.1 270.4,487.2" fill="none" stroke="#3a3a3a" stroke-width="1.0" stroke-linejoin="round" opacity="1"/>
<path d="M124.4,570.6 125.4,570.6 126.4,570.6 127.4,570.5 128.4,570.4 129.4,570.1 130.4,569.8 131.4,569.3 132.4,568.6 133.4,567.8 134.4,566.6 135.4,565.2 136.4,563.6 137.4,561.7 138.4,559.7 139.4,557.6 140.4,555.6 141.4,553.7 142.4,552.2 143.4,551.1 144.4,550.5 145.4,550.5 146.4,551.0 147.4,552.1 148.4,553.7 149.4,555.5 150.4,557.6 151.4,559.8 152.4,561.9 153.4,563.8 154.4,565.6 155.4,567.1 156.4,568.4 157.4,569.4 158.4,570.2 159.4,570.8 160.4,571.2 161.4,571.5 162.4,571.7 163.4,571.9 164.4,572.0 165.4,572.1 L165.4,572.2 L124.4,570.7 Z" fill="#40c0f0" fill-opacity="0.62" stroke="none"/>
<path d="M124.4,570.6 125.4,570.6 126.4,570.6 127.4,570.5 128.4,570.4 129.4,570.1 130.4,569.8 131.4,569.3 132.4,568.6 133.4,567.8 134.4,566.6 135.4,565.2 136.4,563.6 137.4,561.7 138.4,559.7 139.4,557.6 140.4,555.6 141.4,553.7 142.4,552.2 143.4,551.1 144.4,550.5 145.4,550.5 146.4,551.0 147.4,552.1 148.4,553.7 149.4,555.5 150.4,557.6 151.4,559.8 152.4,561.9 153.4,563.8 154.4,565.6 155.4,567.1 156.4,568.4 157.4,569.4 158.4,570.2 159.4,570.8 160.4,571.2 161.4,571.5 162.4,571.7 163.4,571.9 164.4,572.0 165.4,572.1" fill="none" stroke="#30b0ec" stroke-width="0.9"/>
<path d="M181.4,572.7 182.4,572.7 183.4,572.7 184.4,572.6 185.4,572.5 186.4,572.3 187.4,572.0 188.4,571.6 189.4,571.0 190.4,570.1 191.4,569.1 192.4,567.7 193.4,566.0 194.4,564.0 195.4,561.7 196.4,559.2 197.4,556.6 198.4,553.9 199.4,551.4 200.4,549.2 201.4,547.4 202.4,546.2 203.4,545.6 204.4,545.7 205.4,546.5 206.4,547.9 207.4,549.9 208.4,552.3 209.4,554.9 210.4,557.6 211.4,560.3 212.4,562.8 213.4,565.1 214.4,567.1 215.4,568.8 216.4,570.2 217.4,571.3 218.4,572.2 219.4,572.8 220.4,573.3 221.4,573.6 222.4,573.8 223.4,574.0 224.4,574.1 225.4,574.2 L225.4,574.3 L181.4,572.7 Z" fill="#40c0f0" fill-opacity="0.62" stroke="none"/>
<path d="M181.4,572.7 182.4,572.7 183.4,572.7 184.4,572.6 185.4,572.5 186.4,572.3 187.4,572.0 188.4,571.6 189.4,571.0 190.4,570.1 191.4,569.1 192.4,567.7 193.4,566.0 194.4,564.0 195.4,561.7 196.4,559.2 197.4,556.6 198.4,553.9 199.4,551.4 200.4,549.2 201.4,547.4 202.4,546.2 203.4,545.6 204.4,545.7 205.4,546.5 206.4,547.9 207.4,549.9 208.4,552.3 209.4,554.9 210.4,557.6 211.4,560.3 212.4,562.8 213.4,565.1 214.4,567.1 215.4,568.8 216.4,570.2 217.4,571.3 218.4,572.2 219.4,572.8 220.4,573.3 221.4,573.6 222.4,573.8 223.4,574.0 224.4,574.1 225.4,574.2" fill="none" stroke="#30b0ec" stroke-width="0.9"/>
<path d="M39.4,567.5 40.4,567.6 41.4,567.6 42.4,567.6 43.4,567.6 44.4,567.6 45.4,567.6 46.4,567.5 47.4,567.5 48.4,567.4 49.4,567.4 50.4,567.3 51.4,567.2 52.4,567.0 53.4,566.9 54.4,566.7 55.4,566.4 56.4,566.2 57.4,565.8 58.4,565.5 59.4,565.1 60.4,564.6 61.4,564.1 62.4,563.6 63.4,563.0 64.4,562.3 65.4,561.6 66.4,560.8 67.4,560.0 68.4,559.1 69.4,558.2 70.4,557.2 71.4,556.3 72.4,555.3 73.4,554.3 74.4,553.3 75.4,552.3 76.4,551.3 77.4,550.4 78.4,549.5 79.4,548.7 80.4,547.9 81.4,547.2 82.4,546.6 83.4,546.2 84.4,545.8 85.4,545.5 86.4,545.4 87.4,545.3 88.4,545.4 89.4,545.7 90.4,546.0 91.4,546.4 92.4,547.0 93.4,547.7 94.4,548.4 95.4,549.2 96.4,550.1 97.4,551.1 98.4,552.1 99.4,553.2 100.4,554.2 101.4,555.3 102.4,556.4 103.4,557.4 104.4,558.5 105.4,559.5 106.4,560.5 107.4,561.4 108.4,562.3 109.4,563.1 110.4,563.9 111.4,564.7 112.4,565.4 113.4,566.0 114.4,566.6 115.4,567.1 116.4,567.6 117.4,568.0 118.4,568.4 119.4,568.7 120.4,569.0 121.4,569.3 122.4,569.5 123.4,569.8 124.4,569.9 125.4,570.1 126.4,570.2 127.4,570.4 128.4,570.5 129.4,570.6 130.4,570.7 131.4,570.8 132.4,570.8 133.4,570.9 134.4,570.9 135.4,571.0 L135.4,571.1 L39.4,567.6 Z" fill="#ec4cb4" fill-opacity="0.6" stroke="none"/>
<path d="M39.4,567.5 40.4,567.6 41.4,567.6 42.4,567.6 43.4,567.6 44.4,567.6 45.4,567.6 46.4,567.5 47.4,567.5 48.4,567.4 49.4,567.4 50.4,567.3 51.4,567.2 52.4,567.0 53.4,566.9 54.4,566.7 55.4,566.4 56.4,566.2 57.4,565.8 58.4,565.5 59.4,565.1 60.4,564.6 61.4,564.1 62.4,563.6 63.4,563.0 64.4,562.3 65.4,561.6 66.4,560.8 67.4,560.0 68.4,559.1 69.4,558.2 70.4,557.2 71.4,556.3 72.4,555.3 73.4,554.3 74.4,553.3 75.4,552.3 76.4,551.3 77.4,550.4 78.4,549.5 79.4,548.7 80.4,547.9 81.4,547.2 82.4,546.6 83.4,546.2 84.4,545.8 85.4,545.5 86.4,545.4 87.4,545.3 88.4,545.4 89.4,545.7 90.4,546.0 91.4,546.4 92.4,547.0 93.4,547.7 94.4,548.4 95.4,549.2 96.4,550.1 97.4,551.1 98.4,552.1 99.4,553.2 100.4,554.2 101.4,555.3 102.4,556.4 103.4,557.4 104.4,558.5 105.4,559.5 106.4,560.5 107.4,561.4 108.4,562.3 109.4,563.1 110.4,563.9 111.4,564.7 112.4,565.4 113.4,566.0 114.4,566.6 115.4,567.1 116.4,567.6 117.4,568.0 118.4,568.4 119.4,568.7 120.4,569.0 121.4,569.3 122.4,569.5 123.4,569.8 124.4,569.9 125.4,570.1 126.4,570.2 127.4,570.4 128.4,570.5 129.4,570.6 130.4,570.7 131.4,570.8 132.4,570.8 133.4,570.9 134.4,570.9 135.4,571.0" fill="none" stroke="#e62898" stroke-width="0.9"/>
<path d="M95.4,569.6 96.4,569.6 97.4,569.6 98.4,569.6 99.4,569.6 100.4,569.6 101.4,569.6 102.4,569.5 103.4,569.5 104.4,569.4 105.4,569.4 106.4,569.3 107.4,569.1 108.4,569.0 109.4,568.8 110.4,568.6 111.4,568.3 112.4,568.0 113.4,567.6 114.4,567.2 115.4,566.7 116.4,566.2 117.4,565.6 118.4,564.9 119.4,564.1 120.4,563.3 121.4,562.4 122.4,561.4 123.4,560.3 124.4,559.2 125.4,557.9 126.4,556.7 127.4,555.4 128.4,554.0 129.4,552.6 130.4,551.2 131.4,549.7 132.4,548.3 133.4,546.9 134.4,545.5 135.4,544.2 136.4,543.0 137.4,541.8 138.4,540.8 139.4,539.8 140.4,539.0 141.4,538.4 142.4,537.9 143.4,537.6 144.4,537.4 145.4,537.4 146.4,537.6 147.4,538.0 148.4,538.5 149.4,539.2 150.4,540.0 151.4,541.0 152.4,542.1 153.4,543.3 154.4,544.6 155.4,546.0 156.4,547.4 157.4,548.9 158.4,550.4 159.4,551.9 160.4,553.4 161.4,554.9 162.4,556.3 163.4,557.7 164.4,559.1 165.4,560.4 166.4,561.6 167.4,562.8 168.4,563.8 169.4,564.8 170.4,565.8 171.4,566.6 172.4,567.4 173.4,568.1 174.4,568.7 175.4,569.3 176.4,569.8 177.4,570.2 178.4,570.6 179.4,571.0 180.4,571.3 181.4,571.6 182.4,571.8 183.4,572.0 184.4,572.2 185.4,572.3 186.4,572.5 187.4,572.6 188.4,572.7 189.4,572.8 190.4,572.9 191.4,572.9 192.4,573.0 193.4,573.1 194.4,573.1 L194.4,573.2 L95.4,569.6 Z" fill="#ec4cb4" fill-opacity="0.6" stroke="none"/>
<path d="M95.4,569.6 96.4,569.6 97.4,569.6 98.4,569.6 99.4,569.6 100.4,569.6 101.4,569.6 102.4,569.5 103.4,569.5 104.4,569.4 105.4,569.4 106.4,569.3 107.4,569.1 108.4,569.0 109.4,568.8 110.4,568.6 111.4,568.3 112.4,568.0 113.4,567.6 114.4,567.2 115.4,566.7 116.4,566.2 117.4,565.6 118.4,564.9 119.4,564.1 120.4,563.3 121.4,562.4 122.4,561.4 123.4,560.3 124.4,559.2 125.4,557.9 126.4,556.7 127.4,555.4 128.4,554.0 129.4,552.6 130.4,551.2 131.4,549.7 132.4,548.3 133.4,546.9 134.4,545.5 135.4,544.2 136.4,543.0 137.4,541.8 138.4,540.8 139.4,539.8 140.4,539.0 141.4,538.4 142.4,537.9 143.4,537.6 144.4,537.4 145.4,537.4 146.4,537.6 147.4,538.0 148.4,538.5 149.4,539.2 150.4,540.0 151.4,541.0 152.4,542.1 153.4,543.3 154.4,544.6 155.4,546.0 156.4,547.4 157.4,548.9 158.4,550.4 159.4,551.9 160.4,553.4 161.4,554.9 162.4,556.3 163.4,557.7 164.4,559.1 165.4,560.4 166.4,561.6 167.4,562.8 168.4,563.8 169.4,564.8 170.4,565.8 171.4,566.6 172.4,567.4 173.4,568.1 174.4,568.7 175.4,569.3 176.4,569.8 177.4,570.2 178.4,570.6 179.4,571.0 180.4,571.3 181.4,571.6 182.4,571.8 183.4,572.0 184.4,572.2 185.4,572.3 186.4,572.5 187.4,572.6 188.4,572.7 189.4,572.8 190.4,572.9 191.4,572.9 192.4,573.0 193.4,573.1 194.4,573.1" fill="none" stroke="#e62898" stroke-width="0.9"/>
<path d="M34.4,567.1 35.4,567.1 36.4,567.1 37.4,567.1 38.4,567.1 39.4,567.1 40.4,567.2 41.4,567.2 42.4,567.2 43.4,567.2 44.4,567.2 45.4,567.2 46.4,567.2 47.4,567.2 48.4,567.3 49.4,567.3 50.4,567.3 51.4,567.3 52.4,567.3 53.4,567.3 54.4,567.3 55.4,567.3 56.4,567.3 57.4,567.3 58.4,567.3 59.4,567.3 60.4,567.3 61.4,567.3 62.4,567.3 63.4,567.3 64.4,567.3 65.4,567.3 66.4,567.3 67.4,567.3 68.4,567.3 69.4,567.3 70.4,567.3 71.4,567.3 72.4,567.3 73.4,567.2 74.4,567.2 75.4,567.2 76.4,567.2 77.4,567.2 78.4,567.2 79.4,567.2 80.4,567.2 81.4,567.2 82.4,567.2 83.4,567.1 84.4,567.1 85.4,567.1 86.4,567.1 87.4,567.1 88.4,567.1 89.4,567.1 90.4,567.1 91.4,567.1 92.4,567.1 93.4,567.0 94.4,567.0 95.4,567.0 96.4,567.0 97.4,567.0 98.4,567.0 99.4,567.0 100.4,567.0 101.4,567.0 102.4,567.0 103.4,567.0 104.4,567.0 105.4,567.0 106.4,567.0 107.4,567.0 108.4,567.0 109.4,567.0 110.4,567.0 111.4,567.0 112.4,567.0 113.4,567.0 114.4,567.0 115.4,567.0 116.4,567.0 117.4,567.1 118.4,567.1 119.4,567.1 120.4,567.1 121.4,567.1 122.4,567.2 123.4,567.2 124.4,567.2 125.4,567.2 126.4,567.3 127.4,567.3 128.4,567.3 129.4,567.4 130.4,567.4 131.4,567.4 132.4,567.5 133.4,567.5 134.4,567.5 135.4,567.6 136.4,567.6 137.4,567.7 138.4,567.7 139.4,567.8 140.4,567.8 141.4,567.9 142.4,568.0 143.4,568.0 144.4,568.1 145.4,568.1 146.4,568.2 147.4,568.3 148.4,568.3 149.4,568.4 150.4,568.5 151.4,568.5 152.4,568.6 153.4,568.7 154.4,568.7 155.4,568.8 156.4,568.9 157.4,569.0 158.4,569.0 159.4,569.1 160.4,569.2 161.4,569.3 162.4,569.3 163.4,569.4 164.4,569.5 165.4,569.6 166.4,569.7 167.4,569.7 168.4,569.8 169.4,569.9 170.4,570.0 171.4,570.1 172.4,570.2 173.4,570.2 174.4,570.3 175.4,570.4 176.4,570.5 177.4,570.6 178.4,570.7 179.4,570.7 180.4,570.8 181.4,570.9 182.4,571.0 183.4,571.1 184.4,571.1 185.4,571.2 186.4,571.3 187.4,571.4 188.4,571.5 189.4,571.6 190.4,571.6 191.4,571.7 192.4,571.8 193.4,571.9 194.4,571.9 195.4,572.0 196.4,572.1 197.4,572.2 198.4,572.2 199.4,572.3 200.4,572.4 201.4,572.5 202.4,572.5 203.4,572.6 204.4,572.7 205.4,572.7 206.4,572.8 207.4,572.9 208.4,572.9 209.4,573.0 210.4,573.1 211.4,573.1 212.4,573.2 213.4,573.3 214.4,573.3 215.4,573.4 216.4,573.4 217.4,573.5 218.4,573.6 219.4,573.6 220.4,573.7 221.4,573.7 222.4,573.8 223.4,573.8 224.4,573.9 225.4,573.9 226.4,574.0 227.4,574.0 228.4,574.1 229.4,574.2 230.4,574.2 231.4,574.3 232.4,574.3 233.4,574.4 234.4,574.4 235.4,574.4 236.4,574.5 237.4,574.5 238.4,574.6 239.4,574.6 240.4,574.7 241.4,574.7 242.4,574.8 243.4,574.8 244.4,574.9 245.4,574.9 246.4,574.9 247.4,575.0 248.4,575.0 249.4,575.1 250.4,575.1 251.4,575.2 252.4,575.2 253.4,575.2 254.4,575.3 L254.4,575.4 L34.4,567.4 Z" fill="#b4f080" fill-opacity="0.5" stroke="none"/>
<path d="M34.4,567.1 35.4,567.1 36.4,567.1 37.4,567.1 38.4,567.1 39.4,567.1 40.4,567.2 41.4,567.2 42.4,567.2 43.4,567.2 44.4,567.2 45.4,567.2 46.4,567.2 47.4,567.2 48.4,567.3 49.4,567.3 50.4,567.3 51.4,567.3 52.4,567.3 53.4,567.3 54.4,567.3 55.4,567.3 56.4,567.3 57.4,567.3 58.4,567.3 59.4,567.3 60.4,567.3 61.4,567.3 62.4,567.3 63.4,567.3 64.4,567.3 65.4,567.3 66.4,567.3 67.4,567.3 68.4,567.3 69.4,567.3 70.4,567.3 71.4,567.3 72.4,567.3 73.4,567.2 74.4,567.2 75.4,567.2 76.4,567.2 77.4,567.2 78.4,567.2 79.4,567.2 80.4,567.2 81.4,567.2 82.4,567.2 83.4,567.1 84.4,567.1 85.4,567.1 86.4,567.1 87.4,567.1 88.4,567.1 89.4,567.1 90.4,567.1 91.4,567.1 92.4,567.1 93.4,567.0 94.4,567.0 95.4,567.0 96.4,567.0 97.4,567.0 98.4,567.0 99.4,567.0 100.4,567.0 101.4,567.0 102.4,567.0 103.4,567.0 104.4,567.0 105.4,567.0 106.4,567.0 107.4,567.0 108.4,567.0 109.4,567.0 110.4,567.0 111.4,567.0 112.4,567.0 113.4,567.0 114.4,567.0 115.4,567.0 116.4,567.0 117.4,567.1 118.4,567.1 119.4,567.1 120.4,567.1 121.4,567.1 122.4,567.2 123.4,567.2 124.4,567.2 125.4,567.2 126.4,567.3 127.4,567.3 128.4,567.3 129.4,567.4 130.4,567.4 131.4,567.4 132.4,567.5 133.4,567.5 134.4,567.5 135.4,567.6 136.4,567.6 137.4,567.7 138.4,567.7 139.4,567.8 140.4,567.8 141.4,567.9 142.4,568.0 143.4,568.0 144.4,568.1 145.4,568.1 146.4,568.2 147.4,568.3 148.4,568.3 149.4,568.4 150.4,568.5 151.4,568.5 152.4,568.6 153.4,568.7 154.4,568.7 155.4,568.8 156.4,568.9 157.4,569.0 158.4,569.0 159.4,569.1 160.4,569.2 161.4,569.3 162.4,569.3 163.4,569.4 164.4,569.5 165.4,569.6 166.4,569.7 167.4,569.7 168.4,569.8 169.4,569.9 170.4,570.0 171.4,570.1 172.4,570.2 173.4,570.2 174.4,570.3 175.4,570.4 176.4,570.5 177.4,570.6 178.4,570.7 179.4,570.7 180.4,570.8 181.4,570.9 182.4,571.0 183.4,571.1 184.4,571.1 185.4,571.2 186.4,571.3 187.4,571.4 188.4,571.5 189.4,571.6 190.4,571.6 191.4,571.7 192.4,571.8 193.4,571.9 194.4,571.9 195.4,572.0 196.4,572.1 197.4,572.2 198.4,572.2 199.4,572.3 200.4,572.4 201.4,572.5 202.4,572.5 203.4,572.6 204.4,572.7 205.4,572.7 206.4,572.8 207.4,572.9 208.4,572.9 209.4,573.0 210.4,573.1 211.4,573.1 212.4,573.2 213.4,573.3 214.4,573.3 215.4,573.4 216.4,573.4 217.4,573.5 218.4,573.6 219.4,573.6 220.4,573.7 221.4,573.7 222.4,573.8 223.4,573.8 224.4,573.9 225.4,573.9 226.4,574.0 227.4,574.0 228.4,574.1 229.4,574.2 230.4,574.2 231.4,574.3 232.4,574.3 233.4,574.4 234.4,574.4 235.4,574.4 236.4,574.5 237.4,574.5 238.4,574.6 239.4,574.6 240.4,574.7 241.4,574.7 242.4,574.8 243.4,574.8 244.4,574.9 245.4,574.9 246.4,574.9 247.4,575.0 248.4,575.0 249.4,575.1 250.4,575.1 251.4,575.2 252.4,575.2 253.4,575.2 254.4,575.3" fill="none" stroke="#70d040" stroke-width="0.9"/>
<path d="M79.4,569.0 80.4,569.0 81.4,569.0 82.4,569.0 83.4,569.0 84.4,569.1 85.4,569.1 86.4,569.1 87.4,569.1 88.4,569.1 89.4,569.1 90.4,569.1 91.4,569.1 92.4,569.1 93.4,569.1 94.4,569.0 95.4,569.0 96.4,569.0 97.4,569.0 98.4,568.9 99.4,568.9 100.4,568.9 101.4,568.8 102.4,568.8 103.4,568.7 104.4,568.7 105.4,568.7 106.4,568.6 107.4,568.6 108.4,568.6 109.4,568.5 110.4,568.5 111.4,568.5 112.4,568.5 113.4,568.4 114.4,568.4 115.4,568.4 116.4,568.4 117.4,568.4 118.4,568.5 119.4,568.5 120.4,568.5 121.4,568.6 122.4,568.6 123.4,568.7 124.4,568.7 125.4,568.8 126.4,568.9 127.4,569.0 128.4,569.1 129.4,569.2 130.4,569.3 131.4,569.4 132.4,569.5 133.4,569.6 134.4,569.7 135.4,569.8 136.4,569.9 137.4,570.0 138.4,570.1 139.4,570.3 140.4,570.4 141.4,570.5 142.4,570.6 143.4,570.7 144.4,570.8 145.4,570.9 146.4,571.0 147.4,571.0 148.4,571.1 149.4,571.2 150.4,571.3 151.4,571.4 152.4,571.4 153.4,571.5 154.4,571.6 155.4,571.6 156.4,571.7 157.4,571.7 158.4,571.8 159.4,571.8 160.4,571.9 161.4,571.9 L161.4,572.0 L79.4,569.1 Z" fill="#f6b080" fill-opacity="0.45" stroke="none"/>
<path d="M79.4,569.0 80.4,569.0 81.4,569.0 82.4,569.0 83.4,569.0 84.4,569.1 85.4,569.1 86.4,569.1 87.4,569.1 88.4,569.1 89.4,569.1 90.4,569.1 91.4,569.1 92.4,569.1 93.4,569.1 94.4,569.0 95.4,569.0 96.4,569.0 97.4,569.0 98.4,568.9 99.4,568.9 100.4,568.9 101.4,568.8 102.4,568.8 103.4,568.7 104.4,568.7 105.4,568.7 106.4,568.6 107.4,568.6 108.4,568.6 109.4,568.5 110.4,568.5 111.4,568.5 112.4,568.5 113.4,568.4 114.4,568.4 115.4,568.4 116.4,568.4 117.4,568.4 118.4,568.5 119.4,568.5 120.4,568.5 121.4,568.6 122.4,568.6 123.4,568.7 124.4,568.7 125.4,568.8 126.4,568.9 127.4,569.0 128.4,569.1 129.4,569.2 130.4,569.3 131.4,569.4 132.4,569.5 133.4,569.6 134.4,569.7 135.4,569.8 136.4,569.9 137.4,570.0 138.4,570.1 139.4,570.3 140.4,570.4 141.4,570.5 142.4,570.6 143.4,570.7 144.4,570.8 145.4,570.9 146.4,571.0 147.4,571.0 148.4,571.1 149.4,571.2 150.4,571.3 151.4,571.4 152.4,571.4 153.4,571.5 154.4,571.6 155.4,571.6 156.4,571.7 157.4,571.7 158.4,571.8 159.4,571.8 160.4,571.9 161.4,571.9" fill="none" stroke="#f08850" stroke-width="0.9"/>
<path d="M71.4,568.7 72.4,568.7 73.4,568.7 74.4,568.7 75.4,568.8 76.4,568.8 77.4,568.8 78.4,568.8 79.4,568.8 80.4,568.8 81.4,568.8 82.4,568.8 83.4,568.8 84.4,568.7 85.4,568.7 86.4,568.7 87.4,568.6 88.4,568.6 89.4,568.5 90.4,568.5 91.4,568.4 92.4,568.3 93.4,568.2 94.4,568.1 95.4,568.0 96.4,567.9 97.4,567.8 98.4,567.7 99.4,567.5 100.4,567.4 101.4,567.2 102.4,567.1 103.4,566.9 104.4,566.8 105.4,566.6 106.4,566.4 107.4,566.3 108.4,566.1 109.4,565.9 110.4,565.8 111.4,565.6 112.4,565.5 113.4,565.3 114.4,565.2 115.4,565.1 116.4,565.0 117.4,564.9 118.4,564.8 119.4,564.7 120.4,564.7 121.4,564.7 122.4,564.6 123.4,564.7 124.4,564.7 125.4,564.7 126.4,564.8 127.4,564.9 128.4,564.9 129.4,565.1 130.4,565.2 131.4,565.3 132.4,565.5 133.4,565.7 134.4,565.9 135.4,566.1 136.4,566.3 137.4,566.5 138.4,566.7 139.4,566.9 140.4,567.2 141.4,567.4 142.4,567.6 143.4,567.9 144.4,568.1 145.4,568.4 146.4,568.6 147.4,568.8 148.4,569.0 149.4,569.3 150.4,569.5 151.4,569.7 152.4,569.9 153.4,570.0 154.4,570.2 155.4,570.4 156.4,570.6 157.4,570.7 158.4,570.9 159.4,571.0 160.4,571.1 161.4,571.3 162.4,571.4 163.4,571.5 164.4,571.6 165.4,571.7 166.4,571.8 167.4,571.9 168.4,571.9 169.4,572.0 170.4,572.1 171.4,572.2 172.4,572.2 173.4,572.3 174.4,572.3 175.4,572.4 176.4,572.5 177.4,572.5 178.4,572.6 L178.4,572.6 L71.4,568.8 Z" fill="#a8ec70" fill-opacity="0.55" stroke="none"/>
<path d="M71.4,568.7 72.4,568.7 73.4,568.7 74.4,568.7 75.4,568.8 76.4,568.8 77.4,568.8 78.4,568.8 79.4,568.8 80.4,568.8 81.4,568.8 82.4,568.8 83.4,568.8 84.4,568.7 85.4,568.7 86.4,568.7 87.4,568.6 88.4,568.6 89.4,568.5 90.4,568.5 91.4,568.4 92.4,568.3 93.4,568.2 94.4,568.1 95.4,568.0 96.4,567.9 97.4,567.8 98.4,567.7 99.4,567.5 100.4,567.4 101.4,567.2 102.4,567.1 103.4,566.9 104.4,566.8 105.4,566.6 106.4,566.4 107.4,566.3 108.4,566.1 109.4,565.9 110.4,565.8 111.4,565.6 112.4,565.5 113.4,565.3 114.4,565.2 115.4,565.1 116.4,565.0 117.4,564.9 118.4,564.8 119.4,564.7 120.4,564.7 121.4,564.7 122.4,564.6 123.4,564.7 124.4,564.7 125.4,564.7 126.4,564.8 127.4,564.9 128.4,564.9 129.4,565.1 130.4,565.2 131.4,565.3 132.4,565.5 133.4,565.7 134.4,565.9 135.4,566.1 136.4,566.3 137.4,566.5 138.4,566.7 139.4,566.9 140.4,567.2 141.4,567.4 142.4,567.6 143.4,567.9 144.4,568.1 145.4,568.4 146.4,568.6 147.4,568.8 148.4,569.0 149.4,569.3 150.4,569.5 151.4,569.7 152.4,569.9 153.4,570.0 154.4,570.2 155.4,570.4 156.4,570.6 157.4,570.7 158.4,570.9 159.4,571.0 160.4,571.1 161.4,571.3 162.4,571.4 163.4,571.5 164.4,571.6 165.4,571.7 166.4,571.8 167.4,571.9 168.4,571.9 169.4,572.0 170.4,572.1 171.4,572.2 172.4,572.2 173.4,572.3 174.4,572.3 175.4,572.4 176.4,572.5 177.4,572.5 178.4,572.6" fill="none" stroke="#60cc38" stroke-width="0.9"/>
<path d="M155.4,571.7 156.4,571.7 157.4,571.8 158.4,571.8 159.4,571.8 160.4,571.8 161.4,571.8 162.4,571.8 163.4,571.8 164.4,571.7 165.4,571.7 166.4,571.7 167.4,571.6 168.4,571.6 169.4,571.5 170.4,571.5 171.4,571.4 172.4,571.3 173.4,571.2 174.4,571.1 175.4,571.0 176.4,570.9 177.4,570.8 178.4,570.6 179.4,570.5 180.4,570.4 181.4,570.2 182.4,570.1 183.4,570.0 184.4,569.8 185.4,569.7 186.4,569.6 187.4,569.5 188.4,569.4 189.4,569.3 190.4,569.3 191.4,569.2 192.4,569.2 193.4,569.2 194.4,569.2 195.4,569.2 196.4,569.3 197.4,569.4 198.4,569.5 199.4,569.6 200.4,569.7 201.4,569.8 202.4,570.0 203.4,570.2 204.4,570.4 205.4,570.6 206.4,570.8 207.4,571.0 208.4,571.2 209.4,571.4 210.4,571.6 211.4,571.8 212.4,572.0 213.4,572.2 214.4,572.4 215.4,572.6 216.4,572.7 217.4,572.9 218.4,573.1 219.4,573.2 220.4,573.4 221.4,573.5 222.4,573.6 223.4,573.7 224.4,573.8 225.4,573.9 226.4,574.0 227.4,574.1 228.4,574.2 229.4,574.3 230.4,574.3 231.4,574.4 232.4,574.5 233.4,574.5 234.4,574.6 L234.4,574.6 L155.4,571.8 Z" fill="#30c890" fill-opacity="0.45" stroke="none"/>
<path d="M155.4,571.7 156.4,571.7 157.4,571.8 158.4,571.8 159.4,571.8 160.4,571.8 161.4,571.8 162.4,571.8 163.4,571.8 164.4,571.7 165.4,571.7 166.4,571.7 167.4,571.6 168.4,571.6 169.4,571.5 170.4,571.5 171.4,571.4 172.4,571.3 173.4,571.2 174.4,571.1 175.4,571.0 176.4,570.9 177.4,570.8 178.4,570.6 179.4,570.5 180.4,570.4 181.4,570.2 182.4,570.1 183.4,570.0 184.4,569.8 185.4,569.7 186.4,569.6 187.4,569.5 188.4,569.4 189.4,569.3 190.4,569.3 191.4,569.2 192.4,569.2 193.4,569.2 194.4,569.2 195.4,569.2 196.4,569.3 197.4,569.4 198.4,569.5 199.4,569.6 200.4,569.7 201.4,569.8 202.4,570.0 203.4,570.2 204.4,570.4 205.4,570.6 206.4,570.8 207.4,571.0 208.4,571.2 209.4,571.4 210.4,571.6 211.4,571.8 212.4,572.0 213.4,572.2 214.4,572.4 215.4,572.6 216.4,572.7 217.4,572.9 218.4,573.1 219.4,573.2 220.4,573.4 221.4,573.5 222.4,573.6 223.4,573.7 224.4,573.8 225.4,573.9 226.4,574.0 227.4,574.1 228.4,574.2 229.4,574.3 230.4,574.3 231.4,574.4 232.4,574.5 233.4,574.5 234.4,574.6" fill="none" stroke="#20b080" stroke-width="0.9"/>
<path d="M133.4,570.9 134.4,570.9 135.4,571.0 136.4,571.0 137.4,571.0 138.4,571.0 139.4,571.0 140.4,571.0 141.4,571.0 142.4,571.0 143.4,571.0 144.4,571.0 145.4,571.0 146.4,570.9 147.4,570.9 148.4,570.8 149.4,570.8 150.4,570.7 151.4,570.6 152.4,570.5 153.4,570.4 154.4,570.3 155.4,570.2 156.4,570.1 157.4,569.9 158.4,569.8 159.4,569.6 160.4,569.4 161.4,569.2 162.4,569.0 163.4,568.8 164.4,568.6 165.4,568.3 166.4,568.1 167.4,567.8 168.4,567.6 169.4,567.3 170.4,567.1 171.4,566.8 172.4,566.5 173.4,566.3 174.4,566.0 175.4,565.7 176.4,565.5 177.4,565.3 178.4,565.1 179.4,564.8 180.4,564.7 181.4,564.5 182.4,564.3 183.4,564.2 184.4,564.1 185.4,564.0 186.4,564.0 187.4,564.0 188.4,564.0 189.4,564.0 190.4,564.1 191.4,564.2 192.4,564.3 193.4,564.4 194.4,564.6 195.4,564.8 196.4,565.0 197.4,565.2 198.4,565.5 199.4,565.8 200.4,566.0 201.4,566.3 202.4,566.7 203.4,567.0 204.4,567.3 205.4,567.6 206.4,568.0 207.4,568.3 208.4,568.7 209.4,569.0 210.4,569.3 211.4,569.7 212.4,570.0 213.4,570.3 214.4,570.6 215.4,570.9 216.4,571.2 217.4,571.4 218.4,571.7 219.4,571.9 220.4,572.2 221.4,572.4 222.4,572.6 223.4,572.8 224.4,573.0 225.4,573.1 226.4,573.3 227.4,573.5 228.4,573.6 229.4,573.7 230.4,573.9 231.4,574.0 232.4,574.1 233.4,574.2 234.4,574.3 235.4,574.3 236.4,574.4 237.4,574.5 238.4,574.6 239.4,574.6 240.4,574.7 241.4,574.8 242.4,574.8 243.4,574.9 244.4,574.9 L244.4,575.0 L133.4,571.0 Z" fill="#a8ec70" fill-opacity="0.55" stroke="none"/>
<path d="M133.4,570.9 134.4,570.9 135.4,571.0 136.4,571.0 137.4,571.0 138.4,571.0 139.4,571.0 140.4,571.0 141.4,571.0 142.4,571.0 143.4,571.0 144.4,571.0 145.4,571.0 146.4,570.9 147.4,570.9 148.4,570.8 149.4,570.8 150.4,570.7 151.4,570.6 152.4,570.5 153.4,570.4 154.4,570.3 155.4,570.2 156.4,570.1 157.4,569.9 158.4,569.8 159.4,569.6 160.4,569.4 161.4,569.2 162.4,569.0 163.4,568.8 164.4,568.6 165.4,568.3 166.4,568.1 167.4,567.8 168.4,567.6 169.4,567.3 170.4,567.1 171.4,566.8 172.4,566.5 173.4,566.3 174.4,566.0 175.4,565.7 176.4,565.5 177.4,565.3 178.4,565.1 179.4,564.8 180.4,564.7 181.4,564.5 182.4,564.3 183.4,564.2 184.4,564.1 185.4,564.0 186.4,564.0 187.4,564.0 188.4,564.0 189.4,564.0 190.4,564.1 191.4,564.2 192.4,564.3 193.4,564.4 194.4,564.6 195.4,564.8 196.4,565.0 197.4,565.2 198.4,565.5 199.4,565.8 200.4,566.0 201.4,566.3 202.4,566.7 203.4,567.0 204.4,567.3 205.4,567.6 206.4,568.0 207.4,568.3 208.4,568.7 209.4,569.0 210.4,569.3 211.4,569.7 212.4,570.0 213.4,570.3 214.4,570.6 215.4,570.9 216.4,571.2 217.4,571.4 218.4,571.7 219.4,571.9 220.4,572.2 221.4,572.4 222.4,572.6 223.4,572.8 224.4,573.0 225.4,573.1 226.4,573.3 227.4,573.5 228.4,573.6 229.4,573.7 230.4,573.9 231.4,574.0 232.4,574.1 233.4,574.2 234.4,574.3 235.4,574.3 236.4,574.4 237.4,574.5 238.4,574.6 239.4,574.6 240.4,574.7 241.4,574.8 242.4,574.8 243.4,574.9 244.4,574.9" fill="none" stroke="#60cc38" stroke-width="0.9"/>
<path d="M128.4,570.4 129.4,570.1 130.4,569.8 131.4,569.3 132.4,568.6 133.4,567.8 134.4,566.6 135.4,565.2 136.4,563.6 137.4,561.7 138.4,559.7 139.4,557.6 140.4,555.6 141.4,553.7 142.4,552.2 143.4,551.1 144.4,550.5 145.4,550.5 146.4,551.0 147.4,552.1 148.4,553.7 149.4,555.5 150.4,557.6 151.4,559.8 152.4,561.9 153.4,563.8 154.4,565.6 155.4,567.1 156.4,568.4 157.4,569.4 158.4,570.2 159.4,570.8 160.4,571.2 161.4,571.5 162.4,571.7" fill="none" stroke="#58c4f4" stroke-width="0.9" stroke-linejoin="round" opacity="1"/>
<path d="M185.4,572.5 186.4,572.3 187.4,572.0 188.4,571.6 189.4,571.0 190.4,570.1 191.4,569.1 192.4,567.7 193.4,566.0 194.4,564.0 195.4,561.7 196.4,559.2 197.4,556.6 198.4,553.9 199.4,551.4 200.4,549.2 201.4,547.4 202.4,546.2 203.4,545.6 204.4,545.7 205.4,546.5 206.4,547.9 207.4,549.9 208.4,552.3 209.4,554.9 210.4,557.6 211.4,560.3 212.4,562.8 213.4,565.1 214.4,567.1 215.4,568.8 216.4,570.2 217.4,571.3 218.4,572.2 219.4,572.8 220.4,573.3 221.4,573.6 222.4,573.8" fill="none" stroke="#58c4f4" stroke-width="0.9" stroke-linejoin="round" opacity="1"/>
<path d="M34.4,568.0 35.4,568.1 36.4,568.1 37.4,568.1 38.4,568.2 39.4,568.2 40.4,568.2 41.4,568.3 42.4,568.3 43.4,568.4 44.4,568.4 45.4,568.4 46.4,568.5 47.4,568.5 48.4,568.5 49.4,568.6 50.4,568.6 51.4,568.6 52.4,568.7 53.4,568.7 54.4,568.7 55.4,568.8 56.4,568.8 57.4,568.9 58.4,568.9 59.4,568.9 60.4,569.0 61.4,569.0 62.4,569.0 63.4,569.1 64.4,569.1 65.4,569.1 66.4,569.2 67.4,569.2 68.4,569.3 69.4,569.3 70.4,569.3 71.4,569.4 72.4,569.4 73.4,569.4 74.4,569.5 75.4,569.5 76.4,569.5 77.4,569.6 78.4,569.6 79.4,569.7 80.4,569.7 81.4,569.7 82.4,569.8 83.4,569.8 84.4,569.8 85.4,569.9 86.4,569.9 87.4,569.9 88.4,570.0 89.4,570.0 90.4,570.0 91.4,570.1 92.4,570.1 93.4,570.2 94.4,570.2 95.4,570.2 96.4,570.3 97.4,570.3 98.4,570.3 99.4,570.4 100.4,570.4 101.4,570.4 102.4,570.5 103.4,570.5 104.4,570.6 105.4,570.6 106.4,570.6 107.4,570.7 108.4,570.7 109.4,570.7 110.4,570.8 111.4,570.8 112.4,570.8 113.4,570.9 114.4,570.9 115.4,570.9 116.4,571.0 117.4,571.0 118.4,571.1 119.4,571.1 120.4,571.1 121.4,571.2 122.4,571.2 123.4,571.2 124.4,571.3 125.4,571.3 126.4,571.3 127.4,571.4 128.4,571.4 129.4,571.5 130.4,571.5 131.4,571.5 132.4,571.6 133.4,571.6 134.4,571.6 135.4,571.7 136.4,571.7 137.4,571.7 138.4,571.8 139.4,571.8 140.4,571.8 141.4,571.9 142.4,571.9 143.4,572.0 144.4,572.0 145.4,572.0 146.4,572.1 147.4,572.1 148.4,572.1 149.4,572.2 150.4,572.2 151.4,572.2 152.4,572.3 153.4,572.3 154.4,572.4 155.4,572.4 156.4,572.4 157.4,572.5 158.4,572.5 159.4,572.5 160.4,572.6 161.4,572.6 162.4,572.6 163.4,572.7 164.4,572.7 165.4,572.8 166.4,572.8 167.4,572.8 168.4,572.9 169.4,572.9 170.4,572.9 171.4,573.0 172.4,573.0 173.4,573.0 174.4,573.1 175.4,573.1 176.4,573.1 177.4,573.2 178.4,573.2 179.4,573.3 180.4,573.3 181.4,573.3 182.4,573.4 183.4,573.4 184.4,573.4 185.4,573.5 186.4,573.5 187.4,573.5 188.4,573.6 189.4,573.6 190.4,573.7 191.4,573.7 192.4,573.7 193.4,573.8 194.4,573.8 195.4,573.8 196.4,573.9 197.4,573.9 198.4,573.9 199.4,574.0 200.4,574.0 201.4,574.0 202.4,574.1 203.4,574.1 204.4,574.2 205.4,574.2 206.4,574.2 207.4,574.3 208.4,574.3 209.4,574.3 210.4,574.4 211.4,574.4 212.4,574.4 213.4,574.5 214.4,574.5 215.4,574.6 216.4,574.6 217.4,574.6 218.4,574.7 219.4,574.7 220.4,574.7 221.4,574.8 222.4,574.8 223.4,574.8 224.4,574.9 225.4,574.9 226.4,574.9 227.4,575.0 228.4,575.0 229.4,575.1 230.4,575.1 231.4,575.1 232.4,575.2 233.4,575.2 234.4,575.2 235.4,575.3 236.4,575.3 237.4,575.3 238.4,575.4 239.4,575.4 240.4,575.5 241.4,575.5 242.4,575.5 243.4,575.6 244.4,575.6 245.4,575.6 246.4,575.7 247.4,575.7 248.4,575.7 249.4,575.8 250.4,575.8 251.4,575.9 252.4,575.9 253.4,575.9 254.4,576.0 255.4,576.0 256.4,576.0 257.4,576.1 258.4,576.1 259.4,576.1 260.4,576.2 261.4,576.2 262.4,576.2 263.4,576.3 264.4,576.3 265.4,576.4 266.4,576.4 267.4,576.4 268.4,576.5 269.4,576.5 270.4,576.5" fill="none" stroke="#f09060" stroke-width="0.8" stroke-linejoin="round" opacity="1"/>
<path d="M34.4,567.1 35.4,567.2 36.4,567.2 37.4,567.2 38.4,567.3 39.4,567.3 40.4,567.3 41.4,567.4 42.4,567.4 43.4,567.5 44.4,567.5 45.4,567.5 46.4,567.6 47.4,567.6 48.4,567.6 49.4,567.7 50.4,567.7 51.4,567.7 52.4,567.8 53.4,567.8 54.4,567.8 55.4,567.9 56.4,567.9 57.4,568.0 58.4,568.0 59.4,568.0 60.4,568.1 61.4,568.1 62.4,568.1 63.4,568.2 64.4,568.2 65.4,568.2 66.4,568.3 67.4,568.3 68.4,568.4 69.4,568.4 70.4,568.4 71.4,568.5 72.4,568.5 73.4,568.5 74.4,568.6 75.4,568.6 76.4,568.6 77.4,568.7 78.4,568.7 79.4,568.8 80.4,568.8 81.4,568.8 82.4,568.9 83.4,568.9 84.4,568.9 85.4,569.0 86.4,569.0 87.4,569.0 88.4,569.1 89.4,569.1 90.4,569.1 91.4,569.2 92.4,569.2 93.4,569.3 94.4,569.3 95.4,569.3 96.4,569.4 97.4,569.4 98.4,569.4 99.4,569.5 100.4,569.5 101.4,569.5 102.4,569.6 103.4,569.6 104.4,569.7 105.4,569.7 106.4,569.7 107.4,569.8 108.4,569.8 109.4,569.8 110.4,569.9 111.4,569.9 112.4,569.9 113.4,570.0 114.4,570.0 115.4,570.0 116.4,570.1 117.4,570.1 118.4,570.2 119.4,570.2 120.4,570.2 121.4,570.3 122.4,570.3 123.4,570.3 124.4,570.4 125.4,570.4 126.4,570.4 127.4,570.5 128.4,570.5 129.4,570.6 130.4,570.6 131.4,570.6 132.4,570.7 133.4,570.7 134.4,570.7 135.4,570.8 136.4,570.8 137.4,570.8 138.4,570.9 139.4,570.9 140.4,570.9 141.4,571.0 142.4,571.0 143.4,571.1 144.4,571.1 145.4,571.1 146.4,571.2 147.4,571.2 148.4,571.2 149.4,571.3 150.4,571.3 151.4,571.3 152.4,571.4 153.4,571.4 154.4,571.5 155.4,571.5 156.4,571.5 157.4,571.6 158.4,571.6 159.4,571.6 160.4,571.7 161.4,571.7 162.4,571.7 163.4,571.8 164.4,571.8 165.4,571.9 166.4,571.9 167.4,571.9 168.4,572.0 169.4,572.0 170.4,572.0 171.4,572.1 172.4,572.1 173.4,572.1 174.4,572.2 175.4,572.2 176.4,572.2 177.4,572.3 178.4,572.3 179.4,572.4 180.4,572.4 181.4,572.4 182.4,572.5 183.4,572.5 184.4,572.5 185.4,572.6 186.4,572.6 187.4,572.6 188.4,572.7 189.4,572.7 190.4,572.8 191.4,572.8 192.4,572.8 193.4,572.9 194.4,572.9 195.4,572.9 196.4,573.0 197.4,573.0 198.4,573.0 199.4,573.1 200.4,573.1 201.4,573.1 202.4,573.2 203.4,573.2 204.4,573.3 205.4,573.3 206.4,573.3 207.4,573.4 208.4,573.4 209.4,573.4 210.4,573.5 211.4,573.5 212.4,573.5 213.4,573.6 214.4,573.6 215.4,573.7 216.4,573.7 217.4,573.7 218.4,573.8 219.4,573.8 220.4,573.8 221.4,573.9 222.4,573.9 223.4,573.9 224.4,574.0 225.4,574.0 226.4,574.0 227.4,574.1 228.4,574.1 229.4,574.2 230.4,574.2 231.4,574.2 232.4,574.3 233.4,574.3 234.4,574.3 235.4,574.4 236.4,574.4 237.4,574.4 238.4,574.5 239.4,574.5 240.4,574.6 241.4,574.6 242.4,574.6 243.4,574.7 244.4,574.7 245.4,574.7 246.4,574.8 247.4,574.8 248.4,574.8 249.4,574.9 250.4,574.9 251.4,575.0 252.4,575.0 253.4,575.0 254.4,575.1 255.4,575.1 256.4,575.1 257.4,575.2 258.4,575.2 259.4,575.2 260.4,575.3 261.4,575.3 262.4,575.3 263.4,575.4 264.4,575.4 265.4,575.5 266.4,575.5 267.4,575.5 268.4,575.6 269.4,575.6 270.4,575.6" fill="none" stroke="#70d040" stroke-width="0.9" stroke-linejoin="round" opacity="1"/>
<path d="M33.1,565.4a2.0,2.0 0 1,0 4.00,0a2.0,2.0 0 1,0 -4.00,0M34.8,565.4a2.0,2.0 0 1,0 4.00,0a2.0,2.0 0 1,0 -4.00,0M36.5,565.4a2.0,2.0 0 1,0 4.00,0a2.0,2.0 0 1,0 -4.00,0M38.2,565.4a2.0,2.0 0 1,0 4.00,0a2.0,2.0 0 1,0 -4.00,0M39.9,565.4a2.0,2.0 0 1,0 4.00,0a2.0,2.0 0 1,0 -4.00,0M41.6,565.4a2.0,2.0 0 1,0 4.00,0a2.0,2.0 0 1,0 -4.00,0M43.3,565.3a2.0,2.0 0 1,0 4.00,0a2.0,2.0 0 1,0 -4.00,0M45.0,565.2a2.0,2.0 0 1,0 4.00,0a2.0,2.0 0 1,0 -4.00,0M46.7,565.1a2.0,2.0 0 1,0 4.00,0a2.0,2.0 0 1,0 -4.00,0M48.4,564.9a2.0,2.0 0 1,0 4.00,0a2.0,2.0 0 1,0 -4.00,0M50.1,564.6a2.0,2.0 0 1,0 4.00,0a2.0,2.0 0 1,0 -4.00,0M51.8,564.3a2.0,2.0 0 1,0 4.00,0a2.0,2.0 0 1,0 -4.00,0M53.5,563.8a2.0,2.0 0 1,0 4.00,0a2.0,2.0 0 1,0 -4.00,0M55.2,563.3a2.0,2.0 0 1,0 4.00,0a2.0,2.0 0 1,0 -4.00,0M56.9,562.6a2.0,2.0 0 1,0 4.00,0a2.0,2.0 0 1,0 -4.00,0M58.6,561.8a2.0,2.0 0 1,0 4.00,0a2.0,2.0 0 1,0 -4.00,0M60.3,560.8a2.0,2.0 0 1,0 4.00,0a2.0,2.0 0 1,0 -4.00,0M62.0,559.7a2.0,2.0 0 1,0 4.00,0a2.0,2.0 0 1,0 -4.00,0M63.7,558.4a2.0,2.0 0 1,0 4.00,0a2.0,2.0 0 1,0 -4.00,0M65.4,556.9a2.0,2.0 0 1,0 4.00,0a2.0,2.0 0 1,0 -4.00,0M67.1,555.3a2.0,2.0 0 1,0 4.00,0a2.0,2.0 0 1,0 -4.00,0M68.8,553.6a2.0,2.0 0 1,0 4.00,0a2.0,2.0 0 1,0 -4.00,0M70.5,551.8a2.0,2.0 0 1,0 4.00,0a2.0,2.0 0 1,0 -4.00,0M72.2,550.0a2.0,2.0 0 1,0 4.00,0a2.0,2.0 0 1,0 -4.00,0M73.9,548.2a2.0,2.0 0 1,0 4.00,0a2.0,2.0 0 1,0 -4.00,0M75.6,546.5a2.0,2.0 0 1,0 4.00,0a2.0,2.0 0 1,0 -4.00,0M77.3,544.9a2.0,2.0 0 1,0 4.00,0a2.0,2.0 0 1,0 -4.00,0M79.0,543.5a2.0,2.0 0 1,0 4.00,0a2.0,2.0 0 1,0 -4.00,0M80.7,542.3a2.0,2.0 0 1,0 4.00,0a2.0,2.0 0 1,0 -4.00,0M82.4,541.3a2.0,2.0 0 1,0 4.00,0a2.0,2.0 0 1,0 -4.00,0M84.1,540.7a2.0,2.0 0 1,0 4.00,0a2.0,2.0 0 1,0 -4.00,0M85.8,540.4a2.0,2.0 0 1,0 4.00,0a2.0,2.0 0 1,0 -4.00,0M87.5,540.4a2.0,2.0 0 1,0 4.00,0a2.0,2.0 0 1,0 -4.00,0M89.2,540.8a2.0,2.0 0 1,0 4.00,0a2.0,2.0 0 1,0 -4.00,0M90.9,541.4a2.0,2.0 0 1,0 4.00,0a2.0,2.0 0 1,0 -4.00,0M92.6,542.2a2.0,2.0 0 1,0 4.00,0a2.0,2.0 0 1,0 -4.00,0M94.3,543.2a2.0,2.0 0 1,0 4.00,0a2.0,2.0 0 1,0 -4.00,0M96.0,544.4a2.0,2.0 0 1,0 4.00,0a2.0,2.0 0 1,0 -4.00,0M97.7,545.6a2.0,2.0 0 1,0 4.00,0a2.0,2.0 0 1,0 -4.00,0M99.4,546.8a2.0,2.0 0 1,0 4.00,0a2.0,2.0 0 1,0 -4.00,0M101.1,548.0a2.0,2.0 0 1,0 4.00,0a2.0,2.0 0 1,0 -4.00,0M102.8,549.1a2.0,2.0 0 1,0 4.00,0a2.0,2.0 0 1,0 -4.00,0M104.5,550.0a2.0,2.0 0 1,0 4.00,0a2.0,2.0 0 1,0 -4.00,0M106.2,550.8a2.0,2.0 0 1,0 4.00,0a2.0,2.0 0 1,0 -4.00,0M107.9,551.3a2.0,2.0 0 1,0 4.00,0a2.0,2.0 0 1,0 -4.00,0M109.6,551.6a2.0,2.0 0 1,0 4.00,0a2.0,2.0 0 1,0 -4.00,0M111.3,551.6a2.0,2.0 0 1,0 4.00,0a2.0,2.0 0 1,0 -4.00,0M113.0,551.3a2.0,2.0 0 1,0 4.00,0a2.0,2.0 0 1,0 -4.00,0M114.7,550.8a2.0,2.0 0 1,0 4.00,0a2.0,2.0 0 1,0 -4.00,0M116.4,550.1a2.0,2.0 0 1,0 4.00,0a2.0,2.0 0 1,0 -4.00,0M118.1,549.0a2.0,2.0 0 1,0 4.00,0a2.0,2.0 0 1,0 -4.00,0M119.8,547.7a2.0,2.0 0 1,0 4.00,0a2.0,2.0 0 1,0 -4.00,0M121.5,546.2a2.0,2.0 0 1,0 4.00,0a2.0,2.0 0 1,0 -4.00,0M123.2,544.4a2.0,2.0 0 1,0 4.00,0a2.0,2.0 0 1,0 -4.00,0M124.9,542.4a2.0,2.0 0 1,0 4.00,0a2.0,2.0 0 1,0 -4.00,0M126.6,540.1a2.0,2.0 0 1,0 4.00,0a2.0,2.0 0 1,0 -4.00,0M128.3,537.4a2.0,2.0 0 1,0 4.00,0a2.0,2.0 0 1,0 -4.00,0M130.0,534.4a2.0,2.0 0 1,0 4.00,0a2.0,2.0 0 1,0 -4.00,0M131.7,530.8a2.0,2.0 0 1,0 4.00,0a2.0,2.0 0 1,0 -4.00,0M133.4,526.7a2.0,2.0 0 1,0 4.00,0a2.0,2.0 0 1,0 -4.00,0M135.1,522.1a2.0,2.0 0 1,0 4.00,0a2.0,2.0 0 1,0 -4.00,0M136.8,517.3a2.0,2.0 0 1,0 4.00,0a2.0,2.0 0 1,0 -4.00,0M138.5,512.8a2.0,2.0 0 1,0 4.00,0a2.0,2.0 0 1,0 -4.00,0M140.2,509.3a2.0,2.0 0 1,0 4.00,0a2.0,2.0 0 1,0 -4.00,0M141.9,507.4a2.0,2.0 0 1,0 4.00,0a2.0,2.0 0 1,0 -4.00,0M143.6,507.5a2.0,2.0 0 1,0 4.00,0a2.0,2.0 0 1,0 -4.00,0M145.3,509.7a2.0,2.0 0 1,0 4.00,0a2.0,2.0 0 1,0 -4.00,0M147.0,513.7a2.0,2.0 0 1,0 4.00,0a2.0,2.0 0 1,0 -4.00,0M148.7,518.7a2.0,2.0 0 1,0 4.00,0a2.0,2.0 0 1,0 -4.00,0M150.4,524.3a2.0,2.0 0 1,0 4.00,0a2.0,2.0 0 1,0 -4.00,0M152.1,529.6a2.0,2.0 0 1,0 4.00,0a2.0,2.0 0 1,0 -4.00,0M153.8,534.5a2.0,2.0 0 1,0 4.00,0a2.0,2.0 0 1,0 -4.00,0M155.5,538.7a2.0,2.0 0 1,0 4.00,0a2.0,2.0 0 1,0 -4.00,0M157.2,542.3a2.0,2.0 0 1,0 4.00,0a2.0,2.0 0 1,0 -4.00,0M158.9,545.3a2.0,2.0 0 1,0 4.00,0a2.0,2.0 0 1,0 -4.00,0M160.6,547.9a2.0,2.0 0 1,0 4.00,0a2.0,2.0 0 1,0 -4.00,0M162.3,550.1a2.0,2.0 0 1,0 4.00,0a2.0,2.0 0 1,0 -4.00,0M164.0,551.9a2.0,2.0 0 1,0 4.00,0a2.0,2.0 0 1,0 -4.00,0M165.7,553.5a2.0,2.0 0 1,0 4.00,0a2.0,2.0 0 1,0 -4.00,0M167.4,554.7a2.0,2.0 0 1,0 4.00,0a2.0,2.0 0 1,0 -4.00,0M169.1,555.7a2.0,2.0 0 1,0 4.00,0a2.0,2.0 0 1,0 -4.00,0M170.8,556.4a2.0,2.0 0 1,0 4.00,0a2.0,2.0 0 1,0 -4.00,0M172.5,556.9a2.0,2.0 0 1,0 4.00,0a2.0,2.0 0 1,0 -4.00,0M174.2,557.2a2.0,2.0 0 1,0 4.00,0a2.0,2.0 0 1,0 -4.00,0M175.9,557.3a2.0,2.0 0 1,0 4.00,0a2.0,2.0 0 1,0 -4.00,0M177.6,557.3a2.0,2.0 0 1,0 4.00,0a2.0,2.0 0 1,0 -4.00,0M179.3,557.2a2.0,2.0 0 1,0 4.00,0a2.0,2.0 0 1,0 -4.00,0M181.0,557.0a2.0,2.0 0 1,0 4.00,0a2.0,2.0 0 1,0 -4.00,0M182.7,556.8a2.0,2.0 0 1,0 4.00,0a2.0,2.0 0 1,0 -4.00,0M184.4,556.3a2.0,2.0 0 1,0 4.00,0a2.0,2.0 0 1,0 -4.00,0M186.1,555.6a2.0,2.0 0 1,0 4.00,0a2.0,2.0 0 1,0 -4.00,0M187.8,554.6a2.0,2.0 0 1,0 4.00,0a2.0,2.0 0 1,0 -4.00,0M189.5,552.9a2.0,2.0 0 1,0 4.00,0a2.0,2.0 0 1,0 -4.00,0M191.2,550.5a2.0,2.0 0 1,0 4.00,0a2.0,2.0 0 1,0 -4.00,0M192.9,547.3a2.0,2.0 0 1,0 4.00,0a2.0,2.0 0 1,0 -4.00,0M194.6,543.6a2.0,2.0 0 1,0 4.00,0a2.0,2.0 0 1,0 -4.00,0M196.3,539.6a2.0,2.0 0 1,0 4.00,0a2.0,2.0 0 1,0 -4.00,0M198.0,536.1a2.0,2.0 0 1,0 4.00,0a2.0,2.0 0 1,0 -4.00,0M199.7,533.8a2.0,2.0 0 1,0 4.00,0a2.0,2.0 0 1,0 -4.00,0M201.4,533.1a2.0,2.0 0 1,0 4.00,0a2.0,2.0 0 1,0 -4.00,0M203.1,534.6a2.0,2.0 0 1,0 4.00,0a2.0,2.0 0 1,0 -4.00,0M204.8,537.9a2.0,2.0 0 1,0 4.00,0a2.0,2.0 0 1,0 -4.00,0M206.5,542.5a2.0,2.0 0 1,0 4.00,0a2.0,2.0 0 1,0 -4.00,0M208.2,547.9a2.0,2.0 0 1,0 4.00,0a2.0,2.0 0 1,0 -4.00,0M209.9,553.3a2.0,2.0 0 1,0 4.00,0a2.0,2.0 0 1,0 -4.00,0M211.6,558.0a2.0,2.0 0 1,0 4.00,0a2.0,2.0 0 1,0 -4.00,0M213.3,561.9a2.0,2.0 0 1,0 4.00,0a2.0,2.0 0 1,0 -4.00,0M215.0,564.8a2.0,2.0 0 1,0 4.00,0a2.0,2.0 0 1,0 -4.00,0M216.7,566.9a2.0,2.0 0 1,0 4.00,0a2.0,2.0 0 1,0 -4.00,0M218.4,568.4a2.0,2.0 0 1,0 4.00,0a2.0,2.0 0 1,0 -4.00,0M220.1,569.4a2.0,2.0 0 1,0 4.00,0a2.0,2.0 0 1,0 -4.00,0M221.8,570.1a2.0,2.0 0 1,0 4.00,0a2.0,2.0 0 1,0 -4.00,0M223.5,570.7a2.0,2.0 0 1,0 4.00,0a2.0,2.0 0 1,0 -4.00,0M225.2,571.1a2.0,2.0 0 1,0 4.00,0a2.0,2.0 0 1,0 -4.00,0M226.9,571.5a2.0,2.0 0 1,0 4.00,0a2.0,2.0 0 1,0 -4.00,0M228.6,571.8a2.0,2.0 0 1,0 4.00,0a2.0,2.0 0 1,0 -4.00,0M230.3,572.0a2.0,2.0 0 1,0 4.00,0a2.0,2.0 0 1,0 -4.00,0M232.0,572.2a2.0,2.0 0 1,0 4.00,0a2.0,2.0 0 1,0 -4.00,0M233.7,572.4a2.0,2.0 0 1,0 4.00,0a2.0,2.0 0 1,0 -4.00,0M235.4,572.6a2.0,2.0 0 1,0 4.00,0a2.0,2.0 0 1,0 -4.00,0M237.1,572.7a2.0,2.0 0 1,0 4.00,0a2.0,2.0 0 1,0 -4.00,0M238.8,572.9a2.0,2.0 0 1,0 4.00,0a2.0,2.0 0 1,0 -4.00,0M240.5,573.0a2.0,2.0 0 1,0 4.00,0a2.0,2.0 0 1,0 -4.00,0M242.2,573.1a2.0,2.0 0 1,0 4.00,0a2.0,2.0 0 1,0 -4.00,0M243.9,573.2a2.0,2.0 0 1,0 4.00,0a2.0,2.0 0 1,0 -4.00,0M245.6,573.3a2.0,2.0 0 1,0 4.00,0a2.0,2.0 0 1,0 -4.00,0M247.3,573.4a2.0,2.0 0 1,0 4.00,0a2.0,2.0 0 1,0 -4.00,0M249.0,573.5a2.0,2.0 0 1,0 4.00,0a2.0,2.0 0 1,0 -4.00,0M250.7,573.5a2.0,2.0 0 1,0 4.00,0a2.0,2.0 0 1,0 -4.00,0M252.4,573.6a2.0,2.0 0 1,0 4.00,0a2.0,2.0 0 1,0 -4.00,0M254.1,573.7a2.0,2.0 0 1,0 4.00,0a2.0,2.0 0 1,0 -4.00,0M255.8,573.8a2.0,2.0 0 1,0 4.00,0a2.0,2.0 0 1,0 -4.00,0M257.5,573.8a2.0,2.0 0 1,0 4.00,0a2.0,2.0 0 1,0 -4.00,0M259.2,573.9a2.0,2.0 0 1,0 4.00,0a2.0,2.0 0 1,0 -4.00,0M260.9,574.0a2.0,2.0 0 1,0 4.00,0a2.0,2.0 0 1,0 -4.00,0M262.6,574.0a2.0,2.0 0 1,0 4.00,0a2.0,2.0 0 1,0 -4.00,0M264.3,574.1a2.0,2.0 0 1,0 4.00,0a2.0,2.0 0 1,0 -4.00,0M266.0,574.2a2.0,2.0 0 1,0 4.00,0a2.0,2.0 0 1,0 -4.00,0M267.7,574.2a2.0,2.0 0 1,0 4.00,0a2.0,2.0 0 1,0 -4.00,0" fill="none" stroke="#f27880" stroke-width="0.85"/>
<path d="M34.4,566.3 35.4,566.3 36.4,566.3 37.4,566.3 38.4,566.3 39.4,566.3 40.4,566.3 41.4,566.3 42.4,566.3 43.4,566.3 44.4,566.2 45.4,566.2 46.4,566.2 47.4,566.1 48.4,566.0 49.4,565.9 50.4,565.8 51.4,565.6 52.4,565.5 53.4,565.3 54.4,565.0 55.4,564.8 56.4,564.5 57.4,564.1 58.4,563.7 59.4,563.3 60.4,562.8 61.4,562.2 62.4,561.6 63.4,561.0 64.4,560.3 65.4,559.5 66.4,558.7 67.4,557.8 68.4,556.9 69.4,555.9 70.4,554.9 71.4,553.9 72.4,552.8 73.4,551.8 74.4,550.7 75.4,549.6 76.4,548.6 77.4,547.6 78.4,546.6 79.4,545.7 80.4,544.8 81.4,544.0 82.4,543.3 83.4,542.7 84.4,542.2 85.4,541.8 86.4,541.5 87.4,541.4 88.4,541.3 89.4,541.3 90.4,541.5 91.4,541.7 92.4,542.1 93.4,542.5 94.4,543.0 95.4,543.6 96.4,544.2 97.4,544.9 98.4,545.6 99.4,546.3 100.4,547.0 101.4,547.7 102.4,548.4 103.4,549.1 104.4,549.8 105.4,550.3 106.4,550.9 107.4,551.3 108.4,551.7 109.4,552.1 110.4,552.3 111.4,552.4 112.4,552.5 113.4,552.5 114.4,552.4 115.4,552.2 116.4,551.9 117.4,551.5 118.4,551.0 119.4,550.4 120.4,549.7 121.4,548.9 122.4,548.1 123.4,547.2 124.4,546.2 125.4,545.1 126.4,543.9 127.4,542.6 128.4,541.3 129.4,539.8 130.4,538.2 131.4,536.4 132.4,534.5 133.4,532.4 134.4,530.1 135.4,527.6 136.4,525.0 137.4,522.2 138.4,519.3 139.4,516.6 140.4,514.0 141.4,511.7 142.4,509.9 143.4,508.6 144.4,508.1 145.4,508.3 146.4,509.2 147.4,510.8 148.4,513.0 149.4,515.7 150.4,518.7 151.4,521.9 152.4,525.2 153.4,528.4 154.4,531.4 155.4,534.3 156.4,537.0 157.4,539.4 158.4,541.6 159.4,543.6 160.4,545.4 161.4,547.0 162.4,548.5 163.4,549.9 164.4,551.1 165.4,552.2 166.4,553.2 167.4,554.1 168.4,554.9 169.4,555.6 170.4,556.3 171.4,556.8 172.4,557.2 173.4,557.5 174.4,557.8 175.4,558.0 176.4,558.1 177.4,558.2 178.4,558.3 179.4,558.2 180.4,558.2 181.4,558.1 182.4,558.0 183.4,557.9 184.4,557.7 185.4,557.5 186.4,557.2 187.4,556.9 188.4,556.4 189.4,555.8 190.4,555.0 191.4,553.9 192.4,552.7 193.4,551.1 194.4,549.3 195.4,547.2 196.4,545.0 197.4,542.6 198.4,540.3 199.4,538.1 200.4,536.3 201.4,534.9 202.4,534.1 203.4,534.0 204.4,534.6 205.4,535.9 206.4,537.8 207.4,540.3 208.4,543.1 209.4,546.3 210.4,549.5 211.4,552.7 212.4,555.7 213.4,558.4 214.4,560.9 215.4,563.0 216.4,564.8 217.4,566.3 218.4,567.5 219.4,568.5 220.4,569.3 221.4,569.9 222.4,570.4 223.4,570.9 224.4,571.2 225.4,571.5 226.4,571.8 227.4,572.1 228.4,572.3 229.4,572.5 230.4,572.6 231.4,572.8 232.4,572.9 233.4,573.1 234.4,573.2 235.4,573.3 236.4,573.4 237.4,573.5 238.4,573.6 239.4,573.7 240.4,573.7 241.4,573.8 242.4,573.9 243.4,573.9 244.4,574.0 245.4,574.1 246.4,574.1 247.4,574.2 248.4,574.2 249.4,574.3 250.4,574.3 251.4,574.4 252.4,574.4 253.4,574.5 254.4,574.5 255.4,574.6 256.4,574.6 257.4,574.6 258.4,574.7 259.4,574.7 260.4,574.8 261.4,574.8 262.4,574.9 263.4,574.9 264.4,574.9 265.4,575.0 266.4,575.0 267.4,575.1 268.4,575.1 269.4,575.1 270.4,575.2" fill="none" stroke="#3a3a3a" stroke-width="1.0" stroke-linejoin="round" opacity="1"/>
<rect x="33.6" y="414.9" width="238.60" height="166.40" fill="none" stroke="#222" stroke-width="1.3"/>
<line x1="253.65" y1="581.30" x2="253.65" y2="582.90" stroke="#222" stroke-width="1.0" stroke-linecap="butt"/>
<line x1="235.30" y1="581.30" x2="235.30" y2="583.90" stroke="#222" stroke-width="1.0" stroke-linecap="butt"/>
<line x1="216.95" y1="581.30" x2="216.95" y2="582.90" stroke="#222" stroke-width="1.0" stroke-linecap="butt"/>
<line x1="198.60" y1="581.30" x2="198.60" y2="583.90" stroke="#222" stroke-width="1.0" stroke-linecap="butt"/>
<line x1="180.25" y1="581.30" x2="180.25" y2="582.90" stroke="#222" stroke-width="1.0" stroke-linecap="butt"/>
<line x1="161.90" y1="581.30" x2="161.90" y2="583.90" stroke="#222" stroke-width="1.0" stroke-linecap="butt"/>
<line x1="143.55" y1="581.30" x2="143.55" y2="582.90" stroke="#222" stroke-width="1.0" stroke-linecap="butt"/>
<line x1="125.20" y1="581.30" x2="125.20" y2="583.90" stroke="#222" stroke-width="1.0" stroke-linecap="butt"/>
<line x1="106.85" y1="581.30" x2="106.85" y2="582.90" stroke="#222" stroke-width="1.0" stroke-linecap="butt"/>
<line x1="88.50" y1="581.30" x2="88.50" y2="583.90" stroke="#222" stroke-width="1.0" stroke-linecap="butt"/>
<line x1="70.15" y1="581.30" x2="70.15" y2="582.90" stroke="#222" stroke-width="1.0" stroke-linecap="butt"/>
<line x1="51.80" y1="581.30" x2="51.80" y2="583.90" stroke="#222" stroke-width="1.0" stroke-linecap="butt"/>
<text x="272.00" y="591.20" font-size="9.0" text-anchor="middle" fill="#111" style="stroke-width:0.3px">226</text>
<text x="235.30" y="591.20" font-size="9.0" text-anchor="middle" fill="#111" style="stroke-width:0.3px">228</text>
<text x="198.60" y="591.20" font-size="9.0" text-anchor="middle" fill="#111" style="stroke-width:0.3px">230</text>
<text x="161.90" y="591.20" font-size="9.0" text-anchor="middle" fill="#111" style="stroke-width:0.3px">232</text>
<text x="125.20" y="591.20" font-size="9.0" text-anchor="middle" fill="#111" style="stroke-width:0.3px">234</text>
<text x="88.50" y="591.20" font-size="9.0" text-anchor="middle" fill="#111" style="stroke-width:0.3px">236</text>
<text x="51.80" y="591.20" font-size="9.0" text-anchor="middle" fill="#111" style="stroke-width:0.3px">238</text>
<text x="161.50" y="598.60" font-size="8.9" text-anchor="middle" fill="#111" style="stroke-width:0.3px">Binding energy (eV)</text>
<text x="31.60" y="501.00" font-size="8.9" text-anchor="middle" fill="#111" style="stroke-width:0.3px" transform="rotate(-90 31.60 501.00)">Intensity (a.u.)</text>
<text x="4.00" y="431.80" font-size="23" text-anchor="start" fill="#111" style="font-weight:normal;stroke:none">(e)</text>
<line x1="92.60" y1="465.90" x2="83.73" y2="434.73" stroke="#e8288e" stroke-width="1.5" stroke-linecap="butt"/>
<path d="M85.98,434.61 L81.75,435.81 L82.50,430.40 Z" fill="#e8288e"/>
<line x1="137.60" y1="461.60" x2="133.00" y2="438.91" stroke="#e8288e" stroke-width="1.5" stroke-linecap="butt"/>
<path d="M135.25,438.96 L130.94,439.84 L132.10,434.50 Z" fill="#e8288e"/>
<line x1="110.40" y1="475.40" x2="111.33" y2="460.19" stroke="#48c020" stroke-width="1.5" stroke-linecap="butt"/>
<path d="M113.49,460.82 L109.10,460.56 L111.60,455.70 Z" fill="#48c020"/>
<line x1="151.00" y1="458.60" x2="163.64" y2="435.55" stroke="#1ea4f0" stroke-width="1.5" stroke-linecap="butt"/>
<path d="M165.33,437.04 L161.47,434.93 L165.80,431.60 Z" fill="#1ea4f0"/>
<line x1="183.70" y1="473.40" x2="181.63" y2="465.46" stroke="#48c020" stroke-width="1.5" stroke-linecap="butt"/>
<path d="M183.89,465.39 L179.63,466.49 L180.50,461.10 Z" fill="#48c020"/>
<line x1="208.20" y1="458.10" x2="230.32" y2="449.27" stroke="#1ea4f0" stroke-width="1.5" stroke-linecap="butt"/>
<path d="M230.67,451.50 L229.04,447.41 L234.50,447.60 Z" fill="#1ea4f0"/>
<text x="61.90" y="425.00" font-size="8.0" text-anchor="start" fill="#111" style="stroke-width:0.18px">Mo<tspan dy="-3.2" font-size="55%">6+</tspan><tspan dy="3.2"> 3d</tspan><tspan dy="1.6" font-size="60%">3/2</tspan></text>
<text x="102.10" y="426.20" font-size="8.0" text-anchor="start" fill="#111" style="stroke-width:0.18px">Mo<tspan dy="-3.2" font-size="55%">6+</tspan><tspan dy="3.2"> 3d</tspan><tspan dy="1.6" font-size="60%">5/2</tspan></text>
<text x="93.40" y="451.00" font-size="8.0" text-anchor="start" fill="#111" style="stroke-width:0.18px">Mo<tspan dy="-3.2" font-size="55%">5+</tspan><tspan dy="3.2"> 3d</tspan><tspan dy="1.6" font-size="60%">3/2</tspan></text>
<text x="152.30" y="425.50" font-size="8.0" text-anchor="start" fill="#111" style="stroke-width:0.18px">Mo<tspan dy="-3.2" font-size="55%">4+</tspan><tspan dy="3.2"> 3d</tspan><tspan dy="1.6" font-size="60%">3/2</tspan></text>
<text x="162.10" y="448.30" font-size="8.0" text-anchor="start" fill="#111" style="stroke-width:0.18px">Mo<tspan dy="-3.2" font-size="55%">5+</tspan><tspan dy="3.2"> 3d</tspan><tspan dy="1.6" font-size="60%">5/2</tspan></text>
<text x="228.40" y="442.70" font-size="8.0" text-anchor="start" fill="#111" style="stroke-width:0.18px">Mo<tspan dy="-3.2" font-size="55%">4+</tspan><tspan dy="3.2"> 3d</tspan><tspan dy="1.6" font-size="60%">5/2</tspan></text>
<text x="244.30" y="424.30" font-size="9.2" text-anchor="start" fill="#111" style="stroke-width:0.3px">Mo 3d</text>
<text x="46.00" y="452.20" font-size="9.2" text-anchor="start" fill="#111" style="stroke-width:0.3px">Ru-Mo<tspan dy="2.0" font-size="68%">2</tspan><tspan dy="-2.0">C</tspan></text>
<text x="44.70" y="535.50" font-size="9.2" text-anchor="start" fill="#111" style="stroke-width:0.3px">Ru-Mo<tspan dy="2.0" font-size="68%">2</tspan><tspan dy="-2.0">C@CN</tspan></text>
<rect x="341.5" y="432.7" width="35.4" height="144.3" fill="#eeeeee"/>
<rect x="451.8" y="432.7" width="48.2" height="144.3" fill="#eeeeee"/>
<line x1="517.30" y1="429.60" x2="517.30" y2="572.00" stroke="#333" stroke-width="1.2" stroke-dasharray="4.4,4.4" stroke-linecap="butt"/>
<path d="M307.6,438.2 320.0,438.3 330.7,438.0 335.0,440.5 339.0,443.5 343.0,446.5 347.3,448.5 351.0,450.8 355.6,452.8 358.0,452.2 361.5,453.6 364.0,453.0 367.4,450.4 371.0,447.8 375.6,445.4 385.0,443.1 394.6,441.4 405.0,439.8 418.2,438.7 430.0,438.1 440.0,437.4 446.0,437.3 451.8,437.7 454.0,440.1 456.4,444.7 458.0,449.9 459.1,457.8 460.5,464.3 462.0,468.8 463.0,467.4 464.3,464.1 465.5,466.5 466.6,467.9 467.8,464.9 468.9,463.9 470.0,466.3 471.1,468.9 472.8,465.2 474.5,462.2 475.6,466.1 476.8,471.6 478.5,465.6 480.2,459.3 481.7,462.8 483.2,469.5 484.8,465.8 486.5,469.0 489.3,475.1 491.0,470.0 492.7,464.7 494.2,461.7 496.0,456.0 498.0,451.2 501.0,448.0 504.0,446.4 508.0,443.7 511.6,441.7 512.7,444.6 514.9,440.8 516.4,443.0 517.5,458.7 518.6,449.7 520.3,446.1 523.6,446.2 529.0,443.7 533.0,441.7 537.7,440.1" fill="none" stroke="#1a78e0" stroke-width="1.4" stroke-linejoin="round" opacity="1"/>
<path d="M307.6,482.9 320.0,482.5 330.0,482.0 335.0,483.6 339.0,486.0 343.0,488.5 347.3,491.0 351.0,493.1 354.4,495.4 358.0,495.0 361.0,496.0 364.0,494.9 367.4,493.4 371.0,490.1 375.6,488.1 385.0,485.7 394.6,484.5 410.0,482.6 430.0,481.4 440.0,480.9 448.0,481.6 454.0,482.1 456.0,487.3 457.5,493.0 459.0,499.7 460.9,509.7 462.5,508.0 464.3,506.0 465.5,508.2 466.6,510.3 467.8,507.5 468.9,506.0 470.5,507.5 472.3,509.8 474.0,507.0 475.7,507.4 476.8,510.9 478.0,515.7 479.5,507.4 480.9,501.3 482.2,506.9 483.6,511.6 485.0,508.9 485.9,509.2 487.5,513.0 489.3,519.0 491.0,512.0 492.7,506.4 495.0,500.2 497.3,495.2 499.5,491.5 501.8,490.4 506.0,487.3 510.9,486.4 511.0,486.1 512.4,488.2 513.8,486.0 515.8,484.6 516.6,490.3 517.3,502.2 518.2,494.4 519.0,489.9 520.0,489.2 528.0,487.3 537.7,485.4" fill="none" stroke="#f04848" stroke-width="1.4" stroke-linejoin="round" opacity="1"/>
<path d="M307.6,527.2 320.0,525.6 329.6,524.5 334.0,527.2 339.0,530.7 343.0,536.4 347.3,541.6 351.0,546.9 354.4,551.1 358.0,551.7 361.5,553.1 364.0,552.4 367.4,549.5 371.0,545.5 375.6,541.3 380.0,537.9 385.1,535.6 392.0,533.5 399.3,531.5 413.5,528.6 430.0,525.7 440.0,524.9 447.3,525.0 451.8,527.5 454.0,534.8 456.4,545.2 458.0,554.5 459.8,565.3 462.0,570.9 463.8,568.9 465.5,567.5 467.7,571.3 469.5,567.8 471.1,566.6 472.8,569.7 474.5,573.0 477.0,567.9 479.0,562.7 480.9,560.9 482.5,567.0 484.1,572.4 486.4,569.3 488.0,573.4 489.6,576.9 491.5,570.8 493.6,564.5 496.0,556.0 498.0,550.3 500.5,546.8 502.9,543.7 506.2,540.8 511.1,534.5 512.5,539.3 513.8,534.1 515.4,532.6 516.5,535.5 517.6,561.2 518.5,547.8 519.3,540.5 522.5,541.3 529.0,536.4 537.7,531.1" fill="none" stroke="#505050" stroke-width="1.4" stroke-linejoin="round" opacity="1"/>
<rect x="307.1" y="410.9" width="231.10" height="170.40" fill="none" stroke="#222" stroke-width="1.3"/>
<line x1="538.20" y1="581.30" x2="538.20" y2="583.90" stroke="#222" stroke-width="1.0" stroke-linecap="butt"/>
<text x="538.20" y="594.00" font-size="9.4" text-anchor="middle" fill="#111" style="stroke-width:0.3px">500</text>
<line x1="521.69" y1="581.30" x2="521.69" y2="582.90" stroke="#222" stroke-width="1.0" stroke-linecap="butt"/>
<line x1="505.19" y1="581.30" x2="505.19" y2="583.90" stroke="#222" stroke-width="1.0" stroke-linecap="butt"/>
<text x="505.19" y="594.00" font-size="9.4" text-anchor="middle" fill="#111" style="stroke-width:0.3px">1000</text>
<line x1="488.68" y1="581.30" x2="488.68" y2="582.90" stroke="#222" stroke-width="1.0" stroke-linecap="butt"/>
<line x1="472.17" y1="581.30" x2="472.17" y2="583.90" stroke="#222" stroke-width="1.0" stroke-linecap="butt"/>
<text x="472.17" y="594.00" font-size="9.4" text-anchor="middle" fill="#111" style="stroke-width:0.3px">1500</text>
<line x1="455.66" y1="581.30" x2="455.66" y2="582.90" stroke="#222" stroke-width="1.0" stroke-linecap="butt"/>
<line x1="439.16" y1="581.30" x2="439.16" y2="583.90" stroke="#222" stroke-width="1.0" stroke-linecap="butt"/>
<text x="439.16" y="594.00" font-size="9.4" text-anchor="middle" fill="#111" style="stroke-width:0.3px">2000</text>
<line x1="422.65" y1="581.30" x2="422.65" y2="582.90" stroke="#222" stroke-width="1.0" stroke-linecap="butt"/>
<line x1="406.14" y1="581.30" x2="406.14" y2="583.90" stroke="#222" stroke-width="1.0" stroke-linecap="butt"/>
<text x="406.14" y="594.00" font-size="9.4" text-anchor="middle" fill="#111" style="stroke-width:0.3px">2500</text>
<line x1="389.64" y1="581.30" x2="389.64" y2="582.90" stroke="#222" stroke-width="1.0" stroke-linecap="butt"/>
<line x1="373.13" y1="581.30" x2="373.13" y2="583.90" stroke="#222" stroke-width="1.0" stroke-linecap="butt"/>
<text x="373.13" y="594.00" font-size="9.4" text-anchor="middle" fill="#111" style="stroke-width:0.3px">3000</text>
<line x1="356.62" y1="581.30" x2="356.62" y2="582.90" stroke="#222" stroke-width="1.0" stroke-linecap="butt"/>
<line x1="340.11" y1="581.30" x2="340.11" y2="583.90" stroke="#222" stroke-width="1.0" stroke-linecap="butt"/>
<text x="340.11" y="594.00" font-size="9.4" text-anchor="middle" fill="#111" style="stroke-width:0.3px">3500</text>
<line x1="323.61" y1="581.30" x2="323.61" y2="582.90" stroke="#222" stroke-width="1.0" stroke-linecap="butt"/>
<line x1="307.10" y1="581.30" x2="307.10" y2="583.90" stroke="#222" stroke-width="1.0" stroke-linecap="butt"/>
<text x="307.10" y="594.00" font-size="9.4" text-anchor="middle" fill="#111" style="stroke-width:0.3px">4000</text>
<text x="422.70" y="604.90" font-size="9.6" text-anchor="middle" fill="#111" style="stroke-width:0.3px">Wavenumber (cm<tspan dy="-3" font-size="65%">-1</tspan><tspan dy="3"></tspan>)</text>
<text x="303.80" y="495.70" font-size="9.6" text-anchor="middle" fill="#111" style="stroke-width:0.3px" transform="rotate(-90 303.80 495.70)">Transmittance (a.u.)</text>
<text x="277.70" y="432.00" font-size="23" text-anchor="start" fill="#111" style="font-weight:normal;stroke:none">(f)</text>
<text x="355.60" y="429.30" font-size="9.6" text-anchor="start" fill="#111" style="stroke-width:0.3px">N<tspan dy="1.8" font-size="65%">x</tspan><tspan dy="-1.8"></tspan></text>
<text x="405.20" y="431.60" font-size="9.6" text-anchor="start" fill="#111" style="stroke-width:0.3px">CN</text>
<text x="459.80" y="430.30" font-size="9.6" text-anchor="start" fill="#111" style="stroke-width:0.3px">C–N=C</text>
<text x="496.10" y="422.80" font-size="9.6" text-anchor="start" fill="#111" style="stroke-width:0.3px">s-Triazine</text>
<text x="390.00" y="478.20" font-size="11" text-anchor="start" fill="#111" style="stroke-width:0.3px">Mo<tspan dy="2.4" font-size="68%">2</tspan><tspan dy="-2.4">C@CN</tspan></text>
<text x="380.50" y="519.10" font-size="11" text-anchor="start" fill="#111" style="stroke-width:0.3px">Ru-Mo<tspan dy="2.4" font-size="68%">2</tspan><tspan dy="-2.4">C@CN</tspan></text>
</svg>
</body></html>
